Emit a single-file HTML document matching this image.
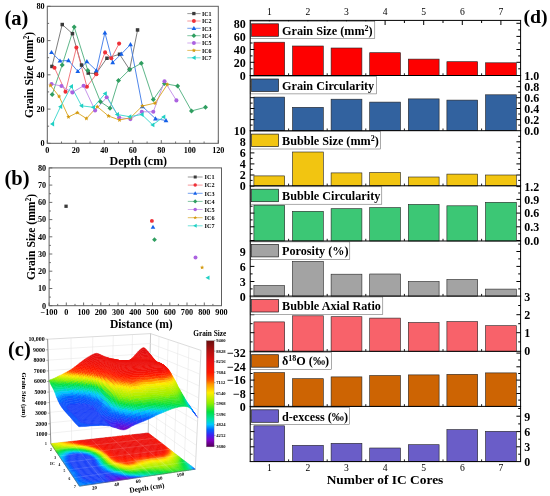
<!DOCTYPE html>
<html><head><meta charset="utf-8"><title>Figure</title>
<style>html,body{margin:0;padding:0;background:#fff}svg{display:block}text{font-family:"Liberation Serif",serif;fill:#000}</style>
</head><body>
<svg width="550" height="496" viewBox="0 0 550 496">
<rect width="550" height="496" fill="#fff"/>
<g id="pa"><rect x="47.3" y="6.3" width="171.0" height="137.0" fill="#fff" stroke="#5e5e5e" stroke-width="1"/>
<path d="M47.3 143.3v-3.2M61.5 143.3v-1.8M75.8 143.3v-3.2M90.0 143.3v-1.8M104.3 143.3v-3.2M118.5 143.3v-1.8M132.8 143.3v-3.2M147.1 143.3v-1.8M161.3 143.3v-3.2M175.6 143.3v-1.8M189.8 143.3v-3.2M204.1 143.3v-1.8M218.3 143.3v-3.2M47.3 143.3h3.2M47.3 126.2h1.8M47.3 109.1h3.2M47.3 91.9h1.8M47.3 74.8h3.2M47.3 57.7h1.8M47.3 40.6h3.2M47.3 23.4h1.8M47.3 6.3h3.2" stroke="#5e5e5e" stroke-width="0.9"/>
<text x="47.3" y="152.7" font-size="8.2" font-weight="bold" text-anchor="middle">0</text>
<text x="75.8" y="152.7" font-size="8.2" font-weight="bold" text-anchor="middle">20</text>
<text x="104.3" y="152.7" font-size="8.2" font-weight="bold" text-anchor="middle">40</text>
<text x="132.8" y="152.7" font-size="8.2" font-weight="bold" text-anchor="middle">60</text>
<text x="161.3" y="152.7" font-size="8.2" font-weight="bold" text-anchor="middle">80</text>
<text x="189.8" y="152.7" font-size="8.2" font-weight="bold" text-anchor="middle">100</text>
<text x="218.3" y="152.7" font-size="8.2" font-weight="bold" text-anchor="middle">120</text>
<text x="44.6" y="146.1" font-size="8.2" font-weight="bold" text-anchor="end">0</text>
<text x="44.6" y="111.9" font-size="8.2" font-weight="bold" text-anchor="end">20</text>
<text x="44.6" y="77.6" font-size="8.2" font-weight="bold" text-anchor="end">40</text>
<text x="44.6" y="43.4" font-size="8.2" font-weight="bold" text-anchor="end">60</text>
<text x="44.6" y="9.1" font-size="8.2" font-weight="bold" text-anchor="end">80</text>
<text x="138.3" y="165.2" font-size="12" font-weight="bold" text-anchor="middle">Depth (cm)</text>
<text transform="translate(33,75) rotate(-90)" font-size="11.6" font-weight="bold" text-anchor="middle">Grain Size (mm<tspan dy="-4" font-size="7.5">2</tspan><tspan dy="4">)</tspan></text>
<text x="4.5" y="25" font-size="20.5" font-weight="bold">(a)</text>
<polyline points="52,66.4 62.2,24.5 72.4,33.6 81.5,65.1 88.2,73.1 96.0,73.6 106.9,58.2 119.5,54.2 129.6,69.6 137.6,30" fill="none" stroke="#6e6e6e" stroke-width="0.9"/>
<polyline points="54.5,67.8 65.5,91.8 76.4,47.6 86.9,86.7 96.4,74.2 105.1,52.4 111.3,58.2 119.1,43.6" fill="none" stroke="#f06a70" stroke-width="0.9"/>
<polyline points="51.5,52.4 60,60.9 68.5,60.5 77.8,71.3 86.9,61.5 96.4,70.5 104.9,32.7 112.7,62.4 121.3,54 130.5,44.5 142.4,106.4 155.5,118.7 166,120.5" fill="none" stroke="#3b78e8" stroke-width="0.9"/>
<polyline points="52.2,94.5 62.2,64.9 74.2,26.9 87.8,70.4 100.5,101.8 110,108.2 118.5,80.5 129.6,69.6 141.3,63.3 153.3,99.6 164.5,83.6 177.6,86 191.5,110.9 205.5,107.3" fill="none" stroke="#4cae7c" stroke-width="0.9"/>
<polyline points="51.5,84 61.5,86 72.4,92.4 83.6,85.8 95.1,110.5 106.7,97.3 119.1,117.6 130.4,119.1 141.8,111.8 153.3,111.8 164.5,81.3 176.4,100.4" fill="none" stroke="#c08ae8" stroke-width="0.9"/>
<polyline points="50.5,85.5 59.1,96.4 68.5,116.9 77.3,112.7 86.4,118.5 97.3,106.7 108.5,116 119.5,120 130.4,117.8 142.4,106 155.1,103.1 167.3,84.5" fill="none" stroke="#d9a520" stroke-width="0.9"/>
<polyline points="52.4,124 60.5,106.7 71.3,86.4 81.5,105.8 93.3,107.3 105.1,93.6 117.3,114.5 129.6,116.7 141.8,114.5 152.7,124.9 163.6,116.9" fill="none" stroke="#35d6cc" stroke-width="0.9"/>
<rect x="50.2" y="64.7" width="3.5" height="3.5" fill="#3a3a3a"/>
<rect x="60.5" y="22.8" width="3.5" height="3.5" fill="#3a3a3a"/>
<rect x="70.7" y="31.9" width="3.5" height="3.5" fill="#3a3a3a"/>
<rect x="79.8" y="63.3" width="3.5" height="3.5" fill="#3a3a3a"/>
<rect x="86.5" y="71.3" width="3.5" height="3.5" fill="#3a3a3a"/>
<rect x="94.2" y="71.8" width="3.5" height="3.5" fill="#3a3a3a"/>
<rect x="105.2" y="56.5" width="3.5" height="3.5" fill="#3a3a3a"/>
<rect x="117.8" y="52.5" width="3.5" height="3.5" fill="#3a3a3a"/>
<rect x="127.8" y="67.8" width="3.5" height="3.5" fill="#3a3a3a"/>
<rect x="135.8" y="28.2" width="3.5" height="3.5" fill="#3a3a3a"/>
<circle cx="54.5" cy="67.8" r="2.05" fill="#ef3038"/>
<circle cx="65.5" cy="91.8" r="2.05" fill="#ef3038"/>
<circle cx="76.4" cy="47.6" r="2.05" fill="#ef3038"/>
<circle cx="86.9" cy="86.7" r="2.05" fill="#ef3038"/>
<circle cx="96.4" cy="74.2" r="2.05" fill="#ef3038"/>
<circle cx="105.1" cy="52.4" r="2.05" fill="#ef3038"/>
<circle cx="111.3" cy="58.2" r="2.05" fill="#ef3038"/>
<circle cx="119.1" cy="43.6" r="2.05" fill="#ef3038"/>
<path d="M51.5 50.0L53.9 54.1L49.1 54.1Z" fill="#1560e8"/>
<path d="M60.0 58.5L62.4 62.6L57.6 62.6Z" fill="#1560e8"/>
<path d="M68.5 58.1L70.9 62.2L66.1 62.2Z" fill="#1560e8"/>
<path d="M77.8 68.9L80.2 73.0L75.4 73.0Z" fill="#1560e8"/>
<path d="M86.9 59.1L89.3 63.2L84.5 63.2Z" fill="#1560e8"/>
<path d="M96.4 68.1L98.8 72.2L94.0 72.2Z" fill="#1560e8"/>
<path d="M104.9 30.3L107.3 34.5L102.5 34.5Z" fill="#1560e8"/>
<path d="M112.7 60.0L115.1 64.2L110.3 64.2Z" fill="#1560e8"/>
<path d="M121.3 51.6L123.7 55.8L118.9 55.8Z" fill="#1560e8"/>
<path d="M130.5 42.1L132.9 46.2L128.1 46.2Z" fill="#1560e8"/>
<path d="M142.4 104.0L144.8 108.2L140.0 108.2Z" fill="#1560e8"/>
<path d="M155.5 116.3L157.9 120.5L153.1 120.5Z" fill="#1560e8"/>
<path d="M166.0 118.1L168.4 122.2L163.6 122.2Z" fill="#1560e8"/>
<path d="M52.2 92.0L54.7 94.5L52.2 97.0L49.7 94.5Z" fill="#2f9e60"/>
<path d="M62.2 62.4L64.7 64.9L62.2 67.4L59.7 64.9Z" fill="#2f9e60"/>
<path d="M74.2 24.4L76.7 26.9L74.2 29.4L71.7 26.9Z" fill="#2f9e60"/>
<path d="M87.8 67.9L90.3 70.4L87.8 72.9L85.3 70.4Z" fill="#2f9e60"/>
<path d="M100.5 99.3L103.0 101.8L100.5 104.3L98.0 101.8Z" fill="#2f9e60"/>
<path d="M110.0 105.7L112.5 108.2L110.0 110.7L107.5 108.2Z" fill="#2f9e60"/>
<path d="M118.5 78.0L121.0 80.5L118.5 83.0L116.0 80.5Z" fill="#2f9e60"/>
<path d="M129.6 67.1L132.1 69.6L129.6 72.1L127.1 69.6Z" fill="#2f9e60"/>
<path d="M141.3 60.8L143.8 63.3L141.3 65.8L138.8 63.3Z" fill="#2f9e60"/>
<path d="M153.3 97.1L155.8 99.6L153.3 102.1L150.8 99.6Z" fill="#2f9e60"/>
<path d="M164.5 81.1L167.0 83.6L164.5 86.1L162.0 83.6Z" fill="#2f9e60"/>
<path d="M177.6 83.5L180.1 86.0L177.6 88.5L175.1 86.0Z" fill="#2f9e60"/>
<path d="M191.5 108.4L194.0 110.9L191.5 113.4L189.0 110.9Z" fill="#2f9e60"/>
<path d="M205.5 104.8L208.0 107.3L205.5 109.8L203.0 107.3Z" fill="#2f9e60"/>
<circle cx="51.5" cy="84.0" r="2.05" fill="#ab62e0"/>
<circle cx="61.5" cy="86.0" r="2.05" fill="#ab62e0"/>
<circle cx="72.4" cy="92.4" r="2.05" fill="#ab62e0"/>
<circle cx="83.6" cy="85.8" r="2.05" fill="#ab62e0"/>
<circle cx="95.1" cy="110.5" r="2.05" fill="#ab62e0"/>
<circle cx="106.7" cy="97.3" r="2.05" fill="#ab62e0"/>
<circle cx="119.1" cy="117.6" r="2.05" fill="#ab62e0"/>
<circle cx="130.4" cy="119.1" r="2.05" fill="#ab62e0"/>
<circle cx="141.8" cy="111.8" r="2.05" fill="#ab62e0"/>
<circle cx="153.3" cy="111.8" r="2.05" fill="#ab62e0"/>
<circle cx="164.5" cy="81.3" r="2.05" fill="#ab62e0"/>
<circle cx="176.4" cy="100.4" r="2.05" fill="#ab62e0"/>
<path d="M50.5 83.2L51.1 84.6L52.7 84.8L51.5 85.8L51.9 87.4L50.5 86.6L49.1 87.4L49.5 85.8L48.3 84.8L49.9 84.6Z" fill="#d49a10"/>
<path d="M59.1 94.1L59.7 95.5L61.3 95.7L60.1 96.7L60.5 98.3L59.1 97.5L57.7 98.3L58.1 96.7L56.9 95.7L58.5 95.5Z" fill="#d49a10"/>
<path d="M68.5 114.6L69.1 116.0L70.7 116.2L69.5 117.2L69.9 118.8L68.5 118.0L67.1 118.8L67.5 117.2L66.3 116.2L67.9 116.0Z" fill="#d49a10"/>
<path d="M77.3 110.4L77.9 111.8L79.5 112.0L78.3 113.0L78.7 114.6L77.3 113.8L75.9 114.6L76.3 113.0L75.1 112.0L76.7 111.8Z" fill="#d49a10"/>
<path d="M86.4 116.2L87.0 117.6L88.6 117.8L87.4 118.8L87.8 120.4L86.4 119.6L85.0 120.4L85.4 118.8L84.2 117.8L85.8 117.6Z" fill="#d49a10"/>
<path d="M97.3 104.4L97.9 105.8L99.5 106.0L98.3 107.0L98.7 108.6L97.3 107.8L95.9 108.6L96.3 107.0L95.1 106.0L96.7 105.8Z" fill="#d49a10"/>
<path d="M108.5 113.7L109.1 115.1L110.7 115.3L109.5 116.3L109.9 117.9L108.5 117.1L107.1 117.9L107.5 116.3L106.3 115.3L107.9 115.1Z" fill="#d49a10"/>
<path d="M119.5 117.7L120.1 119.1L121.7 119.3L120.5 120.3L120.9 121.9L119.5 121.1L118.1 121.9L118.5 120.3L117.3 119.3L118.9 119.1Z" fill="#d49a10"/>
<path d="M130.4 115.5L131.0 116.9L132.6 117.1L131.4 118.1L131.8 119.7L130.4 118.9L129.0 119.7L129.4 118.1L128.2 117.1L129.8 116.9Z" fill="#d49a10"/>
<path d="M142.4 103.7L143.0 105.1L144.6 105.3L143.4 106.3L143.8 107.9L142.4 107.1L141.0 107.9L141.4 106.3L140.2 105.3L141.8 105.1Z" fill="#d49a10"/>
<path d="M155.1 100.8L155.7 102.2L157.3 102.4L156.1 103.4L156.5 105.0L155.1 104.2L153.7 105.0L154.1 103.4L152.9 102.4L154.5 102.2Z" fill="#d49a10"/>
<path d="M167.3 82.2L167.9 83.6L169.5 83.8L168.3 84.8L168.7 86.4L167.3 85.6L165.9 86.4L166.3 84.8L165.1 83.8L166.7 83.6Z" fill="#d49a10"/>
<path d="M50.0 124.0L54.1 121.6L54.1 126.4Z" fill="#1fd0c4"/>
<path d="M58.1 106.7L62.2 104.3L62.2 109.1Z" fill="#1fd0c4"/>
<path d="M68.9 86.4L73.0 84.0L73.0 88.8Z" fill="#1fd0c4"/>
<path d="M79.1 105.8L83.2 103.4L83.2 108.2Z" fill="#1fd0c4"/>
<path d="M90.9 107.3L95.0 104.9L95.0 109.7Z" fill="#1fd0c4"/>
<path d="M102.7 93.6L106.8 91.2L106.8 96.0Z" fill="#1fd0c4"/>
<path d="M114.9 114.5L119.0 112.1L119.0 116.9Z" fill="#1fd0c4"/>
<path d="M127.2 116.7L131.3 114.3L131.3 119.1Z" fill="#1fd0c4"/>
<path d="M139.4 114.5L143.6 112.1L143.6 116.9Z" fill="#1fd0c4"/>
<path d="M150.3 124.9L154.4 122.5L154.4 127.3Z" fill="#1fd0c4"/>
<path d="M161.2 116.9L165.3 114.5L165.3 119.3Z" fill="#1fd0c4"/>
<path d="M187.3 13.6H200.6" stroke="#6e6e6e" stroke-width="0.7"/>
<rect x="192.2" y="11.9" width="3.3" height="3.3" fill="#3a3a3a"/>
<text x="201.9" y="15.8" font-size="6" font-weight="bold">IC1</text>
<path d="M187.3 21.0H200.6" stroke="#f06a70" stroke-width="0.7"/>
<circle cx="193.9" cy="21.0" r="1.95" fill="#ef3038"/>
<text x="201.9" y="23.2" font-size="6" font-weight="bold">IC2</text>
<path d="M187.3 28.3H200.6" stroke="#3b78e8" stroke-width="0.7"/>
<path d="M193.9 26.1L196.2 30.0L191.6 30.0Z" fill="#1560e8"/>
<text x="201.9" y="30.5" font-size="6" font-weight="bold">IC3</text>
<path d="M187.3 35.7H200.6" stroke="#4cae7c" stroke-width="0.7"/>
<path d="M193.9 33.3L196.3 35.7L193.9 38.1L191.5 35.7Z" fill="#2f9e60"/>
<text x="201.9" y="37.9" font-size="6" font-weight="bold">IC4</text>
<path d="M187.3 43.0H200.6" stroke="#c08ae8" stroke-width="0.7"/>
<circle cx="193.9" cy="43.0" r="1.95" fill="#ab62e0"/>
<text x="201.9" y="45.2" font-size="6" font-weight="bold">IC5</text>
<path d="M187.3 50.4H200.6" stroke="#d9a520" stroke-width="0.7"/>
<path d="M193.9 48.2L194.5 49.6L196.0 49.7L194.9 50.7L195.2 52.2L193.9 51.4L192.6 52.2L192.9 50.7L191.8 49.7L193.3 49.6Z" fill="#d49a10"/>
<text x="201.9" y="52.6" font-size="6" font-weight="bold">IC6</text>
<path d="M187.3 57.8H200.6" stroke="#35d6cc" stroke-width="0.7"/>
<path d="M191.6 57.8L195.6 55.5L195.6 60.0Z" fill="#1fd0c4"/>
<text x="201.9" y="60.0" font-size="6" font-weight="bold">IC7</text></g>
<g id="pb"><rect x="49.1" y="167.9" width="172.4" height="137.8" fill="#fff" stroke="#5e5e5e" stroke-width="1"/>
<path d="M49.1 305.7v-3.2M57.7 305.7v-1.8M66.3 305.7v-3.2M75.0 305.7v-1.8M83.6 305.7v-3.2M92.2 305.7v-1.8M100.8 305.7v-3.2M109.4 305.7v-1.8M118.1 305.7v-3.2M126.7 305.7v-1.8M135.3 305.7v-3.2M143.9 305.7v-1.8M152.5 305.7v-3.2M161.2 305.7v-1.8M169.8 305.7v-3.2M178.4 305.7v-1.8M187.0 305.7v-3.2M195.6 305.7v-1.8M204.3 305.7v-3.2M212.9 305.7v-1.8M221.5 305.7v-3.2M49.1 305.7h3.2M49.1 297.1h1.8M49.1 288.5h3.2M49.1 279.9h1.8M49.1 271.2h3.2M49.1 262.6h1.8M49.1 254.0h3.2M49.1 245.4h1.8M49.1 236.8h3.2M49.1 228.2h1.8M49.1 219.6h3.2M49.1 211.0h1.8M49.1 202.4h3.2M49.1 193.7h1.8M49.1 185.1h3.2M49.1 176.5h1.8M49.1 167.9h3.2" stroke="#5e5e5e" stroke-width="0.9"/>
<text x="49.1" y="315.3" font-size="8.2" font-weight="bold" text-anchor="middle">−100</text>
<text x="66.3" y="315.3" font-size="8.2" font-weight="bold" text-anchor="middle">0</text>
<text x="83.6" y="315.3" font-size="8.2" font-weight="bold" text-anchor="middle">100</text>
<text x="100.8" y="315.3" font-size="8.2" font-weight="bold" text-anchor="middle">200</text>
<text x="118.1" y="315.3" font-size="8.2" font-weight="bold" text-anchor="middle">300</text>
<text x="135.3" y="315.3" font-size="8.2" font-weight="bold" text-anchor="middle">400</text>
<text x="152.5" y="315.3" font-size="8.2" font-weight="bold" text-anchor="middle">500</text>
<text x="169.8" y="315.3" font-size="8.2" font-weight="bold" text-anchor="middle">600</text>
<text x="187.0" y="315.3" font-size="8.2" font-weight="bold" text-anchor="middle">700</text>
<text x="204.3" y="315.3" font-size="8.2" font-weight="bold" text-anchor="middle">800</text>
<text x="221.5" y="315.3" font-size="8.2" font-weight="bold" text-anchor="middle">900</text>
<text x="46.2" y="308.5" font-size="8.2" font-weight="bold" text-anchor="end">0</text>
<text x="46.2" y="291.3" font-size="8.2" font-weight="bold" text-anchor="end">10</text>
<text x="46.2" y="274.1" font-size="8.2" font-weight="bold" text-anchor="end">20</text>
<text x="46.2" y="256.8" font-size="8.2" font-weight="bold" text-anchor="end">30</text>
<text x="46.2" y="239.6" font-size="8.2" font-weight="bold" text-anchor="end">40</text>
<text x="46.2" y="222.4" font-size="8.2" font-weight="bold" text-anchor="end">50</text>
<text x="46.2" y="205.2" font-size="8.2" font-weight="bold" text-anchor="end">60</text>
<text x="46.2" y="187.9" font-size="8.2" font-weight="bold" text-anchor="end">70</text>
<text x="46.2" y="170.7" font-size="8.2" font-weight="bold" text-anchor="end">80</text>
<text x="141.3" y="327.9" font-size="11.6" font-weight="bold" text-anchor="middle">Distance (m)</text>
<text transform="translate(34.5,237) rotate(-90)" font-size="11.6" font-weight="bold" text-anchor="middle">Grain Size (mm<tspan dy="-4" font-size="7.5">2</tspan><tspan dy="4">)</tspan></text>
<text x="4.5" y="184.5" font-size="20.5" font-weight="bold">(b)</text>
<rect x="64.4" y="204.6" width="3.3" height="3.3" fill="#3a3a3a"/>
<circle cx="151.9" cy="220.9" r="1.95" fill="#ef3038"/>
<path d="M153.0 224.7L155.3 228.7L150.7 228.7Z" fill="#1560e8"/>
<path d="M154.5 237.3L156.9 239.7L154.5 242.1L152.1 239.7Z" fill="#2f9e60"/>
<circle cx="195.5" cy="257.5" r="1.95" fill="#ab62e0"/>
<path d="M202.1 265.3L202.7 266.7L204.2 266.8L203.1 267.8L203.4 269.3L202.1 268.5L200.8 269.3L201.1 267.8L200.0 266.8L201.5 266.7Z" fill="#d49a10"/>
<path d="M205.5 277.8L209.5 275.5L209.5 280.1Z" fill="#1fd0c4"/>
<path d="M187.8 177.0H202.6" stroke="#6e6e6e" stroke-width="0.7"/>
<rect x="193.7" y="175.5" width="3.0" height="3.0" fill="#3a3a3a"/>
<text x="204.6" y="179.3" font-size="6.2" font-weight="bold">IC1</text>
<path d="M187.8 185.1H202.6" stroke="#f06a70" stroke-width="0.7"/>
<circle cx="195.2" cy="185.1" r="1.74" fill="#ef3038"/>
<text x="204.6" y="187.4" font-size="6.2" font-weight="bold">IC2</text>
<path d="M187.8 193.3H202.6" stroke="#3b78e8" stroke-width="0.7"/>
<path d="M195.2 191.2L197.2 194.7L193.2 194.7Z" fill="#1560e8"/>
<text x="204.6" y="195.6" font-size="6.2" font-weight="bold">IC3</text>
<path d="M187.8 201.4H202.6" stroke="#4cae7c" stroke-width="0.7"/>
<path d="M195.2 199.3L197.3 201.4L195.2 203.5L193.1 201.4Z" fill="#2f9e60"/>
<text x="204.6" y="203.7" font-size="6.2" font-weight="bold">IC4</text>
<path d="M187.8 209.5H202.6" stroke="#c08ae8" stroke-width="0.7"/>
<circle cx="195.2" cy="209.5" r="1.74" fill="#ab62e0"/>
<text x="204.6" y="211.8" font-size="6.2" font-weight="bold">IC5</text>
<path d="M187.8 217.7H202.6" stroke="#d9a520" stroke-width="0.7"/>
<path d="M195.2 215.7L195.7 216.9L197.1 217.0L196.1 217.9L196.3 219.2L195.2 218.6L194.1 219.2L194.3 217.9L193.3 217.0L194.7 216.9Z" fill="#d49a10"/>
<text x="204.6" y="220.0" font-size="6.2" font-weight="bold">IC6</text>
<path d="M187.8 225.8H202.6" stroke="#35d6cc" stroke-width="0.7"/>
<path d="M193.2 225.8L196.7 223.8L196.7 227.8Z" fill="#1fd0c4"/>
<text x="204.6" y="228.1" font-size="6.2" font-weight="bold">IC7</text></g>
<g id="pc"><style>.k0{fill:#eb110e;stroke:#eb110e}.k1{fill:#e81010;stroke:#e81010}.k2{fill:#e21010;stroke:#e21010}.k3{fill:#ee120c;stroke:#ee120c}.k4{fill:#f1130a;stroke:#f1130a}.k5{fill:#f41408;stroke:#f41408}.k6{fill:#f61506;stroke:#f61506}.k7{fill:#f91604;stroke:#f91604}.k8{fill:#fc1702;stroke:#fc1702}.k9{fill:#ff1800;stroke:#ff1800}.k10{fill:#ff2c00;stroke:#ff2c00}.k11{fill:#ff3600;stroke:#ff3600}.k12{fill:#ff4000;stroke:#ff4000}.k13{fill:#ff5900;stroke:#ff5900}.k14{fill:#ff8600;stroke:#ff8600}.k15{fill:#ff9b00;stroke:#ff9b00}.k16{fill:#ffb600;stroke:#ffb600}.k17{fill:#ffd000;stroke:#ffd000}.k18{fill:#ffde00;stroke:#ffde00}.k19{fill:#ffeb00;stroke:#ffeb00}.k20{fill:#f4ee00;stroke:#f4ee00}.k21{fill:#e6ee00;stroke:#e6ee00}.k22{fill:#d8ee00;stroke:#d8ee00}.k23{fill:#caee00;stroke:#caee00}.k24{fill:#ff2200;stroke:#ff2200}.k25{fill:#ffa800;stroke:#ffa800}.k26{fill:#bcee00;stroke:#bcee00}.k27{fill:#ff7000;stroke:#ff7000}.k28{fill:#ffc300;stroke:#ffc300}.k29{fill:#ff4a00;stroke:#ff4a00}.k30{fill:#afee00;stroke:#afee00}.k31{fill:#a1ee00;stroke:#a1ee00}.k32{fill:#93ee00;stroke:#93ee00}.k33{fill:#7eec08;stroke:#7eec08}.k34{fill:#67ea12;stroke:#67ea12}.k35{fill:#51e81c;stroke:#51e81c}.k36{fill:#3be626;stroke:#3be626}.k37{fill:#24e430;stroke:#24e430}.k38{fill:#0ee13a;stroke:#0ee13a}.k39{fill:#00e047;stroke:#00e047}.k40{fill:#00e05a;stroke:#00e05a}.k41{fill:#00e06d;stroke:#00e06d}.k42{fill:#00e07f;stroke:#00e07f}.k43{fill:#00e092;stroke:#00e092}.k44{fill:#00e0a4;stroke:#00e0a4}.k45{fill:#00dbb9;stroke:#00dbb9}.k46{fill:#00d5cf;stroke:#00d5cf}.k47{fill:#00cfe5;stroke:#00cfe5}.k48{fill:#00c9fb;stroke:#00c9fb}.k49{fill:#00b3ff;stroke:#00b3ff}.k50{fill:#0099ff;stroke:#0099ff}.k51{fill:#007fff;stroke:#007fff}.k52{fill:#0065ff;stroke:#0065ff}.k53{fill:#0d53fc;stroke:#0d53fc}.k54{fill:#1d43f8;stroke:#1d43f8}.k55{fill:#2d33f4;stroke:#2d33f4}.k56{fill:#3d23f1;stroke:#3d23f1}.k57{fill:#4d1ae6;stroke:#4d1ae6}.k58{fill:#5d12da;stroke:#5d12da}.k59{fill:#6d0ace;stroke:#6d0ace}</style>
<path d="M50.8 443.7L148.2 433.0L150.6 333.6L47.6 339.2Z M148.2 433.0L195.3 469.2L201.0 350.4L150.6 333.6Z" fill="#fff" stroke="#b8b8b8" stroke-width="0.5"/>
<path d="M50.5 433.2L148.4 423.1L195.9 457.3M50.2 422.8L148.7 413.1L196.4 445.4M49.8 412.3L148.9 403.2L197.0 433.6M49.5 401.9L149.2 393.2L197.6 421.7M49.2 391.4L149.4 383.3L198.2 409.8M48.9 381.0L149.6 373.4L198.7 397.9M48.6 370.6L149.9 363.4L199.3 386.0M48.2 360.1L150.1 353.5L199.9 374.2M47.9 349.6L150.4 343.5L200.4 362.3M71.6 441.4L71.0 337.9M91.6 439.2L92.8 336.7M111.1 437.1L113.3 335.6M129.9 435.0L132.5 334.6M156.2 439.2L159.0 336.4M164.9 445.8L168.2 339.5M174.2 453.0L178.1 342.8M184.3 460.8L189.0 346.4" fill="none" stroke="#e2e2e2" stroke-width="0.5"/>
<g stroke-width="0.45" stroke-linejoin="round">
<path class="k0" d="M146.8 433.2L148.2 433L149.1 433.7L147.7 433.8Z"/>
<path class="k1" d="M145.4 433.3L146.8 433.2L147.7 433.8L146.3 434Z"/>
<path class="k2" d="M135.4 434.4L136.9 434.2L138.3 434.1L139.7 433.9L141.1 433.8L142.6 433.6L144 433.5L145.4 433.3L146.3 434L144.8 434.1L143.4 434.3L142 434.5L140.6 434.6L139.1 434.8L137.7 434.9L136.3 435.1Z"/>
<path class="k1" d="M134 434.6L135.4 434.4L136.3 435.1L134.8 435.3Z"/>
<path class="k0" d="M132.5 434.7L134 434.6L134.8 435.3L133.4 435.4Z"/>
<path class="k3" d="M129.6 435L131.1 434.9L132.5 434.7L133.4 435.4L131.9 435.6L130.5 435.7Z"/>
<path class="k4" d="M128.2 435.2L129.6 435L130.5 435.7L129 435.9Z"/>
<path class="k5" d="M126.7 435.4L128.2 435.2L129 435.9L127.6 436.1Z"/>
<path class="k6" d="M125.3 435.5L126.7 435.4L127.6 436.1L126.1 436.2Z"/>
<path class="k7" d="M122.4 435.8L123.8 435.7L125.3 435.5L126.1 436.2L124.6 436.4L123.2 436.5Z"/>
<path class="k6" d="M119.4 436.2L120.9 436L122.4 435.8L123.2 436.5L121.7 436.7L120.2 436.9Z"/>
<path class="k5" d="M117.9 436.3L119.4 436.2L120.2 436.9L118.7 437Z"/>
<path class="k4" d="M112 437L113.5 436.8L115 436.7L116.5 436.5L117.9 436.3L118.7 437L117.2 437.2L115.7 437.4L114.3 437.5L112.8 437.7Z"/>
<path class="k3" d="M106 437.6L107.5 437.5L109 437.3L110.5 437.1L112 437L112.8 437.7L111.3 437.9L109.7 438L108.2 438.2L106.7 438.4Z"/>
<path class="k0" d="M101.5 438.1L103 438L104.5 437.8L106 437.6L106.7 438.4L105.2 438.5L103.7 438.7L102.2 438.9Z"/>
<path class="k1" d="M98.4 438.5L99.9 438.3L101.5 438.1L102.2 438.9L100.6 439L99.1 439.2Z"/>
<path class="k2" d="M90.7 439.3L92.3 439.1L93.8 439L95.3 438.8L96.9 438.6L98.4 438.5L99.1 439.2L97.6 439.4L96 439.5L94.5 439.7L93 439.9L91.4 440.1Z"/>
<path class="k1" d="M87.6 439.7L89.2 439.5L90.7 439.3L91.4 440.1L89.8 440.2L88.3 440.4Z"/>
<path class="k0" d="M84.5 440L86.1 439.8L87.6 439.7L88.3 440.4L86.7 440.6L85.2 440.7Z"/>
<path class="k3" d="M82.9 440.2L84.5 440L85.2 440.7L83.6 440.9Z"/>
<path class="k4" d="M79.8 440.5L81.4 440.3L82.9 440.2L83.6 440.9L82 441.1L80.4 441.3Z"/>
<path class="k5" d="M78.2 440.7L79.8 440.5L80.4 441.3L78.9 441.4Z"/>
<path class="k7" d="M76.6 440.9L78.2 440.7L78.9 441.4L77.3 441.6Z"/>
<path class="k8" d="M75.1 441L76.6 440.9L77.3 441.6L75.7 441.8Z"/>
<path class="k9" d="M73.5 441.2L75.1 441L75.7 441.8L74.1 442Z"/>
<path class="k10" d="M71.9 441.4L73.5 441.2L74.1 442L72.5 442.1Z"/>
<path class="k11" d="M70.3 441.6L71.9 441.4L72.5 442.1L70.9 442.3Z"/>
<path class="k12" d="M68.7 441.7L70.3 441.6L70.9 442.3L69.3 442.5Z"/>
<path class="k13" d="M67.1 441.9L68.7 441.7L69.3 442.5L67.7 442.7Z"/>
<path class="k14" d="M65.5 442.1L67.1 441.9L67.7 442.7L66.1 442.9Z"/>
<path class="k15" d="M63.9 442.3L65.5 442.1L66.1 442.9L64.4 443Z"/>
<path class="k16" d="M62.2 442.4L63.9 442.3L64.4 443L62.8 443.2Z"/>
<path class="k17" d="M60.6 442.6L62.2 442.4L62.8 443.2L61.2 443.4Z"/>
<path class="k18" d="M59 442.8L60.6 442.6L61.2 443.4L59.6 443.6Z"/>
<path class="k19" d="M57.4 443L59 442.8L59.6 443.6L57.9 443.8Z"/>
<path class="k20" d="M54.1 443.3L55.7 443.2L57.4 443L57.9 443.8L56.3 443.9L54.6 444.1Z"/>
<path class="k21" d="M52.4 443.5L54.1 443.3L54.6 444.1L53 444.3Z"/>
<path class="k22" d="M50.8 443.7L52.4 443.5L53 444.3L51.3 444.5Z"/>
<path class="k0" d="M147.7 433.8L149.1 433.7L150 434.4L148.6 434.5Z"/>
<path class="k1" d="M144.8 434.1L146.3 434L147.7 433.8L148.6 434.5L147.1 434.7L145.7 434.8Z"/>
<path class="k2" d="M136.3 435.1L137.7 434.9L139.1 434.8L140.6 434.6L142 434.5L143.4 434.3L144.8 434.1L145.7 434.8L144.3 435L142.9 435.2L141.4 435.3L140 435.5L138.6 435.6L137.1 435.8Z"/>
<path class="k1" d="M134.8 435.3L136.3 435.1L137.1 435.8L135.7 436Z"/>
<path class="k0" d="M133.4 435.4L134.8 435.3L135.7 436L134.2 436.1Z"/>
<path class="k3" d="M130.5 435.7L131.9 435.6L133.4 435.4L134.2 436.1L132.8 436.3L131.3 436.4Z"/>
<path class="k4" d="M127.6 436.1L129 435.9L130.5 435.7L131.3 436.4L129.8 436.6L128.4 436.8Z"/>
<path class="k5" d="M126.1 436.2L127.6 436.1L128.4 436.8L126.9 436.9Z"/>
<path class="k6" d="M121.7 436.7L123.2 436.5L124.6 436.4L126.1 436.2L126.9 436.9L125.4 437.1L124 437.3L122.5 437.4Z"/>
<path class="k5" d="M118.7 437L120.2 436.9L121.7 436.7L122.5 437.4L121 437.6L119.5 437.8Z"/>
<path class="k4" d="M112.8 437.7L114.3 437.5L115.7 437.4L117.2 437.2L118.7 437L119.5 437.8L118 437.9L116.5 438.1L115 438.3L113.5 438.4Z"/>
<path class="k3" d="M106.7 438.4L108.2 438.2L109.7 438L111.3 437.9L112.8 437.7L113.5 438.4L112 438.6L110.5 438.8L109 438.9L107.5 439.1Z"/>
<path class="k0" d="M100.6 439L102.2 438.9L103.7 438.7L105.2 438.5L106.7 438.4L107.5 439.1L106 439.3L104.4 439.4L102.9 439.6L101.4 439.8Z"/>
<path class="k1" d="M89.8 440.2L91.4 440.1L93 439.9L94.5 439.7L96 439.5L97.6 439.4L99.1 439.2L100.6 439L101.4 439.8L99.8 439.9L98.3 440.1L96.7 440.3L95.2 440.5L93.6 440.6L92.1 440.8L90.5 441Z"/>
<path class="k0" d="M86.7 440.6L88.3 440.4L89.8 440.2L90.5 441L89 441.1L87.4 441.3Z"/>
<path class="k3" d="M83.6 440.9L85.2 440.7L86.7 440.6L87.4 441.3L85.8 441.5L84.3 441.7Z"/>
<path class="k4" d="M82 441.1L83.6 440.9L84.3 441.7L82.7 441.8Z"/>
<path class="k5" d="M80.4 441.3L82 441.1L82.7 441.8L81.1 442Z"/>
<path class="k6" d="M78.9 441.4L80.4 441.3L81.1 442L79.5 442.2Z"/>
<path class="k8" d="M77.3 441.6L78.9 441.4L79.5 442.2L77.9 442.4Z"/>
<path class="k9" d="M75.7 441.8L77.3 441.6L77.9 442.4L76.3 442.6Z"/>
<path class="k10" d="M74.1 442L75.7 441.8L76.3 442.6L74.7 442.7Z"/>
<path class="k11" d="M72.5 442.1L74.1 442L74.7 442.7L73.1 442.9Z"/>
<path class="k12" d="M70.9 442.3L72.5 442.1L73.1 442.9L71.5 443.1Z"/>
<path class="k13" d="M69.3 442.5L70.9 442.3L71.5 443.1L69.9 443.3Z"/>
<path class="k14" d="M67.7 442.7L69.3 442.5L69.9 443.3L68.3 443.4Z"/>
<path class="k15" d="M66.1 442.9L67.7 442.7L68.3 443.4L66.6 443.6Z"/>
<path class="k16" d="M64.4 443L66.1 442.9L66.6 443.6L65 443.8Z"/>
<path class="k17" d="M62.8 443.2L64.4 443L65 443.8L63.4 444Z"/>
<path class="k18" d="M61.2 443.4L62.8 443.2L63.4 444L61.8 444.2Z"/>
<path class="k19" d="M59.6 443.6L61.2 443.4L61.8 444.2L60.1 444.4Z"/>
<path class="k20" d="M57.9 443.8L59.6 443.6L60.1 444.4L58.5 444.5Z"/>
<path class="k21" d="M54.6 444.1L56.3 443.9L57.9 443.8L58.5 444.5L56.8 444.7L55.2 444.9Z"/>
<path class="k22" d="M53 444.3L54.6 444.1L55.2 444.9L53.5 445.1Z"/>
<path class="k23" d="M51.3 444.5L53 444.3L53.5 445.1L51.9 445.3Z"/>
<path class="k3" d="M148.6 434.5L150 434.4L150.9 435.1L149.5 435.2Z"/>
<path class="k0" d="M147.1 434.7L148.6 434.5L149.5 435.2L148 435.4Z"/>
<path class="k1" d="M144.3 435L145.7 434.8L147.1 434.7L148 435.4L146.6 435.5L145.2 435.7Z"/>
<path class="k2" d="M138.6 435.6L140 435.5L141.4 435.3L142.9 435.2L144.3 435L145.2 435.7L143.7 435.9L142.3 436L140.9 436.2L139.4 436.3Z"/>
<path class="k1" d="M135.7 436L137.1 435.8L138.6 435.6L139.4 436.3L138 436.5L136.5 436.7Z"/>
<path class="k0" d="M132.8 436.3L134.2 436.1L135.7 436L136.5 436.7L135.1 436.8L133.6 437Z"/>
<path class="k3" d="M131.3 436.4L132.8 436.3L133.6 437L132.1 437.2Z"/>
<path class="k4" d="M125.4 437.1L126.9 436.9L128.4 436.8L129.8 436.6L131.3 436.4L132.1 437.2L130.7 437.3L129.2 437.5L127.7 437.6L126.2 437.8Z"/>
<path class="k5" d="M122.5 437.4L124 437.3L125.4 437.1L126.2 437.8L124.8 438L123.3 438.1Z"/>
<path class="k4" d="M113.5 438.4L115 438.3L116.5 438.1L118 437.9L119.5 437.8L121 437.6L122.5 437.4L123.3 438.1L121.8 438.3L120.3 438.5L118.8 438.6L117.3 438.8L115.8 439L114.3 439.1Z"/>
<path class="k3" d="M106 439.3L107.5 439.1L109 438.9L110.5 438.8L112 438.6L113.5 438.4L114.3 439.1L112.8 439.3L111.3 439.5L109.7 439.7L108.2 439.8L106.7 440Z"/>
<path class="k0" d="M99.8 439.9L101.4 439.8L102.9 439.6L104.4 439.4L106 439.3L106.7 440L105.2 440.2L103.6 440.3L102.1 440.5L100.6 440.7Z"/>
<path class="k1" d="M93.6 440.6L95.2 440.5L96.7 440.3L98.3 440.1L99.8 439.9L100.6 440.7L99 440.9L97.5 441L95.9 441.2L94.3 441.4Z"/>
<path class="k0" d="M89 441.1L90.5 441L92.1 440.8L93.6 440.6L94.3 441.4L92.8 441.6L91.2 441.7L89.6 441.9Z"/>
<path class="k3" d="M85.8 441.5L87.4 441.3L89 441.1L89.6 441.9L88.1 442.1L86.5 442.3Z"/>
<path class="k4" d="M84.3 441.7L85.8 441.5L86.5 442.3L84.9 442.4Z"/>
<path class="k5" d="M82.7 441.8L84.3 441.7L84.9 442.4L83.3 442.6Z"/>
<path class="k6" d="M81.1 442L82.7 441.8L83.3 442.6L81.7 442.8Z"/>
<path class="k8" d="M79.5 442.2L81.1 442L81.7 442.8L80.1 443Z"/>
<path class="k9" d="M77.9 442.4L79.5 442.2L80.1 443L78.5 443.1Z"/>
<path class="k24" d="M76.3 442.6L77.9 442.4L78.5 443.1L76.9 443.3Z"/>
<path class="k11" d="M74.7 442.7L76.3 442.6L76.9 443.3L75.3 443.5Z"/>
<path class="k12" d="M73.1 442.9L74.7 442.7L75.3 443.5L73.7 443.7Z"/>
<path class="k13" d="M71.5 443.1L73.1 442.9L73.7 443.7L72.1 443.9Z"/>
<path class="k14" d="M69.9 443.3L71.5 443.1L72.1 443.9L70.5 444Z"/>
<path class="k25" d="M68.3 443.4L69.9 443.3L70.5 444L68.9 444.2Z"/>
<path class="k16" d="M66.6 443.6L68.3 443.4L68.9 444.2L67.2 444.4Z"/>
<path class="k17" d="M65 443.8L66.6 443.6L67.2 444.4L65.6 444.6Z"/>
<path class="k18" d="M63.4 444L65 443.8L65.6 444.6L64 444.8Z"/>
<path class="k19" d="M61.8 444.2L63.4 444L64 444.8L62.3 445Z"/>
<path class="k20" d="M60.1 444.4L61.8 444.2L62.3 445L60.7 445.1Z"/>
<path class="k21" d="M56.8 444.7L58.5 444.5L60.1 444.4L60.7 445.1L59 445.3L57.4 445.5Z"/>
<path class="k22" d="M55.2 444.9L56.8 444.7L57.4 445.5L55.7 445.7Z"/>
<path class="k23" d="M53.5 445.1L55.2 444.9L55.7 445.7L54.1 445.9Z"/>
<path class="k26" d="M51.9 445.3L53.5 445.1L54.1 445.9L52.4 446.1Z"/>
<path class="k3" d="M148 435.4L149.5 435.2L150.9 435.1L151.8 435.7L150.4 435.9L148.9 436.1Z"/>
<path class="k0" d="M146.6 435.5L148 435.4L148.9 436.1L147.5 436.2Z"/>
<path class="k1" d="M138 436.5L139.4 436.3L140.9 436.2L142.3 436L143.7 435.9L145.2 435.7L146.6 435.5L147.5 436.2L146.1 436.4L144.6 436.6L143.2 436.7L141.7 436.9L140.3 437L138.8 437.2Z"/>
<path class="k0" d="M133.6 437L135.1 436.8L136.5 436.7L138 436.5L138.8 437.2L137.4 437.4L135.9 437.5L134.4 437.7Z"/>
<path class="k3" d="M130.7 437.3L132.1 437.2L133.6 437L134.4 437.7L133 437.9L131.5 438Z"/>
<path class="k4" d="M115.8 439L117.3 438.8L118.8 438.6L120.3 438.5L121.8 438.3L123.3 438.1L124.8 438L126.2 437.8L127.7 437.6L129.2 437.5L130.7 437.3L131.5 438L130 438.2L128.5 438.4L127.1 438.5L125.6 438.7L124.1 438.9L122.6 439L121.1 439.2L119.6 439.4L118.1 439.5L116.6 439.7Z"/>
<path class="k3" d="M106.7 440L108.2 439.8L109.7 439.7L111.3 439.5L112.8 439.3L114.3 439.1L115.8 439L116.6 439.7L115.1 439.9L113.6 440.1L112 440.2L110.5 440.4L109 440.6L107.4 440.7Z"/>
<path class="k0" d="M91.2 441.7L92.8 441.6L94.3 441.4L95.9 441.2L97.5 441L99 440.9L100.6 440.7L102.1 440.5L103.6 440.3L105.2 440.2L106.7 440L107.4 440.7L105.9 440.9L104.4 441.1L102.8 441.3L101.3 441.4L99.7 441.6L98.2 441.8L96.6 442L95.1 442.1L93.5 442.3L91.9 442.5Z"/>
<path class="k3" d="M88.1 442.1L89.6 441.9L91.2 441.7L91.9 442.5L90.3 442.7L88.8 442.8Z"/>
<path class="k4" d="M86.5 442.3L88.1 442.1L88.8 442.8L87.2 443Z"/>
<path class="k5" d="M84.9 442.4L86.5 442.3L87.2 443L85.6 443.2Z"/>
<path class="k6" d="M83.3 442.6L84.9 442.4L85.6 443.2L84 443.4Z"/>
<path class="k8" d="M81.7 442.8L83.3 442.6L84 443.4L82.4 443.6Z"/>
<path class="k9" d="M80.1 443L81.7 442.8L82.4 443.6L80.8 443.7Z"/>
<path class="k24" d="M78.5 443.1L80.1 443L80.8 443.7L79.2 443.9Z"/>
<path class="k11" d="M76.9 443.3L78.5 443.1L79.2 443.9L77.6 444.1Z"/>
<path class="k12" d="M75.3 443.5L76.9 443.3L77.6 444.1L76 444.3Z"/>
<path class="k27" d="M73.7 443.7L75.3 443.5L76 444.3L74.4 444.5Z"/>
<path class="k15" d="M72.1 443.9L73.7 443.7L74.4 444.5L72.7 444.6Z"/>
<path class="k16" d="M70.5 444L72.1 443.9L72.7 444.6L71.1 444.8Z"/>
<path class="k28" d="M68.9 444.2L70.5 444L71.1 444.8L69.5 445Z"/>
<path class="k17" d="M67.2 444.4L68.9 444.2L69.5 445L67.8 445.2Z"/>
<path class="k18" d="M65.6 444.6L67.2 444.4L67.8 445.2L66.2 445.4Z"/>
<path class="k19" d="M64 444.8L65.6 444.6L66.2 445.4L64.6 445.6Z"/>
<path class="k20" d="M62.3 445L64 444.8L64.6 445.6L62.9 445.8Z"/>
<path class="k21" d="M60.7 445.1L62.3 445L62.9 445.8L61.3 445.9Z"/>
<path class="k22" d="M57.4 445.5L59 445.3L60.7 445.1L61.3 445.9L59.6 446.1L58 446.3Z"/>
<path class="k23" d="M55.7 445.7L57.4 445.5L58 446.3L56.3 446.5Z"/>
<path class="k26" d="M52.4 446.1L54.1 445.9L55.7 445.7L56.3 446.5L54.6 446.7L52.9 446.9Z"/>
<path class="k4" d="M150.4 435.9L151.8 435.7L152.7 436.5L151.3 436.6Z"/>
<path class="k3" d="M148.9 436.1L150.4 435.9L151.3 436.6L149.8 436.8Z"/>
<path class="k0" d="M144.6 436.6L146.1 436.4L147.5 436.2L148.9 436.1L149.8 436.8L148.4 436.9L146.9 437.1L145.5 437.3Z"/>
<path class="k1" d="M140.3 437L141.7 436.9L143.2 436.7L144.6 436.6L145.5 437.3L144.1 437.4L142.6 437.6L141.2 437.8Z"/>
<path class="k0" d="M134.4 437.7L135.9 437.5L137.4 437.4L138.8 437.2L140.3 437L141.2 437.8L139.7 437.9L138.2 438.1L136.8 438.3L135.3 438.4Z"/>
<path class="k3" d="M128.5 438.4L130 438.2L131.5 438L133 437.9L134.4 437.7L135.3 438.4L133.8 438.6L132.3 438.8L130.9 438.9L129.4 439.1Z"/>
<path class="k4" d="M119.6 439.4L121.1 439.2L122.6 439L124.1 438.9L125.6 438.7L127.1 438.5L128.5 438.4L129.4 439.1L127.9 439.3L126.4 439.4L124.9 439.6L123.4 439.8L121.9 439.9L120.4 440.1Z"/>
<path class="k3" d="M107.4 440.7L109 440.6L110.5 440.4L112 440.2L113.6 440.1L115.1 439.9L116.6 439.7L118.1 439.5L119.6 439.4L120.4 440.1L118.9 440.3L117.4 440.5L115.9 440.6L114.3 440.8L112.8 441L111.3 441.1L109.7 441.3L108.2 441.5Z"/>
<path class="k0" d="M95.1 442.1L96.6 442L98.2 441.8L99.7 441.6L101.3 441.4L102.8 441.3L104.4 441.1L105.9 440.9L107.4 440.7L108.2 441.5L106.7 441.7L105.1 441.8L103.6 442L102 442.2L100.5 442.4L98.9 442.5L97.3 442.7L95.8 442.9Z"/>
<path class="k3" d="M90.3 442.7L91.9 442.5L93.5 442.3L95.1 442.1L95.8 442.9L94.2 443.1L92.6 443.3L91 443.4Z"/>
<path class="k4" d="M88.8 442.8L90.3 442.7L91 443.4L89.4 443.6Z"/>
<path class="k5" d="M87.2 443L88.8 442.8L89.4 443.6L87.9 443.8Z"/>
<path class="k6" d="M85.6 443.2L87.2 443L87.9 443.8L86.3 444Z"/>
<path class="k8" d="M84 443.4L85.6 443.2L86.3 444L84.7 444.2Z"/>
<path class="k9" d="M82.4 443.6L84 443.4L84.7 444.2L83.1 444.3Z"/>
<path class="k10" d="M80.8 443.7L82.4 443.6L83.1 444.3L81.5 444.5Z"/>
<path class="k11" d="M79.2 443.9L80.8 443.7L81.5 444.5L79.8 444.7Z"/>
<path class="k29" d="M77.6 444.1L79.2 443.9L79.8 444.7L78.2 444.9Z"/>
<path class="k14" d="M76 444.3L77.6 444.1L78.2 444.9L76.6 445.1Z"/>
<path class="k25" d="M74.4 444.5L76 444.3L76.6 445.1L75 445.3Z"/>
<path class="k28" d="M72.7 444.6L74.4 444.5L75 445.3L73.4 445.4Z"/>
<path class="k17" d="M71.1 444.8L72.7 444.6L73.4 445.4L71.7 445.6Z"/>
<path class="k18" d="M69.5 445L71.1 444.8L71.7 445.6L70.1 445.8Z"/>
<path class="k19" d="M67.8 445.2L69.5 445L70.1 445.8L68.5 446Z"/>
<path class="k20" d="M66.2 445.4L67.8 445.2L68.5 446L66.8 446.2Z"/>
<path class="k21" d="M62.9 445.8L64.6 445.6L66.2 445.4L66.8 446.2L65.2 446.4L63.5 446.6Z"/>
<path class="k22" d="M61.3 445.9L62.9 445.8L63.5 446.6L61.8 446.7Z"/>
<path class="k23" d="M58 446.3L59.6 446.1L61.3 445.9L61.8 446.7L60.2 446.9L58.5 447.1Z"/>
<path class="k26" d="M56.3 446.5L58 446.3L58.5 447.1L56.8 447.3Z"/>
<path class="k30" d="M52.9 446.9L54.6 446.7L56.3 446.5L56.8 447.3L55.2 447.5L53.5 447.7Z"/>
<path class="k4" d="M151.3 436.6L152.7 436.5L153.6 437.2L152.2 437.3Z"/>
<path class="k3" d="M146.9 437.1L148.4 436.9L149.8 436.8L151.3 436.6L152.2 437.3L150.7 437.5L149.3 437.7L147.9 437.8Z"/>
<path class="k0" d="M135.3 438.4L136.8 438.3L138.2 438.1L139.7 437.9L141.2 437.8L142.6 437.6L144.1 437.4L145.5 437.3L146.9 437.1L147.9 437.8L146.4 438L144.9 438.1L143.5 438.3L142 438.5L140.6 438.6L139.1 438.8L137.6 439L136.2 439.1Z"/>
<path class="k3" d="M108.2 441.5L109.7 441.3L111.3 441.1L112.8 441L114.3 440.8L115.9 440.6L117.4 440.5L118.9 440.3L120.4 440.1L121.9 439.9L123.4 439.8L124.9 439.6L126.4 439.4L127.9 439.3L129.4 439.1L130.9 438.9L132.3 438.8L133.8 438.6L135.3 438.4L136.2 439.1L134.7 439.3L133.2 439.5L131.7 439.7L130.2 439.8L128.7 440L127.2 440.2L125.7 440.3L124.2 440.5L122.7 440.7L121.2 440.9L119.7 441L118.2 441.2L116.6 441.4L115.1 441.5L113.6 441.7L112.1 441.9L110.5 442.1L109 442.2Z"/>
<path class="k0" d="M100.5 442.4L102 442.2L103.6 442L105.1 441.8L106.7 441.7L108.2 441.5L109 442.2L107.4 442.4L105.9 442.6L104.3 442.8L102.8 443L101.2 443.1Z"/>
<path class="k3" d="M94.2 443.1L95.8 442.9L97.3 442.7L98.9 442.5L100.5 442.4L101.2 443.1L99.6 443.3L98.1 443.5L96.5 443.7L94.9 443.8Z"/>
<path class="k4" d="M91 443.4L92.6 443.3L94.2 443.1L94.9 443.8L93.3 444L91.7 444.2Z"/>
<path class="k5" d="M89.4 443.6L91 443.4L91.7 444.2L90.1 444.4Z"/>
<path class="k6" d="M87.9 443.8L89.4 443.6L90.1 444.4L88.5 444.6Z"/>
<path class="k8" d="M86.3 444L87.9 443.8L88.5 444.6L86.9 444.8Z"/>
<path class="k9" d="M84.7 444.2L86.3 444L86.9 444.8L85.3 444.9Z"/>
<path class="k10" d="M83.1 444.3L84.7 444.2L85.3 444.9L83.7 445.1Z"/>
<path class="k12" d="M81.5 444.5L83.1 444.3L83.7 445.1L82.1 445.3Z"/>
<path class="k13" d="M79.8 444.7L81.5 444.5L82.1 445.3L80.5 445.5Z"/>
<path class="k15" d="M78.2 444.9L79.8 444.7L80.5 445.5L78.9 445.7Z"/>
<path class="k16" d="M76.6 445.1L78.2 444.9L78.9 445.7L77.3 445.9Z"/>
<path class="k17" d="M75 445.3L76.6 445.1L77.3 445.9L75.6 446Z"/>
<path class="k18" d="M73.4 445.4L75 445.3L75.6 446L74 446.2Z"/>
<path class="k19" d="M71.7 445.6L73.4 445.4L74 446.2L72.4 446.4Z"/>
<path class="k20" d="M70.1 445.8L71.7 445.6L72.4 446.4L70.7 446.6Z"/>
<path class="k21" d="M68.5 446L70.1 445.8L70.7 446.6L69.1 446.8Z"/>
<path class="k22" d="M66.8 446.2L68.5 446L69.1 446.8L67.4 447Z"/>
<path class="k23" d="M63.5 446.6L65.2 446.4L66.8 446.2L67.4 447L65.8 447.2L64.1 447.4Z"/>
<path class="k26" d="M60.2 446.9L61.8 446.7L63.5 446.6L64.1 447.4L62.4 447.5L60.8 447.7Z"/>
<path class="k30" d="M56.8 447.3L58.5 447.1L60.2 446.9L60.8 447.7L59.1 447.9L57.4 448.1Z"/>
<path class="k31" d="M53.5 447.7L55.2 447.5L56.8 447.3L57.4 448.1L55.7 448.3L54 448.5Z"/>
<path class="k4" d="M150.7 437.5L152.2 437.3L153.6 437.2L154.5 437.9L153.1 438L151.7 438.2Z"/>
<path class="k3" d="M146.4 438L147.9 437.8L149.3 437.7L150.7 437.5L151.7 438.2L150.2 438.4L148.8 438.5L147.3 438.7Z"/>
<path class="k0" d="M137.6 439L139.1 438.8L140.6 438.6L142 438.5L143.5 438.3L144.9 438.1L146.4 438L147.3 438.7L145.8 438.9L144.4 439L142.9 439.2L141.5 439.4L140 439.5L138.5 439.7Z"/>
<path class="k3" d="M96.5 443.7L98.1 443.5L99.6 443.3L101.2 443.1L102.8 443L104.3 442.8L105.9 442.6L107.4 442.4L109 442.2L110.5 442.1L112.1 441.9L113.6 441.7L115.1 441.5L116.6 441.4L118.2 441.2L119.7 441L121.2 440.9L122.7 440.7L124.2 440.5L125.7 440.3L127.2 440.2L128.7 440L130.2 439.8L131.7 439.7L133.2 439.5L134.7 439.3L136.2 439.1L137.6 439L138.5 439.7L137 439.9L135.5 440L134.1 440.2L132.6 440.4L131.1 440.6L129.6 440.7L128.1 440.9L126.6 441.1L125.1 441.3L123.5 441.4L122 441.6L120.5 441.8L119 441.9L117.4 442.1L115.9 442.3L114.4 442.5L112.8 442.7L111.3 442.8L109.7 443L108.2 443.2L106.6 443.4L105.1 443.5L103.5 443.7L101.9 443.9L100.4 444.1L98.8 444.3L97.2 444.4Z"/>
<path class="k4" d="M93.3 444L94.9 443.8L96.5 443.7L97.2 444.4L95.6 444.6L94 444.8Z"/>
<path class="k5" d="M91.7 444.2L93.3 444L94 444.8L92.4 445Z"/>
<path class="k6" d="M90.1 444.4L91.7 444.2L92.4 445L90.8 445.2Z"/>
<path class="k8" d="M88.5 444.6L90.1 444.4L90.8 445.2L89.2 445.4Z"/>
<path class="k24" d="M86.9 444.8L88.5 444.6L89.2 445.4L87.6 445.5Z"/>
<path class="k10" d="M85.3 444.9L86.9 444.8L87.6 445.5L86 445.7Z"/>
<path class="k12" d="M83.7 445.1L85.3 444.9L86 445.7L84.4 445.9Z"/>
<path class="k27" d="M82.1 445.3L83.7 445.1L84.4 445.9L82.8 446.1Z"/>
<path class="k25" d="M80.5 445.5L82.1 445.3L82.8 446.1L81.2 446.3Z"/>
<path class="k17" d="M78.9 445.7L80.5 445.5L81.2 446.3L79.5 446.5Z"/>
<path class="k18" d="M77.3 445.9L78.9 445.7L79.5 446.5L77.9 446.7Z"/>
<path class="k19" d="M75.6 446L77.3 445.9L77.9 446.7L76.3 446.8Z"/>
<path class="k21" d="M74 446.2L75.6 446L76.3 446.8L74.6 447Z"/>
<path class="k22" d="M72.4 446.4L74 446.2L74.6 447L73 447.2Z"/>
<path class="k23" d="M69.1 446.8L70.7 446.6L72.4 446.4L73 447.2L71.3 447.4L69.7 447.6Z"/>
<path class="k26" d="M67.4 447L69.1 446.8L69.7 447.6L68 447.8Z"/>
<path class="k30" d="M65.8 447.2L67.4 447L68 447.8L66.4 448Z"/>
<path class="k31" d="M60.8 447.7L62.4 447.5L64.1 447.4L65.8 447.2L66.4 448L64.7 448.2L63 448.4L61.3 448.6Z"/>
<path class="k32" d="M54 448.5L55.7 448.3L57.4 448.1L59.1 447.9L60.8 447.7L61.3 448.6L59.7 448.7L58 448.9L56.3 449.1L54.6 449.3Z"/>
<path class="k5" d="M153.1 438L154.5 437.9L155.5 438.6L154 438.8Z"/>
<path class="k4" d="M150.2 438.4L151.7 438.2L153.1 438L154 438.8L152.6 438.9L151.1 439.1Z"/>
<path class="k3" d="M111.3 442.8L112.8 442.7L114.4 442.5L115.9 442.3L117.4 442.1L119 441.9L120.5 441.8L122 441.6L123.5 441.4L125.1 441.3L126.6 441.1L128.1 440.9L129.6 440.7L131.1 440.6L132.6 440.4L134.1 440.2L135.5 440L137 439.9L138.5 439.7L140 439.5L141.5 439.4L142.9 439.2L144.4 439L145.8 438.9L147.3 438.7L148.8 438.5L150.2 438.4L151.1 439.1L149.7 439.3L148.2 439.4L146.8 439.6L145.3 439.8L143.8 439.9L142.3 440.1L140.9 440.3L139.4 440.4L137.9 440.6L136.4 440.8L134.9 441L133.4 441.1L131.9 441.3L130.4 441.5L128.9 441.7L127.4 441.8L125.9 442L124.4 442.2L122.8 442.4L121.3 442.5L119.8 442.7L118.3 442.9L116.7 443.1L115.2 443.2L113.6 443.4L112.1 443.6Z"/>
<path class="k0" d="M109.7 443L111.3 442.8L112.1 443.6L110.5 443.8Z"/>
<path class="k3" d="M98.8 444.3L100.4 444.1L101.9 443.9L103.5 443.7L105.1 443.5L106.6 443.4L108.2 443.2L109.7 443L110.5 443.8L109 444L107.4 444.1L105.8 444.3L104.3 444.5L102.7 444.7L101.1 444.9L99.5 445Z"/>
<path class="k4" d="M95.6 444.6L97.2 444.4L98.8 444.3L99.5 445L97.9 445.2L96.3 445.4Z"/>
<path class="k5" d="M94 444.8L95.6 444.6L96.3 445.4L94.8 445.6Z"/>
<path class="k7" d="M92.4 445L94 444.8L94.8 445.6L93.2 445.8Z"/>
<path class="k8" d="M90.8 445.2L92.4 445L93.2 445.8L91.5 446Z"/>
<path class="k24" d="M89.2 445.4L90.8 445.2L91.5 446L89.9 446.2Z"/>
<path class="k11" d="M87.6 445.5L89.2 445.4L89.9 446.2L88.3 446.3Z"/>
<path class="k29" d="M86 445.7L87.6 445.5L88.3 446.3L86.7 446.5Z"/>
<path class="k15" d="M84.4 445.9L86 445.7L86.7 446.5L85.1 446.7Z"/>
<path class="k28" d="M82.8 446.1L84.4 445.9L85.1 446.7L83.5 446.9Z"/>
<path class="k18" d="M81.2 446.3L82.8 446.1L83.5 446.9L81.8 447.1Z"/>
<path class="k19" d="M79.5 446.5L81.2 446.3L81.8 447.1L80.2 447.3Z"/>
<path class="k21" d="M77.9 446.7L79.5 446.5L80.2 447.3L78.6 447.5Z"/>
<path class="k22" d="M76.3 446.8L77.9 446.7L78.6 447.5L76.9 447.7Z"/>
<path class="k23" d="M74.6 447L76.3 446.8L76.9 447.7L75.3 447.8Z"/>
<path class="k26" d="M73 447.2L74.6 447L75.3 447.8L73.6 448Z"/>
<path class="k30" d="M71.3 447.4L73 447.2L73.6 448L72 448.2Z"/>
<path class="k31" d="M69.7 447.6L71.3 447.4L72 448.2L70.3 448.4Z"/>
<path class="k32" d="M68 447.8L69.7 447.6L70.3 448.4L68.6 448.6Z"/>
<path class="k33" d="M64.7 448.2L66.4 448L68 447.8L68.6 448.6L67 448.8L65.3 449Z"/>
<path class="k34" d="M59.7 448.7L61.3 448.6L63 448.4L64.7 448.2L65.3 449L63.6 449.2L61.9 449.4L60.3 449.6Z"/>
<path class="k33" d="M54.6 449.3L56.3 449.1L58 448.9L59.7 448.7L60.3 449.6L58.6 449.8L56.9 450L55.2 450.2Z"/>
<path class="k5" d="M154 438.8L155.5 438.6L156.4 439.3L155 439.5Z"/>
<path class="k4" d="M149.7 439.3L151.1 439.1L152.6 438.9L154 438.8L155 439.5L153.5 439.7L152.1 439.8L150.6 440Z"/>
<path class="k3" d="M118.3 442.9L119.8 442.7L121.3 442.5L122.8 442.4L124.4 442.2L125.9 442L127.4 441.8L128.9 441.7L130.4 441.5L131.9 441.3L133.4 441.1L134.9 441L136.4 440.8L137.9 440.6L139.4 440.4L140.9 440.3L142.3 440.1L143.8 439.9L145.3 439.8L146.8 439.6L148.2 439.4L149.7 439.3L150.6 440L149.1 440.2L147.7 440.3L146.2 440.5L144.7 440.7L143.2 440.8L141.8 441L140.3 441.2L138.8 441.4L137.3 441.5L135.8 441.7L134.3 441.9L132.8 442.1L131.3 442.2L129.8 442.4L128.2 442.6L126.7 442.8L125.2 442.9L123.7 443.1L122.1 443.3L120.6 443.5L119.1 443.7Z"/>
<path class="k0" d="M110.5 443.8L112.1 443.6L113.6 443.4L115.2 443.2L116.7 443.1L118.3 442.9L119.1 443.7L117.5 443.8L116 444L114.4 444.2L112.9 444.4L111.3 444.6Z"/>
<path class="k3" d="M101.1 444.9L102.7 444.7L104.3 444.5L105.8 444.3L107.4 444.1L109 444L110.5 443.8L111.3 444.6L109.7 444.7L108.2 444.9L106.6 445.1L105 445.3L103.4 445.5L101.9 445.7Z"/>
<path class="k4" d="M97.9 445.2L99.5 445L101.1 444.9L101.9 445.7L100.3 445.8L98.7 446Z"/>
<path class="k5" d="M96.3 445.4L97.9 445.2L98.7 446L97.1 446.2Z"/>
<path class="k7" d="M94.8 445.6L96.3 445.4L97.1 446.2L95.5 446.4Z"/>
<path class="k8" d="M93.2 445.8L94.8 445.6L95.5 446.4L93.9 446.6Z"/>
<path class="k24" d="M91.5 446L93.2 445.8L93.9 446.6L92.3 446.8Z"/>
<path class="k11" d="M89.9 446.2L91.5 446L92.3 446.8L90.6 447Z"/>
<path class="k13" d="M88.3 446.3L89.9 446.2L90.6 447L89 447.1Z"/>
<path class="k15" d="M86.7 446.5L88.3 446.3L89 447.1L87.4 447.3Z"/>
<path class="k17" d="M85.1 446.7L86.7 446.5L87.4 447.3L85.8 447.5Z"/>
<path class="k19" d="M83.5 446.9L85.1 446.7L85.8 447.5L84.1 447.7Z"/>
<path class="k20" d="M81.8 447.1L83.5 446.9L84.1 447.7L82.5 447.9Z"/>
<path class="k22" d="M80.2 447.3L81.8 447.1L82.5 447.9L80.9 448.1Z"/>
<path class="k23" d="M78.6 447.5L80.2 447.3L80.9 448.1L79.2 448.3Z"/>
<path class="k30" d="M76.9 447.7L78.6 447.5L79.2 448.3L77.6 448.5Z"/>
<path class="k31" d="M75.3 447.8L76.9 447.7L77.6 448.5L75.9 448.7Z"/>
<path class="k33" d="M73.6 448L75.3 447.8L75.9 448.7L74.3 448.9Z"/>
<path class="k34" d="M72 448.2L73.6 448L74.3 448.9L72.6 449Z"/>
<path class="k35" d="M68.6 448.6L70.3 448.4L72 448.2L72.6 449L70.9 449.2L69.3 449.4Z"/>
<path class="k36" d="M60.3 449.6L61.9 449.4L63.6 449.2L65.3 449L67 448.8L68.6 448.6L69.3 449.4L67.6 449.6L65.9 449.8L64.2 450L62.5 450.2L60.8 450.4Z"/>
<path class="k35" d="M56.9 450L58.6 449.8L60.3 449.6L60.8 450.4L59.1 450.6L57.4 450.8Z"/>
<path class="k34" d="M55.2 450.2L56.9 450L57.4 450.8L55.7 451Z"/>
<path class="k6" d="M155 439.5L156.4 439.3L157.4 440L155.9 440.2Z"/>
<path class="k4" d="M150.6 440L152.1 439.8L153.5 439.7L155 439.5L155.9 440.2L154.5 440.4L153 440.6L151.5 440.7Z"/>
<path class="k3" d="M125.2 442.9L126.7 442.8L128.2 442.6L129.8 442.4L131.3 442.2L132.8 442.1L134.3 441.9L135.8 441.7L137.3 441.5L138.8 441.4L140.3 441.2L141.8 441L143.2 440.8L144.7 440.7L146.2 440.5L147.7 440.3L149.1 440.2L150.6 440L151.5 440.7L150.1 440.9L148.6 441.1L147.1 441.2L145.6 441.4L144.1 441.6L142.7 441.8L141.2 441.9L139.7 442.1L138.2 442.3L136.7 442.5L135.2 442.6L133.7 442.8L132.1 443L130.6 443.2L129.1 443.4L127.6 443.5L126 443.7Z"/>
<path class="k0" d="M111.3 444.6L112.9 444.4L114.4 444.2L116 444L117.5 443.8L119.1 443.7L120.6 443.5L122.1 443.3L123.7 443.1L125.2 442.9L126 443.7L124.5 443.9L123 444.1L121.4 444.2L119.9 444.4L118.3 444.6L116.8 444.8L115.2 445L113.7 445.2L112.1 445.3Z"/>
<path class="k3" d="M103.4 445.5L105 445.3L106.6 445.1L108.2 444.9L109.7 444.7L111.3 444.6L112.1 445.3L110.5 445.5L109 445.7L107.4 445.9L105.8 446.1L104.2 446.3Z"/>
<path class="k4" d="M100.3 445.8L101.9 445.7L103.4 445.5L104.2 446.3L102.6 446.4L101 446.6Z"/>
<path class="k5" d="M98.7 446L100.3 445.8L101 446.6L99.4 446.8Z"/>
<path class="k6" d="M97.1 446.2L98.7 446L99.4 446.8L97.8 447Z"/>
<path class="k8" d="M95.5 446.4L97.1 446.2L97.8 447L96.2 447.2Z"/>
<path class="k24" d="M93.9 446.6L95.5 446.4L96.2 447.2L94.6 447.4Z"/>
<path class="k11" d="M92.3 446.8L93.9 446.6L94.6 447.4L93 447.6Z"/>
<path class="k13" d="M90.6 447L92.3 446.8L93 447.6L91.4 447.8Z"/>
<path class="k25" d="M89 447.1L90.6 447L91.4 447.8L89.7 447.9Z"/>
<path class="k17" d="M87.4 447.3L89 447.1L89.7 447.9L88.1 448.1Z"/>
<path class="k19" d="M85.8 447.5L87.4 447.3L88.1 448.1L86.5 448.3Z"/>
<path class="k21" d="M84.1 447.7L85.8 447.5L86.5 448.3L84.8 448.5Z"/>
<path class="k23" d="M82.5 447.9L84.1 447.7L84.8 448.5L83.2 448.7Z"/>
<path class="k30" d="M80.9 448.1L82.5 447.9L83.2 448.7L81.5 448.9Z"/>
<path class="k32" d="M79.2 448.3L80.9 448.1L81.5 448.9L79.9 449.1Z"/>
<path class="k33" d="M77.6 448.5L79.2 448.3L79.9 449.1L78.2 449.3Z"/>
<path class="k35" d="M75.9 448.7L77.6 448.5L78.2 449.3L76.6 449.5Z"/>
<path class="k36" d="M74.3 448.9L75.9 448.7L76.6 449.5L74.9 449.7Z"/>
<path class="k37" d="M72.6 449L74.3 448.9L74.9 449.7L73.2 449.9Z"/>
<path class="k38" d="M70.9 449.2L72.6 449L73.2 449.9L71.6 450.1Z"/>
<path class="k39" d="M62.5 450.2L64.2 450L65.9 449.8L67.6 449.6L69.3 449.4L70.9 449.2L71.6 450.1L69.9 450.3L68.2 450.5L66.5 450.7L64.8 450.9L63.1 451.1Z"/>
<path class="k38" d="M60.8 450.4L62.5 450.2L63.1 451.1L61.4 451.3Z"/>
<path class="k37" d="M59.1 450.6L60.8 450.4L61.4 451.3L59.7 451.5Z"/>
<path class="k36" d="M55.7 451L57.4 450.8L59.1 450.6L59.7 451.5L58 451.7L56.3 451.9Z"/>
<path class="k6" d="M155.9 440.2L157.4 440L158.3 440.8L156.9 441Z"/>
<path class="k5" d="M154.5 440.4L155.9 440.2L156.9 441L155.4 441.1Z"/>
<path class="k4" d="M151.5 440.7L153 440.6L154.5 440.4L155.4 441.1L153.9 441.3L152.5 441.5Z"/>
<path class="k3" d="M139.7 442.1L141.2 441.9L142.7 441.8L144.1 441.6L145.6 441.4L147.1 441.2L148.6 441.1L150.1 440.9L151.5 440.7L152.5 441.5L151 441.6L149.5 441.8L148 442L146.6 442.2L145.1 442.3L143.6 442.5L142.1 442.7L140.6 442.9Z"/>
<path class="k0" d="M112.1 445.3L113.7 445.2L115.2 445L116.8 444.8L118.3 444.6L119.9 444.4L121.4 444.2L123 444.1L124.5 443.9L126 443.7L127.6 443.5L129.1 443.4L130.6 443.2L132.1 443L133.7 442.8L135.2 442.6L136.7 442.5L138.2 442.3L139.7 442.1L140.6 442.9L139.1 443L137.6 443.2L136 443.4L134.5 443.6L133 443.8L131.5 443.9L130 444.1L128.4 444.3L126.9 444.5L125.4 444.7L123.8 444.8L122.3 445L120.7 445.2L119.2 445.4L117.6 445.6L116 445.8L114.5 445.9L112.9 446.1Z"/>
<path class="k3" d="M105.8 446.1L107.4 445.9L109 445.7L110.5 445.5L112.1 445.3L112.9 446.1L111.3 446.3L109.7 446.5L108.2 446.7L106.6 446.9Z"/>
<path class="k4" d="M101 446.6L102.6 446.4L104.2 446.3L105.8 446.1L106.6 446.9L105 447.1L103.4 447.2L101.8 447.4Z"/>
<path class="k6" d="M99.4 446.8L101 446.6L101.8 447.4L100.2 447.6Z"/>
<path class="k7" d="M97.8 447L99.4 446.8L100.2 447.6L98.6 447.8Z"/>
<path class="k9" d="M96.2 447.2L97.8 447L98.6 447.8L96.9 448Z"/>
<path class="k11" d="M94.6 447.4L96.2 447.2L96.9 448L95.3 448.2Z"/>
<path class="k13" d="M93 447.6L94.6 447.4L95.3 448.2L93.7 448.4Z"/>
<path class="k25" d="M91.4 447.8L93 447.6L93.7 448.4L92.1 448.6Z"/>
<path class="k17" d="M89.7 447.9L91.4 447.8L92.1 448.6L90.4 448.8Z"/>
<path class="k20" d="M88.1 448.1L89.7 447.9L90.4 448.8L88.8 449Z"/>
<path class="k22" d="M86.5 448.3L88.1 448.1L88.8 449L87.2 449.2Z"/>
<path class="k26" d="M84.8 448.5L86.5 448.3L87.2 449.2L85.5 449.3Z"/>
<path class="k31" d="M83.2 448.7L84.8 448.5L85.5 449.3L83.9 449.5Z"/>
<path class="k33" d="M81.5 448.9L83.2 448.7L83.9 449.5L82.2 449.7Z"/>
<path class="k35" d="M79.9 449.1L81.5 448.9L82.2 449.7L80.6 449.9Z"/>
<path class="k37" d="M78.2 449.3L79.9 449.1L80.6 449.9L78.9 450.1Z"/>
<path class="k38" d="M76.6 449.5L78.2 449.3L78.9 450.1L77.2 450.3Z"/>
<path class="k40" d="M74.9 449.7L76.6 449.5L77.2 450.3L75.6 450.5Z"/>
<path class="k41" d="M73.2 449.9L74.9 449.7L75.6 450.5L73.9 450.7Z"/>
<path class="k42" d="M63.1 451.1L64.8 450.9L66.5 450.7L68.2 450.5L69.9 450.3L71.6 450.1L73.2 449.9L73.9 450.7L72.2 450.9L70.5 451.1L68.8 451.3L67.1 451.5L65.4 451.7L63.7 451.9Z"/>
<path class="k41" d="M61.4 451.3L63.1 451.1L63.7 451.9L62 452.1Z"/>
<path class="k40" d="M59.7 451.5L61.4 451.3L62 452.1L60.3 452.3Z"/>
<path class="k38" d="M58 451.7L59.7 451.5L60.3 452.3L58.6 452.5Z"/>
<path class="k37" d="M56.3 451.9L58 451.7L58.6 452.5L56.9 452.7Z"/>
<path class="k6" d="M156.9 441L158.3 440.8L159.3 441.5L157.8 441.7Z"/>
<path class="k5" d="M155.4 441.1L156.9 441L157.8 441.7L156.4 441.9Z"/>
<path class="k4" d="M152.5 441.5L153.9 441.3L155.4 441.1L156.4 441.9L154.9 442.1L153.4 442.2Z"/>
<path class="k3" d="M143.6 442.5L145.1 442.3L146.6 442.2L148 442L149.5 441.8L151 441.6L152.5 441.5L153.4 442.2L151.9 442.4L150.5 442.6L149 442.8L147.5 442.9L146 443.1L144.5 443.3Z"/>
<path class="k0" d="M112.9 446.1L114.5 445.9L116 445.8L117.6 445.6L119.2 445.4L120.7 445.2L122.3 445L123.8 444.8L125.4 444.7L126.9 444.5L128.4 444.3L130 444.1L131.5 443.9L133 443.8L134.5 443.6L136 443.4L137.6 443.2L139.1 443L140.6 442.9L142.1 442.7L143.6 442.5L144.5 443.3L143 443.5L141.5 443.6L140 443.8L138.5 444L136.9 444.2L135.4 444.4L133.9 444.5L132.4 444.7L130.8 444.9L129.3 445.1L127.8 445.3L126.2 445.4L124.7 445.6L123.1 445.8L121.5 446L120 446.2L118.4 446.4L116.9 446.6L115.3 446.7L113.7 446.9Z"/>
<path class="k3" d="M106.6 446.9L108.2 446.7L109.7 446.5L111.3 446.3L112.9 446.1L113.7 446.9L112.1 447.1L110.5 447.3L108.9 447.5L107.3 447.7Z"/>
<path class="k4" d="M103.4 447.2L105 447.1L106.6 446.9L107.3 447.7L105.7 447.9L104.1 448.1Z"/>
<path class="k5" d="M101.8 447.4L103.4 447.2L104.1 448.1L102.5 448.2Z"/>
<path class="k7" d="M100.2 447.6L101.8 447.4L102.5 448.2L100.9 448.4Z"/>
<path class="k9" d="M98.6 447.8L100.2 447.6L100.9 448.4L99.3 448.6Z"/>
<path class="k10" d="M96.9 448L98.6 447.8L99.3 448.6L97.7 448.8Z"/>
<path class="k12" d="M95.3 448.2L96.9 448L97.7 448.8L96.1 449Z"/>
<path class="k15" d="M93.7 448.4L95.3 448.2L96.1 449L94.4 449.2Z"/>
<path class="k17" d="M92.1 448.6L93.7 448.4L94.4 449.2L92.8 449.4Z"/>
<path class="k20" d="M90.4 448.8L92.1 448.6L92.8 449.4L91.2 449.6Z"/>
<path class="k22" d="M88.8 449L90.4 448.8L91.2 449.6L89.5 449.8Z"/>
<path class="k26" d="M87.2 449.2L88.8 449L89.5 449.8L87.9 450Z"/>
<path class="k32" d="M85.5 449.3L87.2 449.2L87.9 450L86.2 450.2Z"/>
<path class="k35" d="M83.9 449.5L85.5 449.3L86.2 450.2L84.6 450.4Z"/>
<path class="k37" d="M82.2 449.7L83.9 449.5L84.6 450.4L82.9 450.6Z"/>
<path class="k39" d="M80.6 449.9L82.2 449.7L82.9 450.6L81.2 450.8Z"/>
<path class="k40" d="M78.9 450.1L80.6 449.9L81.2 450.8L79.6 451Z"/>
<path class="k42" d="M77.2 450.3L78.9 450.1L79.6 451L77.9 451.2Z"/>
<path class="k43" d="M75.6 450.5L77.2 450.3L77.9 451.2L76.2 451.4Z"/>
<path class="k44" d="M73.9 450.7L75.6 450.5L76.2 451.4L74.5 451.6Z"/>
<path class="k45" d="M70.5 451.1L72.2 450.9L73.9 450.7L74.5 451.6L72.9 451.8L71.2 452Z"/>
<path class="k46" d="M68.8 451.3L70.5 451.1L71.2 452L69.5 452.2Z"/>
<path class="k45" d="M65.4 451.7L67.1 451.5L68.8 451.3L69.5 452.2L67.8 452.4L66.1 452.6Z"/>
<path class="k44" d="M63.7 451.9L65.4 451.7L66.1 452.6L64.4 452.8Z"/>
<path class="k43" d="M62 452.1L63.7 451.9L64.4 452.8L62.6 453Z"/>
<path class="k42" d="M60.3 452.3L62 452.1L62.6 453L60.9 453.2Z"/>
<path class="k41" d="M58.6 452.5L60.3 452.3L60.9 453.2L59.2 453.4Z"/>
<path class="k39" d="M56.9 452.7L58.6 452.5L59.2 453.4L57.5 453.6Z"/>
<path class="k6" d="M157.8 441.7L159.3 441.5L160.3 442.3L158.8 442.5Z"/>
<path class="k4" d="M153.4 442.2L154.9 442.1L156.4 441.9L157.8 441.7L158.8 442.5L157.3 442.6L155.9 442.8L154.4 443Z"/>
<path class="k3" d="M146 443.1L147.5 442.9L149 442.8L150.5 442.6L151.9 442.4L153.4 442.2L154.4 443L152.9 443.2L151.4 443.3L149.9 443.5L148.4 443.7L146.9 443.9Z"/>
<path class="k0" d="M113.7 446.9L115.3 446.7L116.9 446.6L118.4 446.4L120 446.2L121.5 446L123.1 445.8L124.7 445.6L126.2 445.4L127.8 445.3L129.3 445.1L130.8 444.9L132.4 444.7L133.9 444.5L135.4 444.4L136.9 444.2L138.5 444L140 443.8L141.5 443.6L143 443.5L144.5 443.3L146 443.1L146.9 443.9L145.4 444L143.9 444.2L142.4 444.4L140.9 444.6L139.4 444.8L137.8 445L136.3 445.1L134.8 445.3L133.2 445.5L131.7 445.7L130.2 445.9L128.6 446L127.1 446.2L125.5 446.4L124 446.6L122.4 446.8L120.8 447L119.3 447.2L117.7 447.4L116.1 447.5L114.5 447.7Z"/>
<path class="k3" d="M107.3 447.7L108.9 447.5L110.5 447.3L112.1 447.1L113.7 446.9L114.5 447.7L112.9 447.9L111.3 448.1L109.7 448.3L108.1 448.5Z"/>
<path class="k4" d="M105.7 447.9L107.3 447.7L108.1 448.5L106.5 448.7Z"/>
<path class="k5" d="M104.1 448.1L105.7 447.9L106.5 448.7L104.9 448.9Z"/>
<path class="k6" d="M102.5 448.2L104.1 448.1L104.9 448.9L103.3 449.1Z"/>
<path class="k8" d="M100.9 448.4L102.5 448.2L103.3 449.1L101.7 449.3Z"/>
<path class="k24" d="M99.3 448.6L100.9 448.4L101.7 449.3L100.1 449.4Z"/>
<path class="k11" d="M97.7 448.8L99.3 448.6L100.1 449.4L98.4 449.6Z"/>
<path class="k27" d="M96.1 449L97.7 448.8L98.4 449.6L96.8 449.8Z"/>
<path class="k28" d="M94.4 449.2L96.1 449L96.8 449.8L95.2 450Z"/>
<path class="k19" d="M92.8 449.4L94.4 449.2L95.2 450L93.5 450.2Z"/>
<path class="k22" d="M91.2 449.6L92.8 449.4L93.5 450.2L91.9 450.4Z"/>
<path class="k26" d="M89.5 449.8L91.2 449.6L91.9 450.4L90.2 450.6Z"/>
<path class="k33" d="M87.9 450L89.5 449.8L90.2 450.6L88.6 450.8Z"/>
<path class="k35" d="M86.2 450.2L87.9 450L88.6 450.8L86.9 451Z"/>
<path class="k38" d="M84.6 450.4L86.2 450.2L86.9 451L85.3 451.2Z"/>
<path class="k40" d="M82.9 450.6L84.6 450.4L85.3 451.2L83.6 451.4Z"/>
<path class="k42" d="M81.2 450.8L82.9 450.6L83.6 451.4L81.9 451.6Z"/>
<path class="k44" d="M79.6 451L81.2 450.8L81.9 451.6L80.3 451.8Z"/>
<path class="k45" d="M77.9 451.2L79.6 451L80.3 451.8L78.6 452Z"/>
<path class="k46" d="M76.2 451.4L77.9 451.2L78.6 452L76.9 452.2Z"/>
<path class="k47" d="M74.5 451.6L76.2 451.4L76.9 452.2L75.2 452.4Z"/>
<path class="k48" d="M67.8 452.4L69.5 452.2L71.2 452L72.9 451.8L74.5 451.6L75.2 452.4L73.5 452.6L71.8 452.8L70.1 453L68.4 453.2Z"/>
<path class="k47" d="M64.4 452.8L66.1 452.6L67.8 452.4L68.4 453.2L66.7 453.4L65 453.6Z"/>
<path class="k45" d="M62.6 453L64.4 452.8L65 453.6L63.3 453.8Z"/>
<path class="k44" d="M60.9 453.2L62.6 453L63.3 453.8L61.5 454Z"/>
<path class="k43" d="M59.2 453.4L60.9 453.2L61.5 454L59.8 454.2Z"/>
<path class="k41" d="M57.5 453.6L59.2 453.4L59.8 454.2L58.1 454.4Z"/>
<path class="k5" d="M158.8 442.5L160.3 442.3L161.3 443L159.8 443.2Z"/>
<path class="k4" d="M155.9 442.8L157.3 442.6L158.8 442.5L159.8 443.2L158.3 443.4L156.8 443.6Z"/>
<path class="k3" d="M148.4 443.7L149.9 443.5L151.4 443.3L152.9 443.2L154.4 443L155.9 442.8L156.8 443.6L155.3 443.7L153.8 443.9L152.4 444.1L150.9 444.3L149.4 444.5Z"/>
<path class="k0" d="M114.5 447.7L116.1 447.5L117.7 447.4L119.3 447.2L120.8 447L122.4 446.8L124 446.6L125.5 446.4L127.1 446.2L128.6 446L130.2 445.9L131.7 445.7L133.2 445.5L134.8 445.3L136.3 445.1L137.8 445L139.4 444.8L140.9 444.6L142.4 444.4L143.9 444.2L145.4 444L146.9 443.9L148.4 443.7L149.4 444.5L147.9 444.6L146.3 444.8L144.8 445L143.3 445.2L141.8 445.4L140.3 445.6L138.7 445.7L137.2 445.9L135.7 446.1L134.1 446.3L132.6 446.5L131 446.7L129.5 446.8L127.9 447L126.4 447.2L124.8 447.4L123.2 447.6L121.7 447.8L120.1 448L118.5 448.2L116.9 448.3L115.3 448.5Z"/>
<path class="k3" d="M109.7 448.3L111.3 448.1L112.9 447.9L114.5 447.7L115.3 448.5L113.7 448.7L112.1 448.9L110.5 449.1Z"/>
<path class="k4" d="M106.5 448.7L108.1 448.5L109.7 448.3L110.5 449.1L108.9 449.3L107.3 449.5Z"/>
<path class="k5" d="M104.9 448.9L106.5 448.7L107.3 449.5L105.7 449.7Z"/>
<path class="k7" d="M103.3 449.1L104.9 448.9L105.7 449.7L104.1 449.9Z"/>
<path class="k9" d="M101.7 449.3L103.3 449.1L104.1 449.9L102.5 450.1Z"/>
<path class="k10" d="M100.1 449.4L101.7 449.3L102.5 450.1L100.8 450.3Z"/>
<path class="k29" d="M98.4 449.6L100.1 449.4L100.8 450.3L99.2 450.5Z"/>
<path class="k25" d="M96.8 449.8L98.4 449.6L99.2 450.5L97.6 450.7Z"/>
<path class="k18" d="M95.2 450L96.8 449.8L97.6 450.7L95.9 450.9Z"/>
<path class="k21" d="M93.5 450.2L95.2 450L95.9 450.9L94.3 451.1Z"/>
<path class="k26" d="M91.9 450.4L93.5 450.2L94.3 451.1L92.6 451.3Z"/>
<path class="k32" d="M90.2 450.6L91.9 450.4L92.6 451.3L91 451.5Z"/>
<path class="k36" d="M88.6 450.8L90.2 450.6L91 451.5L89.3 451.7Z"/>
<path class="k38" d="M86.9 451L88.6 450.8L89.3 451.7L87.6 451.9Z"/>
<path class="k41" d="M85.3 451.2L86.9 451L87.6 451.9L86 452.1Z"/>
<path class="k43" d="M83.6 451.4L85.3 451.2L86 452.1L84.3 452.3Z"/>
<path class="k45" d="M81.9 451.6L83.6 451.4L84.3 452.3L82.6 452.5Z"/>
<path class="k47" d="M80.3 451.8L81.9 451.6L82.6 452.5L80.9 452.7Z"/>
<path class="k48" d="M78.6 452L80.3 451.8L80.9 452.7L79.3 452.9Z"/>
<path class="k49" d="M76.9 452.2L78.6 452L79.3 452.9L77.6 453.1Z"/>
<path class="k50" d="M73.5 452.6L75.2 452.4L76.9 452.2L77.6 453.1L75.9 453.3L74.2 453.5Z"/>
<path class="k51" d="M71.8 452.8L73.5 452.6L74.2 453.5L72.5 453.7Z"/>
<path class="k50" d="M68.4 453.2L70.1 453L71.8 452.8L72.5 453.7L70.8 453.9L69 454.1Z"/>
<path class="k49" d="M65 453.6L66.7 453.4L68.4 453.2L69 454.1L67.3 454.3L65.6 454.5Z"/>
<path class="k47" d="M63.3 453.8L65 453.6L65.6 454.5L63.9 454.7Z"/>
<path class="k46" d="M61.5 454L63.3 453.8L63.9 454.7L62.1 454.9Z"/>
<path class="k45" d="M59.8 454.2L61.5 454L62.1 454.9L60.4 455.1Z"/>
<path class="k43" d="M58.1 454.4L59.8 454.2L60.4 455.1L58.7 455.3Z"/>
<path class="k5" d="M159.8 443.2L161.3 443L162.3 443.8L160.8 444Z"/>
<path class="k4" d="M156.8 443.6L158.3 443.4L159.8 443.2L160.8 444L159.3 444.2L157.8 444.3Z"/>
<path class="k3" d="M149.4 444.5L150.9 444.3L152.4 444.1L153.8 443.9L155.3 443.7L156.8 443.6L157.8 444.3L156.3 444.5L154.8 444.7L153.3 444.9L151.8 445.1L150.3 445.2Z"/>
<path class="k0" d="M115.3 448.5L116.9 448.3L118.5 448.2L120.1 448L121.7 447.8L123.2 447.6L124.8 447.4L126.4 447.2L127.9 447L129.5 446.8L131 446.7L132.6 446.5L134.1 446.3L135.7 446.1L137.2 445.9L138.7 445.7L140.3 445.6L141.8 445.4L143.3 445.2L144.8 445L146.3 444.8L147.9 444.6L149.4 444.5L150.3 445.2L148.8 445.4L147.3 445.6L145.8 445.8L144.2 446L142.7 446.2L141.2 446.3L139.7 446.5L138.1 446.7L136.6 446.9L135 447.1L133.5 447.3L131.9 447.5L130.4 447.6L128.8 447.8L127.2 448L125.7 448.2L124.1 448.4L122.5 448.6L120.9 448.8L119.3 449L117.8 449.2L116.2 449.4Z"/>
<path class="k3" d="M110.5 449.1L112.1 448.9L113.7 448.7L115.3 448.5L116.2 449.4L114.6 449.5L113 449.7L111.3 449.9Z"/>
<path class="k4" d="M107.3 449.5L108.9 449.3L110.5 449.1L111.3 449.9L109.7 450.1L108.1 450.3Z"/>
<path class="k6" d="M105.7 449.7L107.3 449.5L108.1 450.3L106.5 450.5Z"/>
<path class="k7" d="M104.1 449.9L105.7 449.7L106.5 450.5L104.9 450.7Z"/>
<path class="k24" d="M102.5 450.1L104.1 449.9L104.9 450.7L103.2 450.9Z"/>
<path class="k11" d="M100.8 450.3L102.5 450.1L103.2 450.9L101.6 451.1Z"/>
<path class="k27" d="M99.2 450.5L100.8 450.3L101.6 451.1L100 451.3Z"/>
<path class="k28" d="M97.6 450.7L99.2 450.5L100 451.3L98.3 451.5Z"/>
<path class="k20" d="M95.9 450.9L97.6 450.7L98.3 451.5L96.7 451.7Z"/>
<path class="k23" d="M94.3 451.1L95.9 450.9L96.7 451.7L95 451.9Z"/>
<path class="k31" d="M92.6 451.3L94.3 451.1L95 451.9L93.4 452.1Z"/>
<path class="k35" d="M91 451.5L92.6 451.3L93.4 452.1L91.7 452.3Z"/>
<path class="k38" d="M89.3 451.7L91 451.5L91.7 452.3L90 452.5Z"/>
<path class="k41" d="M87.6 451.9L89.3 451.7L90 452.5L88.4 452.7Z"/>
<path class="k44" d="M86 452.1L87.6 451.9L88.4 452.7L86.7 452.9Z"/>
<path class="k46" d="M84.3 452.3L86 452.1L86.7 452.9L85 453.1Z"/>
<path class="k48" d="M82.6 452.5L84.3 452.3L85 453.1L83.3 453.3Z"/>
<path class="k50" d="M80.9 452.7L82.6 452.5L83.3 453.3L81.6 453.5Z"/>
<path class="k51" d="M79.3 452.9L80.9 452.7L81.6 453.5L79.9 453.7Z"/>
<path class="k52" d="M74.2 453.5L75.9 453.3L77.6 453.1L79.3 452.9L79.9 453.7L78.2 453.9L76.5 454.1L74.8 454.3Z"/>
<path class="k53" d="M72.5 453.7L74.2 453.5L74.8 454.3L73.1 454.5Z"/>
<path class="k52" d="M69 454.1L70.8 453.9L72.5 453.7L73.1 454.5L71.4 454.8L69.7 455Z"/>
<path class="k51" d="M67.3 454.3L69 454.1L69.7 455L68 455.2Z"/>
<path class="k50" d="M65.6 454.5L67.3 454.3L68 455.2L66.2 455.4Z"/>
<path class="k49" d="M63.9 454.7L65.6 454.5L66.2 455.4L64.5 455.6Z"/>
<path class="k48" d="M62.1 454.9L63.9 454.7L64.5 455.6L62.7 455.8Z"/>
<path class="k46" d="M60.4 455.1L62.1 454.9L62.7 455.8L61 456Z"/>
<path class="k45" d="M58.7 455.3L60.4 455.1L61 456L59.3 456.2Z"/>
<path class="k5" d="M160.8 444L162.3 443.8L163.3 444.6L161.8 444.7Z"/>
<path class="k4" d="M157.8 444.3L159.3 444.2L160.8 444L161.8 444.7L160.3 444.9L158.8 445.1Z"/>
<path class="k3" d="M151.8 445.1L153.3 444.9L154.8 444.7L156.3 444.5L157.8 444.3L158.8 445.1L157.3 445.3L155.8 445.5L154.3 445.7L152.8 445.8Z"/>
<path class="k0" d="M117.8 449.2L119.3 449L120.9 448.8L122.5 448.6L124.1 448.4L125.7 448.2L127.2 448L128.8 447.8L130.4 447.6L131.9 447.5L133.5 447.3L135 447.1L136.6 446.9L138.1 446.7L139.7 446.5L141.2 446.3L142.7 446.2L144.2 446L145.8 445.8L147.3 445.6L148.8 445.4L150.3 445.2L151.8 445.1L152.8 445.8L151.3 446L149.8 446.2L148.2 446.4L146.7 446.6L145.2 446.8L143.7 446.9L142.1 447.1L140.6 447.3L139 447.5L137.5 447.7L135.9 447.9L134.4 448.1L132.8 448.3L131.3 448.5L129.7 448.6L128.1 448.8L126.5 449L125 449.2L123.4 449.4L121.8 449.6L120.2 449.8L118.6 450Z"/>
<path class="k3" d="M111.3 449.9L113 449.7L114.6 449.5L116.2 449.4L117.8 449.2L118.6 450L117 450.2L115.4 450.4L113.8 450.6L112.2 450.8Z"/>
<path class="k4" d="M108.1 450.3L109.7 450.1L111.3 449.9L112.2 450.8L110.5 451L108.9 451.2Z"/>
<path class="k6" d="M106.5 450.5L108.1 450.3L108.9 451.2L107.3 451.4Z"/>
<path class="k8" d="M104.9 450.7L106.5 450.5L107.3 451.4L105.7 451.6Z"/>
<path class="k24" d="M103.2 450.9L104.9 450.7L105.7 451.6L104 451.8Z"/>
<path class="k12" d="M101.6 451.1L103.2 450.9L104 451.8L102.4 452Z"/>
<path class="k15" d="M100 451.3L101.6 451.1L102.4 452L100.7 452.2Z"/>
<path class="k18" d="M98.3 451.5L100 451.3L100.7 452.2L99.1 452.4Z"/>
<path class="k21" d="M96.7 451.7L98.3 451.5L99.1 452.4L97.4 452.6Z"/>
<path class="k30" d="M95 451.9L96.7 451.7L97.4 452.6L95.8 452.8Z"/>
<path class="k34" d="M93.4 452.1L95 451.9L95.8 452.8L94.1 453Z"/>
<path class="k37" d="M91.7 452.3L93.4 452.1L94.1 453L92.4 453.2Z"/>
<path class="k41" d="M90 452.5L91.7 452.3L92.4 453.2L90.8 453.4Z"/>
<path class="k44" d="M88.4 452.7L90 452.5L90.8 453.4L89.1 453.6Z"/>
<path class="k47" d="M86.7 452.9L88.4 452.7L89.1 453.6L87.4 453.8Z"/>
<path class="k49" d="M85 453.1L86.7 452.9L87.4 453.8L85.7 454Z"/>
<path class="k50" d="M83.3 453.3L85 453.1L85.7 454L84 454.2Z"/>
<path class="k52" d="M81.6 453.5L83.3 453.3L84 454.2L82.3 454.4Z"/>
<path class="k53" d="M78.2 453.9L79.9 453.7L81.6 453.5L82.3 454.4L80.6 454.6L78.9 454.8Z"/>
<path class="k54" d="M71.4 454.8L73.1 454.5L74.8 454.3L76.5 454.1L78.2 453.9L78.9 454.8L77.2 455L75.5 455.2L73.8 455.4L72.1 455.6Z"/>
<path class="k53" d="M68 455.2L69.7 455L71.4 454.8L72.1 455.6L70.3 455.8L68.6 456.1Z"/>
<path class="k52" d="M66.2 455.4L68 455.2L68.6 456.1L66.9 456.3Z"/>
<path class="k50" d="M64.5 455.6L66.2 455.4L66.9 456.3L65.1 456.5Z"/>
<path class="k49" d="M62.7 455.8L64.5 455.6L65.1 456.5L63.4 456.7Z"/>
<path class="k48" d="M61 456L62.7 455.8L63.4 456.7L61.6 456.9Z"/>
<path class="k46" d="M59.3 456.2L61 456L61.6 456.9L59.9 457.1Z"/>
<path class="k6" d="M161.8 444.7L163.3 444.6L164.3 445.3L162.8 445.5Z"/>
<path class="k4" d="M158.8 445.1L160.3 444.9L161.8 444.7L162.8 445.5L161.3 445.7L159.8 445.9Z"/>
<path class="k3" d="M152.8 445.8L154.3 445.7L155.8 445.5L157.3 445.3L158.8 445.1L159.8 445.9L158.3 446.1L156.8 446.3L155.3 446.4L153.8 446.6Z"/>
<path class="k0" d="M120.2 449.8L121.8 449.6L123.4 449.4L125 449.2L126.5 449L128.1 448.8L129.7 448.6L131.3 448.5L132.8 448.3L134.4 448.1L135.9 447.9L137.5 447.7L139 447.5L140.6 447.3L142.1 447.1L143.7 446.9L145.2 446.8L146.7 446.6L148.2 446.4L149.8 446.2L151.3 446L152.8 445.8L153.8 446.6L152.2 446.8L150.7 447L149.2 447.2L147.7 447.4L146.1 447.6L144.6 447.7L143.1 447.9L141.5 448.1L140 448.3L138.4 448.5L136.8 448.7L135.3 448.9L133.7 449.1L132.2 449.3L130.6 449.5L129 449.7L127.4 449.8L125.8 450L124.2 450.2L122.6 450.4L121 450.6Z"/>
<path class="k3" d="M112.2 450.8L113.8 450.6L115.4 450.4L117 450.2L118.6 450L120.2 449.8L121 450.6L119.4 450.8L117.8 451L116.2 451.2L114.6 451.4L113 451.6Z"/>
<path class="k4" d="M110.5 451L112.2 450.8L113 451.6L111.4 451.8Z"/>
<path class="k5" d="M108.9 451.2L110.5 451L111.4 451.8L109.7 452Z"/>
<path class="k6" d="M107.3 451.4L108.9 451.2L109.7 452L108.1 452.2Z"/>
<path class="k8" d="M105.7 451.6L107.3 451.4L108.1 452.2L106.5 452.4Z"/>
<path class="k10" d="M104 451.8L105.7 451.6L106.5 452.4L104.8 452.6Z"/>
<path class="k29" d="M102.4 452L104 451.8L104.8 452.6L103.2 452.8Z"/>
<path class="k16" d="M100.7 452.2L102.4 452L103.2 452.8L101.5 453Z"/>
<path class="k19" d="M99.1 452.4L100.7 452.2L101.5 453L99.9 453.2Z"/>
<path class="k22" d="M97.4 452.6L99.1 452.4L99.9 453.2L98.2 453.4Z"/>
<path class="k31" d="M95.8 452.8L97.4 452.6L98.2 453.4L96.5 453.6Z"/>
<path class="k36" d="M94.1 453L95.8 452.8L96.5 453.6L94.9 453.8Z"/>
<path class="k39" d="M92.4 453.2L94.1 453L94.9 453.8L93.2 454Z"/>
<path class="k43" d="M90.8 453.4L92.4 453.2L93.2 454L91.5 454.2Z"/>
<path class="k46" d="M89.1 453.6L90.8 453.4L91.5 454.2L89.8 454.4Z"/>
<path class="k49" d="M87.4 453.8L89.1 453.6L89.8 454.4L88.1 454.6Z"/>
<path class="k51" d="M85.7 454L87.4 453.8L88.1 454.6L86.4 454.8Z"/>
<path class="k52" d="M84 454.2L85.7 454L86.4 454.8L84.7 455.1Z"/>
<path class="k53" d="M82.3 454.4L84 454.2L84.7 455.1L83 455.3Z"/>
<path class="k54" d="M68.6 456.1L70.3 455.8L72.1 455.6L73.8 455.4L75.5 455.2L77.2 455L78.9 454.8L80.6 454.6L82.3 454.4L83 455.3L81.3 455.5L79.6 455.7L77.9 455.9L76.2 456.1L74.5 456.3L72.7 456.5L71 456.7L69.2 456.9Z"/>
<path class="k53" d="M66.9 456.3L68.6 456.1L69.2 456.9L67.5 457.2Z"/>
<path class="k52" d="M65.1 456.5L66.9 456.3L67.5 457.2L65.8 457.4Z"/>
<path class="k50" d="M63.4 456.7L65.1 456.5L65.8 457.4L64 457.6Z"/>
<path class="k49" d="M61.6 456.9L63.4 456.7L64 457.6L62.2 457.8Z"/>
<path class="k47" d="M59.9 457.1L61.6 456.9L62.2 457.8L60.5 458Z"/>
<path class="k7" d="M162.8 445.5L164.3 445.3L165.3 446.1L163.8 446.3Z"/>
<path class="k5" d="M161.3 445.7L162.8 445.5L163.8 446.3L162.3 446.5Z"/>
<path class="k4" d="M158.3 446.1L159.8 445.9L161.3 445.7L162.3 446.5L160.8 446.7L159.3 446.9Z"/>
<path class="k3" d="M152.2 446.8L153.8 446.6L155.3 446.4L156.8 446.3L158.3 446.1L159.3 446.9L157.8 447.1L156.3 447.2L154.7 447.4L153.2 447.6Z"/>
<path class="k0" d="M136.8 448.7L138.4 448.5L140 448.3L141.5 448.1L143.1 447.9L144.6 447.7L146.1 447.6L147.7 447.4L149.2 447.2L150.7 447L152.2 446.8L153.2 447.6L151.7 447.8L150.2 448L148.6 448.2L147.1 448.4L145.5 448.6L144 448.7L142.4 448.9L140.9 449.1L139.3 449.3L137.8 449.5Z"/>
<path class="k3" d="M129 449.7L130.6 449.5L132.2 449.3L133.7 449.1L135.3 448.9L136.8 448.7L137.8 449.5L136.2 449.7L134.6 449.9L133.1 450.1L131.5 450.3L129.9 450.5Z"/>
<path class="k0" d="M125.8 450L127.4 449.8L129 449.7L129.9 450.5L128.3 450.7L126.7 450.9Z"/>
<path class="k3" d="M114.6 451.4L116.2 451.2L117.8 451L119.4 450.8L121 450.6L122.6 450.4L124.2 450.2L125.8 450L126.7 450.9L125.1 451.1L123.5 451.3L121.9 451.5L120.3 451.7L118.7 451.9L117.1 452.1L115.4 452.3Z"/>
<path class="k4" d="M111.4 451.8L113 451.6L114.6 451.4L115.4 452.3L113.8 452.5L112.2 452.7Z"/>
<path class="k5" d="M109.7 452L111.4 451.8L112.2 452.7L110.5 452.9Z"/>
<path class="k7" d="M108.1 452.2L109.7 452L110.5 452.9L108.9 453.1Z"/>
<path class="k9" d="M106.5 452.4L108.1 452.2L108.9 453.1L107.3 453.3Z"/>
<path class="k10" d="M104.8 452.6L106.5 452.4L107.3 453.3L105.6 453.5Z"/>
<path class="k13" d="M103.2 452.8L104.8 452.6L105.6 453.5L104 453.7Z"/>
<path class="k28" d="M101.5 453L103.2 452.8L104 453.7L102.3 453.9Z"/>
<path class="k20" d="M99.9 453.2L101.5 453L102.3 453.9L100.6 454.1Z"/>
<path class="k23" d="M98.2 453.4L99.9 453.2L100.6 454.1L99 454.3Z"/>
<path class="k33" d="M96.5 453.6L98.2 453.4L99 454.3L97.3 454.5Z"/>
<path class="k37" d="M94.9 453.8L96.5 453.6L97.3 454.5L95.6 454.7Z"/>
<path class="k41" d="M93.2 454L94.9 453.8L95.6 454.7L93.9 454.9Z"/>
<path class="k45" d="M91.5 454.2L93.2 454L93.9 454.9L92.3 455.1Z"/>
<path class="k48" d="M89.8 454.4L91.5 454.2L92.3 455.1L90.6 455.3Z"/>
<path class="k50" d="M88.1 454.6L89.8 454.4L90.6 455.3L88.9 455.5Z"/>
<path class="k52" d="M86.4 454.8L88.1 454.6L88.9 455.5L87.2 455.7Z"/>
<path class="k53" d="M84.7 455.1L86.4 454.8L87.2 455.7L85.5 455.9Z"/>
<path class="k54" d="M69.2 456.9L71 456.7L72.7 456.5L74.5 456.3L76.2 456.1L77.9 455.9L79.6 455.7L81.3 455.5L83 455.3L84.7 455.1L85.5 455.9L83.8 456.1L82 456.4L80.3 456.6L78.6 456.8L76.9 457L75.1 457.2L73.4 457.4L71.7 457.6L69.9 457.9Z"/>
<path class="k53" d="M67.5 457.2L69.2 456.9L69.9 457.9L68.2 458.1Z"/>
<path class="k52" d="M65.8 457.4L67.5 457.2L68.2 458.1L66.4 458.3Z"/>
<path class="k51" d="M64 457.6L65.8 457.4L66.4 458.3L64.6 458.5Z"/>
<path class="k50" d="M62.2 457.8L64 457.6L64.6 458.5L62.9 458.7Z"/>
<path class="k48" d="M60.5 458L62.2 457.8L62.9 458.7L61.1 458.9Z"/>
<path class="k8" d="M163.8 446.3L165.3 446.1L166.3 446.9L164.8 447.1Z"/>
<path class="k6" d="M162.3 446.5L163.8 446.3L164.8 447.1L163.3 447.3Z"/>
<path class="k4" d="M159.3 446.9L160.8 446.7L162.3 446.5L163.3 447.3L161.8 447.5L160.3 447.7Z"/>
<path class="k3" d="M153.2 447.6L154.7 447.4L156.3 447.2L157.8 447.1L159.3 446.9L160.3 447.7L158.8 447.9L157.3 448L155.7 448.2L154.2 448.4Z"/>
<path class="k0" d="M140.9 449.1L142.4 448.9L144 448.7L145.5 448.6L147.1 448.4L148.6 448.2L150.2 448L151.7 447.8L153.2 447.6L154.2 448.4L152.7 448.6L151.1 448.8L149.6 449L148 449.2L146.5 449.4L144.9 449.6L143.4 449.8L141.8 449.9Z"/>
<path class="k3" d="M115.4 452.3L117.1 452.1L118.7 451.9L120.3 451.7L121.9 451.5L123.5 451.3L125.1 451.1L126.7 450.9L128.3 450.7L129.9 450.5L131.5 450.3L133.1 450.1L134.6 449.9L136.2 449.7L137.8 449.5L139.3 449.3L140.9 449.1L141.8 449.9L140.3 450.1L138.7 450.3L137.1 450.5L135.5 450.7L134 450.9L132.4 451.1L130.8 451.3L129.2 451.5L127.6 451.7L126 451.9L124.4 452.1L122.8 452.3L121.2 452.5L119.5 452.7L117.9 452.9L116.3 453.1Z"/>
<path class="k4" d="M112.2 452.7L113.8 452.5L115.4 452.3L116.3 453.1L114.7 453.3L113 453.5Z"/>
<path class="k5" d="M110.5 452.9L112.2 452.7L113 453.5L111.4 453.7Z"/>
<path class="k7" d="M108.9 453.1L110.5 452.9L111.4 453.7L109.7 453.9Z"/>
<path class="k9" d="M107.3 453.3L108.9 453.1L109.7 453.9L108.1 454.1Z"/>
<path class="k11" d="M105.6 453.5L107.3 453.3L108.1 454.1L106.4 454.3Z"/>
<path class="k27" d="M104 453.7L105.6 453.5L106.4 454.3L104.8 454.5Z"/>
<path class="k17" d="M102.3 453.9L104 453.7L104.8 454.5L103.1 454.7Z"/>
<path class="k21" d="M100.6 454.1L102.3 453.9L103.1 454.7L101.4 454.9Z"/>
<path class="k30" d="M99 454.3L100.6 454.1L101.4 454.9L99.8 455.2Z"/>
<path class="k34" d="M97.3 454.5L99 454.3L99.8 455.2L98.1 455.4Z"/>
<path class="k38" d="M95.6 454.7L97.3 454.5L98.1 455.4L96.4 455.6Z"/>
<path class="k43" d="M93.9 454.9L95.6 454.7L96.4 455.6L94.7 455.8Z"/>
<path class="k46" d="M92.3 455.1L93.9 454.9L94.7 455.8L93 456Z"/>
<path class="k49" d="M90.6 455.3L92.3 455.1L93 456L91.3 456.2Z"/>
<path class="k52" d="M88.9 455.5L90.6 455.3L91.3 456.2L89.6 456.4Z"/>
<path class="k53" d="M87.2 455.7L88.9 455.5L89.6 456.4L87.9 456.6Z"/>
<path class="k54" d="M68.2 458.1L69.9 457.9L71.7 457.6L73.4 457.4L75.1 457.2L76.9 457L78.6 456.8L80.3 456.6L82 456.4L83.8 456.1L85.5 455.9L87.2 455.7L87.9 456.6L86.2 456.8L84.5 457L82.8 457.3L81 457.5L79.3 457.7L77.6 457.9L75.8 458.1L74.1 458.3L72.3 458.5L70.6 458.8L68.8 459Z"/>
<path class="k53" d="M66.4 458.3L68.2 458.1L68.8 459L67 459.2Z"/>
<path class="k52" d="M64.6 458.5L66.4 458.3L67 459.2L65.3 459.4Z"/>
<path class="k50" d="M62.9 458.7L64.6 458.5L65.3 459.4L63.5 459.6Z"/>
<path class="k49" d="M61.1 458.9L62.9 458.7L63.5 459.6L61.7 459.9Z"/>
<path class="k9" d="M164.8 447.1L166.3 446.9L167.3 447.7L165.8 447.9Z"/>
<path class="k7" d="M163.3 447.3L164.8 447.1L165.8 447.9L164.3 448.1Z"/>
<path class="k5" d="M161.8 447.5L163.3 447.3L164.3 448.1L162.8 448.3Z"/>
<path class="k4" d="M158.8 447.9L160.3 447.7L161.8 447.5L162.8 448.3L161.3 448.5L159.8 448.7Z"/>
<path class="k3" d="M151.1 448.8L152.7 448.6L154.2 448.4L155.7 448.2L157.3 448L158.8 447.9L159.8 448.7L158.3 448.8L156.7 449L155.2 449.2L153.7 449.4L152.1 449.6Z"/>
<path class="k0" d="M144.9 449.6L146.5 449.4L148 449.2L149.6 449L151.1 448.8L152.1 449.6L150.6 449.8L149 450L147.5 450.2L145.9 450.4Z"/>
<path class="k3" d="M117.9 452.9L119.5 452.7L121.2 452.5L122.8 452.3L124.4 452.1L126 451.9L127.6 451.7L129.2 451.5L130.8 451.3L132.4 451.1L134 450.9L135.5 450.7L137.1 450.5L138.7 450.3L140.3 450.1L141.8 449.9L143.4 449.8L144.9 449.6L145.9 450.4L144.3 450.6L142.8 450.8L141.2 451L139.6 451.2L138.1 451.4L136.5 451.6L134.9 451.8L133.3 452L131.7 452.2L130.1 452.4L128.5 452.6L126.9 452.8L125.3 453L123.7 453.2L122 453.4L120.4 453.6L118.8 453.8Z"/>
<path class="k4" d="M113 453.5L114.7 453.3L116.3 453.1L117.9 452.9L118.8 453.8L117.1 454L115.5 454.2L113.9 454.4Z"/>
<path class="k6" d="M111.4 453.7L113 453.5L113.9 454.4L112.2 454.6Z"/>
<path class="k8" d="M109.7 453.9L111.4 453.7L112.2 454.6L110.6 454.8Z"/>
<path class="k24" d="M108.1 454.1L109.7 453.9L110.6 454.8L108.9 455Z"/>
<path class="k11" d="M106.4 454.3L108.1 454.1L108.9 455L107.2 455.2Z"/>
<path class="k14" d="M104.8 454.5L106.4 454.3L107.2 455.2L105.6 455.4Z"/>
<path class="k18" d="M103.1 454.7L104.8 454.5L105.6 455.4L103.9 455.6Z"/>
<path class="k21" d="M101.4 454.9L103.1 454.7L103.9 455.6L102.2 455.8Z"/>
<path class="k31" d="M99.8 455.2L101.4 454.9L102.2 455.8L100.5 456Z"/>
<path class="k35" d="M98.1 455.4L99.8 455.2L100.5 456L98.9 456.2Z"/>
<path class="k40" d="M96.4 455.6L98.1 455.4L98.9 456.2L97.2 456.5Z"/>
<path class="k44" d="M94.7 455.8L96.4 455.6L97.2 456.5L95.5 456.7Z"/>
<path class="k47" d="M93 456L94.7 455.8L95.5 456.7L93.8 456.9Z"/>
<path class="k50" d="M91.3 456.2L93 456L93.8 456.9L92.1 457.1Z"/>
<path class="k53" d="M89.6 456.4L91.3 456.2L92.1 457.1L90.4 457.3Z"/>
<path class="k54" d="M68.8 459L70.6 458.8L72.3 458.5L74.1 458.3L75.8 458.1L77.6 457.9L79.3 457.7L81 457.5L82.8 457.3L84.5 457L86.2 456.8L87.9 456.6L89.6 456.4L90.4 457.3L88.6 457.5L86.9 457.7L85.2 457.9L83.5 458.2L81.7 458.4L80 458.6L78.3 458.8L76.5 459L74.8 459.2L73 459.5L71.2 459.7L69.5 459.9Z"/>
<path class="k53" d="M67 459.2L68.8 459L69.5 459.9L67.7 460.1Z"/>
<path class="k52" d="M65.3 459.4L67 459.2L67.7 460.1L65.9 460.3Z"/>
<path class="k51" d="M63.5 459.6L65.3 459.4L65.9 460.3L64.1 460.6Z"/>
<path class="k49" d="M61.7 459.9L63.5 459.6L64.1 460.6L62.3 460.8Z"/>
<path class="k10" d="M165.8 447.9L167.3 447.7L168.4 448.5L166.9 448.7Z"/>
<path class="k8" d="M164.3 448.1L165.8 447.9L166.9 448.7L165.4 448.9Z"/>
<path class="k6" d="M162.8 448.3L164.3 448.1L165.4 448.9L163.9 449.1Z"/>
<path class="k4" d="M159.8 448.7L161.3 448.5L162.8 448.3L163.9 449.1L162.3 449.3L160.8 449.5Z"/>
<path class="k3" d="M120.4 453.6L122 453.4L123.7 453.2L125.3 453L126.9 452.8L128.5 452.6L130.1 452.4L131.7 452.2L133.3 452L134.9 451.8L136.5 451.6L138.1 451.4L139.6 451.2L141.2 451L142.8 450.8L144.3 450.6L145.9 450.4L147.5 450.2L149 450L150.6 449.8L152.1 449.6L153.7 449.4L155.2 449.2L156.7 449L158.3 448.8L159.8 448.7L160.8 449.5L159.3 449.7L157.7 449.9L156.2 450L154.7 450.2L153.1 450.4L151.6 450.6L150 450.8L148.4 451L146.9 451.2L145.3 451.4L143.7 451.6L142.2 451.8L140.6 452L139 452.2L137.4 452.4L135.8 452.6L134.2 452.8L132.6 453L131 453.2L129.4 453.4L127.8 453.6L126.2 453.8L124.5 454L122.9 454.2L121.3 454.4Z"/>
<path class="k4" d="M115.5 454.2L117.1 454L118.8 453.8L120.4 453.6L121.3 454.4L119.6 454.6L118 454.8L116.4 455Z"/>
<path class="k5" d="M113.9 454.4L115.5 454.2L116.4 455L114.7 455.2Z"/>
<path class="k6" d="M112.2 454.6L113.9 454.4L114.7 455.2L113 455.5Z"/>
<path class="k8" d="M110.6 454.8L112.2 454.6L113 455.5L111.4 455.7Z"/>
<path class="k24" d="M108.9 455L110.6 454.8L111.4 455.7L109.7 455.9Z"/>
<path class="k12" d="M107.2 455.2L108.9 455L109.7 455.9L108.1 456.1Z"/>
<path class="k15" d="M105.6 455.4L107.2 455.2L108.1 456.1L106.4 456.3Z"/>
<path class="k18" d="M103.9 455.6L105.6 455.4L106.4 456.3L104.7 456.5Z"/>
<path class="k22" d="M102.2 455.8L103.9 455.6L104.7 456.5L103 456.7Z"/>
<path class="k31" d="M100.5 456L102.2 455.8L103 456.7L101.3 456.9Z"/>
<path class="k36" d="M98.9 456.2L100.5 456L101.3 456.9L99.6 457.1Z"/>
<path class="k41" d="M97.2 456.5L98.9 456.2L99.6 457.1L97.9 457.3Z"/>
<path class="k45" d="M95.5 456.7L97.2 456.5L97.9 457.3L96.2 457.6Z"/>
<path class="k48" d="M93.8 456.9L95.5 456.7L96.2 457.6L94.5 457.8Z"/>
<path class="k51" d="M92.1 457.1L93.8 456.9L94.5 457.8L92.8 458Z"/>
<path class="k53" d="M90.4 457.3L92.1 457.1L92.8 458L91.1 458.2Z"/>
<path class="k54" d="M67.7 460.1L69.5 459.9L71.2 459.7L73 459.5L74.8 459.2L76.5 459L78.3 458.8L80 458.6L81.7 458.4L83.5 458.2L85.2 457.9L86.9 457.7L88.6 457.5L90.4 457.3L91.1 458.2L89.4 458.4L87.7 458.6L85.9 458.9L84.2 459.1L82.5 459.3L80.7 459.5L79 459.7L77.2 459.9L75.4 460.2L73.7 460.4L71.9 460.6L70.1 460.8L68.3 461.1Z"/>
<path class="k53" d="M65.9 460.3L67.7 460.1L68.3 461.1L66.6 461.3Z"/>
<path class="k51" d="M64.1 460.6L65.9 460.3L66.6 461.3L64.8 461.5Z"/>
<path class="k50" d="M62.3 460.8L64.1 460.6L64.8 461.5L63 461.7Z"/>
<path class="k12" d="M166.9 448.7L168.4 448.5L169.4 449.3L167.9 449.5Z"/>
<path class="k24" d="M165.4 448.9L166.9 448.7L167.9 449.5L166.4 449.7Z"/>
<path class="k7" d="M163.9 449.1L165.4 448.9L166.4 449.7L164.9 449.9Z"/>
<path class="k5" d="M162.3 449.3L163.9 449.1L164.9 449.9L163.4 450.1Z"/>
<path class="k4" d="M159.3 449.7L160.8 449.5L162.3 449.3L163.4 450.1L161.8 450.3L160.3 450.5Z"/>
<path class="k3" d="M124.5 454L126.2 453.8L127.8 453.6L129.4 453.4L131 453.2L132.6 453L134.2 452.8L135.8 452.6L137.4 452.4L139 452.2L140.6 452L142.2 451.8L143.7 451.6L145.3 451.4L146.9 451.2L148.4 451L150 450.8L151.6 450.6L153.1 450.4L154.7 450.2L156.2 450L157.7 449.9L159.3 449.7L160.3 450.5L158.8 450.7L157.2 450.9L155.7 451.1L154.1 451.3L152.6 451.5L151 451.7L149.4 451.9L147.9 452.1L146.3 452.3L144.7 452.5L143.1 452.7L141.5 452.9L139.9 453.1L138.4 453.3L136.8 453.5L135.1 453.7L133.5 453.9L131.9 454.1L130.3 454.3L128.7 454.5L127.1 454.7L125.4 454.9Z"/>
<path class="k4" d="M116.4 455L118 454.8L119.6 454.6L121.3 454.4L122.9 454.2L124.5 454L125.4 454.9L123.8 455.1L122.2 455.3L120.5 455.5L118.9 455.7L117.2 455.9Z"/>
<path class="k5" d="M114.7 455.2L116.4 455L117.2 455.9L115.6 456.1Z"/>
<path class="k6" d="M113 455.5L114.7 455.2L115.6 456.1L113.9 456.3Z"/>
<path class="k8" d="M111.4 455.7L113 455.5L113.9 456.3L112.2 456.5Z"/>
<path class="k24" d="M109.7 455.9L111.4 455.7L112.2 456.5L110.6 456.8Z"/>
<path class="k12" d="M108.1 456.1L109.7 455.9L110.6 456.8L108.9 457Z"/>
<path class="k15" d="M106.4 456.3L108.1 456.1L108.9 457L107.2 457.2Z"/>
<path class="k18" d="M104.7 456.5L106.4 456.3L107.2 457.2L105.5 457.4Z"/>
<path class="k22" d="M103 456.7L104.7 456.5L105.5 457.4L103.8 457.6Z"/>
<path class="k32" d="M101.3 456.9L103 456.7L103.8 457.6L102.1 457.8Z"/>
<path class="k37" d="M99.6 457.1L101.3 456.9L102.1 457.8L100.4 458Z"/>
<path class="k41" d="M97.9 457.3L99.6 457.1L100.4 458L98.7 458.3Z"/>
<path class="k46" d="M96.2 457.6L97.9 457.3L98.7 458.3L97 458.5Z"/>
<path class="k49" d="M94.5 457.8L96.2 457.6L97 458.5L95.3 458.7Z"/>
<path class="k52" d="M92.8 458L94.5 457.8L95.3 458.7L93.6 458.9Z"/>
<path class="k54" d="M68.3 461.1L70.1 460.8L71.9 460.6L73.7 460.4L75.4 460.2L77.2 459.9L79 459.7L80.7 459.5L82.5 459.3L84.2 459.1L85.9 458.9L87.7 458.6L89.4 458.4L91.1 458.2L92.8 458L93.6 458.9L91.9 459.1L90.1 459.3L88.4 459.6L86.7 459.8L84.9 460L83.2 460.2L81.4 460.4L79.7 460.7L77.9 460.9L76.1 461.1L74.4 461.3L72.6 461.6L70.8 461.8L69 462Z"/>
<path class="k53" d="M66.6 461.3L68.3 461.1L69 462L67.2 462.2Z"/>
<path class="k52" d="M64.8 461.5L66.6 461.3L67.2 462.2L65.4 462.5Z"/>
<path class="k50" d="M63 461.7L64.8 461.5L65.4 462.5L63.6 462.7Z"/>
<path class="k13" d="M167.9 449.5L169.4 449.3L170.5 450.2L169 450.3Z"/>
<path class="k11" d="M166.4 449.7L167.9 449.5L169 450.3L167.5 450.5Z"/>
<path class="k9" d="M164.9 449.9L166.4 449.7L167.5 450.5L165.9 450.7Z"/>
<path class="k7" d="M163.4 450.1L164.9 449.9L165.9 450.7L164.4 450.9Z"/>
<path class="k5" d="M161.8 450.3L163.4 450.1L164.4 450.9L162.9 451.1Z"/>
<path class="k4" d="M158.8 450.7L160.3 450.5L161.8 450.3L162.9 451.1L161.3 451.3L159.8 451.5Z"/>
<path class="k3" d="M141.5 452.9L143.1 452.7L144.7 452.5L146.3 452.3L147.9 452.1L149.4 451.9L151 451.7L152.6 451.5L154.1 451.3L155.7 451.1L157.2 450.9L158.8 450.7L159.8 451.5L158.2 451.7L156.7 451.9L155.1 452.1L153.6 452.3L152 452.5L150.4 452.7L148.8 452.9L147.3 453.1L145.7 453.3L144.1 453.5L142.5 453.7Z"/>
<path class="k4" d="M118.9 455.7L120.5 455.5L122.2 455.3L123.8 455.1L125.4 454.9L127.1 454.7L128.7 454.5L130.3 454.3L131.9 454.1L133.5 453.9L135.1 453.7L136.8 453.5L138.4 453.3L139.9 453.1L141.5 452.9L142.5 453.7L140.9 453.9L139.3 454.1L137.7 454.3L136.1 454.5L134.5 454.7L132.9 454.9L131.2 455.1L129.6 455.3L128 455.6L126.3 455.8L124.7 456L123.1 456.2L121.4 456.4L119.7 456.6Z"/>
<path class="k5" d="M117.2 455.9L118.9 455.7L119.7 456.6L118.1 456.8Z"/>
<path class="k6" d="M115.6 456.1L117.2 455.9L118.1 456.8L116.4 457Z"/>
<path class="k7" d="M113.9 456.3L115.6 456.1L116.4 457L114.8 457.2Z"/>
<path class="k8" d="M112.2 456.5L113.9 456.3L114.8 457.2L113.1 457.4Z"/>
<path class="k24" d="M110.6 456.8L112.2 456.5L113.1 457.4L111.4 457.7Z"/>
<path class="k12" d="M108.9 457L110.6 456.8L111.4 457.7L109.7 457.9Z"/>
<path class="k15" d="M107.2 457.2L108.9 457L109.7 457.9L108 458.1Z"/>
<path class="k18" d="M105.5 457.4L107.2 457.2L108 458.1L106.3 458.3Z"/>
<path class="k22" d="M103.8 457.6L105.5 457.4L106.3 458.3L104.6 458.5Z"/>
<path class="k32" d="M102.1 457.8L103.8 457.6L104.6 458.5L102.9 458.7Z"/>
<path class="k37" d="M100.4 458L102.1 457.8L102.9 458.7L101.2 458.9Z"/>
<path class="k42" d="M98.7 458.3L100.4 458L101.2 458.9L99.5 459.2Z"/>
<path class="k46" d="M97 458.5L98.7 458.3L99.5 459.2L97.8 459.4Z"/>
<path class="k49" d="M95.3 458.7L97 458.5L97.8 459.4L96.1 459.6Z"/>
<path class="k52" d="M93.6 458.9L95.3 458.7L96.1 459.6L94.4 459.8Z"/>
<path class="k54" d="M69 462L70.8 461.8L72.6 461.6L74.4 461.3L76.1 461.1L77.9 460.9L79.7 460.7L81.4 460.4L83.2 460.2L84.9 460L86.7 459.8L88.4 459.6L90.1 459.3L91.9 459.1L93.6 458.9L94.4 459.8L92.6 460L90.9 460.3L89.2 460.5L87.4 460.7L85.7 460.9L83.9 461.1L82.1 461.4L80.4 461.6L78.6 461.8L76.8 462L75.1 462.3L73.3 462.5L71.5 462.7L69.7 463Z"/>
<path class="k53" d="M67.2 462.2L69 462L69.7 463L67.9 463.2Z"/>
<path class="k52" d="M65.4 462.5L67.2 462.2L67.9 463.2L66.1 463.4Z"/>
<path class="k51" d="M63.6 462.7L65.4 462.5L66.1 463.4L64.3 463.6Z"/>
<path class="k15" d="M169 450.3L170.5 450.2L171.6 451L170.1 451.2Z"/>
<path class="k29" d="M167.5 450.5L169 450.3L170.1 451.2L168.5 451.4Z"/>
<path class="k10" d="M165.9 450.7L167.5 450.5L168.5 451.4L167 451.6Z"/>
<path class="k8" d="M164.4 450.9L165.9 450.7L167 451.6L165.5 451.8Z"/>
<path class="k6" d="M162.9 451.1L164.4 450.9L165.5 451.8L163.9 452Z"/>
<path class="k5" d="M161.3 451.3L162.9 451.1L163.9 452L162.4 452.2Z"/>
<path class="k4" d="M123.1 456.2L124.7 456L126.3 455.8L128 455.6L129.6 455.3L131.2 455.1L132.9 454.9L134.5 454.7L136.1 454.5L137.7 454.3L139.3 454.1L140.9 453.9L142.5 453.7L144.1 453.5L145.7 453.3L147.3 453.1L148.8 452.9L150.4 452.7L152 452.5L153.6 452.3L155.1 452.1L156.7 451.9L158.2 451.7L159.8 451.5L161.3 451.3L162.4 452.2L160.8 452.4L159.3 452.6L157.7 452.8L156.1 453L154.6 453.2L153 453.4L151.4 453.6L149.8 453.8L148.3 454L146.7 454.2L145.1 454.4L143.5 454.6L141.9 454.8L140.3 455L138.7 455.2L137 455.4L135.4 455.6L133.8 455.8L132.2 456L130.5 456.2L128.9 456.4L127.2 456.6L125.6 456.9L123.9 457.1Z"/>
<path class="k5" d="M119.7 456.6L121.4 456.4L123.1 456.2L123.9 457.1L122.3 457.3L120.6 457.5Z"/>
<path class="k6" d="M118.1 456.8L119.7 456.6L120.6 457.5L119 457.7Z"/>
<path class="k7" d="M116.4 457L118.1 456.8L119 457.7L117.3 457.9Z"/>
<path class="k8" d="M114.8 457.2L116.4 457L117.3 457.9L115.6 458.1Z"/>
<path class="k9" d="M113.1 457.4L114.8 457.2L115.6 458.1L113.9 458.3Z"/>
<path class="k10" d="M111.4 457.7L113.1 457.4L113.9 458.3L112.3 458.6Z"/>
<path class="k12" d="M109.7 457.9L111.4 457.7L112.3 458.6L110.6 458.8Z"/>
<path class="k25" d="M108 458.1L109.7 457.9L110.6 458.8L108.9 459Z"/>
<path class="k19" d="M106.3 458.3L108 458.1L108.9 459L107.2 459.2Z"/>
<path class="k23" d="M104.6 458.5L106.3 458.3L107.2 459.2L105.5 459.4Z"/>
<path class="k33" d="M102.9 458.7L104.6 458.5L105.5 459.4L103.8 459.6Z"/>
<path class="k37" d="M101.2 458.9L102.9 458.7L103.8 459.6L102 459.9Z"/>
<path class="k42" d="M99.5 459.2L101.2 458.9L102 459.9L100.3 460.1Z"/>
<path class="k46" d="M97.8 459.4L99.5 459.2L100.3 460.1L98.6 460.3Z"/>
<path class="k49" d="M96.1 459.6L97.8 459.4L98.6 460.3L96.9 460.5Z"/>
<path class="k52" d="M94.4 459.8L96.1 459.6L96.9 460.5L95.1 460.7Z"/>
<path class="k54" d="M69.7 463L71.5 462.7L73.3 462.5L75.1 462.3L76.8 462L78.6 461.8L80.4 461.6L82.1 461.4L83.9 461.1L85.7 460.9L87.4 460.7L89.2 460.5L90.9 460.3L92.6 460L94.4 459.8L95.1 460.7L93.4 461L91.7 461.2L89.9 461.4L88.2 461.6L86.4 461.9L84.6 462.1L82.9 462.3L81.1 462.5L79.3 462.8L77.5 463L75.8 463.2L74 463.5L72.2 463.7L70.4 463.9Z"/>
<path class="k53" d="M67.9 463.2L69.7 463L70.4 463.9L68.6 464.1Z"/>
<path class="k52" d="M66.1 463.4L67.9 463.2L68.6 464.1L66.7 464.4Z"/>
<path class="k51" d="M64.3 463.6L66.1 463.4L66.7 464.4L64.9 464.6Z"/>
<path class="k16" d="M170.1 451.2L171.6 451L172.7 451.8L171.1 452Z"/>
<path class="k27" d="M168.5 451.4L170.1 451.2L171.1 452L169.6 452.2Z"/>
<path class="k12" d="M167 451.6L168.5 451.4L169.6 452.2L168.1 452.4Z"/>
<path class="k10" d="M165.5 451.8L167 451.6L168.1 452.4L166.5 452.6Z"/>
<path class="k8" d="M163.9 452L165.5 451.8L166.5 452.6L165 452.8Z"/>
<path class="k7" d="M162.4 452.2L163.9 452L165 452.8L163.4 453Z"/>
<path class="k5" d="M159.3 452.6L160.8 452.4L162.4 452.2L163.4 453L161.9 453.2L160.3 453.4Z"/>
<path class="k4" d="M146.7 454.2L148.3 454L149.8 453.8L151.4 453.6L153 453.4L154.6 453.2L156.1 453L157.7 452.8L159.3 452.6L160.3 453.4L158.7 453.6L157.2 453.8L155.6 454L154 454.2L152.4 454.4L150.8 454.6L149.3 454.8L147.7 455Z"/>
<path class="k5" d="M125.6 456.9L127.2 456.6L128.9 456.4L130.5 456.2L132.2 456L133.8 455.8L135.4 455.6L137 455.4L138.7 455.2L140.3 455L141.9 454.8L143.5 454.6L145.1 454.4L146.7 454.2L147.7 455L146.1 455.2L144.5 455.4L142.8 455.6L141.2 455.9L139.6 456.1L138 456.3L136.4 456.5L134.7 456.7L133.1 456.9L131.5 457.1L129.8 457.3L128.2 457.5L126.5 457.7Z"/>
<path class="k6" d="M120.6 457.5L122.3 457.3L123.9 457.1L125.6 456.9L126.5 457.7L124.9 458L123.2 458.2L121.5 458.4Z"/>
<path class="k7" d="M119 457.7L120.6 457.5L121.5 458.4L119.9 458.6Z"/>
<path class="k8" d="M117.3 457.9L119 457.7L119.9 458.6L118.2 458.8Z"/>
<path class="k9" d="M115.6 458.1L117.3 457.9L118.2 458.8L116.5 459Z"/>
<path class="k24" d="M113.9 458.3L115.6 458.1L116.5 459L114.8 459.3Z"/>
<path class="k11" d="M112.3 458.6L113.9 458.3L114.8 459.3L113.1 459.5Z"/>
<path class="k29" d="M110.6 458.8L112.3 458.6L113.1 459.5L111.4 459.7Z"/>
<path class="k16" d="M108.9 459L110.6 458.8L111.4 459.7L109.7 459.9Z"/>
<path class="k19" d="M107.2 459.2L108.9 459L109.7 459.9L108 460.1Z"/>
<path class="k23" d="M105.5 459.4L107.2 459.2L108 460.1L106.3 460.3Z"/>
<path class="k33" d="M103.8 459.6L105.5 459.4L106.3 460.3L104.6 460.6Z"/>
<path class="k37" d="M102 459.9L103.8 459.6L104.6 460.6L102.9 460.8Z"/>
<path class="k42" d="M100.3 460.1L102 459.9L102.9 460.8L101.1 461Z"/>
<path class="k46" d="M98.6 460.3L100.3 460.1L101.1 461L99.4 461.2Z"/>
<path class="k49" d="M96.9 460.5L98.6 460.3L99.4 461.2L97.7 461.5Z"/>
<path class="k52" d="M95.1 460.7L96.9 460.5L97.7 461.5L95.9 461.7Z"/>
<path class="k54" d="M70.4 463.9L72.2 463.7L74 463.5L75.8 463.2L77.5 463L79.3 462.8L81.1 462.5L82.9 462.3L84.6 462.1L86.4 461.9L88.2 461.6L89.9 461.4L91.7 461.2L93.4 461L95.1 460.7L95.9 461.7L94.2 461.9L92.4 462.1L90.7 462.4L88.9 462.6L87.2 462.8L85.4 463L83.6 463.3L81.8 463.5L80.1 463.7L78.3 464L76.5 464.2L74.7 464.4L72.9 464.7L71 464.9Z"/>
<path class="k53" d="M68.6 464.1L70.4 463.9L71 464.9L69.2 465.1Z"/>
<path class="k52" d="M66.7 464.4L68.6 464.1L69.2 465.1L67.4 465.4Z"/>
<path class="k51" d="M64.9 464.6L66.7 464.4L67.4 465.4L65.6 465.6Z"/>
<path class="k18" d="M171.1 452L172.7 451.8L173.8 452.7L172.2 452.8Z"/>
<path class="k25" d="M169.6 452.2L171.1 452L172.2 452.8L170.7 453Z"/>
<path class="k27" d="M168.1 452.4L169.6 452.2L170.7 453L169.1 453.2Z"/>
<path class="k12" d="M166.5 452.6L168.1 452.4L169.1 453.2L167.6 453.5Z"/>
<path class="k10" d="M165 452.8L166.5 452.6L167.6 453.5L166 453.7Z"/>
<path class="k9" d="M163.4 453L165 452.8L166 453.7L164.5 453.9Z"/>
<path class="k8" d="M161.9 453.2L163.4 453L164.5 453.9L162.9 454.1Z"/>
<path class="k7" d="M160.3 453.4L161.9 453.2L162.9 454.1L161.4 454.3Z"/>
<path class="k6" d="M147.7 455L149.3 454.8L150.8 454.6L152.4 454.4L154 454.2L155.6 454L157.2 453.8L158.7 453.6L160.3 453.4L161.4 454.3L159.8 454.5L158.2 454.7L156.6 454.9L155 455.1L153.5 455.3L151.9 455.5L150.3 455.7L148.7 455.9Z"/>
<path class="k7" d="M136.4 456.5L138 456.3L139.6 456.1L141.2 455.9L142.8 455.6L144.5 455.4L146.1 455.2L147.7 455L148.7 455.9L147.1 456.1L145.4 456.3L143.8 456.5L142.2 456.7L140.6 456.9L139 457.2L137.3 457.4Z"/>
<path class="k6" d="M128.2 457.5L129.8 457.3L131.5 457.1L133.1 456.9L134.7 456.7L136.4 456.5L137.3 457.4L135.7 457.6L134 457.8L132.4 458L130.8 458.2L129.1 458.4Z"/>
<path class="k7" d="M123.2 458.2L124.9 458L126.5 457.7L128.2 457.5L129.1 458.4L127.4 458.7L125.8 458.9L124.1 459.1Z"/>
<path class="k8" d="M119.9 458.6L121.5 458.4L123.2 458.2L124.1 459.1L122.4 459.3L120.7 459.5Z"/>
<path class="k9" d="M118.2 458.8L119.9 458.6L120.7 459.5L119.1 459.7Z"/>
<path class="k24" d="M116.5 459L118.2 458.8L119.1 459.7L117.4 460Z"/>
<path class="k10" d="M114.8 459.3L116.5 459L117.4 460L115.7 460.2Z"/>
<path class="k11" d="M113.1 459.5L114.8 459.3L115.7 460.2L114 460.4Z"/>
<path class="k27" d="M111.4 459.7L113.1 459.5L114 460.4L112.3 460.6Z"/>
<path class="k28" d="M109.7 459.9L111.4 459.7L112.3 460.6L110.6 460.8Z"/>
<path class="k19" d="M108 460.1L109.7 459.9L110.6 460.8L108.9 461.1Z"/>
<path class="k23" d="M106.3 460.3L108 460.1L108.9 461.1L107.1 461.3Z"/>
<path class="k33" d="M104.6 460.6L106.3 460.3L107.1 461.3L105.4 461.5Z"/>
<path class="k37" d="M102.9 460.8L104.6 460.6L105.4 461.5L103.7 461.7Z"/>
<path class="k42" d="M101.1 461L102.9 460.8L103.7 461.7L102 462Z"/>
<path class="k45" d="M99.4 461.2L101.1 461L102 462L100.2 462.2Z"/>
<path class="k49" d="M97.7 461.5L99.4 461.2L100.2 462.2L98.5 462.4Z"/>
<path class="k51" d="M95.9 461.7L97.7 461.5L98.5 462.4L96.7 462.6Z"/>
<path class="k53" d="M94.2 461.9L95.9 461.7L96.7 462.6L95 462.9Z"/>
<path class="k54" d="M71 464.9L72.9 464.7L74.7 464.4L76.5 464.2L78.3 464L80.1 463.7L81.8 463.5L83.6 463.3L85.4 463L87.2 462.8L88.9 462.6L90.7 462.4L92.4 462.1L94.2 461.9L95 462.9L93.2 463.1L91.5 463.3L89.7 463.5L87.9 463.8L86.1 464L84.4 464.2L82.6 464.5L80.8 464.7L79 464.9L77.2 465.2L75.4 465.4L73.6 465.6L71.7 465.9Z"/>
<path class="k53" d="M69.2 465.1L71 464.9L71.7 465.9L69.9 466.1Z"/>
<path class="k52" d="M67.4 465.4L69.2 465.1L69.9 466.1L68.1 466.3Z"/>
<path class="k51" d="M65.6 465.6L67.4 465.4L68.1 466.3L66.2 466.6Z"/>
<path class="k20" d="M172.2 452.8L173.8 452.7L174.9 453.5L173.3 453.7Z"/>
<path class="k17" d="M170.7 453L172.2 452.8L173.3 453.7L171.8 453.9Z"/>
<path class="k25" d="M169.1 453.2L170.7 453L171.8 453.9L170.2 454.1Z"/>
<path class="k27" d="M167.6 453.5L169.1 453.2L170.2 454.1L168.7 454.3Z"/>
<path class="k29" d="M166 453.7L167.6 453.5L168.7 454.3L167.1 454.5Z"/>
<path class="k11" d="M164.5 453.9L166 453.7L167.1 454.5L165.6 454.7Z"/>
<path class="k10" d="M162.9 454.1L164.5 453.9L165.6 454.7L164 454.9Z"/>
<path class="k24" d="M161.4 454.3L162.9 454.1L164 454.9L162.4 455.1Z"/>
<path class="k9" d="M158.2 454.7L159.8 454.5L161.4 454.3L162.4 455.1L160.8 455.3L159.3 455.5Z"/>
<path class="k8" d="M151.9 455.5L153.5 455.3L155 455.1L156.6 454.9L158.2 454.7L159.3 455.5L157.7 455.7L156.1 455.9L154.5 456.2L152.9 456.4Z"/>
<path class="k9" d="M134 457.8L135.7 457.6L137.3 457.4L139 457.2L140.6 456.9L142.2 456.7L143.8 456.5L145.4 456.3L147.1 456.1L148.7 455.9L150.3 455.7L151.9 455.5L152.9 456.4L151.3 456.6L149.7 456.8L148.1 457L146.4 457.2L144.8 457.4L143.2 457.6L141.6 457.8L139.9 458.1L138.3 458.3L136.7 458.5L135 458.7Z"/>
<path class="k8" d="M124.1 459.1L125.8 458.9L127.4 458.7L129.1 458.4L130.8 458.2L132.4 458L134 457.8L135 458.7L133.4 458.9L131.7 459.1L130 459.3L128.4 459.6L126.7 459.8L125 460Z"/>
<path class="k9" d="M120.7 459.5L122.4 459.3L124.1 459.1L125 460L123.3 460.2L121.7 460.4Z"/>
<path class="k24" d="M117.4 460L119.1 459.7L120.7 459.5L121.7 460.4L120 460.7L118.3 460.9Z"/>
<path class="k10" d="M115.7 460.2L117.4 460L118.3 460.9L116.6 461.1Z"/>
<path class="k12" d="M114 460.4L115.7 460.2L116.6 461.1L114.9 461.3Z"/>
<path class="k14" d="M112.3 460.6L114 460.4L114.9 461.3L113.2 461.5Z"/>
<path class="k17" d="M110.6 460.8L112.3 460.6L113.2 461.5L111.4 461.8Z"/>
<path class="k20" d="M108.9 461.1L110.6 460.8L111.4 461.8L109.7 462Z"/>
<path class="k23" d="M107.1 461.3L108.9 461.1L109.7 462L108 462.2Z"/>
<path class="k33" d="M105.4 461.5L107.1 461.3L108 462.2L106.3 462.4Z"/>
<path class="k37" d="M103.7 461.7L105.4 461.5L106.3 462.4L104.5 462.7Z"/>
<path class="k41" d="M102 462L103.7 461.7L104.5 462.7L102.8 462.9Z"/>
<path class="k45" d="M100.2 462.2L102 462L102.8 462.9L101 463.1Z"/>
<path class="k48" d="M98.5 462.4L100.2 462.2L101 463.1L99.3 463.4Z"/>
<path class="k51" d="M96.7 462.6L98.5 462.4L99.3 463.4L97.5 463.6Z"/>
<path class="k53" d="M95 462.9L96.7 462.6L97.5 463.6L95.8 463.8Z"/>
<path class="k54" d="M71.7 465.9L73.6 465.6L75.4 465.4L77.2 465.2L79 464.9L80.8 464.7L82.6 464.5L84.4 464.2L86.1 464L87.9 463.8L89.7 463.5L91.5 463.3L93.2 463.1L95 462.9L95.8 463.8L94 464L92.2 464.3L90.5 464.5L88.7 464.7L86.9 465L85.1 465.2L83.3 465.4L81.5 465.7L79.7 465.9L77.9 466.1L76.1 466.4L74.3 466.6L72.4 466.9Z"/>
<path class="k53" d="M69.9 466.1L71.7 465.9L72.4 466.9L70.6 467.1Z"/>
<path class="k52" d="M68.1 466.3L69.9 466.1L70.6 467.1L68.8 467.3Z"/>
<path class="k51" d="M66.2 466.6L68.1 466.3L68.8 467.3L66.9 467.6Z"/>
<path class="k22" d="M173.3 453.7L174.9 453.5L176 454.4L174.4 454.6Z"/>
<path class="k20" d="M171.8 453.9L173.3 453.7L174.4 454.6L172.9 454.8Z"/>
<path class="k18" d="M170.2 454.1L171.8 453.9L172.9 454.8L171.3 455Z"/>
<path class="k16" d="M168.7 454.3L170.2 454.1L171.3 455L169.8 455.2Z"/>
<path class="k14" d="M167.1 454.5L168.7 454.3L169.8 455.2L168.2 455.4Z"/>
<path class="k13" d="M165.6 454.7L167.1 454.5L168.2 455.4L166.6 455.6Z"/>
<path class="k12" d="M164 454.9L165.6 454.7L166.6 455.6L165.1 455.8Z"/>
<path class="k11" d="M160.8 455.3L162.4 455.1L164 454.9L165.1 455.8L163.5 456L161.9 456.2Z"/>
<path class="k10" d="M149.7 456.8L151.3 456.6L152.9 456.4L154.5 456.2L156.1 455.9L157.7 455.7L159.3 455.5L160.8 455.3L161.9 456.2L160.3 456.4L158.7 456.6L157.1 456.8L155.5 457L153.9 457.3L152.3 457.5L150.7 457.7Z"/>
<path class="k11" d="M139.9 458.1L141.6 457.8L143.2 457.6L144.8 457.4L146.4 457.2L148.1 457L149.7 456.8L150.7 457.7L149.1 457.9L147.5 458.1L145.8 458.3L144.2 458.5L142.6 458.7L140.9 459Z"/>
<path class="k10" d="M133.4 458.9L135 458.7L136.7 458.5L138.3 458.3L139.9 458.1L140.9 459L139.3 459.2L137.6 459.4L136 459.6L134.3 459.8Z"/>
<path class="k24" d="M128.4 459.6L130 459.3L131.7 459.1L133.4 458.9L134.3 459.8L132.6 460L131 460.3L129.3 460.5Z"/>
<path class="k9" d="M125 460L126.7 459.8L128.4 459.6L129.3 460.5L127.6 460.7L125.9 460.9Z"/>
<path class="k24" d="M121.7 460.4L123.3 460.2L125 460L125.9 460.9L124.3 461.1L122.6 461.4Z"/>
<path class="k10" d="M118.3 460.9L120 460.7L121.7 460.4L122.6 461.4L120.9 461.6L119.2 461.8Z"/>
<path class="k11" d="M116.6 461.1L118.3 460.9L119.2 461.8L117.5 462Z"/>
<path class="k29" d="M114.9 461.3L116.6 461.1L117.5 462L115.7 462.3Z"/>
<path class="k15" d="M113.2 461.5L114.9 461.3L115.7 462.3L114 462.5Z"/>
<path class="k17" d="M111.4 461.8L113.2 461.5L114 462.5L112.3 462.7Z"/>
<path class="k20" d="M109.7 462L111.4 461.8L112.3 462.7L110.6 462.9Z"/>
<path class="k26" d="M108 462.2L109.7 462L110.6 462.9L108.8 463.2Z"/>
<path class="k33" d="M106.3 462.4L108 462.2L108.8 463.2L107.1 463.4Z"/>
<path class="k37" d="M104.5 462.7L106.3 462.4L107.1 463.4L105.4 463.6Z"/>
<path class="k41" d="M102.8 462.9L104.5 462.7L105.4 463.6L103.6 463.9Z"/>
<path class="k45" d="M101 463.1L102.8 462.9L103.6 463.9L101.9 464.1Z"/>
<path class="k48" d="M99.3 463.4L101 463.1L101.9 464.1L100.1 464.3Z"/>
<path class="k51" d="M97.5 463.6L99.3 463.4L100.1 464.3L98.4 464.5Z"/>
<path class="k53" d="M95.8 463.8L97.5 463.6L98.4 464.5L96.6 464.8Z"/>
<path class="k54" d="M72.4 466.9L74.3 466.6L76.1 466.4L77.9 466.1L79.7 465.9L81.5 465.7L83.3 465.4L85.1 465.2L86.9 465L88.7 464.7L90.5 464.5L92.2 464.3L94 464L95.8 463.8L96.6 464.8L94.8 465L93 465.2L91.3 465.5L89.5 465.7L87.7 465.9L85.9 466.2L84.1 466.4L82.3 466.7L80.5 466.9L78.6 467.1L76.8 467.4L75 467.6L73.1 467.9Z"/>
<path class="k53" d="M70.6 467.1L72.4 466.9L73.1 467.9L71.3 468.1Z"/>
<path class="k52" d="M68.8 467.3L70.6 467.1L71.3 468.1L69.5 468.3Z"/>
<path class="k51" d="M66.9 467.6L68.8 467.3L69.5 468.3L67.6 468.6Z"/>
<path class="k26" d="M174.4 454.6L176 454.4L177.1 455.2L175.6 455.4Z"/>
<path class="k22" d="M172.9 454.8L174.4 454.6L175.6 455.4L174 455.6Z"/>
<path class="k20" d="M171.3 455L172.9 454.8L174 455.6L172.4 455.8Z"/>
<path class="k18" d="M169.8 455.2L171.3 455L172.4 455.8L170.9 456Z"/>
<path class="k16" d="M168.2 455.4L169.8 455.2L170.9 456L169.3 456.3Z"/>
<path class="k15" d="M166.6 455.6L168.2 455.4L169.3 456.3L167.7 456.5Z"/>
<path class="k14" d="M165.1 455.8L166.6 455.6L167.7 456.5L166.1 456.7Z"/>
<path class="k13" d="M163.5 456L165.1 455.8L166.1 456.7L164.6 456.9Z"/>
<path class="k29" d="M137.6 459.4L139.3 459.2L140.9 459L142.6 458.7L144.2 458.5L145.8 458.3L147.5 458.1L149.1 457.9L150.7 457.7L152.3 457.5L153.9 457.3L155.5 457L157.1 456.8L158.7 456.6L160.3 456.4L161.9 456.2L163.5 456L164.6 456.9L163 457.1L161.4 457.3L159.8 457.5L158.2 457.7L156.6 457.9L155 458.1L153.3 458.4L151.7 458.6L150.1 458.8L148.5 459L146.8 459.2L145.2 459.4L143.6 459.7L141.9 459.9L140.3 460.1L138.6 460.3Z"/>
<path class="k12" d="M134.3 459.8L136 459.6L137.6 459.4L138.6 460.3L136.9 460.5L135.3 460.7Z"/>
<path class="k11" d="M131 460.3L132.6 460L134.3 459.8L135.3 460.7L133.6 461L131.9 461.2Z"/>
<path class="k10" d="M129.3 460.5L131 460.3L131.9 461.2L130.3 461.4Z"/>
<path class="k24" d="M124.3 461.1L125.9 460.9L127.6 460.7L129.3 460.5L130.3 461.4L128.6 461.6L126.9 461.9L125.2 462.1Z"/>
<path class="k10" d="M122.6 461.4L124.3 461.1L125.2 462.1L123.5 462.3Z"/>
<path class="k11" d="M120.9 461.6L122.6 461.4L123.5 462.3L121.8 462.5Z"/>
<path class="k12" d="M119.2 461.8L120.9 461.6L121.8 462.5L120.1 462.8Z"/>
<path class="k29" d="M117.5 462L119.2 461.8L120.1 462.8L118.4 463Z"/>
<path class="k14" d="M115.7 462.3L117.5 462L118.4 463L116.6 463.2Z"/>
<path class="k28" d="M114 462.5L115.7 462.3L116.6 463.2L114.9 463.4Z"/>
<path class="k19" d="M112.3 462.7L114 462.5L114.9 463.4L113.2 463.7Z"/>
<path class="k22" d="M110.6 462.9L112.3 462.7L113.2 463.7L111.5 463.9Z"/>
<path class="k30" d="M108.8 463.2L110.6 462.9L111.5 463.9L109.7 464.1Z"/>
<path class="k34" d="M107.1 463.4L108.8 463.2L109.7 464.1L108 464.4Z"/>
<path class="k38" d="M105.4 463.6L107.1 463.4L108 464.4L106.2 464.6Z"/>
<path class="k41" d="M103.6 463.9L105.4 463.6L106.2 464.6L104.5 464.8Z"/>
<path class="k45" d="M101.9 464.1L103.6 463.9L104.5 464.8L102.7 465.1Z"/>
<path class="k48" d="M100.1 464.3L101.9 464.1L102.7 465.1L100.9 465.3Z"/>
<path class="k50" d="M98.4 464.5L100.1 464.3L100.9 465.3L99.2 465.5Z"/>
<path class="k52" d="M96.6 464.8L98.4 464.5L99.2 465.5L97.4 465.8Z"/>
<path class="k54" d="M73.1 467.9L75 467.6L76.8 467.4L78.6 467.1L80.5 466.9L82.3 466.7L84.1 466.4L85.9 466.2L87.7 465.9L89.5 465.7L91.3 465.5L93 465.2L94.8 465L96.6 464.8L97.4 465.8L95.6 466L93.8 466.2L92 466.5L90.3 466.7L88.5 466.9L86.6 467.2L84.8 467.4L83 467.7L81.2 467.9L79.4 468.1L77.5 468.4L75.7 468.6L73.9 468.9Z"/>
<path class="k53" d="M71.3 468.1L73.1 467.9L73.9 468.9L72 469.1Z"/>
<path class="k52" d="M69.5 468.3L71.3 468.1L72 469.1L70.2 469.4Z"/>
<path class="k51" d="M67.6 468.6L69.5 468.3L70.2 469.4L68.3 469.6Z"/>
<path class="k30" d="M175.6 455.4L177.1 455.2L178.2 456.1L176.7 456.3Z"/>
<path class="k23" d="M174 455.6L175.6 455.4L176.7 456.3L175.1 456.5Z"/>
<path class="k22" d="M172.4 455.8L174 455.6L175.1 456.5L173.6 456.7Z"/>
<path class="k20" d="M170.9 456L172.4 455.8L173.6 456.7L172 456.9Z"/>
<path class="k19" d="M169.3 456.3L170.9 456L172 456.9L170.4 457.1Z"/>
<path class="k17" d="M167.7 456.5L169.3 456.3L170.4 457.1L168.8 457.3Z"/>
<path class="k16" d="M166.1 456.7L167.7 456.5L168.8 457.3L167.2 457.6Z"/>
<path class="k25" d="M164.6 456.9L166.1 456.7L167.2 457.6L165.6 457.8Z"/>
<path class="k15" d="M163 457.1L164.6 456.9L165.6 457.8L164.1 458Z"/>
<path class="k14" d="M151.7 458.6L153.3 458.4L155 458.1L156.6 457.9L158.2 457.7L159.8 457.5L161.4 457.3L163 457.1L164.1 458L162.5 458.2L160.8 458.4L159.2 458.6L157.6 458.8L156 459L154.4 459.3L152.8 459.5Z"/>
<path class="k15" d="M145.2 459.4L146.8 459.2L148.5 459L150.1 458.8L151.7 458.6L152.8 459.5L151.1 459.7L149.5 459.9L147.9 460.1L146.2 460.4Z"/>
<path class="k14" d="M140.3 460.1L141.9 459.9L143.6 459.7L145.2 459.4L146.2 460.4L144.6 460.6L142.9 460.8L141.3 461Z"/>
<path class="k27" d="M136.9 460.5L138.6 460.3L140.3 460.1L141.3 461L139.6 461.2L137.9 461.5Z"/>
<path class="k13" d="M135.3 460.7L136.9 460.5L137.9 461.5L136.3 461.7Z"/>
<path class="k29" d="M133.6 461L135.3 460.7L136.3 461.7L134.6 461.9Z"/>
<path class="k12" d="M131.9 461.2L133.6 461L134.6 461.9L132.9 462.1Z"/>
<path class="k11" d="M128.6 461.6L130.3 461.4L131.9 461.2L132.9 462.1L131.2 462.4L129.5 462.6Z"/>
<path class="k10" d="M126.9 461.9L128.6 461.6L129.5 462.6L127.8 462.8Z"/>
<path class="k11" d="M123.5 462.3L125.2 462.1L126.9 461.9L127.8 462.8L126.1 463L124.4 463.3Z"/>
<path class="k12" d="M121.8 462.5L123.5 462.3L124.4 463.3L122.7 463.5Z"/>
<path class="k13" d="M120.1 462.8L121.8 462.5L122.7 463.5L121 463.7Z"/>
<path class="k14" d="M118.4 463L120.1 462.8L121 463.7L119.3 463.9Z"/>
<path class="k16" d="M116.6 463.2L118.4 463L119.3 463.9L117.5 464.2Z"/>
<path class="k18" d="M114.9 463.4L116.6 463.2L117.5 464.2L115.8 464.4Z"/>
<path class="k20" d="M113.2 463.7L114.9 463.4L115.8 464.4L114.1 464.6Z"/>
<path class="k23" d="M111.5 463.9L113.2 463.7L114.1 464.6L112.3 464.9Z"/>
<path class="k31" d="M109.7 464.1L111.5 463.9L112.3 464.9L110.6 465.1Z"/>
<path class="k35" d="M108 464.4L109.7 464.1L110.6 465.1L108.8 465.3Z"/>
<path class="k39" d="M106.2 464.6L108 464.4L108.8 465.3L107.1 465.6Z"/>
<path class="k42" d="M104.5 464.8L106.2 464.6L107.1 465.6L105.3 465.8Z"/>
<path class="k45" d="M102.7 465.1L104.5 464.8L105.3 465.8L103.6 466Z"/>
<path class="k48" d="M100.9 465.3L102.7 465.1L103.6 466L101.8 466.3Z"/>
<path class="k50" d="M99.2 465.5L100.9 465.3L101.8 466.3L100 466.5Z"/>
<path class="k52" d="M97.4 465.8L99.2 465.5L100 466.5L98.2 466.7Z"/>
<path class="k54" d="M73.9 468.9L75.7 468.6L77.5 468.4L79.4 468.1L81.2 467.9L83 467.7L84.8 467.4L86.6 467.2L88.5 466.9L90.3 466.7L92 466.5L93.8 466.2L95.6 466L97.4 465.8L98.2 466.7L96.4 467L94.6 467.2L92.8 467.5L91 467.7L89.2 467.9L87.4 468.2L85.6 468.4L83.8 468.7L81.9 468.9L80.1 469.1L78.3 469.4L76.4 469.6L74.6 469.9Z"/>
<path class="k53" d="M72 469.1L73.9 468.9L74.6 469.9L72.7 470.1Z"/>
<path class="k52" d="M70.2 469.4L72 469.1L72.7 470.1L70.9 470.4Z"/>
<path class="k51" d="M68.3 469.6L70.2 469.4L70.9 470.4L69 470.6Z"/>
<path class="k32" d="M176.7 456.3L178.2 456.1L179.4 457L177.8 457.2Z"/>
<path class="k30" d="M175.1 456.5L176.7 456.3L177.8 457.2L176.3 457.4Z"/>
<path class="k23" d="M173.6 456.7L175.1 456.5L176.3 457.4L174.7 457.6Z"/>
<path class="k22" d="M172 456.9L173.6 456.7L174.7 457.6L173.1 457.8Z"/>
<path class="k21" d="M170.4 457.1L172 456.9L173.1 457.8L171.5 458Z"/>
<path class="k20" d="M168.8 457.3L170.4 457.1L171.5 458L169.9 458.2Z"/>
<path class="k19" d="M167.2 457.6L168.8 457.3L169.9 458.2L168.3 458.5Z"/>
<path class="k17" d="M165.6 457.8L167.2 457.6L168.3 458.5L166.7 458.7Z"/>
<path class="k28" d="M162.5 458.2L164.1 458L165.6 457.8L166.7 458.7L165.1 458.9L163.5 459.1Z"/>
<path class="k16" d="M152.8 459.5L154.4 459.3L156 459L157.6 458.8L159.2 458.6L160.8 458.4L162.5 458.2L163.5 459.1L161.9 459.3L160.3 459.5L158.7 459.7L157.1 460L155.4 460.2L153.8 460.4Z"/>
<path class="k28" d="M146.2 460.4L147.9 460.1L149.5 459.9L151.1 459.7L152.8 459.5L153.8 460.4L152.2 460.6L150.5 460.8L148.9 461.1L147.2 461.3Z"/>
<path class="k16" d="M141.3 461L142.9 460.8L144.6 460.6L146.2 460.4L147.2 461.3L145.6 461.5L143.9 461.7L142.3 461.9Z"/>
<path class="k25" d="M139.6 461.2L141.3 461L142.3 461.9L140.6 462.2Z"/>
<path class="k15" d="M137.9 461.5L139.6 461.2L140.6 462.2L138.9 462.4Z"/>
<path class="k14" d="M136.3 461.7L137.9 461.5L138.9 462.4L137.2 462.6Z"/>
<path class="k27" d="M134.6 461.9L136.3 461.7L137.2 462.6L135.6 462.8Z"/>
<path class="k13" d="M132.9 462.1L134.6 461.9L135.6 462.8L133.9 463.1Z"/>
<path class="k29" d="M131.2 462.4L132.9 462.1L133.9 463.1L132.2 463.3Z"/>
<path class="k12" d="M126.1 463L127.8 462.8L129.5 462.6L131.2 462.4L132.2 463.3L130.5 463.5L128.8 463.8L127.1 464Z"/>
<path class="k29" d="M124.4 463.3L126.1 463L127.1 464L125.4 464.2Z"/>
<path class="k13" d="M122.7 463.5L124.4 463.3L125.4 464.2L123.6 464.4Z"/>
<path class="k15" d="M121 463.7L122.7 463.5L123.6 464.4L121.9 464.7Z"/>
<path class="k28" d="M119.3 463.9L121 463.7L121.9 464.7L120.2 464.9Z"/>
<path class="k18" d="M117.5 464.2L119.3 463.9L120.2 464.9L118.5 465.1Z"/>
<path class="k20" d="M115.8 464.4L117.5 464.2L118.5 465.1L116.7 465.4Z"/>
<path class="k22" d="M114.1 464.6L115.8 464.4L116.7 465.4L115 465.6Z"/>
<path class="k30" d="M112.3 464.9L114.1 464.6L115 465.6L113.2 465.8Z"/>
<path class="k33" d="M110.6 465.1L112.3 464.9L113.2 465.8L111.5 466.1Z"/>
<path class="k36" d="M108.8 465.3L110.6 465.1L111.5 466.1L109.7 466.3Z"/>
<path class="k40" d="M107.1 465.6L108.8 465.3L109.7 466.3L107.9 466.5Z"/>
<path class="k43" d="M105.3 465.8L107.1 465.6L107.9 466.5L106.2 466.8Z"/>
<path class="k46" d="M103.6 466L105.3 465.8L106.2 466.8L104.4 467Z"/>
<path class="k49" d="M101.8 466.3L103.6 466L104.4 467L102.6 467.3Z"/>
<path class="k51" d="M100 466.5L101.8 466.3L102.6 467.3L100.8 467.5Z"/>
<path class="k52" d="M98.2 466.7L100 466.5L100.8 467.5L99.1 467.7Z"/>
<path class="k54" d="M76.4 469.6L78.3 469.4L80.1 469.1L81.9 468.9L83.8 468.7L85.6 468.4L87.4 468.2L89.2 467.9L91 467.7L92.8 467.5L94.6 467.2L96.4 467L98.2 466.7L99.1 467.7L97.3 468L95.5 468.2L93.7 468.5L91.8 468.7L90 468.9L88.2 469.2L86.4 469.4L84.5 469.7L82.7 469.9L80.9 470.2L79 470.4L77.2 470.7Z"/>
<path class="k53" d="M72.7 470.1L74.6 469.9L76.4 469.6L77.2 470.7L75.3 470.9L73.4 471.2Z"/>
<path class="k52" d="M70.9 470.4L72.7 470.1L73.4 471.2L71.6 471.4Z"/>
<path class="k51" d="M69 470.6L70.9 470.4L71.6 471.4L69.7 471.7Z"/>
<path class="k34" d="M177.8 457.2L179.4 457L180.5 457.9L179 458.1Z"/>
<path class="k32" d="M176.3 457.4L177.8 457.2L179 458.1L177.4 458.3Z"/>
<path class="k30" d="M174.7 457.6L176.3 457.4L177.4 458.3L175.8 458.5Z"/>
<path class="k26" d="M173.1 457.8L174.7 457.6L175.8 458.5L174.2 458.7Z"/>
<path class="k22" d="M171.5 458L173.1 457.8L174.2 458.7L172.6 458.9Z"/>
<path class="k21" d="M168.3 458.5L169.9 458.2L171.5 458L172.6 458.9L171.1 459.1L169.5 459.4Z"/>
<path class="k20" d="M166.7 458.7L168.3 458.5L169.5 459.4L167.9 459.6Z"/>
<path class="k19" d="M163.5 459.1L165.1 458.9L166.7 458.7L167.9 459.6L166.2 459.8L164.6 460Z"/>
<path class="k18" d="M153.8 460.4L155.4 460.2L157.1 460L158.7 459.7L160.3 459.5L161.9 459.3L163.5 459.1L164.6 460L163 460.2L161.4 460.4L159.8 460.7L158.1 460.9L156.5 461.1L154.9 461.3Z"/>
<path class="k19" d="M147.2 461.3L148.9 461.1L150.5 460.8L152.2 460.6L153.8 460.4L154.9 461.3L153.2 461.5L151.6 461.8L149.9 462L148.3 462.2Z"/>
<path class="k18" d="M143.9 461.7L145.6 461.5L147.2 461.3L148.3 462.2L146.6 462.4L144.9 462.7Z"/>
<path class="k17" d="M140.6 462.2L142.3 461.9L143.9 461.7L144.9 462.7L143.3 462.9L141.6 463.1Z"/>
<path class="k28" d="M138.9 462.4L140.6 462.2L141.6 463.1L139.9 463.3Z"/>
<path class="k16" d="M137.2 462.6L138.9 462.4L139.9 463.3L138.2 463.6Z"/>
<path class="k25" d="M135.6 462.8L137.2 462.6L138.2 463.6L136.5 463.8Z"/>
<path class="k15" d="M133.9 463.1L135.6 462.8L136.5 463.8L134.8 464Z"/>
<path class="k27" d="M132.2 463.3L133.9 463.1L134.8 464L133.1 464.3Z"/>
<path class="k13" d="M127.1 464L128.8 463.8L130.5 463.5L132.2 463.3L133.1 464.3L131.4 464.5L129.7 464.7L128 464.9Z"/>
<path class="k27" d="M125.4 464.2L127.1 464L128 464.9L126.3 465.2Z"/>
<path class="k15" d="M123.6 464.4L125.4 464.2L126.3 465.2L124.6 465.4Z"/>
<path class="k28" d="M121.9 464.7L123.6 464.4L124.6 465.4L122.8 465.6Z"/>
<path class="k18" d="M120.2 464.9L121.9 464.7L122.8 465.6L121.1 465.9Z"/>
<path class="k20" d="M118.5 465.1L120.2 464.9L121.1 465.9L119.4 466.1Z"/>
<path class="k22" d="M116.7 465.4L118.5 465.1L119.4 466.1L117.6 466.3Z"/>
<path class="k26" d="M115 465.6L116.7 465.4L117.6 466.3L115.9 466.6Z"/>
<path class="k32" d="M113.2 465.8L115 465.6L115.9 466.6L114.1 466.8Z"/>
<path class="k35" d="M111.5 466.1L113.2 465.8L114.1 466.8L112.4 467.1Z"/>
<path class="k38" d="M109.7 466.3L111.5 466.1L112.4 467.1L110.6 467.3Z"/>
<path class="k41" d="M107.9 466.5L109.7 466.3L110.6 467.3L108.8 467.5Z"/>
<path class="k44" d="M106.2 466.8L107.9 466.5L108.8 467.5L107 467.8Z"/>
<path class="k47" d="M104.4 467L106.2 466.8L107 467.8L105.3 468Z"/>
<path class="k49" d="M102.6 467.3L104.4 467L105.3 468L103.5 468.3Z"/>
<path class="k51" d="M100.8 467.5L102.6 467.3L103.5 468.3L101.7 468.5Z"/>
<path class="k53" d="M99.1 467.7L100.8 467.5L101.7 468.5L99.9 468.7Z"/>
<path class="k54" d="M77.2 470.7L79 470.4L80.9 470.2L82.7 469.9L84.5 469.7L86.4 469.4L88.2 469.2L90 468.9L91.8 468.7L93.7 468.5L95.5 468.2L97.3 468L99.1 467.7L99.9 468.7L98.1 469L96.3 469.2L94.5 469.5L92.6 469.7L90.8 470L89 470.2L87.2 470.5L85.3 470.7L83.5 471L81.6 471.2L79.8 471.5L77.9 471.7Z"/>
<path class="k53" d="M75.3 470.9L77.2 470.7L77.9 471.7L76 472Z"/>
<path class="k52" d="M71.6 471.4L73.4 471.2L75.3 470.9L76 472L74.2 472.2L72.3 472.5Z"/>
<path class="k51" d="M69.7 471.7L71.6 471.4L72.3 472.5L70.4 472.7Z"/>
<path class="k35" d="M179 458.1L180.5 457.9L181.7 458.8L180.1 459Z"/>
<path class="k33" d="M177.4 458.3L179 458.1L180.1 459L178.6 459.2Z"/>
<path class="k32" d="M175.8 458.5L177.4 458.3L178.6 459.2L177 459.4Z"/>
<path class="k30" d="M174.2 458.7L175.8 458.5L177 459.4L175.4 459.6Z"/>
<path class="k26" d="M172.6 458.9L174.2 458.7L175.4 459.6L173.8 459.8Z"/>
<path class="k23" d="M171.1 459.1L172.6 458.9L173.8 459.8L172.2 460Z"/>
<path class="k22" d="M169.5 459.4L171.1 459.1L172.2 460L170.6 460.3Z"/>
<path class="k21" d="M166.2 459.8L167.9 459.6L169.5 459.4L170.6 460.3L169 460.5L167.4 460.7Z"/>
<path class="k20" d="M143.3 462.9L144.9 462.7L146.6 462.4L148.3 462.2L149.9 462L151.6 461.8L153.2 461.5L154.9 461.3L156.5 461.1L158.1 460.9L159.8 460.7L161.4 460.4L163 460.2L164.6 460L166.2 459.8L167.4 460.7L165.7 460.9L164.1 461.1L162.5 461.4L160.9 461.6L159.2 461.8L157.6 462L155.9 462.3L154.3 462.5L152.6 462.7L151 462.9L149.3 463.2L147.7 463.4L146 463.6L144.3 463.8Z"/>
<path class="k19" d="M139.9 463.3L141.6 463.1L143.3 462.9L144.3 463.8L142.6 464.1L140.9 464.3Z"/>
<path class="k18" d="M138.2 463.6L139.9 463.3L140.9 464.3L139.2 464.5Z"/>
<path class="k17" d="M136.5 463.8L138.2 463.6L139.2 464.5L137.5 464.8Z"/>
<path class="k28" d="M134.8 464L136.5 463.8L137.5 464.8L135.8 465Z"/>
<path class="k16" d="M133.1 464.3L134.8 464L135.8 465L134.1 465.2Z"/>
<path class="k25" d="M128 464.9L129.7 464.7L131.4 464.5L133.1 464.3L134.1 465.2L132.4 465.5L130.7 465.7L129 465.9Z"/>
<path class="k16" d="M126.3 465.2L128 464.9L129 465.9L127.3 466.2Z"/>
<path class="k17" d="M124.6 465.4L126.3 465.2L127.3 466.2L125.5 466.4Z"/>
<path class="k18" d="M122.8 465.6L124.6 465.4L125.5 466.4L123.8 466.6Z"/>
<path class="k20" d="M121.1 465.9L122.8 465.6L123.8 466.6L122 466.9Z"/>
<path class="k21" d="M119.4 466.1L121.1 465.9L122 466.9L120.3 467.1Z"/>
<path class="k23" d="M117.6 466.3L119.4 466.1L120.3 467.1L118.5 467.3Z"/>
<path class="k31" d="M115.9 466.6L117.6 466.3L118.5 467.3L116.8 467.6Z"/>
<path class="k33" d="M114.1 466.8L115.9 466.6L116.8 467.6L115 467.8Z"/>
<path class="k36" d="M112.4 467.1L114.1 466.8L115 467.8L113.3 468.1Z"/>
<path class="k39" d="M110.6 467.3L112.4 467.1L113.3 468.1L111.5 468.3Z"/>
<path class="k42" d="M108.8 467.5L110.6 467.3L111.5 468.3L109.7 468.5Z"/>
<path class="k45" d="M107 467.8L108.8 467.5L109.7 468.5L107.9 468.8Z"/>
<path class="k47" d="M105.3 468L107 467.8L107.9 468.8L106.1 469Z"/>
<path class="k50" d="M103.5 468.3L105.3 468L106.1 469L104.3 469.3Z"/>
<path class="k51" d="M101.7 468.5L103.5 468.3L104.3 469.3L102.5 469.5Z"/>
<path class="k53" d="M99.9 468.7L101.7 468.5L102.5 469.5L100.7 469.8Z"/>
<path class="k54" d="M77.9 471.7L79.8 471.5L81.6 471.2L83.5 471L85.3 470.7L87.2 470.5L89 470.2L90.8 470L92.6 469.7L94.5 469.5L96.3 469.2L98.1 469L99.9 468.7L100.7 469.8L98.9 470L97.1 470.2L95.3 470.5L93.5 470.7L91.6 471L89.8 471.2L88 471.5L86.1 471.7L84.2 472L82.4 472.2L80.5 472.5L78.7 472.8Z"/>
<path class="k53" d="M76 472L77.9 471.7L78.7 472.8L76.8 473Z"/>
<path class="k52" d="M74.2 472.2L76 472L76.8 473L74.9 473.3Z"/>
<path class="k51" d="M70.4 472.7L72.3 472.5L74.2 472.2L74.9 473.3L73 473.5L71.1 473.8Z"/>
<path class="k37" d="M180.1 459L181.7 458.8L182.9 459.7L181.3 459.9Z"/>
<path class="k35" d="M178.6 459.2L180.1 459L181.3 459.9L179.7 460.1Z"/>
<path class="k33" d="M177 459.4L178.6 459.2L179.7 460.1L178.1 460.3Z"/>
<path class="k32" d="M175.4 459.6L177 459.4L178.1 460.3L176.5 460.5Z"/>
<path class="k30" d="M173.8 459.8L175.4 459.6L176.5 460.5L174.9 460.7Z"/>
<path class="k26" d="M170.6 460.3L172.2 460L173.8 459.8L174.9 460.7L173.3 461L171.7 461.2Z"/>
<path class="k23" d="M169 460.5L170.6 460.3L171.7 461.2L170.1 461.4Z"/>
<path class="k22" d="M164.1 461.1L165.7 460.9L167.4 460.7L169 460.5L170.1 461.4L168.5 461.6L166.9 461.9L165.2 462.1Z"/>
<path class="k21" d="M155.9 462.3L157.6 462L159.2 461.8L160.9 461.6L162.5 461.4L164.1 461.1L165.2 462.1L163.6 462.3L162 462.5L160.3 462.7L158.7 463L157 463.2Z"/>
<path class="k22" d="M147.7 463.4L149.3 463.2L151 462.9L152.6 462.7L154.3 462.5L155.9 462.3L157 463.2L155.4 463.4L153.7 463.7L152 463.9L150.4 464.1L148.7 464.3Z"/>
<path class="k21" d="M140.9 464.3L142.6 464.1L144.3 463.8L146 463.6L147.7 463.4L148.7 464.3L147 464.6L145.3 464.8L143.6 465L142 465.3Z"/>
<path class="k20" d="M135.8 465L137.5 464.8L139.2 464.5L140.9 464.3L142 465.3L140.3 465.5L138.6 465.7L136.8 466Z"/>
<path class="k19" d="M132.4 465.5L134.1 465.2L135.8 465L136.8 466L135.1 466.2L133.4 466.4Z"/>
<path class="k18" d="M129 465.9L130.7 465.7L132.4 465.5L133.4 466.4L131.7 466.7L130 466.9Z"/>
<path class="k19" d="M125.5 466.4L127.3 466.2L129 465.9L130 466.9L128.2 467.1L126.5 467.4Z"/>
<path class="k20" d="M123.8 466.6L125.5 466.4L126.5 467.4L124.7 467.6Z"/>
<path class="k22" d="M122 466.9L123.8 466.6L124.7 467.6L123 467.9Z"/>
<path class="k23" d="M120.3 467.1L122 466.9L123 467.9L121.2 468.1Z"/>
<path class="k30" d="M118.5 467.3L120.3 467.1L121.2 468.1L119.5 468.3Z"/>
<path class="k33" d="M116.8 467.6L118.5 467.3L119.5 468.3L117.7 468.6Z"/>
<path class="k35" d="M115 467.8L116.8 467.6L117.7 468.6L115.9 468.8Z"/>
<path class="k38" d="M113.3 468.1L115 467.8L115.9 468.8L114.2 469.1Z"/>
<path class="k41" d="M111.5 468.3L113.3 468.1L114.2 469.1L112.4 469.3Z"/>
<path class="k43" d="M109.7 468.5L111.5 468.3L112.4 469.3L110.6 469.5Z"/>
<path class="k46" d="M107.9 468.8L109.7 468.5L110.6 469.5L108.8 469.8Z"/>
<path class="k48" d="M106.1 469L107.9 468.8L108.8 469.8L107 470Z"/>
<path class="k50" d="M104.3 469.3L106.1 469L107 470L105.2 470.3Z"/>
<path class="k52" d="M102.5 469.5L104.3 469.3L105.2 470.3L103.4 470.5Z"/>
<path class="k53" d="M100.7 469.8L102.5 469.5L103.4 470.5L101.6 470.8Z"/>
<path class="k54" d="M78.7 472.8L80.5 472.5L82.4 472.2L84.2 472L86.1 471.7L88 471.5L89.8 471.2L91.6 471L93.5 470.7L95.3 470.5L97.1 470.2L98.9 470L100.7 469.8L101.6 470.8L99.8 471L98 471.3L96.1 471.5L94.3 471.8L92.4 472L90.6 472.3L88.8 472.5L86.9 472.8L85 473L83.2 473.3L81.3 473.6L79.4 473.8Z"/>
<path class="k53" d="M76.8 473L78.7 472.8L79.4 473.8L77.5 474.1Z"/>
<path class="k52" d="M74.9 473.3L76.8 473L77.5 474.1L75.6 474.3Z"/>
<path class="k51" d="M71.1 473.8L73 473.5L74.9 473.3L75.6 474.3L73.7 474.6L71.8 474.8Z"/>
<path class="k39" d="M181.3 459.9L182.9 459.7L184.1 460.6L182.5 460.8Z"/>
<path class="k37" d="M179.7 460.1L181.3 459.9L182.5 460.8L180.9 461Z"/>
<path class="k35" d="M178.1 460.3L179.7 460.1L180.9 461L179.3 461.2Z"/>
<path class="k33" d="M176.5 460.5L178.1 460.3L179.3 461.2L177.7 461.5Z"/>
<path class="k32" d="M174.9 460.7L176.5 460.5L177.7 461.5L176.1 461.7Z"/>
<path class="k31" d="M173.3 461L174.9 460.7L176.1 461.7L174.5 461.9Z"/>
<path class="k30" d="M171.7 461.2L173.3 461L174.5 461.9L172.9 462.1Z"/>
<path class="k26" d="M168.5 461.6L170.1 461.4L171.7 461.2L172.9 462.1L171.2 462.3L169.6 462.6Z"/>
<path class="k23" d="M143.6 465L145.3 464.8L147 464.6L148.7 464.3L150.4 464.1L152 463.9L153.7 463.7L155.4 463.4L157 463.2L158.7 463L160.3 462.7L162 462.5L163.6 462.3L165.2 462.1L166.9 461.9L168.5 461.6L169.6 462.6L168 462.8L166.4 463L164.7 463.2L163.1 463.5L161.4 463.7L159.8 463.9L158.1 464.1L156.5 464.4L154.8 464.6L153.1 464.8L151.4 465.1L149.8 465.3L148.1 465.5L146.4 465.8L144.7 466Z"/>
<path class="k22" d="M135.1 466.2L136.8 466L138.6 465.7L140.3 465.5L142 465.3L143.6 465L144.7 466L143 466.2L141.3 466.5L139.6 466.7L137.9 466.9L136.1 467.2Z"/>
<path class="k21" d="M128.2 467.1L130 466.9L131.7 466.7L133.4 466.4L135.1 466.2L136.1 467.2L134.4 467.4L132.7 467.7L130.9 467.9L129.2 468.1Z"/>
<path class="k22" d="M126.5 467.4L128.2 467.1L129.2 468.1L127.5 468.4Z"/>
<path class="k23" d="M124.7 467.6L126.5 467.4L127.5 468.4L125.7 468.6Z"/>
<path class="k26" d="M123 467.9L124.7 467.6L125.7 468.6L123.9 468.9Z"/>
<path class="k30" d="M121.2 468.1L123 467.9L123.9 468.9L122.2 469.1Z"/>
<path class="k33" d="M119.5 468.3L121.2 468.1L122.2 469.1L120.4 469.3Z"/>
<path class="k35" d="M117.7 468.6L119.5 468.3L120.4 469.3L118.6 469.6Z"/>
<path class="k37" d="M115.9 468.8L117.7 468.6L118.6 469.6L116.9 469.8Z"/>
<path class="k40" d="M114.2 469.1L115.9 468.8L116.9 469.8L115.1 470.1Z"/>
<path class="k42" d="M112.4 469.3L114.2 469.1L115.1 470.1L113.3 470.3Z"/>
<path class="k45" d="M110.6 469.5L112.4 469.3L113.3 470.3L111.5 470.6Z"/>
<path class="k47" d="M108.8 469.8L110.6 469.5L111.5 470.6L109.7 470.8Z"/>
<path class="k49" d="M107 470L108.8 469.8L109.7 470.8L107.9 471.1Z"/>
<path class="k51" d="M105.2 470.3L107 470L107.9 471.1L106.1 471.3Z"/>
<path class="k52" d="M103.4 470.5L105.2 470.3L106.1 471.3L104.3 471.6Z"/>
<path class="k53" d="M101.6 470.8L103.4 470.5L104.3 471.6L102.5 471.8Z"/>
<path class="k54" d="M79.4 473.8L81.3 473.6L83.2 473.3L85 473L86.9 472.8L88.8 472.5L90.6 472.3L92.4 472L94.3 471.8L96.1 471.5L98 471.3L99.8 471L101.6 470.8L102.5 471.8L100.6 472.1L98.8 472.3L97 472.6L95.1 472.8L93.3 473.1L91.4 473.3L89.6 473.6L87.7 473.8L85.8 474.1L83.9 474.4L82.1 474.6L80.2 474.9Z"/>
<path class="k53" d="M77.5 474.1L79.4 473.8L80.2 474.9L78.3 475.1Z"/>
<path class="k52" d="M73.7 474.6L75.6 474.3L77.5 474.1L78.3 475.1L76.4 475.4L74.5 475.7Z"/>
<path class="k51" d="M71.8 474.8L73.7 474.6L74.5 475.7L72.6 475.9Z"/>
<path class="k40" d="M182.5 460.8L184.1 460.6L185.3 461.5L183.7 461.7Z"/>
<path class="k38" d="M180.9 461L182.5 460.8L183.7 461.7L182.1 461.9Z"/>
<path class="k37" d="M179.3 461.2L180.9 461L182.1 461.9L180.5 462.2Z"/>
<path class="k35" d="M177.7 461.5L179.3 461.2L180.5 462.2L178.9 462.4Z"/>
<path class="k33" d="M176.1 461.7L177.7 461.5L178.9 462.4L177.3 462.6Z"/>
<path class="k32" d="M174.5 461.9L176.1 461.7L177.3 462.6L175.6 462.8Z"/>
<path class="k31" d="M172.9 462.1L174.5 461.9L175.6 462.8L174 463.1Z"/>
<path class="k30" d="M169.6 462.6L171.2 462.3L172.9 462.1L174 463.1L172.4 463.3L170.8 463.5Z"/>
<path class="k26" d="M134.4 467.4L136.1 467.2L137.9 466.9L139.6 466.7L141.3 466.5L143 466.2L144.7 466L146.4 465.8L148.1 465.5L149.8 465.3L151.4 465.1L153.1 464.8L154.8 464.6L156.5 464.4L158.1 464.1L159.8 463.9L161.4 463.7L163.1 463.5L164.7 463.2L166.4 463L168 462.8L169.6 462.6L170.8 463.5L169.1 463.7L167.5 464L165.8 464.2L164.2 464.4L162.5 464.6L160.9 464.9L159.2 465.1L157.6 465.3L155.9 465.6L154.2 465.8L152.5 466L150.8 466.3L149.1 466.5L147.4 466.7L145.7 467L144 467.2L142.3 467.5L140.6 467.7L138.9 467.9L137.1 468.2L135.4 468.4Z"/>
<path class="k23" d="M129.2 468.1L130.9 467.9L132.7 467.7L134.4 467.4L135.4 468.4L133.7 468.7L131.9 468.9L130.2 469.1Z"/>
<path class="k26" d="M127.5 468.4L129.2 468.1L130.2 469.1L128.4 469.4Z"/>
<path class="k30" d="M125.7 468.6L127.5 468.4L128.4 469.4L126.7 469.6Z"/>
<path class="k31" d="M123.9 468.9L125.7 468.6L126.7 469.6L124.9 469.9Z"/>
<path class="k33" d="M122.2 469.1L123.9 468.9L124.9 469.9L123.1 470.1Z"/>
<path class="k35" d="M120.4 469.3L122.2 469.1L123.1 470.1L121.4 470.4Z"/>
<path class="k37" d="M118.6 469.6L120.4 469.3L121.4 470.4L119.6 470.6Z"/>
<path class="k40" d="M116.9 469.8L118.6 469.6L119.6 470.6L117.8 470.9Z"/>
<path class="k42" d="M115.1 470.1L116.9 469.8L117.8 470.9L116 471.1Z"/>
<path class="k44" d="M113.3 470.3L115.1 470.1L116 471.1L114.2 471.4Z"/>
<path class="k47" d="M111.5 470.6L113.3 470.3L114.2 471.4L112.4 471.6Z"/>
<path class="k49" d="M109.7 470.8L111.5 470.6L112.4 471.6L110.6 471.9Z"/>
<path class="k50" d="M107.9 471.1L109.7 470.8L110.6 471.9L108.8 472.1Z"/>
<path class="k52" d="M106.1 471.3L107.9 471.1L108.8 472.1L107 472.4Z"/>
<path class="k53" d="M104.3 471.6L106.1 471.3L107 472.4L105.2 472.6Z"/>
<path class="k54" d="M80.2 474.9L82.1 474.6L83.9 474.4L85.8 474.1L87.7 473.8L89.6 473.6L91.4 473.3L93.3 473.1L95.1 472.8L97 472.6L98.8 472.3L100.6 472.1L102.5 471.8L104.3 471.6L105.2 472.6L103.3 472.9L101.5 473.1L99.7 473.4L97.8 473.6L96 473.9L94.1 474.1L92.2 474.4L90.4 474.7L88.5 474.9L86.6 475.2L84.7 475.4L82.8 475.7L80.9 476Z"/>
<path class="k53" d="M76.4 475.4L78.3 475.1L80.2 474.9L80.9 476L79 476.2L77.1 476.5Z"/>
<path class="k52" d="M74.5 475.7L76.4 475.4L77.1 476.5L75.2 476.8Z"/>
<path class="k51" d="M72.6 475.9L74.5 475.7L75.2 476.8L73.3 477Z"/>
<path class="k41" d="M183.7 461.7L185.3 461.5L186.5 462.4L184.9 462.7Z"/>
<path class="k40" d="M182.1 461.9L183.7 461.7L184.9 462.7L183.3 462.9Z"/>
<path class="k38" d="M180.5 462.2L182.1 461.9L183.3 462.9L181.7 463.1Z"/>
<path class="k36" d="M178.9 462.4L180.5 462.2L181.7 463.1L180.1 463.3Z"/>
<path class="k35" d="M177.3 462.6L178.9 462.4L180.1 463.3L178.4 463.6Z"/>
<path class="k33" d="M175.6 462.8L177.3 462.6L178.4 463.6L176.8 463.8Z"/>
<path class="k32" d="M174 463.1L175.6 462.8L176.8 463.8L175.2 464Z"/>
<path class="k31" d="M170.8 463.5L172.4 463.3L174 463.1L175.2 464L173.6 464.2L171.9 464.5Z"/>
<path class="k30" d="M140.6 467.7L142.3 467.5L144 467.2L145.7 467L147.4 466.7L149.1 466.5L150.8 466.3L152.5 466L154.2 465.8L155.9 465.6L157.6 465.3L159.2 465.1L160.9 464.9L162.5 464.6L164.2 464.4L165.8 464.2L167.5 464L169.1 463.7L170.8 463.5L171.9 464.5L170.3 464.7L168.6 464.9L167 465.2L165.3 465.4L163.7 465.6L162 465.8L160.3 466.1L158.7 466.3L157 466.5L155.3 466.8L153.6 467L151.9 467.3L150.2 467.5L148.5 467.7L146.8 468L145.1 468.2L143.4 468.5L141.6 468.7Z"/>
<path class="k31" d="M135.4 468.4L137.1 468.2L138.9 467.9L140.6 467.7L141.6 468.7L139.9 468.9L138.2 469.2L136.4 469.4Z"/>
<path class="k30" d="M131.9 468.9L133.7 468.7L135.4 468.4L136.4 469.4L134.7 469.7L132.9 469.9Z"/>
<path class="k31" d="M130.2 469.1L131.9 468.9L132.9 469.9L131.2 470.2Z"/>
<path class="k32" d="M128.4 469.4L130.2 469.1L131.2 470.2L129.4 470.4Z"/>
<path class="k33" d="M126.7 469.6L128.4 469.4L129.4 470.4L127.7 470.6Z"/>
<path class="k34" d="M124.9 469.9L126.7 469.6L127.7 470.6L125.9 470.9Z"/>
<path class="k36" d="M123.1 470.1L124.9 469.9L125.9 470.9L124.1 471.1Z"/>
<path class="k38" d="M121.4 470.4L123.1 470.1L124.1 471.1L122.3 471.4Z"/>
<path class="k40" d="M119.6 470.6L121.4 470.4L122.3 471.4L120.5 471.6Z"/>
<path class="k42" d="M117.8 470.9L119.6 470.6L120.5 471.6L118.7 471.9Z"/>
<path class="k45" d="M116 471.1L117.8 470.9L118.7 471.9L116.9 472.1Z"/>
<path class="k47" d="M114.2 471.4L116 471.1L116.9 472.1L115.1 472.4Z"/>
<path class="k48" d="M112.4 471.6L114.2 471.4L115.1 472.4L113.3 472.6Z"/>
<path class="k50" d="M110.6 471.9L112.4 471.6L113.3 472.6L111.5 472.9Z"/>
<path class="k52" d="M108.8 472.1L110.6 471.9L111.5 472.9L109.7 473.2Z"/>
<path class="k53" d="M107 472.4L108.8 472.1L109.7 473.2L107.9 473.4Z"/>
<path class="k54" d="M80.9 476L82.8 475.7L84.7 475.4L86.6 475.2L88.5 474.9L90.4 474.7L92.2 474.4L94.1 474.1L96 473.9L97.8 473.6L99.7 473.4L101.5 473.1L103.3 472.9L105.2 472.6L107 472.4L107.9 473.4L106 473.7L104.2 473.9L102.4 474.2L100.5 474.4L98.7 474.7L96.8 475L94.9 475.2L93.1 475.5L91.2 475.7L89.3 476L87.4 476.3L85.5 476.5L83.6 476.8L81.7 477.1Z"/>
<path class="k53" d="M77.1 476.5L79 476.2L80.9 476L81.7 477.1L79.8 477.3L77.9 477.6Z"/>
<path class="k52" d="M75.2 476.8L77.1 476.5L77.9 477.6L76 477.9Z"/>
<path class="k51" d="M73.3 477L75.2 476.8L76 477.9L74.1 478.1Z"/>
<path class="k43" d="M184.9 462.7L186.5 462.4L187.7 463.4L186.1 463.6Z"/>
<path class="k41" d="M183.3 462.9L184.9 462.7L186.1 463.6L184.5 463.8Z"/>
<path class="k39" d="M181.7 463.1L183.3 462.9L184.5 463.8L182.9 464Z"/>
<path class="k37" d="M180.1 463.3L181.7 463.1L182.9 464L181.3 464.3Z"/>
<path class="k36" d="M178.4 463.6L180.1 463.3L181.3 464.3L179.6 464.5Z"/>
<path class="k34" d="M176.8 463.8L178.4 463.6L179.6 464.5L178 464.7Z"/>
<path class="k33" d="M175.2 464L176.8 463.8L178 464.7L176.4 465Z"/>
<path class="k32" d="M171.9 464.5L173.6 464.2L175.2 464L176.4 465L174.7 465.2L173.1 465.4Z"/>
<path class="k31" d="M153.6 467L155.3 466.8L157 466.5L158.7 466.3L160.3 466.1L162 465.8L163.7 465.6L165.3 465.4L167 465.2L168.6 464.9L170.3 464.7L171.9 464.5L173.1 465.4L171.4 465.7L169.8 465.9L168.1 466.1L166.5 466.4L164.8 466.6L163.1 466.8L161.5 467.1L159.8 467.3L158.1 467.5L156.4 467.8L154.7 468Z"/>
<path class="k32" d="M141.6 468.7L143.4 468.5L145.1 468.2L146.8 468L148.5 467.7L150.2 467.5L151.9 467.3L153.6 467L154.7 468L153 468.2L151.3 468.5L149.6 468.7L147.9 469L146.1 469.2L144.4 469.5L142.7 469.7Z"/>
<path class="k33" d="M131.2 470.2L132.9 469.9L134.7 469.7L136.4 469.4L138.2 469.2L139.9 468.9L141.6 468.7L142.7 469.7L140.9 469.9L139.2 470.2L137.5 470.4L135.7 470.7L133.9 470.9L132.2 471.2Z"/>
<path class="k34" d="M129.4 470.4L131.2 470.2L132.2 471.2L130.4 471.4Z"/>
<path class="k35" d="M127.7 470.6L129.4 470.4L130.4 471.4L128.6 471.7Z"/>
<path class="k36" d="M125.9 470.9L127.7 470.6L128.6 471.7L126.9 471.9Z"/>
<path class="k38" d="M124.1 471.1L125.9 470.9L126.9 471.9L125.1 472.2Z"/>
<path class="k40" d="M122.3 471.4L124.1 471.1L125.1 472.2L123.3 472.4Z"/>
<path class="k43" d="M120.5 471.6L122.3 471.4L123.3 472.4L121.5 472.7Z"/>
<path class="k45" d="M118.7 471.9L120.5 471.6L121.5 472.7L119.7 472.9Z"/>
<path class="k47" d="M116.9 472.1L118.7 471.9L119.7 472.9L117.9 473.2Z"/>
<path class="k49" d="M115.1 472.4L116.9 472.1L117.9 473.2L116.1 473.4Z"/>
<path class="k50" d="M113.3 472.6L115.1 472.4L116.1 473.4L114.3 473.7Z"/>
<path class="k52" d="M111.5 472.9L113.3 472.6L114.3 473.7L112.4 474Z"/>
<path class="k53" d="M109.7 473.2L111.5 472.9L112.4 474L110.6 474.2Z"/>
<path class="k54" d="M81.7 477.1L83.6 476.8L85.5 476.5L87.4 476.3L89.3 476L91.2 475.7L93.1 475.5L94.9 475.2L96.8 475L98.7 474.7L100.5 474.4L102.4 474.2L104.2 473.9L106 473.7L107.9 473.4L109.7 473.2L110.6 474.2L108.8 474.5L106.9 474.7L105.1 475L103.2 475.2L101.4 475.5L99.5 475.8L97.7 476L95.8 476.3L93.9 476.6L92 476.8L90.1 477.1L88.2 477.4L86.3 477.6L84.4 477.9L82.5 478.2Z"/>
<path class="k53" d="M77.9 477.6L79.8 477.3L81.7 477.1L82.5 478.2L80.6 478.4L78.7 478.7Z"/>
<path class="k52" d="M76 477.9L77.9 477.6L78.7 478.7L76.7 479Z"/>
<path class="k51" d="M74.1 478.1L76 477.9L76.7 479L74.8 479.2Z"/>
<path class="k44" d="M186.1 463.6L187.7 463.4L188.9 464.3L187.3 464.5Z"/>
<path class="k42" d="M184.5 463.8L186.1 463.6L187.3 464.5L185.7 464.8Z"/>
<path class="k40" d="M182.9 464L184.5 463.8L185.7 464.8L184.1 465Z"/>
<path class="k38" d="M181.3 464.3L182.9 464L184.1 465L182.5 465.2Z"/>
<path class="k37" d="M179.6 464.5L181.3 464.3L182.5 465.2L180.8 465.5Z"/>
<path class="k35" d="M178 464.7L179.6 464.5L180.8 465.5L179.2 465.7Z"/>
<path class="k34" d="M176.4 465L178 464.7L179.2 465.7L177.6 465.9Z"/>
<path class="k33" d="M173.1 465.4L174.7 465.2L176.4 465L177.6 465.9L175.9 466.2L174.3 466.4Z"/>
<path class="k32" d="M158.1 467.5L159.8 467.3L161.5 467.1L163.1 466.8L164.8 466.6L166.5 466.4L168.1 466.1L169.8 465.9L171.4 465.7L173.1 465.4L174.3 466.4L172.6 466.6L171 466.9L169.3 467.1L167.6 467.3L166 467.6L164.3 467.8L162.6 468L160.9 468.3L159.2 468.5Z"/>
<path class="k33" d="M151.3 468.5L153 468.2L154.7 468L156.4 467.8L158.1 467.5L159.2 468.5L157.5 468.8L155.8 469L154.1 469.3L152.4 469.5Z"/>
<path class="k34" d="M142.7 469.7L144.4 469.5L146.1 469.2L147.9 469L149.6 468.7L151.3 468.5L152.4 469.5L150.7 469.7L148.9 470L147.2 470.2L145.5 470.5L143.7 470.7Z"/>
<path class="k35" d="M133.9 470.9L135.7 470.7L137.5 470.4L139.2 470.2L140.9 469.9L142.7 469.7L143.7 470.7L142 471L140.3 471.2L138.5 471.5L136.7 471.7L135 472Z"/>
<path class="k36" d="M130.4 471.4L132.2 471.2L133.9 470.9L135 472L133.2 472.2L131.4 472.5Z"/>
<path class="k37" d="M128.6 471.7L130.4 471.4L131.4 472.5L129.6 472.7Z"/>
<path class="k39" d="M126.9 471.9L128.6 471.7L129.6 472.7L127.9 473Z"/>
<path class="k40" d="M125.1 472.2L126.9 471.9L127.9 473L126.1 473.2Z"/>
<path class="k42" d="M123.3 472.4L125.1 472.2L126.1 473.2L124.3 473.5Z"/>
<path class="k45" d="M121.5 472.7L123.3 472.4L124.3 473.5L122.5 473.7Z"/>
<path class="k47" d="M119.7 472.9L121.5 472.7L122.5 473.7L120.7 474Z"/>
<path class="k49" d="M117.9 473.2L119.7 472.9L120.7 474L118.8 474.2Z"/>
<path class="k51" d="M116.1 473.4L117.9 473.2L118.8 474.2L117 474.5Z"/>
<path class="k52" d="M114.3 473.7L116.1 473.4L117 474.5L115.2 474.8Z"/>
<path class="k53" d="M112.4 474L114.3 473.7L115.2 474.8L113.4 475Z"/>
<path class="k54" d="M108.8 474.5L110.6 474.2L112.4 474L113.4 475L111.5 475.3L109.7 475.5Z"/>
<path class="k55" d="M105.1 475L106.9 474.7L108.8 474.5L109.7 475.5L107.9 475.8L106 476.1Z"/>
<path class="k54" d="M82.5 478.2L84.4 477.9L86.3 477.6L88.2 477.4L90.1 477.1L92 476.8L93.9 476.6L95.8 476.3L97.7 476L99.5 475.8L101.4 475.5L103.2 475.2L105.1 475L106 476.1L104.1 476.3L102.3 476.6L100.4 476.9L98.5 477.1L96.7 477.4L94.8 477.7L92.9 477.9L91 478.2L89.1 478.5L87.2 478.7L85.2 479L83.3 479.3Z"/>
<path class="k53" d="M78.7 478.7L80.6 478.4L82.5 478.2L83.3 479.3L81.4 479.6L79.5 479.8Z"/>
<path class="k52" d="M76.7 479L78.7 478.7L79.5 479.8L77.5 480.1Z"/>
<path class="k51" d="M74.8 479.2L76.7 479L77.5 480.1L75.6 480.4Z"/>
<path class="k45" d="M187.3 464.5L188.9 464.3L190.2 465.3L188.6 465.5Z"/>
<path class="k43" d="M185.7 464.8L187.3 464.5L188.6 465.5L187 465.7Z"/>
<path class="k41" d="M184.1 465L185.7 464.8L187 465.7L185.3 466Z"/>
<path class="k39" d="M182.5 465.2L184.1 465L185.3 466L183.7 466.2Z"/>
<path class="k38" d="M180.8 465.5L182.5 465.2L183.7 466.2L182.1 466.4Z"/>
<path class="k36" d="M179.2 465.7L180.8 465.5L182.1 466.4L180.4 466.7Z"/>
<path class="k35" d="M177.6 465.9L179.2 465.7L180.4 466.7L178.8 466.9Z"/>
<path class="k34" d="M174.3 466.4L175.9 466.2L177.6 465.9L178.8 466.9L177.1 467.1L175.5 467.4Z"/>
<path class="k33" d="M160.9 468.3L162.6 468L164.3 467.8L166 467.6L167.6 467.3L169.3 467.1L171 466.9L172.6 466.6L174.3 466.4L175.5 467.4L173.8 467.6L172.1 467.8L170.5 468.1L168.8 468.3L167.1 468.6L165.4 468.8L163.7 469L162 469.3Z"/>
<path class="k34" d="M155.8 469L157.5 468.8L159.2 468.5L160.9 468.3L162 469.3L160.3 469.5L158.6 469.8L156.9 470Z"/>
<path class="k35" d="M150.7 469.7L152.4 469.5L154.1 469.3L155.8 469L156.9 470L155.2 470.3L153.5 470.5L151.8 470.8Z"/>
<path class="k36" d="M143.7 470.7L145.5 470.5L147.2 470.2L148.9 470L150.7 469.7L151.8 470.8L150 471L148.3 471.2L146.6 471.5L144.8 471.7Z"/>
<path class="k37" d="M138.5 471.5L140.3 471.2L142 471L143.7 470.7L144.8 471.7L143.1 472L141.3 472.2L139.5 472.5Z"/>
<path class="k38" d="M133.2 472.2L135 472L136.7 471.7L138.5 471.5L139.5 472.5L137.8 472.8L136 473L134.2 473.3Z"/>
<path class="k39" d="M131.4 472.5L133.2 472.2L134.2 473.3L132.4 473.5Z"/>
<path class="k40" d="M129.6 472.7L131.4 472.5L132.4 473.5L130.7 473.8Z"/>
<path class="k41" d="M127.9 473L129.6 472.7L130.7 473.8L128.9 474Z"/>
<path class="k43" d="M126.1 473.2L127.9 473L128.9 474L127.1 474.3Z"/>
<path class="k45" d="M124.3 473.5L126.1 473.2L127.1 474.3L125.3 474.5Z"/>
<path class="k47" d="M122.5 473.7L124.3 473.5L125.3 474.5L123.4 474.8Z"/>
<path class="k49" d="M120.7 474L122.5 473.7L123.4 474.8L121.6 475.1Z"/>
<path class="k51" d="M118.8 474.2L120.7 474L121.6 475.1L119.8 475.3Z"/>
<path class="k52" d="M117 474.5L118.8 474.2L119.8 475.3L118 475.6Z"/>
<path class="k54" d="M113.4 475L115.2 474.8L117 474.5L118 475.6L116.2 475.8L114.3 476.1Z"/>
<path class="k55" d="M104.1 476.3L106 476.1L107.9 475.8L109.7 475.5L111.5 475.3L113.4 475L114.3 476.1L112.5 476.4L110.6 476.6L108.8 476.9L106.9 477.2L105 477.4Z"/>
<path class="k54" d="M85.2 479L87.2 478.7L89.1 478.5L91 478.2L92.9 477.9L94.8 477.7L96.7 477.4L98.5 477.1L100.4 476.9L102.3 476.6L104.1 476.3L105 477.4L103.2 477.7L101.3 478L99.4 478.2L97.5 478.5L95.6 478.8L93.7 479L91.8 479.3L89.9 479.6L88 479.9L86.1 480.1Z"/>
<path class="k53" d="M81.4 479.6L83.3 479.3L85.2 479L86.1 480.1L84.1 480.4L82.2 480.7Z"/>
<path class="k52" d="M77.5 480.1L79.5 479.8L81.4 479.6L82.2 480.7L80.2 481L78.3 481.2Z"/>
<path class="k51" d="M75.6 480.4L77.5 480.1L78.3 481.2L76.3 481.5Z"/>
<path class="k47" d="M188.6 465.5L190.2 465.3L191.5 466.2L189.8 466.5Z"/>
<path class="k44" d="M187 465.7L188.6 465.5L189.8 466.5L188.2 466.7Z"/>
<path class="k42" d="M185.3 466L187 465.7L188.2 466.7L186.6 466.9Z"/>
<path class="k40" d="M183.7 466.2L185.3 466L186.6 466.9L184.9 467.2Z"/>
<path class="k39" d="M182.1 466.4L183.7 466.2L184.9 467.2L183.3 467.4Z"/>
<path class="k37" d="M180.4 466.7L182.1 466.4L183.3 467.4L181.6 467.7Z"/>
<path class="k36" d="M178.8 466.9L180.4 466.7L181.6 467.7L180 467.9Z"/>
<path class="k35" d="M175.5 467.4L177.1 467.1L178.8 466.9L180 467.9L178.3 468.1L176.7 468.4Z"/>
<path class="k34" d="M163.7 469L165.4 468.8L167.1 468.6L168.8 468.3L170.5 468.1L172.1 467.8L173.8 467.6L175.5 467.4L176.7 468.4L175 468.6L173.3 468.8L171.6 469.1L170 469.3L168.3 469.6L166.6 469.8L164.9 470.1Z"/>
<path class="k35" d="M158.6 469.8L160.3 469.5L162 469.3L163.7 469L164.9 470.1L163.2 470.3L161.5 470.5L159.8 470.8Z"/>
<path class="k36" d="M153.5 470.5L155.2 470.3L156.9 470L158.6 469.8L159.8 470.8L158.1 471L156.3 471.3L154.6 471.5Z"/>
<path class="k37" d="M150 471L151.8 470.8L153.5 470.5L154.6 471.5L152.9 471.8L151.1 472Z"/>
<path class="k38" d="M144.8 471.7L146.6 471.5L148.3 471.2L150 471L151.1 472L149.4 472.3L147.6 472.5L145.9 472.8Z"/>
<path class="k39" d="M141.3 472.2L143.1 472L144.8 471.7L145.9 472.8L144.1 473L142.4 473.3Z"/>
<path class="k40" d="M137.8 472.8L139.5 472.5L141.3 472.2L142.4 473.3L140.6 473.5L138.8 473.8Z"/>
<path class="k41" d="M134.2 473.3L136 473L137.8 472.8L138.8 473.8L137.1 474.1L135.3 474.3Z"/>
<path class="k42" d="M132.4 473.5L134.2 473.3L135.3 474.3L133.5 474.6Z"/>
<path class="k43" d="M130.7 473.8L132.4 473.5L133.5 474.6L131.7 474.8Z"/>
<path class="k44" d="M128.9 474L130.7 473.8L131.7 474.8L129.9 475.1Z"/>
<path class="k45" d="M127.1 474.3L128.9 474L129.9 475.1L128.1 475.3Z"/>
<path class="k47" d="M125.3 474.5L127.1 474.3L128.1 475.3L126.3 475.6Z"/>
<path class="k49" d="M123.4 474.8L125.3 474.5L126.3 475.6L124.4 475.9Z"/>
<path class="k51" d="M121.6 475.1L123.4 474.8L124.4 475.9L122.6 476.1Z"/>
<path class="k53" d="M119.8 475.3L121.6 475.1L122.6 476.1L120.8 476.4Z"/>
<path class="k54" d="M118 475.6L119.8 475.3L120.8 476.4L119 476.7Z"/>
<path class="k55" d="M114.3 476.1L116.2 475.8L118 475.6L119 476.7L117.1 476.9L115.3 477.2Z"/>
<path class="k56" d="M108.8 476.9L110.6 476.6L112.5 476.4L114.3 476.1L115.3 477.2L113.4 477.5L111.6 477.7L109.7 478Z"/>
<path class="k55" d="M105 477.4L106.9 477.2L108.8 476.9L109.7 478L107.8 478.3L106 478.5Z"/>
<path class="k54" d="M88 479.9L89.9 479.6L91.8 479.3L93.7 479L95.6 478.8L97.5 478.5L99.4 478.2L101.3 478L103.2 477.7L105 477.4L106 478.5L104.1 478.8L102.2 479.1L100.3 479.3L98.4 479.6L96.5 479.9L94.6 480.2L92.7 480.4L90.7 480.7L88.8 481Z"/>
<path class="k53" d="M82.2 480.7L84.1 480.4L86.1 480.1L88 479.9L88.8 481L86.9 481.3L84.9 481.5L83 481.8Z"/>
<path class="k52" d="M78.3 481.2L80.2 481L82.2 480.7L83 481.8L81 482.1L79.1 482.4Z"/>
<path class="k51" d="M76.3 481.5L78.3 481.2L79.1 482.4L77.1 482.7Z"/>
<path class="k49" d="M189.8 466.5L191.5 466.2L192.7 467.2L191.1 467.5Z"/>
<path class="k46" d="M188.2 466.7L189.8 466.5L191.1 467.5L189.5 467.7Z"/>
<path class="k43" d="M186.6 466.9L188.2 466.7L189.5 467.7L187.8 467.9Z"/>
<path class="k41" d="M184.9 467.2L186.6 466.9L187.8 467.9L186.2 468.2Z"/>
<path class="k39" d="M183.3 467.4L184.9 467.2L186.2 468.2L184.5 468.4Z"/>
<path class="k38" d="M181.6 467.7L183.3 467.4L184.5 468.4L182.9 468.6Z"/>
<path class="k37" d="M180 467.9L181.6 467.7L182.9 468.6L181.2 468.9Z"/>
<path class="k36" d="M178.3 468.1L180 467.9L181.2 468.9L179.5 469.1Z"/>
<path class="k35" d="M164.9 470.1L166.6 469.8L168.3 469.6L170 469.3L171.6 469.1L173.3 468.8L175 468.6L176.7 468.4L178.3 468.1L179.5 469.1L177.9 469.4L176.2 469.6L174.5 469.9L172.8 470.1L171.2 470.3L169.5 470.6L167.8 470.8L166.1 471.1Z"/>
<path class="k36" d="M161.5 470.5L163.2 470.3L164.9 470.1L166.1 471.1L164.4 471.3L162.6 471.6Z"/>
<path class="k37" d="M158.1 471L159.8 470.8L161.5 470.5L162.6 471.6L160.9 471.8L159.2 472.1Z"/>
<path class="k38" d="M152.9 471.8L154.6 471.5L156.3 471.3L158.1 471L159.2 472.1L157.5 472.3L155.7 472.6L154 472.8Z"/>
<path class="k39" d="M149.4 472.3L151.1 472L152.9 471.8L154 472.8L152.3 473.1L150.5 473.3Z"/>
<path class="k40" d="M145.9 472.8L147.6 472.5L149.4 472.3L150.5 473.3L148.7 473.6L147 473.8Z"/>
<path class="k41" d="M142.4 473.3L144.1 473L145.9 472.8L147 473.8L145.2 474.1L143.4 474.3Z"/>
<path class="k42" d="M140.6 473.5L142.4 473.3L143.4 474.3L141.7 474.6Z"/>
<path class="k43" d="M137.1 474.1L138.8 473.8L140.6 473.5L141.7 474.6L139.9 474.9L138.1 475.1Z"/>
<path class="k44" d="M135.3 474.3L137.1 474.1L138.1 475.1L136.3 475.4Z"/>
<path class="k45" d="M133.5 474.6L135.3 474.3L136.3 475.4L134.5 475.6Z"/>
<path class="k46" d="M131.7 474.8L133.5 474.6L134.5 475.6L132.7 475.9Z"/>
<path class="k47" d="M129.9 475.1L131.7 474.8L132.7 475.9L130.9 476.2Z"/>
<path class="k49" d="M128.1 475.3L129.9 475.1L130.9 476.2L129.1 476.4Z"/>
<path class="k51" d="M126.3 475.6L128.1 475.3L129.1 476.4L127.3 476.7Z"/>
<path class="k52" d="M124.4 475.9L126.3 475.6L127.3 476.7L125.4 477Z"/>
<path class="k54" d="M122.6 476.1L124.4 475.9L125.4 477L123.6 477.2Z"/>
<path class="k55" d="M120.8 476.4L122.6 476.1L123.6 477.2L121.8 477.5Z"/>
<path class="k56" d="M117.1 476.9L119 476.7L120.8 476.4L121.8 477.5L119.9 477.8L118.1 478Z"/>
<path class="k57" d="M115.3 477.2L117.1 476.9L118.1 478L116.2 478.3Z"/>
<path class="k56" d="M109.7 478L111.6 477.7L113.4 477.5L115.3 477.2L116.2 478.3L114.4 478.6L112.5 478.8L110.6 479.1Z"/>
<path class="k55" d="M106 478.5L107.8 478.3L109.7 478L110.6 479.1L108.8 479.4L106.9 479.6Z"/>
<path class="k54" d="M92.7 480.4L94.6 480.2L96.5 479.9L98.4 479.6L100.3 479.3L102.2 479.1L104.1 478.8L106 478.5L106.9 479.6L105 479.9L103.1 480.2L101.2 480.5L99.3 480.7L97.4 481L95.4 481.3L93.5 481.6Z"/>
<path class="k53" d="M84.9 481.5L86.9 481.3L88.8 481L90.7 480.7L92.7 480.4L93.5 481.6L91.6 481.9L89.7 482.1L87.7 482.4L85.8 482.7Z"/>
<path class="k52" d="M81 482.1L83 481.8L84.9 481.5L85.8 482.7L83.8 483L81.8 483.3Z"/>
<path class="k51" d="M77.1 482.7L79.1 482.4L81 482.1L81.8 483.3L79.9 483.5L77.9 483.8Z"/>
<path class="k50" d="M191.1 467.5L192.7 467.2L194 468.2L192.4 468.4Z"/>
<path class="k47" d="M189.5 467.7L191.1 467.5L192.4 468.4L190.7 468.7Z"/>
<path class="k44" d="M187.8 467.9L189.5 467.7L190.7 468.7L189.1 468.9Z"/>
<path class="k42" d="M186.2 468.2L187.8 467.9L189.1 468.9L187.4 469.2Z"/>
<path class="k40" d="M184.5 468.4L186.2 468.2L187.4 469.2L185.8 469.4Z"/>
<path class="k39" d="M182.9 468.6L184.5 468.4L185.8 469.4L184.1 469.6Z"/>
<path class="k37" d="M181.2 468.9L182.9 468.6L184.1 469.6L182.5 469.9Z"/>
<path class="k36" d="M167.8 470.8L169.5 470.6L171.2 470.3L172.8 470.1L174.5 469.9L176.2 469.6L177.9 469.4L179.5 469.1L181.2 468.9L182.5 469.9L180.8 470.1L179.1 470.4L177.4 470.6L175.7 470.9L174.1 471.1L172.4 471.4L170.7 471.6L169 471.9Z"/>
<path class="k37" d="M164.4 471.3L166.1 471.1L167.8 470.8L169 471.9L167.2 472.1L165.5 472.4Z"/>
<path class="k38" d="M160.9 471.8L162.6 471.6L164.4 471.3L165.5 472.4L163.8 472.6L162.1 472.9Z"/>
<path class="k39" d="M155.7 472.6L157.5 472.3L159.2 472.1L160.9 471.8L162.1 472.9L160.4 473.1L158.6 473.4L156.9 473.6Z"/>
<path class="k40" d="M154 472.8L155.7 472.6L156.9 473.6L155.1 473.9Z"/>
<path class="k41" d="M150.5 473.3L152.3 473.1L154 472.8L155.1 473.9L153.4 474.1L151.6 474.4Z"/>
<path class="k42" d="M147 473.8L148.7 473.6L150.5 473.3L151.6 474.4L149.9 474.6L148.1 474.9Z"/>
<path class="k43" d="M143.4 474.3L145.2 474.1L147 473.8L148.1 474.9L146.3 475.2L144.5 475.4Z"/>
<path class="k44" d="M141.7 474.6L143.4 474.3L144.5 475.4L142.8 475.7Z"/>
<path class="k45" d="M139.9 474.9L141.7 474.6L142.8 475.7L141 475.9Z"/>
<path class="k46" d="M138.1 475.1L139.9 474.9L141 475.9L139.2 476.2Z"/>
<path class="k47" d="M136.3 475.4L138.1 475.1L139.2 476.2L137.4 476.5Z"/>
<path class="k48" d="M134.5 475.6L136.3 475.4L137.4 476.5L135.6 476.7Z"/>
<path class="k50" d="M132.7 475.9L134.5 475.6L135.6 476.7L133.8 477Z"/>
<path class="k51" d="M130.9 476.2L132.7 475.9L133.8 477L131.9 477.3Z"/>
<path class="k52" d="M129.1 476.4L130.9 476.2L131.9 477.3L130.1 477.5Z"/>
<path class="k54" d="M127.3 476.7L129.1 476.4L130.1 477.5L128.3 477.8Z"/>
<path class="k55" d="M125.4 477L127.3 476.7L128.3 477.8L126.5 478Z"/>
<path class="k56" d="M123.6 477.2L125.4 477L126.5 478L124.6 478.3Z"/>
<path class="k57" d="M119.9 477.8L121.8 477.5L123.6 477.2L124.6 478.3L122.8 478.6L120.9 478.9Z"/>
<path class="k58" d="M116.2 478.3L118.1 478L119.9 477.8L120.9 478.9L119.1 479.1L117.2 479.4Z"/>
<path class="k57" d="M112.5 478.8L114.4 478.6L116.2 478.3L117.2 479.4L115.3 479.7L113.5 479.9Z"/>
<path class="k56" d="M108.8 479.4L110.6 479.1L112.5 478.8L113.5 479.9L111.6 480.2L109.7 480.5Z"/>
<path class="k55" d="M106.9 479.6L108.8 479.4L109.7 480.5L107.8 480.8Z"/>
<path class="k54" d="M101.2 480.5L103.1 480.2L105 479.9L106.9 479.6L107.8 480.8L105.9 481L104 481.3L102.1 481.6Z"/>
<path class="k53" d="M91.6 481.9L93.5 481.6L95.4 481.3L97.4 481L99.3 480.7L101.2 480.5L102.1 481.6L100.2 481.9L98.3 482.2L96.3 482.4L94.4 482.7L92.5 483Z"/>
<path class="k52" d="M83.8 483L85.8 482.7L87.7 482.4L89.7 482.1L91.6 481.9L92.5 483L90.5 483.3L88.6 483.6L86.6 483.9L84.6 484.1Z"/>
<path class="k51" d="M77.9 483.8L79.9 483.5L81.8 483.3L83.8 483L84.6 484.1L82.7 484.4L80.7 484.7L78.7 485Z"/>
<path class="k52" d="M192.4 468.4L194 468.2L195.3 469.2L193.7 469.4Z"/>
<path class="k49" d="M190.7 468.7L192.4 468.4L193.7 469.4L192 469.7Z"/>
<path class="k45" d="M189.1 468.9L190.7 468.7L192 469.7L190.4 469.9Z"/>
<path class="k43" d="M187.4 469.2L189.1 468.9L190.4 469.9L188.7 470.2Z"/>
<path class="k41" d="M185.8 469.4L187.4 469.2L188.7 470.2L187 470.4Z"/>
<path class="k39" d="M184.1 469.6L185.8 469.4L187 470.4L185.4 470.7Z"/>
<path class="k38" d="M182.5 469.9L184.1 469.6L185.4 470.7L183.7 470.9Z"/>
<path class="k37" d="M170.7 471.6L172.4 471.4L174.1 471.1L175.7 470.9L177.4 470.6L179.1 470.4L180.8 470.1L182.5 469.9L183.7 470.9L182 471.1L180.3 471.4L178.7 471.6L177 471.9L175.3 472.1L173.6 472.4L171.9 472.6Z"/>
<path class="k38" d="M165.5 472.4L167.2 472.1L169 471.9L170.7 471.6L171.9 472.6L170.2 472.9L168.4 473.1L166.7 473.4Z"/>
<path class="k39" d="M162.1 472.9L163.8 472.6L165.5 472.4L166.7 473.4L165 473.7L163.3 473.9Z"/>
<path class="k40" d="M158.6 473.4L160.4 473.1L162.1 472.9L163.3 473.9L161.5 474.2L159.8 474.4Z"/>
<path class="k41" d="M156.9 473.6L158.6 473.4L159.8 474.4L158 474.7Z"/>
<path class="k42" d="M153.4 474.1L155.1 473.9L156.9 473.6L158 474.7L156.3 474.9L154.5 475.2Z"/>
<path class="k43" d="M149.9 474.6L151.6 474.4L153.4 474.1L154.5 475.2L152.7 475.4L151 475.7Z"/>
<path class="k44" d="M148.1 474.9L149.9 474.6L151 475.7L149.2 476Z"/>
<path class="k45" d="M146.3 475.2L148.1 474.9L149.2 476L147.4 476.2Z"/>
<path class="k46" d="M144.5 475.4L146.3 475.2L147.4 476.2L145.6 476.5Z"/>
<path class="k47" d="M142.8 475.7L144.5 475.4L145.6 476.5L143.8 476.8Z"/>
<path class="k48" d="M141 475.9L142.8 475.7L143.8 476.8L142 477Z"/>
<path class="k49" d="M139.2 476.2L141 475.9L142 477L140.2 477.3Z"/>
<path class="k51" d="M137.4 476.5L139.2 476.2L140.2 477.3L138.4 477.5Z"/>
<path class="k52" d="M135.6 476.7L137.4 476.5L138.4 477.5L136.6 477.8Z"/>
<path class="k53" d="M133.8 477L135.6 476.7L136.6 477.8L134.8 478.1Z"/>
<path class="k54" d="M131.9 477.3L133.8 477L134.8 478.1L133 478.3Z"/>
<path class="k55" d="M130.1 477.5L131.9 477.3L133 478.3L131.2 478.6Z"/>
<path class="k56" d="M128.3 477.8L130.1 477.5L131.2 478.6L129.3 478.9Z"/>
<path class="k57" d="M126.5 478L128.3 477.8L129.3 478.9L127.5 479.2Z"/>
<path class="k58" d="M122.8 478.6L124.6 478.3L126.5 478L127.5 479.2L125.6 479.4L123.8 479.7Z"/>
<path class="k59" d="M117.2 479.4L119.1 479.1L120.9 478.9L122.8 478.6L123.8 479.7L121.9 480L120.1 480.2L118.2 480.5Z"/>
<path class="k58" d="M115.3 479.7L117.2 479.4L118.2 480.5L116.3 480.8Z"/>
<path class="k57" d="M113.5 479.9L115.3 479.7L116.3 480.8L114.4 481.1Z"/>
<path class="k56" d="M109.7 480.5L111.6 480.2L113.5 479.9L114.4 481.1L112.5 481.4L110.6 481.6Z"/>
<path class="k55" d="M107.8 480.8L109.7 480.5L110.6 481.6L108.7 481.9Z"/>
<path class="k54" d="M104 481.3L105.9 481L107.8 480.8L108.7 481.9L106.8 482.2L104.9 482.5Z"/>
<path class="k53" d="M100.2 481.9L102.1 481.6L104 481.3L104.9 482.5L103 482.7L101.1 483Z"/>
<path class="k52" d="M90.5 483.3L92.5 483L94.4 482.7L96.3 482.4L98.3 482.2L100.2 481.9L101.1 483L99.1 483.3L97.2 483.6L95.3 483.9L93.3 484.2L91.4 484.5Z"/>
<path class="k51" d="M80.7 484.7L82.7 484.4L84.6 484.1L86.6 483.9L88.6 483.6L90.5 483.3L91.4 484.5L89.4 484.7L87.4 485L85.5 485.3L83.5 485.6L81.5 485.9Z"/>
<path class="k50" d="M78.7 485L80.7 484.7L81.5 485.9L79.5 486.2Z"/>
</g>
<path d="M71.6 441.4L104.5 482.5M91.6 439.2L128.6 479.0M111.1 437.1L151.7 475.6M129.9 435.0L173.9 472.3M54.8 449.6L154.9 438.1M59.1 455.9L161.9 443.5M63.6 462.7L169.4 449.3M68.5 469.9L177.5 455.5M73.8 477.8L186.1 462.1" fill="none" stroke="#fff" stroke-opacity="0.35" stroke-width="0.4"/>
<g stroke-width="0.45" stroke-linejoin="round">
<path class="k0" d="M148.8 352.8L150.1 354.5L151 355.5L149.7 353.9Z"/>
<path class="k1" d="M147.4 351L148.8 352.8L149.7 353.9L148.3 352.2Z"/>
<path class="k2" d="M137.5 352.2L139 350.6L140.5 349.2L141.9 348.2L143.3 347.6L144.7 348L146.1 349.3L147.4 351L148.3 352.2L147 350.7L145.6 349.5L144.2 349.1L142.8 349.4L141.3 350.2L139.9 351.4L138.4 352.8Z"/>
<path class="k1" d="M136.1 353.8L137.5 352.2L138.4 352.8L136.9 354.3Z"/>
<path class="k0" d="M134.6 355.4L136.1 353.8L136.9 354.3L135.5 355.8Z"/>
<path class="k3" d="M131.6 358.5L133.1 357L134.6 355.4L135.5 355.8L134 357.2L132.5 358.6Z"/>
<path class="k4" d="M130.1 359.9L131.6 358.5L132.5 358.6L131 359.8Z"/>
<path class="k5" d="M128.6 361.1L130.1 359.9L131 359.8L129.5 360.8Z"/>
<path class="k7" d="M122.7 361.4L124.2 361.7L125.7 361.8L127.2 361.7L128.6 361.1L129.5 360.8L128 361.5L126.5 361.8L125 361.7L123.6 361.5Z"/>
<path class="k6" d="M121.2 361L122.7 361.4L123.6 361.5L122.1 361.2Z"/>
<path class="k5" d="M119.7 360.6L121.2 361L122.1 361.2L120.6 360.8Z"/>
<path class="k4" d="M113.7 359L115.2 359.4L116.7 359.7L118.3 360.1L119.7 360.6L120.6 360.8L119.1 360.4L117.6 360.1L116 359.8L114.5 359.5Z"/>
<path class="k3" d="M107.6 357.6L109.1 358L110.7 358.4L112.2 358.7L113.7 359L114.5 359.5L113 359.2L111.4 358.9L109.9 358.6L108.3 358.2Z"/>
<path class="k0" d="M102.9 355.8L104.5 356.4L106 357L107.6 357.6L108.3 358.2L106.8 357.8L105.2 357.3L103.6 356.7Z"/>
<path class="k1" d="M99.7 354.3L101.3 355L102.9 355.8L103.6 356.7L102.1 356.1L100.5 355.6Z"/>
<path class="k2" d="M91.6 355L93.3 354.2L94.9 353.6L96.5 353.3L98.1 353.6L99.7 354.3L100.5 355.6L98.9 355.1L97.3 354.8L95.6 355L94 355.5L92.4 356.2Z"/>
<path class="k1" d="M88.3 356.9L90 355.9L91.6 355L92.4 356.2L90.7 357.1L89 358Z"/>
<path class="k0" d="M85 359.1L86.7 357.9L88.3 356.9L89 358L87.4 359.1L85.7 360.3Z"/>
<path class="k3" d="M83.3 360.3L85 359.1L85.7 360.3L84 361.5Z"/>
<path class="k4" d="M80 362.8L81.7 361.5L83.3 360.3L84 361.5L82.3 362.8L80.6 364.1Z"/>
<path class="k5" d="M78.3 364.1L80 362.8L80.6 364.1L79 365.5Z"/>
<path class="k7" d="M76.6 365.5L78.3 364.1L79 365.5L77.3 366.8Z"/>
<path class="k8" d="M74.9 366.8L76.6 365.5L77.3 366.8L75.6 368.1Z"/>
<path class="k24" d="M73.2 368L74.9 366.8L75.6 368.1L73.8 369.4Z"/>
<path class="k10" d="M71.5 369.2L73.2 368L73.8 369.4L72.1 370.5Z"/>
<path class="k12" d="M69.8 370.3L71.5 369.2L72.1 370.5L70.4 371.6Z"/>
<path class="k29" d="M68.1 371.3L69.8 370.3L70.4 371.6L68.7 372.6Z"/>
<path class="k27" d="M66.4 372.2L68.1 371.3L68.7 372.6L67 373.5Z"/>
<path class="k25" d="M64.6 373.1L66.4 372.2L67 373.5L65.2 374.3Z"/>
<path class="k28" d="M62.9 374L64.6 373.1L65.2 374.3L63.5 375.2Z"/>
<path class="k18" d="M61.2 374.9L62.9 374L63.5 375.2L61.8 376.1Z"/>
<path class="k20" d="M59.4 375.7L61.2 374.9L61.8 376.1L60 377Z"/>
<path class="k22" d="M57.7 376.6L59.4 375.7L60 377L58.3 377.9Z"/>
<path class="k26" d="M55.9 377.5L57.7 376.6L58.3 377.9L56.5 378.7Z"/>
<path class="k30" d="M54.2 378.3L55.9 377.5L56.5 378.7L54.7 379.5Z"/>
<path class="k32" d="M52.4 379L54.2 378.3L54.7 379.5L53 380.3Z"/>
<path class="k33" d="M50.6 379.7L52.4 379L53 380.3L51.2 381Z"/>
<path class="k34" d="M48.9 380.3L50.6 379.7L51.2 381L49.4 381.5Z"/>
<path class="k0" d="M149.7 353.9L151 355.5L151.9 356.5L150.6 355.1Z"/>
<path class="k1" d="M147 350.7L148.3 352.2L149.7 353.9L150.6 355.1L149.2 353.8L147.8 352.5Z"/>
<path class="k2" d="M138.4 352.8L139.9 351.4L141.3 350.2L142.8 349.4L144.2 349.1L145.6 349.5L147 350.7L147.8 352.5L146.5 351.5L145.1 351L143.6 351.1L142.2 351.7L140.8 352.5L139.3 353.7Z"/>
<path class="k1" d="M136.9 354.3L138.4 352.8L139.3 353.7L137.8 354.9Z"/>
<path class="k0" d="M135.5 355.8L136.9 354.3L137.8 354.9L136.3 356.2Z"/>
<path class="k3" d="M132.5 358.6L134 357.2L135.5 355.8L136.3 356.2L134.9 357.4L133.4 358.6Z"/>
<path class="k4" d="M129.5 360.8L131 359.8L132.5 358.6L133.4 358.6L131.9 359.6L130.4 360.4Z"/>
<path class="k5" d="M128 361.5L129.5 360.8L130.4 360.4L128.9 361Z"/>
<path class="k6" d="M123.6 361.5L125 361.7L126.5 361.8L128 361.5L128.9 361L127.4 361.3L125.9 361.4L124.4 361.4Z"/>
<path class="k5" d="M120.6 360.8L122.1 361.2L123.6 361.5L124.4 361.4L122.9 361.2L121.4 360.9Z"/>
<path class="k4" d="M114.5 359.5L116 359.8L117.6 360.1L119.1 360.4L120.6 360.8L121.4 360.9L119.9 360.6L118.4 360.3L116.9 360.1L115.3 359.8Z"/>
<path class="k3" d="M108.3 358.2L109.9 358.6L111.4 358.9L113 359.2L114.5 359.5L115.3 359.8L113.8 359.6L112.2 359.3L110.7 359.1L109.1 358.7Z"/>
<path class="k0" d="M102.1 356.1L103.6 356.7L105.2 357.3L106.8 357.8L108.3 358.2L109.1 358.7L107.6 358.4L106 358L104.4 357.7L102.8 357.3Z"/>
<path class="k1" d="M90.7 357.1L92.4 356.2L94 355.5L95.6 355L97.3 354.8L98.9 355.1L100.5 355.6L102.1 356.1L102.8 357.3L101.2 357L99.6 356.7L98 356.5L96.4 356.6L94.7 357L93.1 357.6L91.4 358.4Z"/>
<path class="k0" d="M87.4 359.1L89 358L90.7 357.1L91.4 358.4L89.7 359.4L88.1 360.4Z"/>
<path class="k3" d="M84 361.5L85.7 360.3L87.4 359.1L88.1 360.4L86.4 361.6L84.7 362.9Z"/>
<path class="k4" d="M82.3 362.8L84 361.5L84.7 362.9L83 364.2Z"/>
<path class="k5" d="M80.6 364.1L82.3 362.8L83 364.2L81.3 365.6Z"/>
<path class="k7" d="M79 365.5L80.6 364.1L81.3 365.6L79.6 366.9Z"/>
<path class="k8" d="M77.3 366.8L79 365.5L79.6 366.9L77.9 368.3Z"/>
<path class="k24" d="M75.6 368.1L77.3 366.8L77.9 368.3L76.2 369.6Z"/>
<path class="k10" d="M73.8 369.4L75.6 368.1L76.2 369.6L74.5 370.8Z"/>
<path class="k11" d="M72.1 370.5L73.8 369.4L74.5 370.8L72.8 371.9Z"/>
<path class="k29" d="M70.4 371.6L72.1 370.5L72.8 371.9L71.1 373Z"/>
<path class="k27" d="M68.7 372.6L70.4 371.6L71.1 373L69.3 373.9Z"/>
<path class="k25" d="M67 373.5L68.7 372.6L69.3 373.9L67.6 374.8Z"/>
<path class="k28" d="M65.2 374.3L67 373.5L67.6 374.8L65.9 375.6Z"/>
<path class="k18" d="M63.5 375.2L65.2 374.3L65.9 375.6L64.1 376.5Z"/>
<path class="k20" d="M61.8 376.1L63.5 375.2L64.1 376.5L62.4 377.4Z"/>
<path class="k22" d="M60 377L61.8 376.1L62.4 377.4L60.6 378.3Z"/>
<path class="k26" d="M58.3 377.9L60 377L60.6 378.3L58.9 379.1Z"/>
<path class="k31" d="M56.5 378.7L58.3 377.9L58.9 379.1L57.1 380Z"/>
<path class="k32" d="M54.7 379.5L56.5 378.7L57.1 380L55.3 380.8Z"/>
<path class="k34" d="M53 380.3L54.7 379.5L55.3 380.8L53.6 381.5Z"/>
<path class="k35" d="M51.2 381L53 380.3L53.6 381.5L51.8 382.1Z"/>
<path class="k36" d="M49.4 381.5L51.2 381L51.8 382.1L50 382.7Z"/>
<path class="k3" d="M150.6 355.1L151.9 356.5L152.8 357.5L151.5 356.3Z"/>
<path class="k0" d="M149.2 353.8L150.6 355.1L151.5 356.3L150.1 355.2Z"/>
<path class="k1" d="M146.5 351.5L147.8 352.5L149.2 353.8L150.1 355.2L148.7 354.2L147.3 353.4Z"/>
<path class="k2" d="M140.8 352.5L142.2 351.7L143.6 351.1L145.1 351L146.5 351.5L147.3 353.4L145.9 352.9L144.5 352.9L143.1 353.2L141.6 353.8Z"/>
<path class="k1" d="M137.8 354.9L139.3 353.7L140.8 352.5L141.6 353.8L140.2 354.6L138.7 355.6Z"/>
<path class="k0" d="M134.9 357.4L136.3 356.2L137.8 354.9L138.7 355.6L137.2 356.6L135.7 357.6Z"/>
<path class="k3" d="M133.4 358.6L134.9 357.4L135.7 357.6L134.2 358.5Z"/>
<path class="k4" d="M127.4 361.3L128.9 361L130.4 360.4L131.9 359.6L133.4 358.6L134.2 358.5L132.8 359.3L131.3 360L129.8 360.5L128.3 360.8Z"/>
<path class="k5" d="M124.4 361.4L125.9 361.4L127.4 361.3L128.3 360.8L126.8 361L125.3 361.1Z"/>
<path class="k4" d="M115.3 359.8L116.9 360.1L118.4 360.3L119.9 360.6L121.4 360.9L122.9 361.2L124.4 361.4L125.3 361.1L123.8 361L122.2 360.9L120.7 360.7L119.2 360.5L117.7 360.3L116.1 360.1Z"/>
<path class="k3" d="M107.6 358.4L109.1 358.7L110.7 359.1L112.2 359.3L113.8 359.6L115.3 359.8L116.1 360.1L114.6 359.9L113 359.7L111.5 359.4L109.9 359.2L108.3 359Z"/>
<path class="k0" d="M101.2 357L102.8 357.3L104.4 357.7L106 358L107.6 358.4L108.3 359L106.8 358.7L105.2 358.5L103.6 358.3L102 358.1Z"/>
<path class="k1" d="M94.7 357L96.4 356.6L98 356.5L99.6 356.7L101.2 357L102 358.1L100.3 358L98.7 358L97.1 358.2L95.4 358.5Z"/>
<path class="k0" d="M89.7 359.4L91.4 358.4L93.1 357.6L94.7 357L95.4 358.5L93.8 359.1L92.1 359.9L90.5 360.8Z"/>
<path class="k3" d="M86.4 361.6L88.1 360.4L89.7 359.4L90.5 360.8L88.8 361.9L87.1 363.1Z"/>
<path class="k4" d="M84.7 362.9L86.4 361.6L87.1 363.1L85.4 364.4Z"/>
<path class="k5" d="M83 364.2L84.7 362.9L85.4 364.4L83.7 365.8Z"/>
<path class="k6" d="M81.3 365.6L83 364.2L83.7 365.8L82 367.2Z"/>
<path class="k8" d="M79.6 366.9L81.3 365.6L82 367.2L80.3 368.6Z"/>
<path class="k9" d="M77.9 368.3L79.6 366.9L80.3 368.6L78.6 369.9Z"/>
<path class="k10" d="M76.2 369.6L77.9 368.3L78.6 369.9L76.9 371.2Z"/>
<path class="k11" d="M74.5 370.8L76.2 369.6L76.9 371.2L75.2 372.4Z"/>
<path class="k29" d="M72.8 371.9L74.5 370.8L75.2 372.4L73.4 373.5Z"/>
<path class="k27" d="M71.1 373L72.8 371.9L73.4 373.5L71.7 374.5Z"/>
<path class="k25" d="M69.3 373.9L71.1 373L71.7 374.5L70 375.4Z"/>
<path class="k28" d="M67.6 374.8L69.3 373.9L70 375.4L68.2 376.3Z"/>
<path class="k19" d="M65.9 375.6L67.6 374.8L68.2 376.3L66.5 377.1Z"/>
<path class="k21" d="M64.1 376.5L65.9 375.6L66.5 377.1L64.7 377.9Z"/>
<path class="k22" d="M62.4 377.4L64.1 376.5L64.7 377.9L63 378.8Z"/>
<path class="k26" d="M60.6 378.3L62.4 377.4L63 378.8L61.2 379.7Z"/>
<path class="k31" d="M58.9 379.1L60.6 378.3L61.2 379.7L59.5 380.5Z"/>
<path class="k32" d="M57.1 380L58.9 379.1L59.5 380.5L57.7 381.3Z"/>
<path class="k34" d="M55.3 380.8L57.1 380L57.7 381.3L55.9 382Z"/>
<path class="k35" d="M53.6 381.5L55.3 380.8L55.9 382L54.1 382.7Z"/>
<path class="k36" d="M51.8 382.1L53.6 381.5L54.1 382.7L52.3 383.3Z"/>
<path class="k37" d="M50 382.7L51.8 382.1L52.3 383.3L50.5 383.8Z"/>
<path class="k3" d="M150.1 355.2L151.5 356.3L152.8 357.5L153.7 358.5L152.4 357.5L151 356.6Z"/>
<path class="k0" d="M148.7 354.2L150.1 355.2L151 356.6L149.6 355.7Z"/>
<path class="k1" d="M140.2 354.6L141.6 353.8L143.1 353.2L144.5 352.9L145.9 352.9L147.3 353.4L148.7 354.2L149.6 355.7L148.2 355L146.8 354.6L145.4 354.5L144 354.7L142.5 355.1L141.1 355.6Z"/>
<path class="k0" d="M135.7 357.6L137.2 356.6L138.7 355.6L140.2 354.6L141.1 355.6L139.6 356.3L138.1 357.1L136.6 357.8Z"/>
<path class="k3" d="M132.8 359.3L134.2 358.5L135.7 357.6L136.6 357.8L135.1 358.5L133.6 359.2Z"/>
<path class="k4" d="M117.7 360.3L119.2 360.5L120.7 360.7L122.2 360.9L123.8 361L125.3 361.1L126.8 361L128.3 360.8L129.8 360.5L131.3 360L132.8 359.3L133.6 359.2L132.2 359.7L130.7 360.1L129.1 360.5L127.6 360.7L126.1 360.8L124.6 360.9L123.1 360.8L121.6 360.7L120 360.6L118.5 360.4Z"/>
<path class="k3" d="M108.3 359L109.9 359.2L111.5 359.4L113 359.7L114.6 359.9L116.1 360.1L117.7 360.3L118.5 360.4L117 360.2L115.4 360.1L113.9 359.9L112.3 359.8L110.7 359.6L109.1 359.5Z"/>
<path class="k0" d="M92.1 359.9L93.8 359.1L95.4 358.5L97.1 358.2L98.7 358L100.3 358L102 358.1L103.6 358.3L105.2 358.5L106.8 358.7L108.3 359L109.1 359.5L107.5 359.4L105.9 359.3L104.3 359.2L102.7 359.2L101.1 359.2L99.5 359.3L97.8 359.6L96.2 360L94.5 360.6L92.8 361.4Z"/>
<path class="k3" d="M88.8 361.9L90.5 360.8L92.1 359.9L92.8 361.4L91.2 362.3L89.5 363.4Z"/>
<path class="k4" d="M87.1 363.1L88.8 361.9L89.5 363.4L87.8 364.7Z"/>
<path class="k5" d="M85.4 364.4L87.1 363.1L87.8 364.7L86.1 366.1Z"/>
<path class="k6" d="M83.7 365.8L85.4 364.4L86.1 366.1L84.4 367.6Z"/>
<path class="k8" d="M82 367.2L83.7 365.8L84.4 367.6L82.7 369Z"/>
<path class="k9" d="M80.3 368.6L82 367.2L82.7 369L81 370.4Z"/>
<path class="k10" d="M78.6 369.9L80.3 368.6L81 370.4L79.3 371.8Z"/>
<path class="k11" d="M76.9 371.2L78.6 369.9L79.3 371.8L77.5 373Z"/>
<path class="k29" d="M75.2 372.4L76.9 371.2L77.5 373L75.8 374.2Z"/>
<path class="k14" d="M73.4 373.5L75.2 372.4L75.8 374.2L74.1 375.3Z"/>
<path class="k16" d="M71.7 374.5L73.4 373.5L74.1 375.3L72.4 376.3Z"/>
<path class="k18" d="M70 375.4L71.7 374.5L72.4 376.3L70.6 377.2Z"/>
<path class="k20" d="M68.2 376.3L70 375.4L70.6 377.2L68.9 378.1Z"/>
<path class="k22" d="M66.5 377.1L68.2 376.3L68.9 378.1L67.1 378.9Z"/>
<path class="k23" d="M64.7 377.9L66.5 377.1L67.1 378.9L65.4 379.7Z"/>
<path class="k30" d="M63 378.8L64.7 377.9L65.4 379.7L63.6 380.4Z"/>
<path class="k31" d="M61.2 379.7L63 378.8L63.6 380.4L61.8 381.2Z"/>
<path class="k33" d="M59.5 380.5L61.2 379.7L61.8 381.2L60.1 381.9Z"/>
<path class="k34" d="M57.7 381.3L59.5 380.5L60.1 381.9L58.3 382.6Z"/>
<path class="k35" d="M55.9 382L57.7 381.3L58.3 382.6L56.5 383.3Z"/>
<path class="k37" d="M54.1 382.7L55.9 382L56.5 383.3L54.7 383.9Z"/>
<path class="k38" d="M52.3 383.3L54.1 382.7L54.7 383.9L52.9 384.5Z"/>
<path class="k39" d="M50.5 383.8L52.3 383.3L52.9 384.5L51.1 384.9Z"/>
<path class="k4" d="M152.4 357.5L153.7 358.5L154.7 359.6L153.3 358.7Z"/>
<path class="k3" d="M151 356.6L152.4 357.5L153.3 358.7L151.9 357.8Z"/>
<path class="k0" d="M146.8 354.6L148.2 355L149.6 355.7L151 356.6L151.9 357.8L150.5 357.1L149.1 356.5L147.7 356.1Z"/>
<path class="k1" d="M142.5 355.1L144 354.7L145.4 354.5L146.8 354.6L147.7 356.1L146.3 356L144.9 356L143.4 356.2Z"/>
<path class="k0" d="M136.6 357.8L138.1 357.1L139.6 356.3L141.1 355.6L142.5 355.1L143.4 356.2L141.9 356.6L140.5 357.1L139 357.6L137.5 358.2Z"/>
<path class="k3" d="M130.7 360.1L132.2 359.7L133.6 359.2L135.1 358.5L136.6 357.8L137.5 358.2L136 358.7L134.5 359.2L133 359.6L131.5 360Z"/>
<path class="k4" d="M121.6 360.7L123.1 360.8L124.6 360.9L126.1 360.8L127.6 360.7L129.1 360.5L130.7 360.1L131.5 360L130 360.3L128.5 360.5L127 360.6L125.5 360.7L124 360.7L122.4 360.7Z"/>
<path class="k3" d="M109.1 359.5L110.7 359.6L112.3 359.8L113.9 359.9L115.4 360.1L117 360.2L118.5 360.4L120 360.6L121.6 360.7L122.4 360.7L120.9 360.6L119.3 360.5L117.8 360.4L116.2 360.3L114.7 360.2L113.1 360.1L111.5 360L109.9 360Z"/>
<path class="k0" d="M96.2 360L97.8 359.6L99.5 359.3L101.1 359.2L102.7 359.2L104.3 359.2L105.9 359.3L107.5 359.4L109.1 359.5L109.9 360L108.3 360L106.7 359.9L105.1 360L103.5 360.1L101.9 360.2L100.2 360.5L98.6 360.9L96.9 361.4Z"/>
<path class="k3" d="M91.2 362.3L92.8 361.4L94.5 360.6L96.2 360L96.9 361.4L95.2 362.1L93.6 362.9L91.9 363.9Z"/>
<path class="k4" d="M89.5 363.4L91.2 362.3L91.9 363.9L90.2 365.1Z"/>
<path class="k5" d="M87.8 364.7L89.5 363.4L90.2 365.1L88.5 366.5Z"/>
<path class="k6" d="M86.1 366.1L87.8 364.7L88.5 366.5L86.8 368Z"/>
<path class="k8" d="M84.4 367.6L86.1 366.1L86.8 368L85.1 369.5Z"/>
<path class="k24" d="M82.7 369L84.4 367.6L85.1 369.5L83.4 371.1Z"/>
<path class="k10" d="M81 370.4L82.7 369L83.4 371.1L81.7 372.5Z"/>
<path class="k12" d="M79.3 371.8L81 370.4L81.7 372.5L79.9 373.9Z"/>
<path class="k13" d="M77.5 373L79.3 371.8L79.9 373.9L78.2 375.1Z"/>
<path class="k25" d="M75.8 374.2L77.5 373L78.2 375.1L76.5 376.3Z"/>
<path class="k17" d="M74.1 375.3L75.8 374.2L76.5 376.3L74.8 377.4Z"/>
<path class="k19" d="M72.4 376.3L74.1 375.3L74.8 377.4L73 378.4Z"/>
<path class="k21" d="M70.6 377.2L72.4 376.3L73 378.4L71.3 379.3Z"/>
<path class="k23" d="M68.9 378.1L70.6 377.2L71.3 379.3L69.5 380.1Z"/>
<path class="k30" d="M67.1 378.9L68.9 378.1L69.5 380.1L67.8 380.9Z"/>
<path class="k31" d="M65.4 379.7L67.1 378.9L67.8 380.9L66 381.6Z"/>
<path class="k32" d="M63.6 380.4L65.4 379.7L66 381.6L64.2 382.3Z"/>
<path class="k34" d="M61.8 381.2L63.6 380.4L64.2 382.3L62.5 382.9Z"/>
<path class="k35" d="M60.1 381.9L61.8 381.2L62.5 382.9L60.7 383.5Z"/>
<path class="k36" d="M58.3 382.6L60.1 381.9L60.7 383.5L58.9 384.1Z"/>
<path class="k37" d="M56.5 383.3L58.3 382.6L58.9 384.1L57.1 384.6Z"/>
<path class="k38" d="M54.7 383.9L56.5 383.3L57.1 384.6L55.3 385.1Z"/>
<path class="k39" d="M51.1 384.9L52.9 384.5L54.7 383.9L55.3 385.1L53.5 385.6L51.7 386Z"/>
<path class="k4" d="M153.3 358.7L154.7 359.6L155.6 360.6L154.2 359.7Z"/>
<path class="k3" d="M149.1 356.5L150.5 357.1L151.9 357.8L153.3 358.7L154.2 359.7L152.8 359L151.4 358.3L150 357.8Z"/>
<path class="k0" d="M137.5 358.2L139 357.6L140.5 357.1L141.9 356.6L143.4 356.2L144.9 356L146.3 356L147.7 356.1L149.1 356.5L150 357.8L148.6 357.5L147.2 357.3L145.8 357.2L144.3 357.3L142.9 357.5L141.4 357.9L139.9 358.2L138.4 358.6Z"/>
<path class="k3" d="M109.9 360L111.5 360L113.1 360.1L114.7 360.2L116.2 360.3L117.8 360.4L119.3 360.5L120.9 360.6L122.4 360.7L124 360.7L125.5 360.7L127 360.6L128.5 360.5L130 360.3L131.5 360L133 359.6L134.5 359.2L136 358.7L137.5 358.2L138.4 358.6L136.9 359L135.4 359.4L133.9 359.7L132.4 360L130.9 360.2L129.4 360.4L127.9 360.5L126.4 360.6L124.8 360.7L123.3 360.7L121.7 360.6L120.2 360.6L118.6 360.5L117.1 360.5L115.5 360.4L113.9 360.4L112.3 360.4L110.7 360.4Z"/>
<path class="k0" d="M101.9 360.2L103.5 360.1L105.1 360L106.7 359.9L108.3 360L109.9 360L110.7 360.4L109.1 360.5L107.5 360.6L105.9 360.7L104.3 361L102.6 361.3Z"/>
<path class="k3" d="M95.2 362.1L96.9 361.4L98.6 360.9L100.2 360.5L101.9 360.2L102.6 361.3L101 361.6L99.3 362.1L97.7 362.8L96 363.6Z"/>
<path class="k4" d="M91.9 363.9L93.6 362.9L95.2 362.1L96 363.6L94.3 364.5L92.6 365.6Z"/>
<path class="k5" d="M90.2 365.1L91.9 363.9L92.6 365.6L90.9 366.9Z"/>
<path class="k6" d="M88.5 366.5L90.2 365.1L90.9 366.9L89.2 368.4Z"/>
<path class="k8" d="M86.8 368L88.5 366.5L89.2 368.4L87.5 370.1Z"/>
<path class="k24" d="M85.1 369.5L86.8 368L87.5 370.1L85.8 371.7Z"/>
<path class="k11" d="M83.4 371.1L85.1 369.5L85.8 371.7L84.1 373.3Z"/>
<path class="k12" d="M81.7 372.5L83.4 371.1L84.1 373.3L82.3 374.8Z"/>
<path class="k14" d="M79.9 373.9L81.7 372.5L82.3 374.8L80.6 376.2Z"/>
<path class="k16" d="M78.2 375.1L79.9 373.9L80.6 376.2L78.9 377.4Z"/>
<path class="k19" d="M76.5 376.3L78.2 375.1L78.9 377.4L77.2 378.6Z"/>
<path class="k21" d="M74.8 377.4L76.5 376.3L77.2 378.6L75.4 379.7Z"/>
<path class="k23" d="M73 378.4L74.8 377.4L75.4 379.7L73.7 380.6Z"/>
<path class="k30" d="M71.3 379.3L73 378.4L73.7 380.6L71.9 381.5Z"/>
<path class="k32" d="M69.5 380.1L71.3 379.3L71.9 381.5L70.2 382.3Z"/>
<path class="k33" d="M67.8 380.9L69.5 380.1L70.2 382.3L68.4 383.1Z"/>
<path class="k34" d="M66 381.6L67.8 380.9L68.4 383.1L66.7 383.7Z"/>
<path class="k36" d="M64.2 382.3L66 381.6L66.7 383.7L64.9 384.3Z"/>
<path class="k37" d="M62.5 382.9L64.2 382.3L64.9 384.3L63.1 384.8Z"/>
<path class="k38" d="M58.9 384.1L60.7 383.5L62.5 382.9L63.1 384.8L61.3 385.3L59.5 385.7Z"/>
<path class="k39" d="M57.1 384.6L58.9 384.1L59.5 385.7L57.7 386.1Z"/>
<path class="k40" d="M51.7 386L53.5 385.6L55.3 385.1L57.1 384.6L57.7 386.1L55.9 386.4L54.1 386.7L52.3 387Z"/>
<path class="k4" d="M152.8 359L154.2 359.7L155.6 360.6L156.6 361.5L155.2 360.7L153.8 360Z"/>
<path class="k3" d="M148.6 357.5L150 357.8L151.4 358.3L152.8 359L153.8 360L152.4 359.4L151 358.9L149.5 358.6Z"/>
<path class="k0" d="M139.9 358.2L141.4 357.9L142.9 357.5L144.3 357.3L145.8 357.2L147.2 357.3L148.6 357.5L149.5 358.6L148.1 358.4L146.7 358.3L145.2 358.3L143.8 358.4L142.3 358.6L140.8 358.8Z"/>
<path class="k3" d="M97.7 362.8L99.3 362.1L101 361.6L102.6 361.3L104.3 361L105.9 360.7L107.5 360.6L109.1 360.5L110.7 360.4L112.3 360.4L113.9 360.4L115.5 360.4L117.1 360.5L118.6 360.5L120.2 360.6L121.7 360.6L123.3 360.7L124.8 360.7L126.4 360.6L127.9 360.5L129.4 360.4L130.9 360.2L132.4 360L133.9 359.7L135.4 359.4L136.9 359L138.4 358.6L139.9 358.2L140.8 358.8L139.3 359L137.8 359.3L136.4 359.6L134.8 359.8L133.3 360.1L131.8 360.2L130.3 360.4L128.8 360.5L127.2 360.6L125.7 360.7L124.2 360.7L122.6 360.7L121.1 360.7L119.5 360.7L117.9 360.7L116.3 360.7L114.8 360.7L113.2 360.8L111.6 360.8L109.9 361L108.3 361.2L106.7 361.4L105.1 361.8L103.4 362.2L101.7 362.7L100.1 363.4L98.4 364.2Z"/>
<path class="k4" d="M94.3 364.5L96 363.6L97.7 362.8L98.4 364.2L96.7 365.2L95 366.3Z"/>
<path class="k5" d="M92.6 365.6L94.3 364.5L95 366.3L93.3 367.6Z"/>
<path class="k7" d="M90.9 366.9L92.6 365.6L93.3 367.6L91.6 369.1Z"/>
<path class="k8" d="M89.2 368.4L90.9 366.9L91.6 369.1L89.9 370.7Z"/>
<path class="k24" d="M87.5 370.1L89.2 368.4L89.9 370.7L88.2 372.4Z"/>
<path class="k11" d="M85.8 371.7L87.5 370.1L88.2 372.4L86.5 374.1Z"/>
<path class="k29" d="M84.1 373.3L85.8 371.7L86.5 374.1L84.8 375.7Z"/>
<path class="k15" d="M82.3 374.8L84.1 373.3L84.8 375.7L83 377.2Z"/>
<path class="k17" d="M80.6 376.2L82.3 374.8L83 377.2L81.3 378.6Z"/>
<path class="k21" d="M78.9 377.4L80.6 376.2L81.3 378.6L79.6 379.9Z"/>
<path class="k23" d="M77.2 378.6L78.9 377.4L79.6 379.9L77.8 381Z"/>
<path class="k30" d="M75.4 379.7L77.2 378.6L77.8 381L76.1 382.1Z"/>
<path class="k32" d="M73.7 380.6L75.4 379.7L76.1 382.1L74.4 383.1Z"/>
<path class="k34" d="M71.9 381.5L73.7 380.6L74.4 383.1L72.6 383.9Z"/>
<path class="k36" d="M70.2 382.3L71.9 381.5L72.6 383.9L70.8 384.7Z"/>
<path class="k37" d="M68.4 383.1L70.2 382.3L70.8 384.7L69.1 385.4Z"/>
<path class="k38" d="M66.7 383.7L68.4 383.1L69.1 385.4L67.3 386Z"/>
<path class="k39" d="M64.9 384.3L66.7 383.7L67.3 386L65.5 386.5Z"/>
<path class="k40" d="M61.3 385.3L63.1 384.8L64.9 384.3L65.5 386.5L63.7 386.9L62 387.2Z"/>
<path class="k41" d="M52.3 387L54.1 386.7L55.9 386.4L57.7 386.1L59.5 385.7L61.3 385.3L62 387.2L60.1 387.5L58.3 387.7L56.5 387.8L54.7 388L52.8 388Z"/>
<path class="k5" d="M155.2 360.7L156.6 361.5L157.5 362.4L156.1 361.6Z"/>
<path class="k4" d="M152.4 359.4L153.8 360L155.2 360.7L156.1 361.6L154.7 360.9L153.3 360.4Z"/>
<path class="k3" d="M113.2 360.8L114.8 360.7L116.3 360.7L117.9 360.7L119.5 360.7L121.1 360.7L122.6 360.7L124.2 360.7L125.7 360.7L127.2 360.6L128.8 360.5L130.3 360.4L131.8 360.2L133.3 360.1L134.8 359.8L136.4 359.6L137.8 359.3L139.3 359L140.8 358.8L142.3 358.6L143.8 358.4L145.2 358.3L146.7 358.3L148.1 358.4L149.5 358.6L151 358.9L152.4 359.4L153.3 360.4L151.9 359.9L150.5 359.5L149 359.3L147.6 359.1L146.2 359.1L144.7 359.1L143.2 359.2L141.7 359.3L140.3 359.5L138.8 359.7L137.3 359.8L135.8 360L134.2 360.2L132.7 360.4L131.2 360.5L129.7 360.6L128.1 360.7L126.6 360.7L125 360.8L123.5 360.8L121.9 360.8L120.4 360.8L118.8 360.9L117.2 360.9L115.6 361L114 361.1Z"/>
<path class="k0" d="M111.6 360.8L113.2 360.8L114 361.1L112.4 361.3Z"/>
<path class="k3" d="M100.1 363.4L101.7 362.7L103.4 362.2L105.1 361.8L106.7 361.4L108.3 361.2L109.9 361L111.6 360.8L112.4 361.3L110.8 361.5L109.1 361.7L107.5 362.1L105.8 362.5L104.2 363.1L102.5 363.8L100.9 364.6Z"/>
<path class="k4" d="M96.7 365.2L98.4 364.2L100.1 363.4L100.9 364.6L99.2 365.6L97.5 366.8Z"/>
<path class="k5" d="M95 366.3L96.7 365.2L97.5 366.8L95.8 368.2Z"/>
<path class="k7" d="M93.3 367.6L95 366.3L95.8 368.2L94.1 369.8Z"/>
<path class="k9" d="M91.6 369.1L93.3 367.6L94.1 369.8L92.4 371.4Z"/>
<path class="k24" d="M89.9 370.7L91.6 369.1L92.4 371.4L90.6 373.1Z"/>
<path class="k11" d="M88.2 372.4L89.9 370.7L90.6 373.1L88.9 374.8Z"/>
<path class="k13" d="M86.5 374.1L88.2 372.4L88.9 374.8L87.2 376.6Z"/>
<path class="k16" d="M84.8 375.7L86.5 374.1L87.2 376.6L85.5 378.2Z"/>
<path class="k19" d="M83 377.2L84.8 375.7L85.5 378.2L83.7 379.7Z"/>
<path class="k22" d="M81.3 378.6L83 377.2L83.7 379.7L82 381.1Z"/>
<path class="k30" d="M79.6 379.9L81.3 378.6L82 381.1L80.3 382.4Z"/>
<path class="k32" d="M77.8 381L79.6 379.9L80.3 382.4L78.5 383.6Z"/>
<path class="k35" d="M76.1 382.1L77.8 381L78.5 383.6L76.8 384.6Z"/>
<path class="k37" d="M74.4 383.1L76.1 382.1L76.8 384.6L75 385.6Z"/>
<path class="k38" d="M72.6 383.9L74.4 383.1L75 385.6L73.3 386.5Z"/>
<path class="k40" d="M70.8 384.7L72.6 383.9L73.3 386.5L71.5 387.2Z"/>
<path class="k41" d="M67.3 386L69.1 385.4L70.8 384.7L71.5 387.2L69.7 387.9L68 388.4Z"/>
<path class="k42" d="M65.5 386.5L67.3 386L68 388.4L66.2 388.8Z"/>
<path class="k43" d="M54.7 388L56.5 387.8L58.3 387.7L60.1 387.5L62 387.2L63.7 386.9L65.5 386.5L66.2 388.8L64.4 389.1L62.6 389.3L60.8 389.4L59 389.4L57.1 389.3L55.3 389.3Z"/>
<path class="k42" d="M52.8 388L54.7 388L55.3 389.3L53.4 389.2Z"/>
<path class="k5" d="M156.1 361.6L157.5 362.4L158.5 363.1L157.1 362.4Z"/>
<path class="k4" d="M151.9 359.9L153.3 360.4L154.7 360.9L156.1 361.6L157.1 362.4L155.7 361.7L154.3 361.1L152.9 360.7Z"/>
<path class="k3" d="M120.4 360.8L121.9 360.8L123.5 360.8L125 360.8L126.6 360.7L128.1 360.7L129.7 360.6L131.2 360.5L132.7 360.4L134.2 360.2L135.8 360L137.3 359.8L138.8 359.7L140.3 359.5L141.7 359.3L143.2 359.2L144.7 359.1L146.2 359.1L147.6 359.1L149 359.3L150.5 359.5L151.9 359.9L152.9 360.7L151.4 360.3L150 360L148.5 359.8L147.1 359.8L145.6 359.7L144.2 359.7L142.7 359.8L141.2 359.9L139.7 360L138.2 360.1L136.7 360.3L135.2 360.4L133.6 360.5L132.1 360.6L130.6 360.7L129 360.8L127.5 360.9L125.9 360.9L124.4 361L122.8 361L121.2 361Z"/>
<path class="k0" d="M112.4 361.3L114 361.1L115.6 361L117.2 360.9L118.8 360.9L120.4 360.8L121.2 361L119.6 361.1L118 361.2L116.4 361.3L114.8 361.5L113.2 361.7Z"/>
<path class="k3" d="M102.5 363.8L104.2 363.1L105.8 362.5L107.5 362.1L109.1 361.7L110.8 361.5L112.4 361.3L113.2 361.7L111.6 362L109.9 362.3L108.3 362.7L106.6 363.3L105 363.9L103.3 364.8Z"/>
<path class="k4" d="M99.2 365.6L100.9 364.6L102.5 363.8L103.3 364.8L101.6 365.7L99.9 367Z"/>
<path class="k5" d="M97.5 366.8L99.2 365.6L99.9 367L98.2 368.4Z"/>
<path class="k7" d="M95.8 368.2L97.5 366.8L98.2 368.4L96.5 370.1Z"/>
<path class="k9" d="M94.1 369.8L95.8 368.2L96.5 370.1L94.8 371.9Z"/>
<path class="k10" d="M92.4 371.4L94.1 369.8L94.8 371.9L93.1 373.7Z"/>
<path class="k12" d="M90.6 373.1L92.4 371.4L93.1 373.7L91.4 375.5Z"/>
<path class="k27" d="M88.9 374.8L90.6 373.1L91.4 375.5L89.6 377.3Z"/>
<path class="k28" d="M87.2 376.6L88.9 374.8L89.6 377.3L87.9 379.1Z"/>
<path class="k21" d="M85.5 378.2L87.2 376.6L87.9 379.1L86.2 380.7Z"/>
<path class="k26" d="M83.7 379.7L85.5 378.2L86.2 380.7L84.4 382.3Z"/>
<path class="k32" d="M82 381.1L83.7 379.7L84.4 382.3L82.7 383.7Z"/>
<path class="k35" d="M80.3 382.4L82 381.1L82.7 383.7L81 385Z"/>
<path class="k37" d="M78.5 383.6L80.3 382.4L81 385L79.2 386.2Z"/>
<path class="k39" d="M76.8 384.6L78.5 383.6L79.2 386.2L77.5 387.3Z"/>
<path class="k41" d="M75 385.6L76.8 384.6L77.5 387.3L75.7 388.2Z"/>
<path class="k42" d="M73.3 386.5L75 385.6L75.7 388.2L74 389.1Z"/>
<path class="k43" d="M71.5 387.2L73.3 386.5L74 389.1L72.2 389.8Z"/>
<path class="k44" d="M69.7 387.9L71.5 387.2L72.2 389.8L70.4 390.4Z"/>
<path class="k45" d="M66.2 388.8L68 388.4L69.7 387.9L70.4 390.4L68.6 390.9L66.8 391.2Z"/>
<path class="k46" d="M60.8 389.4L62.6 389.3L64.4 389.1L66.2 388.8L66.8 391.2L65 391.4L63.2 391.5L61.4 391.4Z"/>
<path class="k45" d="M57.1 389.3L59 389.4L60.8 389.4L61.4 391.4L59.6 391.2L57.7 391Z"/>
<path class="k44" d="M53.4 389.2L55.3 389.3L57.1 389.3L57.7 391L55.9 390.7L54 390.4Z"/>
<path class="k6" d="M157.1 362.4L158.5 363.1L159.5 363.8L158.1 363.1Z"/>
<path class="k4" d="M152.9 360.7L154.3 361.1L155.7 361.7L157.1 362.4L158.1 363.1L156.7 362.4L155.3 361.8L153.8 361.3Z"/>
<path class="k3" d="M127.5 360.9L129 360.8L130.6 360.7L132.1 360.6L133.6 360.5L135.2 360.4L136.7 360.3L138.2 360.1L139.7 360L141.2 359.9L142.7 359.8L144.2 359.7L145.6 359.7L147.1 359.8L148.5 359.8L150 360L151.4 360.3L152.9 360.7L153.8 361.3L152.4 360.8L151 360.6L149.5 360.4L148 360.2L146.6 360.2L145.1 360.2L143.6 360.2L142.1 360.2L140.6 360.3L139.1 360.4L137.6 360.5L136.1 360.6L134.6 360.7L133 360.8L131.5 360.9L129.9 361L128.4 361Z"/>
<path class="k0" d="M113.2 361.7L114.8 361.5L116.4 361.3L118 361.2L119.6 361.1L121.2 361L122.8 361L124.4 361L125.9 360.9L127.5 360.9L128.4 361L126.8 361.1L125.3 361.2L123.7 361.2L122.1 361.3L120.5 361.4L118.9 361.5L117.3 361.6L115.7 361.9L114.1 362.1Z"/>
<path class="k3" d="M105 363.9L106.6 363.3L108.3 362.7L109.9 362.3L111.6 362L113.2 361.7L114.1 362.1L112.4 362.5L110.8 362.9L109.1 363.4L107.5 364L105.8 364.8Z"/>
<path class="k4" d="M101.6 365.7L103.3 364.8L105 363.9L105.8 364.8L104.1 365.8L102.4 366.9Z"/>
<path class="k5" d="M99.9 367L101.6 365.7L102.4 366.9L100.7 368.2Z"/>
<path class="k6" d="M98.2 368.4L99.9 367L100.7 368.2L99 369.9Z"/>
<path class="k8" d="M96.5 370.1L98.2 368.4L99 369.9L97.3 371.9Z"/>
<path class="k10" d="M94.8 371.9L96.5 370.1L97.3 371.9L95.6 373.9Z"/>
<path class="k12" d="M93.1 373.7L94.8 371.9L95.6 373.9L93.8 376Z"/>
<path class="k14" d="M91.4 375.5L93.1 373.7L93.8 376L92.1 377.9Z"/>
<path class="k17" d="M89.6 377.3L91.4 375.5L92.1 377.9L90.4 379.8Z"/>
<path class="k21" d="M87.9 379.1L89.6 377.3L90.4 379.8L88.6 381.6Z"/>
<path class="k30" d="M86.2 380.7L87.9 379.1L88.6 381.6L86.9 383.3Z"/>
<path class="k33" d="M84.4 382.3L86.2 380.7L86.9 383.3L85.2 384.9Z"/>
<path class="k36" d="M82.7 383.7L84.4 382.3L85.2 384.9L83.4 386.3Z"/>
<path class="k39" d="M81 385L82.7 383.7L83.4 386.3L81.7 387.7Z"/>
<path class="k41" d="M79.2 386.2L81 385L81.7 387.7L79.9 388.9Z"/>
<path class="k43" d="M77.5 387.3L79.2 386.2L79.9 388.9L78.2 389.9Z"/>
<path class="k44" d="M75.7 388.2L77.5 387.3L78.2 389.9L76.4 390.9Z"/>
<path class="k46" d="M74 389.1L75.7 388.2L76.4 390.9L74.6 391.7Z"/>
<path class="k47" d="M72.2 389.8L74 389.1L74.6 391.7L72.9 392.4Z"/>
<path class="k48" d="M59.6 391.2L61.4 391.4L63.2 391.5L65 391.4L66.8 391.2L68.6 390.9L70.4 390.4L72.2 389.8L72.9 392.4L71.1 393L69.3 393.4L67.5 393.7L65.7 393.8L63.9 393.8L62.1 393.5L60.2 393.2Z"/>
<path class="k47" d="M57.7 391L59.6 391.2L60.2 393.2L58.4 392.7Z"/>
<path class="k46" d="M55.9 390.7L57.7 391L58.4 392.7L56.5 392.3Z"/>
<path class="k45" d="M54 390.4L55.9 390.7L56.5 392.3L54.6 391.9Z"/>
<path class="k6" d="M158.1 363.1L159.5 363.8L160.5 364.4L159.1 363.6Z"/>
<path class="k5" d="M156.7 362.4L158.1 363.1L159.1 363.6L157.7 362.9Z"/>
<path class="k4" d="M153.8 361.3L155.3 361.8L156.7 362.4L157.7 362.9L156.2 362.2L154.8 361.7Z"/>
<path class="k3" d="M142.1 360.2L143.6 360.2L145.1 360.2L146.6 360.2L148 360.2L149.5 360.4L151 360.6L152.4 360.8L153.8 361.3L154.8 361.7L153.4 361.3L151.9 361L150.5 360.7L149 360.6L147.5 360.5L146.1 360.5L144.6 360.5L143.1 360.5Z"/>
<path class="k0" d="M114.1 362.1L115.7 361.9L117.3 361.6L118.9 361.5L120.5 361.4L122.1 361.3L123.7 361.2L125.3 361.2L126.8 361.1L128.4 361L129.9 361L131.5 360.9L133 360.8L134.6 360.7L136.1 360.6L137.6 360.5L139.1 360.4L140.6 360.3L142.1 360.2L143.1 360.5L141.6 360.6L140.1 360.7L138.5 360.8L137 360.9L135.5 361L133.9 361.1L132.4 361.2L130.8 361.2L129.3 361.3L127.7 361.4L126.1 361.4L124.6 361.5L123 361.6L121.4 361.7L119.8 361.8L118.2 362L116.5 362.3L114.9 362.6Z"/>
<path class="k3" d="M107.5 364L109.1 363.4L110.8 362.9L112.4 362.5L114.1 362.1L114.9 362.6L113.3 363L111.6 363.5L109.9 364.1L108.3 364.9Z"/>
<path class="k4" d="M102.4 366.9L104.1 365.8L105.8 364.8L107.5 364L108.3 364.9L106.6 365.8L104.9 366.8L103.2 368.1Z"/>
<path class="k6" d="M100.7 368.2L102.4 366.9L103.2 368.1L101.5 369.7Z"/>
<path class="k8" d="M99 369.9L100.7 368.2L101.5 369.7L99.8 371.5Z"/>
<path class="k24" d="M97.3 371.9L99 369.9L99.8 371.5L98 373.6Z"/>
<path class="k11" d="M95.6 373.9L97.3 371.9L98 373.6L96.3 375.8Z"/>
<path class="k27" d="M93.8 376L95.6 373.9L96.3 375.8L94.6 378Z"/>
<path class="k17" d="M92.1 377.9L93.8 376L94.6 378L92.8 380.1Z"/>
<path class="k22" d="M90.4 379.8L92.1 377.9L92.8 380.1L91.1 382.1Z"/>
<path class="k31" d="M88.6 381.6L90.4 379.8L91.1 382.1L89.4 384Z"/>
<path class="k34" d="M86.9 383.3L88.6 381.6L89.4 384L87.6 385.8Z"/>
<path class="k38" d="M85.2 384.9L86.9 383.3L87.6 385.8L85.9 387.5Z"/>
<path class="k40" d="M83.4 386.3L85.2 384.9L85.9 387.5L84.1 389Z"/>
<path class="k43" d="M81.7 387.7L83.4 386.3L84.1 389L82.4 390.3Z"/>
<path class="k45" d="M79.9 388.9L81.7 387.7L82.4 390.3L80.6 391.5Z"/>
<path class="k46" d="M78.2 389.9L79.9 388.9L80.6 391.5L78.9 392.6Z"/>
<path class="k48" d="M74.6 391.7L76.4 390.9L78.2 389.9L78.9 392.6L77.1 393.5L75.3 394.3Z"/>
<path class="k49" d="M72.9 392.4L74.6 391.7L75.3 394.3L73.5 395Z"/>
<path class="k50" d="M62.1 393.5L63.9 393.8L65.7 393.8L67.5 393.7L69.3 393.4L71.1 393L72.9 392.4L73.5 395L71.8 395.5L70 395.9L68.2 396.1L66.4 396.2L64.6 396L62.7 395.7Z"/>
<path class="k49" d="M60.2 393.2L62.1 393.5L62.7 395.7L60.9 395.2Z"/>
<path class="k48" d="M56.5 392.3L58.4 392.7L60.2 393.2L60.9 395.2L59 394.7L57.1 394.1Z"/>
<path class="k47" d="M54.6 391.9L56.5 392.3L57.1 394.1L55.3 393.6Z"/>
<path class="k6" d="M159.1 363.6L160.5 364.4L161.5 364.8L160.1 363.9Z"/>
<path class="k5" d="M157.7 362.9L159.1 363.6L160.1 363.9L158.7 363.2Z"/>
<path class="k4" d="M154.8 361.7L156.2 362.2L157.7 362.9L158.7 363.2L157.2 362.5L155.8 362Z"/>
<path class="k3" d="M146.1 360.5L147.5 360.5L149 360.6L150.5 360.7L151.9 361L153.4 361.3L154.8 361.7L155.8 362L154.4 361.6L152.9 361.2L151.5 361L150 360.9L148.5 360.8L147 360.8Z"/>
<path class="k0" d="M114.9 362.6L116.5 362.3L118.2 362L119.8 361.8L121.4 361.7L123 361.6L124.6 361.5L126.1 361.4L127.7 361.4L129.3 361.3L130.8 361.2L132.4 361.2L133.9 361.1L135.5 361L137 360.9L138.5 360.8L140.1 360.7L141.6 360.6L143.1 360.5L144.6 360.5L146.1 360.5L147 360.8L145.5 360.8L144 360.8L142.5 360.9L141 361L139.5 361.1L138 361.2L136.4 361.3L134.9 361.4L133.3 361.5L131.8 361.6L130.2 361.6L128.6 361.7L127 361.8L125.5 361.9L123.9 362L122.3 362.1L120.6 362.2L119 362.5L117.4 362.7L115.8 363.1Z"/>
<path class="k3" d="M108.3 364.9L109.9 364.1L111.6 363.5L113.3 363L114.9 362.6L115.8 363.1L114.1 363.6L112.4 364.1L110.8 364.8L109.1 365.7Z"/>
<path class="k4" d="M104.9 366.8L106.6 365.8L108.3 364.9L109.1 365.7L107.4 366.7L105.7 368Z"/>
<path class="k5" d="M103.2 368.1L104.9 366.8L105.7 368L104 369.5Z"/>
<path class="k7" d="M101.5 369.7L103.2 368.1L104 369.5L102.3 371.2Z"/>
<path class="k9" d="M99.8 371.5L101.5 369.7L102.3 371.2L100.5 373.2Z"/>
<path class="k10" d="M98 373.6L99.8 371.5L100.5 373.2L98.8 375.4Z"/>
<path class="k29" d="M96.3 375.8L98 373.6L98.8 375.4L97.1 377.7Z"/>
<path class="k16" d="M94.6 378L96.3 375.8L97.1 377.7L95.3 380Z"/>
<path class="k21" d="M92.8 380.1L94.6 378L95.3 380L93.6 382.3Z"/>
<path class="k31" d="M91.1 382.1L92.8 380.1L93.6 382.3L91.8 384.4Z"/>
<path class="k35" d="M89.4 384L91.1 382.1L91.8 384.4L90.1 386.5Z"/>
<path class="k39" d="M87.6 385.8L89.4 384L90.1 386.5L88.3 388.3Z"/>
<path class="k41" d="M85.9 387.5L87.6 385.8L88.3 388.3L86.6 390.1Z"/>
<path class="k44" d="M84.1 389L85.9 387.5L86.6 390.1L84.8 391.6Z"/>
<path class="k46" d="M82.4 390.3L84.1 389L84.8 391.6L83.1 393Z"/>
<path class="k48" d="M80.6 391.5L82.4 390.3L83.1 393L81.3 394.2Z"/>
<path class="k49" d="M78.9 392.6L80.6 391.5L81.3 394.2L79.6 395.2Z"/>
<path class="k50" d="M77.1 393.5L78.9 392.6L79.6 395.2L77.8 396.1Z"/>
<path class="k51" d="M73.5 395L75.3 394.3L77.1 393.5L77.8 396.1L76 396.9L74.2 397.5Z"/>
<path class="k52" d="M64.6 396L66.4 396.2L68.2 396.1L70 395.9L71.8 395.5L73.5 395L74.2 397.5L72.5 397.9L70.7 398.2L68.9 398.3L67 398.3L65.2 398.1Z"/>
<path class="k51" d="M60.9 395.2L62.7 395.7L64.6 396L65.2 398.1L63.4 397.7L61.5 397.2Z"/>
<path class="k50" d="M59 394.7L60.9 395.2L61.5 397.2L59.7 396.6Z"/>
<path class="k49" d="M57.1 394.1L59 394.7L59.7 396.6L57.8 396Z"/>
<path class="k48" d="M55.3 393.6L57.1 394.1L57.8 396L55.9 395.4Z"/>
<path class="k6" d="M160.1 363.9L161.5 364.8L162.5 365.1L161.1 364.2Z"/>
<path class="k4" d="M155.8 362L157.2 362.5L158.7 363.2L160.1 363.9L161.1 364.2L159.7 363.4L158.3 362.7L156.8 362.2Z"/>
<path class="k3" d="M148.5 360.8L150 360.9L151.5 361L152.9 361.2L154.4 361.6L155.8 362L156.8 362.2L155.4 361.8L153.9 361.5L152.5 361.3L151 361.2L149.5 361.1Z"/>
<path class="k0" d="M115.8 363.1L117.4 362.7L119 362.5L120.6 362.2L122.3 362.1L123.9 362L125.5 361.9L127 361.8L128.6 361.7L130.2 361.6L131.8 361.6L133.3 361.5L134.9 361.4L136.4 361.3L138 361.2L139.5 361.1L141 361L142.5 360.9L144 360.8L145.5 360.8L147 360.8L148.5 360.8L149.5 361.1L148 361.1L146.5 361.1L145 361.2L143.5 361.3L142 361.3L140.4 361.4L138.9 361.6L137.4 361.7L135.8 361.8L134.3 361.9L132.7 361.9L131.1 362L129.5 362.1L128 362.2L126.4 362.3L124.8 362.4L123.1 362.5L121.5 362.7L119.9 362.9L118.3 363.2L116.6 363.6Z"/>
<path class="k3" d="M109.1 365.7L110.8 364.8L112.4 364.1L114.1 363.6L115.8 363.1L116.6 363.6L115 364.1L113.3 364.8L111.6 365.6L109.9 366.5Z"/>
<path class="k4" d="M107.4 366.7L109.1 365.7L109.9 366.5L108.2 367.7Z"/>
<path class="k5" d="M105.7 368L107.4 366.7L108.2 367.7L106.5 369.1Z"/>
<path class="k6" d="M104 369.5L105.7 368L106.5 369.1L104.8 370.8Z"/>
<path class="k8" d="M102.3 371.2L104 369.5L104.8 370.8L103.1 372.7Z"/>
<path class="k24" d="M100.5 373.2L102.3 371.2L103.1 372.7L101.3 374.9Z"/>
<path class="k12" d="M98.8 375.4L100.5 373.2L101.3 374.9L99.6 377.2Z"/>
<path class="k15" d="M97.1 377.7L98.8 375.4L99.6 377.2L97.8 379.6Z"/>
<path class="k20" d="M95.3 380L97.1 377.7L97.8 379.6L96.1 382.1Z"/>
<path class="k30" d="M93.6 382.3L95.3 380L96.1 382.1L94.3 384.4Z"/>
<path class="k34" d="M91.8 384.4L93.6 382.3L94.3 384.4L92.6 386.7Z"/>
<path class="k39" d="M90.1 386.5L91.8 384.4L92.6 386.7L90.8 388.8Z"/>
<path class="k42" d="M88.3 388.3L90.1 386.5L90.8 388.8L89.1 390.8Z"/>
<path class="k45" d="M86.6 390.1L88.3 388.3L89.1 390.8L87.3 392.5Z"/>
<path class="k47" d="M84.8 391.6L86.6 390.1L87.3 392.5L85.6 394.1Z"/>
<path class="k49" d="M83.1 393L84.8 391.6L85.6 394.1L83.8 395.5Z"/>
<path class="k50" d="M81.3 394.2L83.1 393L83.8 395.5L82 396.7Z"/>
<path class="k51" d="M79.6 395.2L81.3 394.2L82 396.7L80.3 397.7Z"/>
<path class="k52" d="M72.5 397.9L74.2 397.5L76 396.9L77.8 396.1L79.6 395.2L80.3 397.7L78.5 398.5L76.7 399.2L74.9 399.7L73.1 400.1Z"/>
<path class="k53" d="M67 398.3L68.9 398.3L70.7 398.2L72.5 397.9L73.1 400.1L71.3 400.3L69.5 400.4L67.7 400.3Z"/>
<path class="k52" d="M61.5 397.2L63.4 397.7L65.2 398.1L67 398.3L67.7 400.3L65.9 400L64 399.6L62.2 399.1Z"/>
<path class="k51" d="M59.7 396.6L61.5 397.2L62.2 399.1L60.3 398.5Z"/>
<path class="k50" d="M57.8 396L59.7 396.6L60.3 398.5L58.4 397.8Z"/>
<path class="k49" d="M55.9 395.4L57.8 396L58.4 397.8L56.5 397.1Z"/>
<path class="k6" d="M161.1 364.2L162.5 365.1L163.5 365.4L162.1 364.4Z"/>
<path class="k4" d="M158.3 362.7L159.7 363.4L161.1 364.2L162.1 364.4L160.7 363.6L159.3 362.9Z"/>
<path class="k3" d="M151 361.2L152.5 361.3L153.9 361.5L155.4 361.8L156.8 362.2L158.3 362.7L159.3 362.9L157.8 362.4L156.4 362L154.9 361.8L153.5 361.6L152 361.5Z"/>
<path class="k0" d="M116.6 363.6L118.3 363.2L119.9 362.9L121.5 362.7L123.1 362.5L124.8 362.4L126.4 362.3L128 362.2L129.5 362.1L131.1 362L132.7 361.9L134.3 361.9L135.8 361.8L137.4 361.7L138.9 361.6L140.4 361.4L142 361.3L143.5 361.3L145 361.2L146.5 361.1L148 361.1L149.5 361.1L151 361.2L152 361.5L150.5 361.4L149 361.4L147.5 361.5L146 361.5L144.5 361.6L142.9 361.7L141.4 361.9L139.9 362L138.3 362.1L136.8 362.2L135.2 362.3L133.6 362.4L132 362.5L130.5 362.6L128.9 362.7L127.3 362.8L125.7 362.9L124 363L122.4 363.2L120.8 363.5L119.1 363.8L117.5 364.2Z"/>
<path class="k3" d="M111.6 365.6L113.3 364.8L115 364.1L116.6 363.6L117.5 364.2L115.8 364.7L114.1 365.4L112.5 366.2Z"/>
<path class="k4" d="M108.2 367.7L109.9 366.5L111.6 365.6L112.5 366.2L110.8 367.3L109.1 368.6Z"/>
<path class="k5" d="M106.5 369.1L108.2 367.7L109.1 368.6L107.3 370.1Z"/>
<path class="k7" d="M104.8 370.8L106.5 369.1L107.3 370.1L105.6 372Z"/>
<path class="k9" d="M103.1 372.7L104.8 370.8L105.6 372L103.9 374.1Z"/>
<path class="k11" d="M101.3 374.9L103.1 372.7L103.9 374.1L102.1 376.4Z"/>
<path class="k13" d="M99.6 377.2L101.3 374.9L102.1 376.4L100.4 378.9Z"/>
<path class="k17" d="M97.8 379.6L99.6 377.2L100.4 378.9L98.6 381.5Z"/>
<path class="k23" d="M96.1 382.1L97.8 379.6L98.6 381.5L96.8 384Z"/>
<path class="k33" d="M94.3 384.4L96.1 382.1L96.8 384L95.1 386.5Z"/>
<path class="k38" d="M92.6 386.7L94.3 384.4L95.1 386.5L93.3 388.9Z"/>
<path class="k42" d="M90.8 388.8L92.6 386.7L93.3 388.9L91.6 391.1Z"/>
<path class="k45" d="M89.1 390.8L90.8 388.8L91.6 391.1L89.8 393.2Z"/>
<path class="k48" d="M87.3 392.5L89.1 390.8L89.8 393.2L88 394.9Z"/>
<path class="k49" d="M85.6 394.1L87.3 392.5L88 394.9L86.3 396.5Z"/>
<path class="k51" d="M83.8 395.5L85.6 394.1L86.3 396.5L84.5 397.8Z"/>
<path class="k52" d="M80.3 397.7L82 396.7L83.8 395.5L84.5 397.8L82.7 399L81 399.9Z"/>
<path class="k53" d="M64 399.6L65.9 400L67.7 400.3L69.5 400.4L71.3 400.3L73.1 400.1L74.9 399.7L76.7 399.2L78.5 398.5L80.3 397.7L81 399.9L79.2 400.7L77.4 401.4L75.6 401.8L73.8 402.1L72 402.3L70.2 402.2L68.4 402.1L66.5 401.8L64.7 401.3Z"/>
<path class="k52" d="M60.3 398.5L62.2 399.1L64 399.6L64.7 401.3L62.8 400.8L61 400.1Z"/>
<path class="k51" d="M56.5 397.1L58.4 397.8L60.3 398.5L61 400.1L59.1 399.4L57.2 398.6Z"/>
<path class="k5" d="M162.1 364.4L163.5 365.4L164.6 365.9L163.2 364.9Z"/>
<path class="k4" d="M159.3 362.9L160.7 363.6L162.1 364.4L163.2 364.9L161.7 364L160.3 363.3Z"/>
<path class="k3" d="M152 361.5L153.5 361.6L154.9 361.8L156.4 362L157.8 362.4L159.3 362.9L160.3 363.3L158.9 362.8L157.4 362.4L155.9 362.1L154.5 361.9L153 361.8Z"/>
<path class="k0" d="M117.5 364.2L119.1 363.8L120.8 363.5L122.4 363.2L124 363L125.7 362.9L127.3 362.8L128.9 362.7L130.5 362.6L132 362.5L133.6 362.4L135.2 362.3L136.8 362.2L138.3 362.1L139.9 362L141.4 361.9L142.9 361.7L144.5 361.6L146 361.5L147.5 361.5L149 361.4L150.5 361.4L152 361.5L153 361.8L151.5 361.8L150 361.8L148.5 361.9L147 362L145.4 362.1L143.9 362.2L142.4 362.3L140.8 362.5L139.3 362.6L137.7 362.7L136.1 362.9L134.6 363L133 363.1L131.4 363.1L129.8 363.2L128.2 363.3L126.6 363.4L125 363.6L123.3 363.8L121.7 364L120 364.3L118.4 364.8Z"/>
<path class="k3" d="M112.5 366.2L114.1 365.4L115.8 364.7L117.5 364.2L118.4 364.8L116.7 365.3L115 366L113.3 366.9Z"/>
<path class="k4" d="M109.1 368.6L110.8 367.3L112.5 366.2L113.3 366.9L111.6 368L109.9 369.3Z"/>
<path class="k6" d="M107.3 370.1L109.1 368.6L109.9 369.3L108.2 371Z"/>
<path class="k8" d="M105.6 372L107.3 370.1L108.2 371L106.4 373Z"/>
<path class="k24" d="M103.9 374.1L105.6 372L106.4 373L104.7 375.3Z"/>
<path class="k12" d="M102.1 376.4L103.9 374.1L104.7 375.3L102.9 377.9Z"/>
<path class="k15" d="M100.4 378.9L102.1 376.4L102.9 377.9L101.2 380.5Z"/>
<path class="k20" d="M98.6 381.5L100.4 378.9L101.2 380.5L99.4 383.3Z"/>
<path class="k31" d="M96.8 384L98.6 381.5L99.4 383.3L97.6 385.9Z"/>
<path class="k36" d="M95.1 386.5L96.8 384L97.6 385.9L95.9 388.6Z"/>
<path class="k41" d="M93.3 388.9L95.1 386.5L95.9 388.6L94.1 391Z"/>
<path class="k44" d="M91.6 391.1L93.3 388.9L94.1 391L92.3 393.3Z"/>
<path class="k48" d="M89.8 393.2L91.6 391.1L92.3 393.3L90.5 395.4Z"/>
<path class="k50" d="M88 394.9L89.8 393.2L90.5 395.4L88.8 397.2Z"/>
<path class="k51" d="M86.3 396.5L88 394.9L88.8 397.2L87 398.7Z"/>
<path class="k52" d="M84.5 397.8L86.3 396.5L87 398.7L85.2 400Z"/>
<path class="k53" d="M62.8 400.8L64.7 401.3L66.5 401.8L68.4 402.1L70.2 402.2L72 402.3L73.8 402.1L75.6 401.8L77.4 401.4L79.2 400.7L81 399.9L82.7 399L84.5 397.8L85.2 400L83.5 401.1L81.7 402L79.9 402.7L78.1 403.3L76.3 403.7L74.5 403.9L72.7 404L70.9 403.9L69.1 403.7L67.2 403.4L65.4 402.9L63.5 402.3Z"/>
<path class="k52" d="M59.1 399.4L61 400.1L62.8 400.8L63.5 402.3L61.6 401.6L59.7 400.8Z"/>
<path class="k51" d="M57.2 398.6L59.1 399.4L59.7 400.8L57.8 400.1Z"/>
<path class="k6" d="M163.2 364.9L164.6 365.9L165.6 366.6L164.2 365.5Z"/>
<path class="k4" d="M160.3 363.3L161.7 364L163.2 364.9L164.2 365.5L162.8 364.6L161.3 363.8Z"/>
<path class="k3" d="M154.5 361.9L155.9 362.1L157.4 362.4L158.9 362.8L160.3 363.3L161.3 363.8L159.9 363.2L158.4 362.8L157 362.5L155.5 362.3Z"/>
<path class="k0" d="M120 364.3L121.7 364L123.3 363.8L125 363.6L126.6 363.4L128.2 363.3L129.8 363.2L131.4 363.1L133 363.1L134.6 363L136.1 362.9L137.7 362.7L139.3 362.6L140.8 362.5L142.4 362.3L143.9 362.2L145.4 362.1L147 362L148.5 361.9L150 361.8L151.5 361.8L153 361.8L154.5 361.9L155.5 362.3L154 362.3L152.5 362.2L151 362.3L149.5 362.3L148 362.4L146.4 362.5L144.9 362.7L143.3 362.8L141.8 363L140.2 363.2L138.7 363.3L137.1 363.5L135.5 363.6L133.9 363.7L132.3 363.8L130.7 363.9L129.1 364L127.5 364.1L125.9 364.2L124.2 364.4L122.6 364.7L120.9 365Z"/>
<path class="k3" d="M113.3 366.9L115 366L116.7 365.3L118.4 364.8L120 364.3L120.9 365L119.3 365.4L117.6 366L115.9 366.7L114.2 367.6Z"/>
<path class="k4" d="M109.9 369.3L111.6 368L113.3 366.9L114.2 367.6L112.5 368.7L110.8 370.1Z"/>
<path class="k6" d="M108.2 371L109.9 369.3L110.8 370.1L109 371.8Z"/>
<path class="k9" d="M106.4 373L108.2 371L109 371.8L107.3 373.9Z"/>
<path class="k10" d="M104.7 375.3L106.4 373L107.3 373.9L105.5 376.4Z"/>
<path class="k29" d="M102.9 377.9L104.7 375.3L105.5 376.4L103.7 379.2Z"/>
<path class="k28" d="M101.2 380.5L102.9 377.9L103.7 379.2L102 382Z"/>
<path class="k22" d="M99.4 383.3L101.2 380.5L102 382L100.2 384.9Z"/>
<path class="k33" d="M97.6 385.9L99.4 383.3L100.2 384.9L98.4 387.7Z"/>
<path class="k39" d="M95.9 388.6L97.6 385.9L98.4 387.7L96.6 390.4Z"/>
<path class="k43" d="M94.1 391L95.9 388.6L96.6 390.4L94.8 393Z"/>
<path class="k47" d="M92.3 393.3L94.1 391L94.8 393L93.1 395.3Z"/>
<path class="k49" d="M90.5 395.4L92.3 393.3L93.1 395.3L91.3 397.4Z"/>
<path class="k51" d="M88.8 397.2L90.5 395.4L91.3 397.4L89.5 399.2Z"/>
<path class="k52" d="M87 398.7L88.8 397.2L89.5 399.2L87.8 400.7Z"/>
<path class="k53" d="M79.9 402.7L81.7 402L83.5 401.1L85.2 400L87 398.7L87.8 400.7L86 401.9L84.2 403L82.4 403.8L80.6 404.5Z"/>
<path class="k54" d="M69.1 403.7L70.9 403.9L72.7 404L74.5 403.9L76.3 403.7L78.1 403.3L79.9 402.7L80.6 404.5L78.8 404.8L77 404.9L75.2 405.1L73.4 405.3L71.6 405.5L69.7 405.3Z"/>
<path class="k53" d="M61.6 401.6L63.5 402.3L65.4 402.9L67.2 403.4L69.1 403.7L69.7 405.3L67.9 404.9L66 404.3L64.2 403.7L62.3 403Z"/>
<path class="k52" d="M57.8 400.1L59.7 400.8L61.6 401.6L62.3 403L60.4 402.2L58.4 401.5Z"/>
<path class="k6" d="M164.2 365.5L165.6 366.6L166.7 367.6L165.2 366.4Z"/>
<path class="k4" d="M161.3 363.8L162.8 364.6L164.2 365.5L165.2 366.4L163.8 365.3L162.4 364.5Z"/>
<path class="k3" d="M155.5 362.3L157 362.5L158.4 362.8L159.9 363.2L161.3 363.8L162.4 364.5L160.9 363.8L159.5 363.4L158 363L156.5 362.8Z"/>
<path class="k0" d="M122.6 364.7L124.2 364.4L125.9 364.2L127.5 364.1L129.1 364L130.7 363.9L132.3 363.8L133.9 363.7L135.5 363.6L137.1 363.5L138.7 363.3L140.2 363.2L141.8 363L143.3 362.8L144.9 362.7L146.4 362.5L148 362.4L149.5 362.3L151 362.3L152.5 362.2L154 362.3L155.5 362.3L156.5 362.8L155 362.8L153.5 362.8L152 362.8L150.5 362.9L149 363L147.4 363.1L145.9 363.2L144.3 363.4L142.8 363.6L141.2 363.8L139.6 364L138 364.1L136.5 364.3L134.9 364.4L133.3 364.5L131.7 364.6L130 364.7L128.4 364.8L126.8 364.9L125.1 365.1L123.5 365.4Z"/>
<path class="k3" d="M114.2 367.6L115.9 366.7L117.6 366L119.3 365.4L120.9 365L122.6 364.7L123.5 365.4L121.8 365.7L120.2 366.1L118.5 366.7L116.8 367.4L115.1 368.3Z"/>
<path class="k4" d="M112.5 368.7L114.2 367.6L115.1 368.3L113.3 369.5Z"/>
<path class="k5" d="M110.8 370.1L112.5 368.7L113.3 369.5L111.6 370.9Z"/>
<path class="k7" d="M109 371.8L110.8 370.1L111.6 370.9L109.9 372.7Z"/>
<path class="k9" d="M107.3 373.9L109 371.8L109.9 372.7L108.1 374.9Z"/>
<path class="k11" d="M105.5 376.4L107.3 373.9L108.1 374.9L106.3 377.5Z"/>
<path class="k27" d="M103.7 379.2L105.5 376.4L106.3 377.5L104.5 380.4Z"/>
<path class="k18" d="M102 382L103.7 379.2L104.5 380.4L102.8 383.3Z"/>
<path class="k26" d="M100.2 384.9L102 382L102.8 383.3L101 386.3Z"/>
<path class="k35" d="M98.4 387.7L100.2 384.9L101 386.3L99.2 389.2Z"/>
<path class="k41" d="M96.6 390.4L98.4 387.7L99.2 389.2L97.4 392Z"/>
<path class="k45" d="M94.8 393L96.6 390.4L97.4 392L95.6 394.6Z"/>
<path class="k48" d="M93.1 395.3L94.8 393L95.6 394.6L93.8 397Z"/>
<path class="k50" d="M91.3 397.4L93.1 395.3L93.8 397L92.1 399.1Z"/>
<path class="k52" d="M89.5 399.2L91.3 397.4L92.1 399.1L90.3 400.9Z"/>
<path class="k53" d="M84.2 403L86 401.9L87.8 400.7L89.5 399.2L90.3 400.9L88.5 402.4L86.7 403.6L84.9 404.6Z"/>
<path class="k54" d="M67.9 404.9L69.7 405.3L71.6 405.5L73.4 405.3L75.2 405.1L77 404.9L78.8 404.8L80.6 404.5L82.4 403.8L84.2 403L84.9 404.6L83.1 405.1L81.4 405.3L79.6 405.5L77.7 405.6L75.9 405.8L74.1 406L72.3 406.1L70.4 406.3L68.6 406.2Z"/>
<path class="k53" d="M60.4 402.2L62.3 403L64.2 403.7L66 404.3L67.9 404.9L68.6 406.2L66.7 405.7L64.8 405L62.9 404.3L61 403.6Z"/>
<path class="k52" d="M58.4 401.5L60.4 402.2L61 403.6L59.1 402.8Z"/>
<path class="k7" d="M165.2 366.4L166.7 367.6L167.7 368.6L166.3 367.3Z"/>
<path class="k5" d="M163.8 365.3L165.2 366.4L166.3 367.3L164.9 366.2Z"/>
<path class="k4" d="M160.9 363.8L162.4 364.5L163.8 365.3L164.9 366.2L163.4 365.3L162 364.5Z"/>
<path class="k3" d="M155 362.8L156.5 362.8L158 363L159.5 363.4L160.9 363.8L162 364.5L160.5 364L159 363.6L157.5 363.4L156 363.3Z"/>
<path class="k0" d="M139.6 364L141.2 363.8L142.8 363.6L144.3 363.4L145.9 363.2L147.4 363.1L149 363L150.5 362.9L152 362.8L153.5 362.8L155 362.8L156 363.3L154.5 363.3L153 363.4L151.5 363.4L150 363.5L148.4 363.6L146.9 363.8L145.3 364L143.8 364.2L142.2 364.4L140.6 364.6Z"/>
<path class="k3" d="M131.7 364.6L133.3 364.5L134.9 364.4L136.5 364.3L138 364.1L139.6 364L140.6 364.6L139 364.8L137.4 365L135.8 365.1L134.2 365.2L132.6 365.3Z"/>
<path class="k0" d="M128.4 364.8L130 364.7L131.7 364.6L132.6 365.3L131 365.4L129.3 365.6Z"/>
<path class="k3" d="M116.8 367.4L118.5 366.7L120.2 366.1L121.8 365.7L123.5 365.4L125.1 365.1L126.8 364.9L128.4 364.8L129.3 365.6L127.7 365.7L126.1 365.9L124.4 366.2L122.7 366.5L121.1 366.9L119.4 367.4L117.7 368.2Z"/>
<path class="k4" d="M113.3 369.5L115.1 368.3L116.8 367.4L117.7 368.2L115.9 369.1L114.2 370.4Z"/>
<path class="k5" d="M111.6 370.9L113.3 369.5L114.2 370.4L112.5 371.9Z"/>
<path class="k7" d="M109.9 372.7L111.6 370.9L112.5 371.9L110.7 373.8Z"/>
<path class="k24" d="M108.1 374.9L109.9 372.7L110.7 373.8L108.9 376.1Z"/>
<path class="k12" d="M106.3 377.5L108.1 374.9L108.9 376.1L107.2 378.7Z"/>
<path class="k15" d="M104.5 380.4L106.3 377.5L107.2 378.7L105.4 381.6Z"/>
<path class="k20" d="M102.8 383.3L104.5 380.4L105.4 381.6L103.6 384.6Z"/>
<path class="k31" d="M101 386.3L102.8 383.3L103.6 384.6L101.8 387.7Z"/>
<path class="k37" d="M99.2 389.2L101 386.3L101.8 387.7L100 390.7Z"/>
<path class="k42" d="M97.4 392L99.2 389.2L100 390.7L98.2 393.5Z"/>
<path class="k47" d="M95.6 394.6L97.4 392L98.2 393.5L96.4 396.1Z"/>
<path class="k49" d="M93.8 397L95.6 394.6L96.4 396.1L94.6 398.5Z"/>
<path class="k51" d="M92.1 399.1L93.8 397L94.6 398.5L92.8 400.6Z"/>
<path class="k52" d="M90.3 400.9L92.1 399.1L92.8 400.6L91 402.4Z"/>
<path class="k53" d="M86.7 403.6L88.5 402.4L90.3 400.9L91 402.4L89.3 403.9L87.5 405.1Z"/>
<path class="k54" d="M66.7 405.7L68.6 406.2L70.4 406.3L72.3 406.1L74.1 406L75.9 405.8L77.7 405.6L79.6 405.5L81.4 405.3L83.1 405.1L84.9 404.6L86.7 403.6L87.5 405.1L85.7 405.6L83.9 405.8L82.1 406L80.3 406.1L78.5 406.3L76.6 406.5L74.8 406.7L73 406.8L71.1 407L69.2 407.2L67.4 406.9Z"/>
<path class="k53" d="M59.1 402.8L61 403.6L62.9 404.3L64.8 405L66.7 405.7L67.4 406.9L65.5 406.2L63.6 405.5L61.7 404.7L59.7 404Z"/>
<path class="k8" d="M166.3 367.3L167.7 368.6L168.8 369.7L167.3 368.4Z"/>
<path class="k6" d="M164.9 366.2L166.3 367.3L167.3 368.4L165.9 367.2Z"/>
<path class="k4" d="M162 364.5L163.4 365.3L164.9 366.2L165.9 367.2L164.5 366.2L163 365.3Z"/>
<path class="k3" d="M156 363.3L157.5 363.4L159 363.6L160.5 364L162 364.5L163 365.3L161.6 364.7L160.1 364.3L158.6 364L157.1 363.9Z"/>
<path class="k0" d="M143.8 364.2L145.3 364L146.9 363.8L148.4 363.6L150 363.5L151.5 363.4L153 363.4L154.5 363.3L156 363.3L157.1 363.9L155.6 363.9L154.1 363.9L152.5 364L151 364.1L149.4 364.2L147.9 364.4L146.3 364.6L144.7 364.9Z"/>
<path class="k3" d="M117.7 368.2L119.4 367.4L121.1 366.9L122.7 366.5L124.4 366.2L126.1 365.9L127.7 365.7L129.3 365.6L131 365.4L132.6 365.3L134.2 365.2L135.8 365.1L137.4 365L139 364.8L140.6 364.6L142.2 364.4L143.8 364.2L144.7 364.9L143.2 365.1L141.6 365.3L140 365.5L138.4 365.7L136.8 365.8L135.2 365.9L133.6 366.1L131.9 366.2L130.3 366.4L128.6 366.5L127 366.8L125.3 367L123.6 367.3L122 367.7L120.3 368.3L118.6 369Z"/>
<path class="k4" d="M114.2 370.4L115.9 369.1L117.7 368.2L118.6 369L116.8 370L115.1 371.2Z"/>
<path class="k6" d="M112.5 371.9L114.2 370.4L115.1 371.2L113.3 372.8Z"/>
<path class="k8" d="M110.7 373.8L112.5 371.9L113.3 372.8L111.6 374.8Z"/>
<path class="k10" d="M108.9 376.1L110.7 373.8L111.6 374.8L109.8 377.1Z"/>
<path class="k29" d="M107.2 378.7L108.9 376.1L109.8 377.1L108 379.7Z"/>
<path class="k16" d="M105.4 381.6L107.2 378.7L108 379.7L106.2 382.7Z"/>
<path class="k21" d="M103.6 384.6L105.4 381.6L106.2 382.7L104.4 385.8Z"/>
<path class="k32" d="M101.8 387.7L103.6 384.6L104.4 385.8L102.6 388.9Z"/>
<path class="k39" d="M100 390.7L101.8 387.7L102.6 388.9L100.8 392Z"/>
<path class="k44" d="M98.2 393.5L100 390.7L100.8 392L99 394.9Z"/>
<path class="k48" d="M96.4 396.1L98.2 393.5L99 394.9L97.2 397.6Z"/>
<path class="k50" d="M94.6 398.5L96.4 396.1L97.2 397.6L95.4 399.9Z"/>
<path class="k52" d="M92.8 400.6L94.6 398.5L95.4 399.9L93.6 402Z"/>
<path class="k53" d="M89.3 403.9L91 402.4L92.8 400.6L93.6 402L91.8 403.8L90 405.2Z"/>
<path class="k54" d="M65.5 406.2L67.4 406.9L69.2 407.2L71.1 407L73 406.8L74.8 406.7L76.6 406.5L78.5 406.3L80.3 406.1L82.1 406L83.9 405.8L85.7 405.6L87.5 405.1L89.3 403.9L90 405.2L88.2 406.1L86.4 406.3L84.6 406.5L82.8 406.7L81 406.8L79.2 407L77.3 407.2L75.5 407.4L73.7 407.5L71.8 407.7L69.9 407.9L68.1 407.9L66.2 407.3Z"/>
<path class="k53" d="M59.7 404L61.7 404.7L63.6 405.5L65.5 406.2L66.2 407.3L64.2 406.6L62.3 405.8L60.4 405.1Z"/>
<path class="k24" d="M167.3 368.4L168.8 369.7L169.8 371.5L168.4 370Z"/>
<path class="k7" d="M165.9 367.2L167.3 368.4L168.4 370L167 368.6Z"/>
<path class="k5" d="M164.5 366.2L165.9 367.2L167 368.6L165.5 367.3Z"/>
<path class="k4" d="M161.6 364.7L163 365.3L164.5 366.2L165.5 367.3L164.1 366.3L162.6 365.6Z"/>
<path class="k3" d="M154.1 363.9L155.6 363.9L157.1 363.9L158.6 364L160.1 364.3L161.6 364.7L162.6 365.6L161.1 365.1L159.6 364.7L158.1 364.6L156.6 364.5L155.1 364.5Z"/>
<path class="k0" d="M147.9 364.4L149.4 364.2L151 364.1L152.5 364L154.1 363.9L155.1 364.5L153.6 364.6L152 364.8L150.5 364.9L148.9 365.1Z"/>
<path class="k3" d="M120.3 368.3L122 367.7L123.6 367.3L125.3 367L127 366.8L128.6 366.5L130.3 366.4L131.9 366.2L133.6 366.1L135.2 365.9L136.8 365.8L138.4 365.7L140 365.5L141.6 365.3L143.2 365.1L144.7 364.9L146.3 364.6L147.9 364.4L148.9 365.1L147.3 365.3L145.8 365.6L144.2 365.8L142.6 366.1L141 366.3L139.4 366.4L137.8 366.6L136.1 366.7L134.5 366.9L132.9 367L131.2 367.2L129.6 367.4L127.9 367.6L126.2 367.9L124.6 368.2L122.9 368.6L121.2 369.1Z"/>
<path class="k4" d="M115.1 371.2L116.8 370L118.6 369L120.3 368.3L121.2 369.1L119.5 369.9L117.7 370.8L116 372.1Z"/>
<path class="k6" d="M113.3 372.8L115.1 371.2L116 372.1L114.2 373.6Z"/>
<path class="k9" d="M111.6 374.8L113.3 372.8L114.2 373.6L112.5 375.6Z"/>
<path class="k11" d="M109.8 377.1L111.6 374.8L112.5 375.6L110.7 377.9Z"/>
<path class="k13" d="M108 379.7L109.8 377.1L110.7 377.9L108.9 380.6Z"/>
<path class="k28" d="M106.2 382.7L108 379.7L108.9 380.6L107.1 383.6Z"/>
<path class="k22" d="M104.4 385.8L106.2 382.7L107.1 383.6L105.3 386.8Z"/>
<path class="k33" d="M102.6 388.9L104.4 385.8L105.3 386.8L103.4 390Z"/>
<path class="k39" d="M100.8 392L102.6 388.9L103.4 390L101.6 393.2Z"/>
<path class="k45" d="M99 394.9L100.8 392L101.6 393.2L99.8 396.2Z"/>
<path class="k48" d="M97.2 397.6L99 394.9L99.8 396.2L98 398.9Z"/>
<path class="k51" d="M95.4 399.9L97.2 397.6L98 398.9L96.2 401.3Z"/>
<path class="k52" d="M93.6 402L95.4 399.9L96.2 401.3L94.4 403.3Z"/>
<path class="k53" d="M90 405.2L91.8 403.8L93.6 402L94.4 403.3L92.6 405.1L90.8 406.5Z"/>
<path class="k54" d="M66.2 407.3L68.1 407.9L69.9 407.9L71.8 407.7L73.7 407.5L75.5 407.4L77.3 407.2L79.2 407L81 406.8L82.8 406.7L84.6 406.5L86.4 406.3L88.2 406.1L90 405.2L90.8 406.5L89 406.8L87.2 407L85.4 407.2L83.6 407.4L81.7 407.5L79.9 407.7L78.1 407.9L76.2 408.1L74.4 408.3L72.5 408.4L70.6 408.6L68.7 408.8L66.8 408.3Z"/>
<path class="k53" d="M60.4 405.1L62.3 405.8L64.2 406.6L66.2 407.3L66.8 408.3L64.9 407.6L63 406.9L61 406.2Z"/>
<path class="k11" d="M168.4 370L169.8 371.5L170.9 373.3L169.4 371.6Z"/>
<path class="k9" d="M167 368.6L168.4 370L169.4 371.6L168 370Z"/>
<path class="k6" d="M165.5 367.3L167 368.6L168 370L166.6 368.6Z"/>
<path class="k4" d="M162.6 365.6L164.1 366.3L165.5 367.3L166.6 368.6L165.1 367.5L163.7 366.6Z"/>
<path class="k3" d="M122.9 368.6L124.6 368.2L126.2 367.9L127.9 367.6L129.6 367.4L131.2 367.2L132.9 367L134.5 366.9L136.1 366.7L137.8 366.6L139.4 366.4L141 366.3L142.6 366.1L144.2 365.8L145.8 365.6L147.3 365.3L148.9 365.1L150.5 364.9L152 364.8L153.6 364.6L155.1 364.5L156.6 364.5L158.1 364.6L159.6 364.7L161.1 365.1L162.6 365.6L163.7 366.6L162.2 366L160.7 365.6L159.2 365.4L157.7 365.3L156.1 365.3L154.6 365.4L153 365.5L151.5 365.7L149.9 366L148.3 366.2L146.8 366.5L145.2 366.7L143.6 366.9L142 367.2L140.4 367.3L138.7 367.5L137.1 367.7L135.5 367.8L133.8 368L132.2 368.2L130.5 368.4L128.9 368.6L127.2 368.9L125.5 369.2L123.8 369.6Z"/>
<path class="k4" d="M117.7 370.8L119.5 369.9L121.2 369.1L122.9 368.6L123.8 369.6L122.1 370.1L120.4 370.8L118.6 371.7Z"/>
<path class="k5" d="M116 372.1L117.7 370.8L118.6 371.7L116.9 372.8Z"/>
<path class="k7" d="M114.2 373.6L116 372.1L116.9 372.8L115.1 374.3Z"/>
<path class="k9" d="M112.5 375.6L114.2 373.6L115.1 374.3L113.3 376.2Z"/>
<path class="k11" d="M110.7 377.9L112.5 375.6L113.3 376.2L111.6 378.6Z"/>
<path class="k27" d="M108.9 380.6L110.7 377.9L111.6 378.6L109.7 381.3Z"/>
<path class="k17" d="M107.1 383.6L108.9 380.6L109.7 381.3L107.9 384.4Z"/>
<path class="k23" d="M105.3 386.8L107.1 383.6L107.9 384.4L106.1 387.6Z"/>
<path class="k34" d="M103.4 390L105.3 386.8L106.1 387.6L104.3 391Z"/>
<path class="k40" d="M101.6 393.2L103.4 390L104.3 391L102.5 394.2Z"/>
<path class="k46" d="M99.8 396.2L101.6 393.2L102.5 394.2L100.6 397.3Z"/>
<path class="k49" d="M98 398.9L99.8 396.2L100.6 397.3L98.8 400.1Z"/>
<path class="k52" d="M96.2 401.3L98 398.9L98.8 400.1L97 402.5Z"/>
<path class="k53" d="M92.6 405.1L94.4 403.3L96.2 401.3L97 402.5L95.2 404.5L93.4 406.2Z"/>
<path class="k54" d="M66.8 408.3L68.7 408.8L70.6 408.6L72.5 408.4L74.4 408.3L76.2 408.1L78.1 407.9L79.9 407.7L81.7 407.5L83.6 407.4L85.4 407.2L87.2 407L89 406.8L90.8 406.5L92.6 405.1L93.4 406.2L91.6 407.6L89.8 407.5L88 407.7L86.2 407.9L84.3 408.1L82.5 408.3L80.7 408.4L78.8 408.6L76.9 408.8L75.1 409L73.2 409.2L71.3 409.3L69.4 409.5L67.5 409.2Z"/>
<path class="k53" d="M61 406.2L63 406.9L64.9 407.6L66.8 408.3L67.5 409.2L65.6 408.5L63.7 407.9L61.7 407.2Z"/>
<path class="k13" d="M169.4 371.6L170.9 373.3L171.9 375.1L170.5 373.2Z"/>
<path class="k10" d="M168 370L169.4 371.6L170.5 373.2L169.1 371.5Z"/>
<path class="k8" d="M166.6 368.6L168 370L169.1 371.5L167.6 369.9Z"/>
<path class="k5" d="M165.1 367.5L166.6 368.6L167.6 369.9L166.2 368.8Z"/>
<path class="k4" d="M162.2 366L163.7 366.6L165.1 367.5L166.2 368.8L164.7 367.8L163.2 367.1Z"/>
<path class="k3" d="M127.2 368.9L128.9 368.6L130.5 368.4L132.2 368.2L133.8 368L135.5 367.8L137.1 367.7L138.7 367.5L140.4 367.3L142 367.2L143.6 366.9L145.2 366.7L146.8 366.5L148.3 366.2L149.9 366L151.5 365.7L153 365.5L154.6 365.4L156.1 365.3L157.7 365.3L159.2 365.4L160.7 365.6L162.2 366L163.2 367.1L161.7 366.7L160.2 366.4L158.7 366.3L157.2 366.3L155.6 366.4L154.1 366.5L152.5 366.7L150.9 367L149.4 367.2L147.8 367.5L146.2 367.8L144.6 368L143 368.2L141.3 368.4L139.7 368.6L138.1 368.7L136.5 368.9L134.8 369L133.1 369.2L131.5 369.5L129.8 369.8L128.1 370.1Z"/>
<path class="k4" d="M118.6 371.7L120.4 370.8L122.1 370.1L123.8 369.6L125.5 369.2L127.2 368.9L128.1 370.1L126.4 370.4L124.7 370.8L123 371.3L121.3 371.9L119.6 372.7Z"/>
<path class="k5" d="M116.9 372.8L118.6 371.7L119.6 372.7L117.8 373.7Z"/>
<path class="k7" d="M115.1 374.3L116.9 372.8L117.8 373.7L116 375.1Z"/>
<path class="k9" d="M113.3 376.2L115.1 374.3L116 375.1L114.3 376.8Z"/>
<path class="k11" d="M111.6 378.6L113.3 376.2L114.3 376.8L112.4 379.1Z"/>
<path class="k27" d="M109.7 381.3L111.6 378.6L112.4 379.1L110.6 382Z"/>
<path class="k17" d="M107.9 384.4L109.7 381.3L110.6 382L108.8 385.1Z"/>
<path class="k23" d="M106.1 387.6L107.9 384.4L108.8 385.1L107 388.5Z"/>
<path class="k34" d="M104.3 391L106.1 387.6L107 388.5L105.1 391.8Z"/>
<path class="k40" d="M102.5 394.2L104.3 391L105.1 391.8L103.3 395.1Z"/>
<path class="k46" d="M100.6 397.3L102.5 394.2L103.3 395.1L101.5 398.2Z"/>
<path class="k49" d="M98.8 400.1L100.6 397.3L101.5 398.2L99.6 401Z"/>
<path class="k52" d="M97 402.5L98.8 400.1L99.6 401L97.8 403.4Z"/>
<path class="k53" d="M93.4 406.2L95.2 404.5L97 402.5L97.8 403.4L96 405.5L94.2 407.2Z"/>
<path class="k54" d="M67.5 409.2L69.4 409.5L71.3 409.3L73.2 409.2L75.1 409L76.9 408.8L78.8 408.6L80.7 408.4L82.5 408.3L84.3 408.1L86.2 407.9L88 407.7L89.8 407.5L91.6 407.6L93.4 406.2L94.2 407.2L92.4 408.6L90.6 408.2L88.7 408.4L86.9 408.6L85.1 408.8L83.2 409L81.4 409.2L79.5 409.3L77.7 409.5L75.8 409.7L73.9 409.9L72 410.1L70.1 410.3L68.2 410Z"/>
<path class="k53" d="M61.7 407.2L63.7 407.9L65.6 408.5L67.5 409.2L68.2 410L66.3 409.4L64.3 408.8L62.4 408.1Z"/>
<path class="k15" d="M170.5 373.2L171.9 375.1L173 377L171.6 375.1Z"/>
<path class="k12" d="M169.1 371.5L170.5 373.2L171.6 375.1L170.1 373.2Z"/>
<path class="k24" d="M167.6 369.9L169.1 371.5L170.1 373.2L168.7 371.6Z"/>
<path class="k7" d="M166.2 368.8L167.6 369.9L168.7 371.6L167.3 370.3Z"/>
<path class="k5" d="M164.7 367.8L166.2 368.8L167.3 370.3L165.8 369.3Z"/>
<path class="k4" d="M161.7 366.7L163.2 367.1L164.7 367.8L165.8 369.3L164.3 368.5L162.8 368Z"/>
<path class="k3" d="M144.6 368L146.2 367.8L147.8 367.5L149.4 367.2L150.9 367L152.5 366.7L154.1 366.5L155.6 366.4L157.2 366.3L158.7 366.3L160.2 366.4L161.7 366.7L162.8 368L161.3 367.7L159.8 367.5L158.2 367.5L156.7 367.6L155.1 367.8L153.5 368L152 368.2L150.4 368.5L148.8 368.8L147.2 369.1L145.6 369.4Z"/>
<path class="k4" d="M121.3 371.9L123 371.3L124.7 370.8L126.4 370.4L128.1 370.1L129.8 369.8L131.5 369.5L133.1 369.2L134.8 369L136.5 368.9L138.1 368.7L139.7 368.6L141.3 368.4L143 368.2L144.6 368L145.6 369.4L144 369.6L142.3 369.7L140.7 369.9L139.1 370L137.4 370.1L135.8 370.3L134.1 370.5L132.4 370.7L130.8 371.1L129.1 371.4L127.4 371.7L125.7 372.1L123.9 372.6L122.2 373.1Z"/>
<path class="k5" d="M119.6 372.7L121.3 371.9L122.2 373.1L120.5 373.9Z"/>
<path class="k6" d="M117.8 373.7L119.6 372.7L120.5 373.9L118.7 374.8Z"/>
<path class="k8" d="M116 375.1L117.8 373.7L118.7 374.8L116.9 376.1Z"/>
<path class="k24" d="M114.3 376.8L116 375.1L116.9 376.1L115.2 377.7Z"/>
<path class="k12" d="M112.4 379.1L114.3 376.8L115.2 377.7L113.3 379.9Z"/>
<path class="k14" d="M110.6 382L112.4 379.1L113.3 379.9L111.5 382.8Z"/>
<path class="k18" d="M108.8 385.1L110.6 382L111.5 382.8L109.7 385.9Z"/>
<path class="k23" d="M107 388.5L108.8 385.1L109.7 385.9L107.8 389.3Z"/>
<path class="k34" d="M105.1 391.8L107 388.5L107.8 389.3L106 392.7Z"/>
<path class="k40" d="M103.3 395.1L105.1 391.8L106 392.7L104.1 396Z"/>
<path class="k46" d="M101.5 398.2L103.3 395.1L104.1 396L102.3 399.1Z"/>
<path class="k50" d="M99.6 401L101.5 398.2L102.3 399.1L100.5 401.9Z"/>
<path class="k52" d="M97.8 403.4L99.6 401L100.5 401.9L98.6 404.3Z"/>
<path class="k53" d="M94.2 407.2L96 405.5L97.8 403.4L98.6 404.3L96.8 406.3L95 408Z"/>
<path class="k54" d="M92.4 408.6L94.2 407.2L95 408L93.2 409.4Z"/>
<path class="k55" d="M90.6 408.2L92.4 408.6L93.2 409.4L91.4 409Z"/>
<path class="k54" d="M68.2 410L70.1 410.3L72 410.1L73.9 409.9L75.8 409.7L77.7 409.5L79.5 409.3L81.4 409.2L83.2 409L85.1 408.8L86.9 408.6L88.7 408.4L90.6 408.2L91.4 409L89.5 409.1L87.7 409.3L85.9 409.5L84 409.7L82.2 409.9L80.3 410.1L78.4 410.3L76.5 410.4L74.6 410.6L72.7 410.8L70.8 411L68.9 410.8Z"/>
<path class="k53" d="M62.4 408.1L64.3 408.8L66.3 409.4L68.2 410L68.9 410.8L67 410.2L65 409.6L63.1 409Z"/>
<path class="k28" d="M171.6 375.1L173 377L174.1 379L172.6 377.1Z"/>
<path class="k27" d="M170.1 373.2L171.6 375.1L172.6 377.1L171.2 375.2Z"/>
<path class="k11" d="M168.7 371.6L170.1 373.2L171.2 375.2L169.8 373.5Z"/>
<path class="k9" d="M167.3 370.3L168.7 371.6L169.8 373.5L168.3 372.1Z"/>
<path class="k7" d="M165.8 369.3L167.3 370.3L168.3 372.1L166.9 371Z"/>
<path class="k5" d="M164.3 368.5L165.8 369.3L166.9 371L165.4 370.1Z"/>
<path class="k4" d="M125.7 372.1L127.4 371.7L129.1 371.4L130.8 371.1L132.4 370.7L134.1 370.5L135.8 370.3L137.4 370.1L139.1 370L140.7 369.9L142.3 369.7L144 369.6L145.6 369.4L147.2 369.1L148.8 368.8L150.4 368.5L152 368.2L153.5 368L155.1 367.8L156.7 367.6L158.2 367.5L159.8 367.5L161.3 367.7L162.8 368L164.3 368.5L165.4 370.1L163.9 369.6L162.3 369.2L160.8 369.1L159.3 369.1L157.7 369.1L156.1 369.3L154.6 369.5L153 369.8L151.4 370.1L149.8 370.4L148.2 370.7L146.6 371L144.9 371.2L143.3 371.3L141.7 371.4L140 371.5L138.4 371.6L136.7 371.7L135.1 371.9L133.4 372.1L131.7 372.5L130 372.9L128.3 373.2L126.6 373.6Z"/>
<path class="k5" d="M122.2 373.1L123.9 372.6L125.7 372.1L126.6 373.6L124.9 374L123.1 374.6Z"/>
<path class="k6" d="M120.5 373.9L122.2 373.1L123.1 374.6L121.4 375.3Z"/>
<path class="k7" d="M118.7 374.8L120.5 373.9L121.4 375.3L119.6 376.2Z"/>
<path class="k9" d="M116.9 376.1L118.7 374.8L119.6 376.2L117.8 377.4Z"/>
<path class="k10" d="M115.2 377.7L116.9 376.1L117.8 377.4L116.1 379Z"/>
<path class="k29" d="M113.3 379.9L115.2 377.7L116.1 379L114.2 381.2Z"/>
<path class="k15" d="M111.5 382.8L113.3 379.9L114.2 381.2L112.4 383.8Z"/>
<path class="k19" d="M109.7 385.9L111.5 382.8L112.4 383.8L110.6 386.9Z"/>
<path class="k26" d="M107.8 389.3L109.7 385.9L110.6 386.9L108.7 390.2Z"/>
<path class="k35" d="M106 392.7L107.8 389.3L108.7 390.2L106.9 393.6Z"/>
<path class="k40" d="M104.1 396L106 392.7L106.9 393.6L105 396.9Z"/>
<path class="k46" d="M102.3 399.1L104.1 396L105 396.9L103.2 400Z"/>
<path class="k50" d="M100.5 401.9L102.3 399.1L103.2 400L101.3 402.6Z"/>
<path class="k52" d="M98.6 404.3L100.5 401.9L101.3 402.6L99.5 404.9Z"/>
<path class="k53" d="M95 408L96.8 406.3L98.6 404.3L99.5 404.9L97.7 406.9L95.8 408.6Z"/>
<path class="k54" d="M93.2 409.4L95 408L95.8 408.6L94 410Z"/>
<path class="k55" d="M91.4 409L93.2 409.4L94 410L92.2 409.7Z"/>
<path class="k54" d="M67 410.2L68.9 410.8L70.8 411L72.7 410.8L74.6 410.6L76.5 410.4L78.4 410.3L80.3 410.1L82.2 409.9L84 409.7L85.9 409.5L87.7 409.3L89.5 409.1L91.4 409L92.2 409.7L90.3 409.9L88.5 410.1L86.6 410.2L84.8 410.4L82.9 410.6L81 410.8L79.2 411L77.3 411.2L75.4 411.4L73.5 411.6L71.5 411.8L69.6 411.6L67.7 411Z"/>
<path class="k53" d="M63.1 409L65 409.6L67 410.2L67.7 411L65.7 410.4L63.7 409.8Z"/>
<path class="k19" d="M172.6 377.1L174.1 379L175.2 380.8L173.7 379Z"/>
<path class="k16" d="M171.2 375.2L172.6 377.1L173.7 379L172.3 377.2Z"/>
<path class="k13" d="M169.8 373.5L171.2 375.2L172.3 377.2L170.8 375.5Z"/>
<path class="k11" d="M168.3 372.1L169.8 373.5L170.8 375.5L169.4 374.2Z"/>
<path class="k9" d="M166.9 371L168.3 372.1L169.4 374.2L167.9 373Z"/>
<path class="k7" d="M165.4 370.1L166.9 371L167.9 373L166.4 372.1Z"/>
<path class="k6" d="M163.9 369.6L165.4 370.1L166.4 372.1L164.9 371.4Z"/>
<path class="k5" d="M162.3 369.2L163.9 369.6L164.9 371.4L163.4 371.1Z"/>
<path class="k4" d="M149.8 370.4L151.4 370.1L153 369.8L154.6 369.5L156.1 369.3L157.7 369.1L159.3 369.1L160.8 369.1L162.3 369.2L163.4 371.1L161.9 371L160.3 371L158.7 371L157.2 371.2L155.6 371.4L154 371.7L152.4 372L150.8 372.3Z"/>
<path class="k5" d="M128.3 373.2L130 372.9L131.7 372.5L133.4 372.1L135.1 371.9L136.7 371.7L138.4 371.6L140 371.5L141.7 371.4L143.3 371.3L144.9 371.2L146.6 371L148.2 370.7L149.8 370.4L150.8 372.3L149.2 372.6L147.6 372.9L145.9 373.1L144.3 373.2L142.7 373.3L141 373.3L139.4 373.3L137.7 373.4L136 373.5L134.4 373.7L132.7 373.9L131 374.3L129.3 374.7Z"/>
<path class="k6" d="M124.9 374L126.6 373.6L128.3 373.2L129.3 374.7L127.5 375L125.8 375.5Z"/>
<path class="k7" d="M123.1 374.6L124.9 374L125.8 375.5L124.1 376.1Z"/>
<path class="k8" d="M121.4 375.3L123.1 374.6L124.1 376.1L122.3 376.8Z"/>
<path class="k9" d="M119.6 376.2L121.4 375.3L122.3 376.8L120.5 377.7Z"/>
<path class="k10" d="M117.8 377.4L119.6 376.2L120.5 377.7L118.8 378.8Z"/>
<path class="k12" d="M116.1 379L117.8 377.4L118.8 378.8L117 380.4Z"/>
<path class="k13" d="M114.2 381.2L116.1 379L117 380.4L115.1 382.4Z"/>
<path class="k25" d="M112.4 383.8L114.2 381.2L115.1 382.4L113.3 385Z"/>
<path class="k20" d="M110.6 386.9L112.4 383.8L113.3 385L111.5 387.9Z"/>
<path class="k26" d="M108.7 390.2L110.6 386.9L111.5 387.9L109.6 391Z"/>
<path class="k35" d="M106.9 393.6L108.7 390.2L109.6 391L107.7 394.3Z"/>
<path class="k40" d="M105 396.9L106.9 393.6L107.7 394.3L105.9 397.5Z"/>
<path class="k46" d="M103.2 400L105 396.9L105.9 397.5L104 400.4Z"/>
<path class="k50" d="M101.3 402.6L103.2 400L104 400.4L102.2 403.1Z"/>
<path class="k52" d="M99.5 404.9L101.3 402.6L102.2 403.1L100.3 405.4Z"/>
<path class="k53" d="M95.8 408.6L97.7 406.9L99.5 404.9L100.3 405.4L98.5 407.4L96.6 409.1Z"/>
<path class="k54" d="M67.7 411L69.6 411.6L71.5 411.8L73.5 411.6L75.4 411.4L77.3 411.2L79.2 411L81 410.8L82.9 410.6L84.8 410.4L86.6 410.2L88.5 410.1L90.3 409.9L92.2 409.7L94 410L95.8 408.6L96.6 409.1L94.8 410.5L93 410.4L91.1 410.6L89.3 410.8L87.4 411L85.6 411.2L83.7 411.4L81.8 411.5L79.9 411.7L78 411.9L76.1 412.1L74.2 412.3L72.3 412.5L70.3 412.3L68.4 411.7Z"/>
<path class="k53" d="M63.7 409.8L65.7 410.4L67.7 411L68.4 411.7L66.4 411.1L64.4 410.6Z"/>
<path class="k21" d="M173.7 379L175.2 380.8L176.2 382.7L174.8 381Z"/>
<path class="k18" d="M172.3 377.2L173.7 379L174.8 381L173.4 379.3Z"/>
<path class="k25" d="M170.8 375.5L172.3 377.2L173.4 379.3L171.9 377.8Z"/>
<path class="k13" d="M169.4 374.2L170.8 375.5L171.9 377.8L170.5 376.4Z"/>
<path class="k11" d="M167.9 373L169.4 374.2L170.5 376.4L169 375.3Z"/>
<path class="k24" d="M166.4 372.1L167.9 373L169 375.3L167.5 374.4Z"/>
<path class="k9" d="M164.9 371.4L166.4 372.1L167.5 374.4L166 373.8Z"/>
<path class="k7" d="M161.9 371L163.4 371.1L164.9 371.4L166 373.8L164.4 373.4L162.9 373.2Z"/>
<path class="k6" d="M152.4 372L154 371.7L155.6 371.4L157.2 371.2L158.7 371L160.3 371L161.9 371L162.9 373.2L161.3 373.2L159.8 373.2L158.2 373.4L156.6 373.6L155 373.8L153.4 374.1Z"/>
<path class="k7" d="M147.6 372.9L149.2 372.6L150.8 372.3L152.4 372L153.4 374.1L151.8 374.4L150.2 374.7L148.6 375Z"/>
<path class="k8" d="M142.7 373.3L144.3 373.2L145.9 373.1L147.6 372.9L148.6 375L146.9 375.2L145.3 375.4L143.7 375.4Z"/>
<path class="k7" d="M127.5 375L129.3 374.7L131 374.3L132.7 373.9L134.4 373.7L136 373.5L137.7 373.4L139.4 373.3L141 373.3L142.7 373.3L143.7 375.4L142 375.4L140.4 375.4L138.7 375.4L137 375.4L135.3 375.5L133.6 375.6L131.9 375.9L130.2 376.1L128.5 376.5Z"/>
<path class="k8" d="M125.8 375.5L127.5 375L128.5 376.5L126.8 376.9Z"/>
<path class="k9" d="M124.1 376.1L125.8 375.5L126.8 376.9L125 377.6Z"/>
<path class="k24" d="M122.3 376.8L124.1 376.1L125 377.6L123.2 378.3Z"/>
<path class="k10" d="M120.5 377.7L122.3 376.8L123.2 378.3L121.5 379.1Z"/>
<path class="k11" d="M118.8 378.8L120.5 377.7L121.5 379.1L119.7 380.1Z"/>
<path class="k29" d="M117 380.4L118.8 378.8L119.7 380.1L117.9 381.5Z"/>
<path class="k14" d="M115.1 382.4L117 380.4L117.9 381.5L116.1 383.5Z"/>
<path class="k28" d="M113.3 385L115.1 382.4L116.1 383.5L114.2 386Z"/>
<path class="k21" d="M111.5 387.9L113.3 385L114.2 386L112.4 388.8Z"/>
<path class="k30" d="M109.6 391L111.5 387.9L112.4 388.8L110.5 391.8Z"/>
<path class="k35" d="M107.7 394.3L109.6 391L110.5 391.8L108.6 394.9Z"/>
<path class="k40" d="M105.9 397.5L107.7 394.3L108.6 394.9L106.8 398Z"/>
<path class="k45" d="M104 400.4L105.9 397.5L106.8 398L104.9 400.9Z"/>
<path class="k49" d="M102.2 403.1L104 400.4L104.9 400.9L103 403.5Z"/>
<path class="k52" d="M100.3 405.4L102.2 403.1L103 403.5L101.2 405.8Z"/>
<path class="k53" d="M96.6 409.1L98.5 407.4L100.3 405.4L101.2 405.8L99.3 407.8L97.5 409.5Z"/>
<path class="k54" d="M70.3 412.3L72.3 412.5L74.2 412.3L76.1 412.1L78 411.9L79.9 411.7L81.8 411.5L83.7 411.4L85.6 411.2L87.4 411L89.3 410.8L91.1 410.6L93 410.4L94.8 410.5L96.6 409.1L97.5 409.5L95.6 410.9L93.8 411.2L91.9 411.3L90.1 411.5L88.2 411.7L86.3 411.9L84.5 412.1L82.6 412.3L80.7 412.5L78.8 412.7L76.8 412.9L74.9 413.1L73 413.3L71 413Z"/>
<path class="k53" d="M64.4 410.6L66.4 411.1L68.4 411.7L70.3 412.3L71 413L69.1 412.4L67.1 411.9L65.1 411.4Z"/>
<path class="k23" d="M174.8 381L176.2 382.7L177.3 384.9L175.9 383.3Z"/>
<path class="k21" d="M173.4 379.3L174.8 381L175.9 383.3L174.5 381.7Z"/>
<path class="k18" d="M171.9 377.8L173.4 379.3L174.5 381.7L173 380.2Z"/>
<path class="k25" d="M170.5 376.4L171.9 377.8L173 380.2L171.5 378.8Z"/>
<path class="k27" d="M169 375.3L170.5 376.4L171.5 378.8L170 377.7Z"/>
<path class="k29" d="M167.5 374.4L169 375.3L170 377.7L168.5 376.8Z"/>
<path class="k11" d="M166 373.8L167.5 374.4L168.5 376.8L167 376.2Z"/>
<path class="k10" d="M164.4 373.4L166 373.8L167 376.2L165.5 375.8Z"/>
<path class="k24" d="M161.3 373.2L162.9 373.2L164.4 373.4L165.5 375.8L163.9 375.6L162.4 375.6Z"/>
<path class="k9" d="M155 373.8L156.6 373.6L158.2 373.4L159.8 373.2L161.3 373.2L162.4 375.6L160.8 375.6L159.2 375.7L157.6 375.9L156 376.1Z"/>
<path class="k24" d="M148.6 375L150.2 374.7L151.8 374.4L153.4 374.1L155 373.8L156 376.1L154.4 376.4L152.8 376.7L151.2 377L149.6 377.3Z"/>
<path class="k10" d="M143.7 375.4L145.3 375.4L146.9 375.2L148.6 375L149.6 377.3L147.9 377.5L146.3 377.6L144.6 377.6Z"/>
<path class="k24" d="M138.7 375.4L140.4 375.4L142 375.4L143.7 375.4L144.6 377.6L143 377.6L141.3 377.6L139.7 377.6Z"/>
<path class="k9" d="M126.8 376.9L128.5 376.5L130.2 376.1L131.9 375.9L133.6 375.6L135.3 375.5L137 375.4L138.7 375.4L139.7 377.6L138 377.5L136.3 377.5L134.6 377.5L132.9 377.5L131.2 377.6L129.5 377.9L127.7 378.3Z"/>
<path class="k24" d="M125 377.6L126.8 376.9L127.7 378.3L126 378.9Z"/>
<path class="k10" d="M123.2 378.3L125 377.6L126 378.9L124.2 379.6Z"/>
<path class="k11" d="M121.5 379.1L123.2 378.3L124.2 379.6L122.4 380.4Z"/>
<path class="k12" d="M119.7 380.1L121.5 379.1L122.4 380.4L120.6 381.3Z"/>
<path class="k27" d="M117.9 381.5L119.7 380.1L120.6 381.3L118.8 382.7Z"/>
<path class="k15" d="M116.1 383.5L117.9 381.5L118.8 382.7L117 384.8Z"/>
<path class="k18" d="M114.2 386L116.1 383.5L117 384.8L115.1 387.2Z"/>
<path class="k21" d="M112.4 388.8L114.2 386L115.1 387.2L113.3 389.9Z"/>
<path class="k30" d="M110.5 391.8L112.4 388.8L113.3 389.9L111.4 392.8Z"/>
<path class="k35" d="M108.6 394.9L110.5 391.8L111.4 392.8L109.5 395.8Z"/>
<path class="k40" d="M106.8 398L108.6 394.9L109.5 395.8L107.7 398.7Z"/>
<path class="k45" d="M104.9 400.9L106.8 398L107.7 398.7L105.8 401.4Z"/>
<path class="k49" d="M103 403.5L104.9 400.9L105.8 401.4L103.9 404Z"/>
<path class="k51" d="M101.2 405.8L103 403.5L103.9 404L102.1 406.2Z"/>
<path class="k53" d="M95.6 410.9L97.5 409.5L99.3 407.8L101.2 405.8L102.1 406.2L100.2 408.2L98.3 409.9L96.5 411.4Z"/>
<path class="k54" d="M71 413L73 413.3L74.9 413.1L76.8 412.9L78.8 412.7L80.7 412.5L82.6 412.3L84.5 412.1L86.3 411.9L88.2 411.7L90.1 411.5L91.9 411.3L93.8 411.2L95.6 410.9L96.5 411.4L94.6 411.9L92.8 412.1L90.9 412.3L89 412.5L87.1 412.7L85.3 412.9L83.4 413.1L81.4 413.3L79.5 413.5L77.6 413.7L75.7 413.9L73.7 414.1L71.8 413.7Z"/>
<path class="k53" d="M65.1 411.4L67.1 411.9L69.1 412.4L71 413L71.8 413.7L69.8 413.2L67.8 412.7L65.8 412.2Z"/>
<path class="k26" d="M175.9 383.3L177.3 384.9L178.4 387.3L177 385.6Z"/>
<path class="k23" d="M174.5 381.7L175.9 383.3L177 385.6L175.5 384Z"/>
<path class="k21" d="M173 380.2L174.5 381.7L175.5 384L174.1 382.5Z"/>
<path class="k19" d="M171.5 378.8L173 380.2L174.1 382.5L172.6 381.2Z"/>
<path class="k16" d="M170 377.7L171.5 378.8L172.6 381.2L171.1 380.2Z"/>
<path class="k15" d="M168.5 376.8L170 377.7L171.1 380.2L169.6 379.3Z"/>
<path class="k27" d="M167 376.2L168.5 376.8L169.6 379.3L168.1 378.7Z"/>
<path class="k29" d="M165.5 375.8L167 376.2L168.1 378.7L166.5 378.3Z"/>
<path class="k12" d="M160.8 375.6L162.4 375.6L163.9 375.6L165.5 375.8L166.5 378.3L165 378L163.4 377.9L161.9 378Z"/>
<path class="k11" d="M157.6 375.9L159.2 375.7L160.8 375.6L161.9 378L160.3 378.1L158.7 378.2Z"/>
<path class="k12" d="M151.2 377L152.8 376.7L154.4 376.4L156 376.1L157.6 375.9L158.7 378.2L157.1 378.5L155.5 378.8L153.8 379L152.2 379.3Z"/>
<path class="k29" d="M144.6 377.6L146.3 377.6L147.9 377.5L149.6 377.3L151.2 377L152.2 379.3L150.6 379.6L148.9 379.7L147.3 379.9L145.6 379.9Z"/>
<path class="k12" d="M139.7 377.6L141.3 377.6L143 377.6L144.6 377.6L145.6 379.9L144 379.9L142.3 379.9L140.6 379.8Z"/>
<path class="k11" d="M136.3 377.5L138 377.5L139.7 377.6L140.6 379.8L139 379.7L137.3 379.6Z"/>
<path class="k10" d="M126 378.9L127.7 378.3L129.5 377.9L131.2 377.6L132.9 377.5L134.6 377.5L136.3 377.5L137.3 379.6L135.6 379.4L133.9 379.2L132.2 379.1L130.4 379.2L128.7 379.6L126.9 380.1Z"/>
<path class="k11" d="M124.2 379.6L126 378.9L126.9 380.1L125.2 380.9Z"/>
<path class="k12" d="M122.4 380.4L124.2 379.6L125.2 380.9L123.4 381.8Z"/>
<path class="k13" d="M120.6 381.3L122.4 380.4L123.4 381.8L121.6 383Z"/>
<path class="k14" d="M118.8 382.7L120.6 381.3L121.6 383L119.7 384.5Z"/>
<path class="k28" d="M117 384.8L118.8 382.7L119.7 384.5L117.9 386.5Z"/>
<path class="k19" d="M115.1 387.2L117 384.8L117.9 386.5L116.1 388.7Z"/>
<path class="k22" d="M113.3 389.9L115.1 387.2L116.1 388.7L114.2 391.3Z"/>
<path class="k31" d="M111.4 392.8L113.3 389.9L114.2 391.3L112.3 394.1Z"/>
<path class="k35" d="M109.5 395.8L111.4 392.8L112.3 394.1L110.4 396.9Z"/>
<path class="k40" d="M107.7 398.7L109.5 395.8L110.4 396.9L108.6 399.6Z"/>
<path class="k45" d="M105.8 401.4L107.7 398.7L108.6 399.6L106.7 402.3Z"/>
<path class="k49" d="M103.9 404L105.8 401.4L106.7 402.3L104.8 404.7Z"/>
<path class="k51" d="M102.1 406.2L103.9 404L104.8 404.7L102.9 406.9Z"/>
<path class="k52" d="M100.2 408.2L102.1 406.2L102.9 406.9L101.1 408.8Z"/>
<path class="k53" d="M96.5 411.4L98.3 409.9L100.2 408.2L101.1 408.8L99.2 410.5L97.3 411.9Z"/>
<path class="k54" d="M71.8 413.7L73.7 414.1L75.7 413.9L77.6 413.7L79.5 413.5L81.4 413.3L83.4 413.1L85.3 412.9L87.1 412.7L89 412.5L90.9 412.3L92.8 412.1L94.6 411.9L96.5 411.4L97.3 411.9L95.5 412.7L93.6 412.8L91.7 413L89.8 413.2L87.9 413.4L86 413.6L84.1 413.8L82.2 414L80.3 414.2L78.4 414.4L76.4 414.6L74.5 414.8L72.5 414.4Z"/>
<path class="k53" d="M65.8 412.2L67.8 412.7L69.8 413.2L71.8 413.7L72.5 414.4L70.5 414L68.5 413.5L66.5 413Z"/>
<path class="k31" d="M177 385.6L178.4 387.3L179.6 389.3L178.1 387.7Z"/>
<path class="k26" d="M175.5 384L177 385.6L178.1 387.7L176.6 386.2Z"/>
<path class="k23" d="M174.1 382.5L175.5 384L176.6 386.2L175.2 384.8Z"/>
<path class="k21" d="M172.6 381.2L174.1 382.5L175.2 384.8L173.7 383.5Z"/>
<path class="k20" d="M171.1 380.2L172.6 381.2L173.7 383.5L172.2 382.5Z"/>
<path class="k17" d="M169.6 379.3L171.1 380.2L172.2 382.5L170.7 381.7Z"/>
<path class="k16" d="M168.1 378.7L169.6 379.3L170.7 381.7L169.2 381.1Z"/>
<path class="k25" d="M166.5 378.3L168.1 378.7L169.2 381.1L167.6 380.7Z"/>
<path class="k15" d="M165 378L166.5 378.3L167.6 380.7L166.1 380.4Z"/>
<path class="k14" d="M163.4 377.9L165 378L166.1 380.4L164.5 380.3Z"/>
<path class="k27" d="M157.1 378.5L158.7 378.2L160.3 378.1L161.9 378L163.4 377.9L164.5 380.3L162.9 380.3L161.3 380.4L159.7 380.6L158.1 380.8Z"/>
<path class="k14" d="M142.3 379.9L144 379.9L145.6 379.9L147.3 379.9L148.9 379.7L150.6 379.6L152.2 379.3L153.8 379L155.5 378.8L157.1 378.5L158.1 380.8L156.5 381.1L154.9 381.4L153.2 381.7L151.6 381.9L149.9 382L148.3 382.1L146.6 382.2L145 382.2L143.3 382.1Z"/>
<path class="k27" d="M139 379.7L140.6 379.8L142.3 379.9L143.3 382.1L141.6 382L139.9 381.9Z"/>
<path class="k13" d="M137.3 379.6L139 379.7L139.9 381.9L138.3 381.7Z"/>
<path class="k29" d="M135.6 379.4L137.3 379.6L138.3 381.7L136.6 381.3Z"/>
<path class="k12" d="M133.9 379.2L135.6 379.4L136.6 381.3L134.9 380.9Z"/>
<path class="k11" d="M128.7 379.6L130.4 379.2L132.2 379.1L133.9 379.2L134.9 380.9L133.2 380.6L131.4 380.6L129.7 380.9Z"/>
<path class="k12" d="M126.9 380.1L128.7 379.6L129.7 380.9L127.9 381.5Z"/>
<path class="k29" d="M125.2 380.9L126.9 380.1L127.9 381.5L126.1 382.4Z"/>
<path class="k13" d="M123.4 381.8L125.2 380.9L126.1 382.4L124.3 383.5Z"/>
<path class="k14" d="M121.6 383L123.4 381.8L124.3 383.5L122.5 384.9Z"/>
<path class="k16" d="M119.7 384.5L121.6 383L122.5 384.9L120.7 386.6Z"/>
<path class="k19" d="M117.9 386.5L119.7 384.5L120.7 386.6L118.8 388.5Z"/>
<path class="k21" d="M116.1 388.7L117.9 386.5L118.8 388.5L117 390.7Z"/>
<path class="k23" d="M114.2 391.3L116.1 388.7L117 390.7L115.1 393.1Z"/>
<path class="k32" d="M112.3 394.1L114.2 391.3L115.1 393.1L113.2 395.7Z"/>
<path class="k36" d="M110.4 396.9L112.3 394.1L113.2 395.7L111.3 398.3Z"/>
<path class="k40" d="M108.6 399.6L110.4 396.9L111.3 398.3L109.5 400.9Z"/>
<path class="k45" d="M106.7 402.3L108.6 399.6L109.5 400.9L107.6 403.4Z"/>
<path class="k49" d="M104.8 404.7L106.7 402.3L107.6 403.4L105.7 405.7Z"/>
<path class="k51" d="M102.9 406.9L104.8 404.7L105.7 405.7L103.8 407.8Z"/>
<path class="k52" d="M101.1 408.8L102.9 406.9L103.8 407.8L101.9 409.6Z"/>
<path class="k53" d="M97.3 411.9L99.2 410.5L101.1 408.8L101.9 409.6L100.1 411.2L98.2 412.5Z"/>
<path class="k54" d="M72.5 414.4L74.5 414.8L76.4 414.6L78.4 414.4L80.3 414.2L82.2 414L84.1 413.8L86 413.6L87.9 413.4L89.8 413.2L91.7 413L93.6 412.8L95.5 412.7L97.3 411.9L98.2 412.5L96.3 413.4L94.4 413.6L92.6 413.8L90.7 414L88.8 414.2L86.9 414.4L84.9 414.6L83 414.8L81.1 415L79.1 415.2L77.2 415.4L75.2 415.5L73.2 415.1Z"/>
<path class="k53" d="M66.5 413L68.5 413.5L70.5 414L72.5 414.4L73.2 415.1L71.3 414.7L69.2 414.2L67.2 413.8Z"/>
<path class="k33" d="M178.1 387.7L179.6 389.3L180.7 391.1L179.2 389.7Z"/>
<path class="k31" d="M176.6 386.2L178.1 387.7L179.2 389.7L177.8 388.3Z"/>
<path class="k26" d="M175.2 384.8L176.6 386.2L177.8 388.3L176.3 387Z"/>
<path class="k23" d="M173.7 383.5L175.2 384.8L176.3 387L174.8 385.8Z"/>
<path class="k22" d="M172.2 382.5L173.7 383.5L174.8 385.8L173.3 384.9Z"/>
<path class="k20" d="M170.7 381.7L172.2 382.5L173.3 384.9L171.8 384.1Z"/>
<path class="k19" d="M169.2 381.1L170.7 381.7L171.8 384.1L170.2 383.5Z"/>
<path class="k18" d="M167.6 380.7L169.2 381.1L170.2 383.5L168.7 383.1Z"/>
<path class="k17" d="M166.1 380.4L167.6 380.7L168.7 383.1L167.1 382.8Z"/>
<path class="k28" d="M164.5 380.3L166.1 380.4L167.1 382.8L165.6 382.6Z"/>
<path class="k16" d="M158.1 380.8L159.7 380.6L161.3 380.4L162.9 380.3L164.5 380.3L165.6 382.6L164 382.6L162.4 382.7L160.8 382.9L159.2 383.1Z"/>
<path class="k28" d="M145 382.2L146.6 382.2L148.3 382.1L149.9 382L151.6 381.9L153.2 381.7L154.9 381.4L156.5 381.1L158.1 380.8L159.2 383.1L157.5 383.4L155.9 383.7L154.3 384L152.6 384.2L151 384.3L149.3 384.4L147.7 384.4L146 384.3Z"/>
<path class="k16" d="M141.6 382L143.3 382.1L145 382.2L146 384.3L144.3 384.2L142.6 384.1Z"/>
<path class="k25" d="M139.9 381.9L141.6 382L142.6 384.1L140.9 383.9Z"/>
<path class="k15" d="M138.3 381.7L139.9 381.9L140.9 383.9L139.3 383.5Z"/>
<path class="k14" d="M136.6 381.3L138.3 381.7L139.3 383.5L137.6 383Z"/>
<path class="k27" d="M134.9 380.9L136.6 381.3L137.6 383L135.9 382.5Z"/>
<path class="k29" d="M131.4 380.6L133.2 380.6L134.9 380.9L135.9 382.5L134.2 382.1L132.4 382Z"/>
<path class="k12" d="M129.7 380.9L131.4 380.6L132.4 382L130.7 382.3Z"/>
<path class="k29" d="M127.9 381.5L129.7 380.9L130.7 382.3L128.9 383Z"/>
<path class="k27" d="M126.1 382.4L127.9 381.5L128.9 383L127.1 384.1Z"/>
<path class="k15" d="M124.3 383.5L126.1 382.4L127.1 384.1L125.3 385.5Z"/>
<path class="k16" d="M122.5 384.9L124.3 383.5L125.3 385.5L123.4 387.1Z"/>
<path class="k19" d="M120.7 386.6L122.5 384.9L123.4 387.1L121.6 388.9Z"/>
<path class="k21" d="M118.8 388.5L120.7 386.6L121.6 388.9L119.7 390.9Z"/>
<path class="k23" d="M117 390.7L118.8 388.5L119.7 390.9L117.9 392.9Z"/>
<path class="k30" d="M115.1 393.1L117 390.7L117.9 392.9L116 395.2Z"/>
<path class="k33" d="M113.2 395.7L115.1 393.1L116 395.2L114.1 397.5Z"/>
<path class="k37" d="M111.3 398.3L113.2 395.7L114.1 397.5L112.2 399.9Z"/>
<path class="k41" d="M109.5 400.9L111.3 398.3L112.2 399.9L110.4 402.3Z"/>
<path class="k46" d="M107.6 403.4L109.5 400.9L110.4 402.3L108.5 404.7Z"/>
<path class="k49" d="M105.7 405.7L107.6 403.4L108.5 404.7L106.6 406.9Z"/>
<path class="k51" d="M103.8 407.8L105.7 405.7L106.6 406.9L104.7 408.8Z"/>
<path class="k52" d="M101.9 409.6L103.8 407.8L104.7 408.8L102.8 410.5Z"/>
<path class="k53" d="M98.2 412.5L100.1 411.2L101.9 409.6L102.8 410.5L100.9 412L99 413.3Z"/>
<path class="k54" d="M73.2 415.1L75.2 415.5L77.2 415.4L79.1 415.2L81.1 415L83 414.8L84.9 414.6L86.9 414.4L88.8 414.2L90.7 414L92.6 413.8L94.4 413.6L96.3 413.4L98.2 412.5L99 413.3L97.2 414.2L95.3 414.4L93.4 414.6L91.5 414.8L89.6 415L87.7 415.2L85.7 415.4L83.8 415.6L81.9 415.8L79.9 416L78 416.2L76 416.2L74 415.8Z"/>
<path class="k53" d="M67.2 413.8L69.2 414.2L71.3 414.7L73.2 415.1L74 415.8L72 415.4L70 415L68 414.6Z"/>
<path class="k34" d="M179.2 389.7L180.7 391.1L181.8 393.1L180.4 391.7Z"/>
<path class="k32" d="M177.8 388.3L179.2 389.7L180.4 391.7L178.9 390.4Z"/>
<path class="k31" d="M176.3 387L177.8 388.3L178.9 390.4L177.4 389.1Z"/>
<path class="k26" d="M174.8 385.8L176.3 387L177.4 389.1L175.9 388.1Z"/>
<path class="k23" d="M173.3 384.9L174.8 385.8L175.9 388.1L174.4 387.1Z"/>
<path class="k22" d="M171.8 384.1L173.3 384.9L174.4 387.1L172.9 386.4Z"/>
<path class="k21" d="M168.7 383.1L170.2 383.5L171.8 384.1L172.9 386.4L171.3 385.8L169.8 385.3Z"/>
<path class="k20" d="M165.6 382.6L167.1 382.8L168.7 383.1L169.8 385.3L168.2 385.1L166.6 384.9Z"/>
<path class="k19" d="M155.9 383.7L157.5 383.4L159.2 383.1L160.8 382.9L162.4 382.7L164 382.6L165.6 382.6L166.6 384.9L165.1 384.9L163.5 385L161.8 385.1L160.2 385.4L158.6 385.6L157 385.9Z"/>
<path class="k20" d="M149.3 384.4L151 384.3L152.6 384.2L154.3 384L155.9 383.7L157 385.9L155.3 386.1L153.7 386.3L152 386.5L150.3 386.5Z"/>
<path class="k19" d="M146 384.3L147.7 384.4L149.3 384.4L150.3 386.5L148.7 386.5L147 386.5Z"/>
<path class="k18" d="M142.6 384.1L144.3 384.2L146 384.3L147 386.5L145.3 386.3L143.6 386.1Z"/>
<path class="k17" d="M140.9 383.9L142.6 384.1L143.6 386.1L142 385.8Z"/>
<path class="k28" d="M139.3 383.5L140.9 383.9L142 385.8L140.3 385.4Z"/>
<path class="k16" d="M137.6 383L139.3 383.5L140.3 385.4L138.6 384.9Z"/>
<path class="k15" d="M135.9 382.5L137.6 383L138.6 384.9L136.9 384.3Z"/>
<path class="k14" d="M134.2 382.1L135.9 382.5L136.9 384.3L135.2 383.9Z"/>
<path class="k27" d="M132.4 382L134.2 382.1L135.2 383.9L133.4 383.6Z"/>
<path class="k13" d="M130.7 382.3L132.4 382L133.4 383.6L131.7 384Z"/>
<path class="k27" d="M128.9 383L130.7 382.3L131.7 384L129.9 384.9Z"/>
<path class="k15" d="M127.1 384.1L128.9 383L129.9 384.9L128 386.1Z"/>
<path class="k28" d="M125.3 385.5L127.1 384.1L128 386.1L126.2 387.6Z"/>
<path class="k19" d="M123.4 387.1L125.3 385.5L126.2 387.6L124.4 389.4Z"/>
<path class="k21" d="M121.6 388.9L123.4 387.1L124.4 389.4L122.5 391.3Z"/>
<path class="k23" d="M119.7 390.9L121.6 388.9L122.5 391.3L120.7 393.2Z"/>
<path class="k26" d="M117.9 392.9L119.7 390.9L120.7 393.2L118.8 395.2Z"/>
<path class="k32" d="M116 395.2L117.9 392.9L118.8 395.2L116.9 397.2Z"/>
<path class="k35" d="M114.1 397.5L116 395.2L116.9 397.2L115 399.4Z"/>
<path class="k38" d="M112.2 399.9L114.1 397.5L115 399.4L113.2 401.6Z"/>
<path class="k42" d="M110.4 402.3L112.2 399.9L113.2 401.6L111.3 403.9Z"/>
<path class="k46" d="M108.5 404.7L110.4 402.3L111.3 403.9L109.4 406.1Z"/>
<path class="k50" d="M106.6 406.9L108.5 404.7L109.4 406.1L107.5 408.1Z"/>
<path class="k52" d="M102.8 410.5L104.7 408.8L106.6 406.9L107.5 408.1L105.6 409.9L103.7 411.5Z"/>
<path class="k53" d="M99 413.3L100.9 412L102.8 410.5L103.7 411.5L101.8 412.9L99.9 414.1Z"/>
<path class="k54" d="M74 415.8L76 416.2L78 416.2L79.9 416L81.9 415.8L83.8 415.6L85.7 415.4L87.7 415.2L89.6 415L91.5 414.8L93.4 414.6L95.3 414.4L97.2 414.2L99 413.3L99.9 414.1L98 415L96.1 415.2L94.2 415.4L92.3 415.6L90.4 415.8L88.5 416L86.6 416.2L84.6 416.4L82.7 416.6L80.7 416.8L78.7 417L76.7 416.9L74.8 416.5Z"/>
<path class="k53" d="M68 414.6L70 415L72 415.4L74 415.8L74.8 416.5L72.7 416.1L70.7 415.7L68.7 415.4Z"/>
<path class="k36" d="M180.4 391.7L181.8 393.1L183 395.1L181.5 393.7Z"/>
<path class="k34" d="M178.9 390.4L180.4 391.7L181.5 393.7L180 392.5Z"/>
<path class="k33" d="M177.4 389.1L178.9 390.4L180 392.5L178.5 391.3Z"/>
<path class="k31" d="M175.9 388.1L177.4 389.1L178.5 391.3L177 390.2Z"/>
<path class="k30" d="M174.4 387.1L175.9 388.1L177 390.2L175.5 389.3Z"/>
<path class="k26" d="M172.9 386.4L174.4 387.1L175.5 389.3L174 388.6Z"/>
<path class="k23" d="M171.3 385.8L172.9 386.4L174 388.6L172.5 388Z"/>
<path class="k22" d="M168.2 385.1L169.8 385.3L171.3 385.8L172.5 388L170.9 387.5L169.3 387.2Z"/>
<path class="k21" d="M145.3 386.3L147 386.5L148.7 386.5L150.3 386.5L152 386.5L153.7 386.3L155.3 386.1L157 385.9L158.6 385.6L160.2 385.4L161.8 385.1L163.5 385L165.1 384.9L166.6 384.9L168.2 385.1L169.3 387.2L167.7 387.1L166.2 387L164.5 387.1L162.9 387.2L161.3 387.5L159.7 387.7L158 388L156.4 388.2L154.7 388.4L153.1 388.6L151.4 388.6L149.7 388.6L148 388.6L146.4 388.4Z"/>
<path class="k20" d="M142 385.8L143.6 386.1L145.3 386.3L146.4 388.4L144.7 388.2L143 387.9Z"/>
<path class="k19" d="M140.3 385.4L142 385.8L143 387.9L141.3 387.5Z"/>
<path class="k18" d="M138.6 384.9L140.3 385.4L141.3 387.5L139.6 387.1Z"/>
<path class="k28" d="M136.9 384.3L138.6 384.9L139.6 387.1L137.9 386.6Z"/>
<path class="k16" d="M135.2 383.9L136.9 384.3L137.9 386.6L136.1 386.3Z"/>
<path class="k25" d="M131.7 384L133.4 383.6L135.2 383.9L136.1 386.3L134.4 386.2L132.6 386.6Z"/>
<path class="k16" d="M129.9 384.9L131.7 384L132.6 386.6L130.8 387.4Z"/>
<path class="k17" d="M128 386.1L129.9 384.9L130.8 387.4L129 388.5Z"/>
<path class="k19" d="M126.2 387.6L128 386.1L129 388.5L127.2 389.9Z"/>
<path class="k21" d="M124.4 389.4L126.2 387.6L127.2 389.9L125.3 391.6Z"/>
<path class="k22" d="M122.5 391.3L124.4 389.4L125.3 391.6L123.5 393.4Z"/>
<path class="k26" d="M120.7 393.2L122.5 391.3L123.5 393.4L121.6 395.3Z"/>
<path class="k31" d="M118.8 395.2L120.7 393.2L121.6 395.3L119.7 397.2Z"/>
<path class="k33" d="M116.9 397.2L118.8 395.2L119.7 397.2L117.9 399.2Z"/>
<path class="k36" d="M115 399.4L116.9 397.2L117.9 399.2L116 401.2Z"/>
<path class="k39" d="M113.2 401.6L115 399.4L116 401.2L114.1 403.3Z"/>
<path class="k44" d="M111.3 403.9L113.2 401.6L114.1 403.3L112.2 405.4Z"/>
<path class="k47" d="M109.4 406.1L111.3 403.9L112.2 405.4L110.3 407.4Z"/>
<path class="k50" d="M107.5 408.1L109.4 406.1L110.3 407.4L108.4 409.3Z"/>
<path class="k52" d="M105.6 409.9L107.5 408.1L108.4 409.3L106.5 411Z"/>
<path class="k53" d="M99.9 414.1L101.8 412.9L103.7 411.5L105.6 409.9L106.5 411L104.6 412.5L102.7 413.8L100.8 414.9Z"/>
<path class="k54" d="M74.8 416.5L76.7 416.9L78.7 417L80.7 416.8L82.7 416.6L84.6 416.4L86.6 416.2L88.5 416L90.4 415.8L92.3 415.6L94.2 415.4L96.1 415.2L98 415L99.9 414.1L100.8 414.9L98.9 415.7L97 416L95.1 416.2L93.2 416.4L91.3 416.6L89.3 416.8L87.4 417L85.4 417.2L83.5 417.4L81.5 417.6L79.5 417.8L77.5 417.6L75.5 417.3Z"/>
<path class="k53" d="M68.7 415.4L70.7 415.7L72.7 416.1L74.8 416.5L75.5 417.3L73.5 416.9L71.5 416.5L69.4 416.1Z"/>
<path class="k38" d="M181.5 393.7L183 395.1L184.2 397.1L182.7 395.8Z"/>
<path class="k36" d="M180 392.5L181.5 393.7L182.7 395.8L181.2 394.5Z"/>
<path class="k34" d="M178.5 391.3L180 392.5L181.2 394.5L179.7 393.4Z"/>
<path class="k33" d="M177 390.2L178.5 391.3L179.7 393.4L178.2 392.3Z"/>
<path class="k31" d="M175.5 389.3L177 390.2L178.2 392.3L176.7 391.4Z"/>
<path class="k30" d="M174 388.6L175.5 389.3L176.7 391.4L175.1 390.7Z"/>
<path class="k26" d="M170.9 387.5L172.5 388L174 388.6L175.1 390.7L173.6 390.1L172 389.6Z"/>
<path class="k23" d="M164.5 387.1L166.2 387L167.7 387.1L169.3 387.2L170.9 387.5L172 389.6L170.4 389.3L168.9 389.1L167.3 389.1L165.6 389.1Z"/>
<path class="k22" d="M159.7 387.7L161.3 387.5L162.9 387.2L164.5 387.1L165.6 389.1L164 389.3L162.4 389.4L160.8 389.7Z"/>
<path class="k23" d="M149.7 388.6L151.4 388.6L153.1 388.6L154.7 388.4L156.4 388.2L158 388L159.7 387.7L160.8 389.7L159.1 389.9L157.4 390.2L155.8 390.4L154.1 390.6L152.4 390.7L150.8 390.7Z"/>
<path class="k22" d="M144.7 388.2L146.4 388.4L148 388.6L149.7 388.6L150.8 390.7L149.1 390.7L147.4 390.6L145.7 390.4Z"/>
<path class="k21" d="M139.6 387.1L141.3 387.5L143 387.9L144.7 388.2L145.7 390.4L144 390.2L142.3 389.9L140.6 389.6Z"/>
<path class="k20" d="M137.9 386.6L139.6 387.1L140.6 389.6L138.8 389.4Z"/>
<path class="k19" d="M136.1 386.3L137.9 386.6L138.8 389.4L137.1 389.2Z"/>
<path class="k18" d="M132.6 386.6L134.4 386.2L136.1 386.3L137.1 389.2L135.4 389.2L133.6 389.5Z"/>
<path class="k19" d="M130.8 387.4L132.6 386.6L133.6 389.5L131.8 390.1Z"/>
<path class="k20" d="M129 388.5L130.8 387.4L131.8 390.1L130 391.1Z"/>
<path class="k21" d="M127.2 389.9L129 388.5L130 391.1L128.1 392.4Z"/>
<path class="k22" d="M125.3 391.6L127.2 389.9L128.1 392.4L126.3 393.8Z"/>
<path class="k26" d="M123.5 393.4L125.3 391.6L126.3 393.8L124.4 395.5Z"/>
<path class="k30" d="M121.6 395.3L123.5 393.4L124.4 395.5L122.6 397.3Z"/>
<path class="k32" d="M119.7 397.2L121.6 395.3L122.6 397.3L120.7 399.2Z"/>
<path class="k34" d="M117.9 399.2L119.7 397.2L120.7 399.2L118.8 401.1Z"/>
<path class="k37" d="M116 401.2L117.9 399.2L118.8 401.1L116.9 403.1Z"/>
<path class="k41" d="M114.1 403.3L116 401.2L116.9 403.1L115 405Z"/>
<path class="k45" d="M112.2 405.4L114.1 403.3L115 405L113.1 407Z"/>
<path class="k48" d="M110.3 407.4L112.2 405.4L113.1 407L111.2 408.9Z"/>
<path class="k51" d="M108.4 409.3L110.3 407.4L111.2 408.9L109.3 410.6Z"/>
<path class="k52" d="M106.5 411L108.4 409.3L109.3 410.6L107.4 412.2Z"/>
<path class="k53" d="M100.8 414.9L102.7 413.8L104.6 412.5L106.5 411L107.4 412.2L105.5 413.6L103.6 414.8L101.7 415.8Z"/>
<path class="k54" d="M75.5 417.3L77.5 417.6L79.5 417.8L81.5 417.6L83.5 417.4L85.4 417.2L87.4 417L89.3 416.8L91.3 416.6L93.2 416.4L95.1 416.2L97 416L98.9 415.7L100.8 414.9L101.7 415.8L99.8 416.5L97.9 416.7L96 417L94 417.2L92.1 417.4L90.2 417.6L88.2 417.8L86.2 418L84.3 418.2L82.3 418.4L80.3 418.7L78.3 418.4L76.3 418.1Z"/>
<path class="k53" d="M69.4 416.1L71.5 416.5L73.5 416.9L75.5 417.3L76.3 418.1L74.3 417.7L72.2 417.3L70.2 417Z"/>
<path class="k41" d="M182.7 395.8L184.2 397.1L185.3 399.2L183.9 397.8Z"/>
<path class="k38" d="M181.2 394.5L182.7 395.8L183.9 397.8L182.4 396.5Z"/>
<path class="k36" d="M179.7 393.4L181.2 394.5L182.4 396.5L180.9 395.3Z"/>
<path class="k35" d="M178.2 392.3L179.7 393.4L180.9 395.3L179.3 394.3Z"/>
<path class="k33" d="M176.7 391.4L178.2 392.3L179.3 394.3L177.8 393.4Z"/>
<path class="k32" d="M175.1 390.7L176.7 391.4L177.8 393.4L176.3 392.6Z"/>
<path class="k31" d="M173.6 390.1L175.1 390.7L176.3 392.6L174.7 392Z"/>
<path class="k30" d="M170.4 389.3L172 389.6L173.6 390.1L174.7 392L173.2 391.6L171.6 391.3Z"/>
<path class="k26" d="M147.4 390.6L149.1 390.7L150.8 390.7L152.4 390.7L154.1 390.6L155.8 390.4L157.4 390.2L159.1 389.9L160.8 389.7L162.4 389.4L164 389.3L165.6 389.1L167.3 389.1L168.9 389.1L170.4 389.3L171.6 391.3L170 391.1L168.4 391L166.8 391.1L165.1 391.2L163.5 391.3L161.9 391.6L160.2 391.8L158.5 392.1L156.9 392.3L155.2 392.6L153.5 392.7L151.8 392.8L150.1 392.8L148.4 392.8Z"/>
<path class="k23" d="M142.3 389.9L144 390.2L145.7 390.4L147.4 390.6L148.4 392.8L146.7 392.7L145 392.6L143.3 392.5Z"/>
<path class="k22" d="M130 391.1L131.8 390.1L133.6 389.5L135.4 389.2L137.1 389.2L138.8 389.4L140.6 389.6L142.3 389.9L143.3 392.5L141.6 392.4L139.8 392.3L138.1 392.3L136.3 392.4L134.5 392.6L132.7 393L130.9 393.8Z"/>
<path class="k23" d="M128.1 392.4L130 391.1L130.9 393.8L129.1 395Z"/>
<path class="k26" d="M126.3 393.8L128.1 392.4L129.1 395L127.3 396.4Z"/>
<path class="k30" d="M124.4 395.5L126.3 393.8L127.3 396.4L125.4 397.9Z"/>
<path class="k32" d="M122.6 397.3L124.4 395.5L125.4 397.9L123.5 399.6Z"/>
<path class="k34" d="M120.7 399.2L122.6 397.3L123.5 399.6L121.6 401.4Z"/>
<path class="k36" d="M118.8 401.1L120.7 399.2L121.6 401.4L119.7 403.1Z"/>
<path class="k38" d="M116.9 403.1L118.8 401.1L119.7 403.1L117.9 405Z"/>
<path class="k43" d="M115 405L116.9 403.1L117.9 405L116 406.8Z"/>
<path class="k46" d="M113.1 407L115 405L116 406.8L114 408.6Z"/>
<path class="k49" d="M111.2 408.9L113.1 407L114 408.6L112.1 410.4Z"/>
<path class="k51" d="M109.3 410.6L111.2 408.9L112.1 410.4L110.2 412Z"/>
<path class="k52" d="M107.4 412.2L109.3 410.6L110.2 412L108.3 413.4Z"/>
<path class="k53" d="M103.6 414.8L105.5 413.6L107.4 412.2L108.3 413.4L106.4 414.7L104.5 415.8Z"/>
<path class="k54" d="M76.3 418.1L78.3 418.4L80.3 418.7L82.3 418.4L84.3 418.2L86.2 418L88.2 417.8L90.2 417.6L92.1 417.4L94 417.2L96 417L97.9 416.7L99.8 416.5L101.7 415.8L103.6 414.8L104.5 415.8L102.6 416.8L100.7 417.3L98.8 417.6L96.8 417.8L94.9 418L93 418.2L91 418.4L89.1 418.6L87.1 418.8L85.1 419L83.1 419.3L81.1 419.5L79.1 419.2L77.1 418.9Z"/>
<path class="k53" d="M70.2 417L72.2 417.3L74.3 417.7L76.3 418.1L77.1 418.9L75 418.5L73 418.2L70.9 417.8Z"/>
<path class="k44" d="M183.9 397.8L185.3 399.2L186.5 401.1L185 399.7Z"/>
<path class="k40" d="M182.4 396.5L183.9 397.8L185 399.7L183.5 398.4Z"/>
<path class="k38" d="M180.9 395.3L182.4 396.5L183.5 398.4L182 397.2Z"/>
<path class="k36" d="M179.3 394.3L180.9 395.3L182 397.2L180.5 396.1Z"/>
<path class="k35" d="M177.8 393.4L179.3 394.3L180.5 396.1L179 395.2Z"/>
<path class="k33" d="M176.3 392.6L177.8 393.4L179 395.2L177.4 394.4Z"/>
<path class="k32" d="M173.2 391.6L174.7 392L176.3 392.6L177.4 394.4L175.9 393.8L174.3 393.4Z"/>
<path class="k31" d="M171.6 391.3L173.2 391.6L174.3 393.4L172.7 393.1Z"/>
<path class="k30" d="M145 392.6L146.7 392.7L148.4 392.8L150.1 392.8L151.8 392.8L153.5 392.7L155.2 392.6L156.9 392.3L158.5 392.1L160.2 391.8L161.9 391.6L163.5 391.3L165.1 391.2L166.8 391.1L168.4 391L170 391.1L171.6 391.3L172.7 393.1L171.1 392.9L169.5 392.9L167.9 392.9L166.3 393L164.6 393.1L163 393.4L161.3 393.6L159.6 393.9L158 394.2L156.3 394.4L154.6 394.7L152.9 394.8L151.2 394.9L149.5 395L147.8 395L146 395Z"/>
<path class="k26" d="M130.9 393.8L132.7 393L134.5 392.6L136.3 392.4L138.1 392.3L139.8 392.3L141.6 392.4L143.3 392.5L145 392.6L146 395L144.3 395.1L142.6 395.1L140.8 395.3L139.1 395.4L137.3 395.6L135.5 395.6L133.7 395.9L131.9 396.6Z"/>
<path class="k30" d="M129.1 395L130.9 393.8L131.9 396.6L130.1 397.7Z"/>
<path class="k31" d="M127.3 396.4L129.1 395L130.1 397.7L128.2 399Z"/>
<path class="k33" d="M125.4 397.9L127.3 396.4L128.2 399L126.3 400.5Z"/>
<path class="k34" d="M123.5 399.6L125.4 397.9L126.3 400.5L124.5 402.1Z"/>
<path class="k36" d="M121.6 401.4L123.5 399.6L124.5 402.1L122.6 403.7Z"/>
<path class="k38" d="M119.7 403.1L121.6 401.4L122.6 403.7L120.7 405.4Z"/>
<path class="k41" d="M117.9 405L119.7 403.1L120.7 405.4L118.8 407Z"/>
<path class="k45" d="M116 406.8L117.9 405L118.8 407L116.9 408.7Z"/>
<path class="k48" d="M114 408.6L116 406.8L116.9 408.7L115 410.5Z"/>
<path class="k50" d="M112.1 410.4L114 408.6L115 410.5L113.1 412.1Z"/>
<path class="k51" d="M110.2 412L112.1 410.4L113.1 412.1L111.2 413.5Z"/>
<path class="k52" d="M108.3 413.4L110.2 412L111.2 413.5L109.3 414.8Z"/>
<path class="k53" d="M104.5 415.8L106.4 414.7L108.3 413.4L109.3 414.8L107.3 416L105.4 417Z"/>
<path class="k54" d="M77.1 418.9L79.1 419.2L81.1 419.5L83.1 419.3L85.1 419L87.1 418.8L89.1 418.6L91 418.4L93 418.2L94.9 418L96.8 417.8L98.8 417.6L100.7 417.3L102.6 416.8L104.5 415.8L105.4 417L103.5 417.9L101.6 418.2L99.7 418.4L97.7 418.6L95.8 418.8L93.8 419L91.9 419.2L89.9 419.4L87.9 419.7L85.9 419.9L83.9 420.1L81.9 420.3L79.9 420.1L77.9 419.8Z"/>
<path class="k53" d="M70.9 417.8L73 418.2L75 418.5L77.1 418.9L77.9 419.8L75.8 419.5L73.8 419.1L71.7 418.8Z"/>
<path class="k46" d="M185 399.7L186.5 401.1L187.7 402.9L186.2 401.5Z"/>
<path class="k43" d="M183.5 398.4L185 399.7L186.2 401.5L184.7 400.1Z"/>
<path class="k40" d="M182 397.2L183.5 398.4L184.7 400.1L183.2 398.9Z"/>
<path class="k37" d="M180.5 396.1L182 397.2L183.2 398.9L181.7 397.8Z"/>
<path class="k36" d="M179 395.2L180.5 396.1L181.7 397.8L180.2 396.8Z"/>
<path class="k35" d="M177.4 394.4L179 395.2L180.2 396.8L178.6 396.1Z"/>
<path class="k34" d="M175.9 393.8L177.4 394.4L178.6 396.1L177.1 395.5Z"/>
<path class="k33" d="M174.3 393.4L175.9 393.8L177.1 395.5L175.5 395.1Z"/>
<path class="k32" d="M171.1 392.9L172.7 393.1L174.3 393.4L175.5 395.1L173.9 394.8L172.3 394.7Z"/>
<path class="k31" d="M156.3 394.4L158 394.2L159.6 393.9L161.3 393.6L163 393.4L164.6 393.1L166.3 393L167.9 392.9L169.5 392.9L171.1 392.9L172.3 394.7L170.7 394.6L169 394.6L167.4 394.7L165.8 394.9L164.1 395.1L162.4 395.3L160.8 395.6L159.1 395.9L157.4 396.2Z"/>
<path class="k32" d="M149.5 395L151.2 394.9L152.9 394.8L154.6 394.7L156.3 394.4L157.4 396.2L155.7 396.5L154 396.7L152.3 396.9L150.5 397.1Z"/>
<path class="k31" d="M133.7 395.9L135.5 395.6L137.3 395.6L139.1 395.4L140.8 395.3L142.6 395.1L144.3 395.1L146 395L147.8 395L149.5 395L150.5 397.1L148.8 397.2L147.1 397.3L145.3 397.5L143.6 397.7L141.8 397.9L140.1 398.2L138.3 398.4L136.5 398.5L134.7 398.9Z"/>
<path class="k32" d="M130.1 397.7L131.9 396.6L133.7 395.9L134.7 398.9L132.9 399.5L131 400.5Z"/>
<path class="k33" d="M128.2 399L130.1 397.7L131 400.5L129.2 401.7Z"/>
<path class="k35" d="M126.3 400.5L128.2 399L129.2 401.7L127.3 403.1Z"/>
<path class="k36" d="M124.5 402.1L126.3 400.5L127.3 403.1L125.4 404.6Z"/>
<path class="k38" d="M122.6 403.7L124.5 402.1L125.4 404.6L123.5 406.2Z"/>
<path class="k41" d="M120.7 405.4L122.6 403.7L123.5 406.2L121.6 407.8Z"/>
<path class="k44" d="M118.8 407L120.7 405.4L121.6 407.8L119.7 409.3Z"/>
<path class="k47" d="M116.9 408.7L118.8 407L119.7 409.3L117.8 410.9Z"/>
<path class="k49" d="M115 410.5L116.9 408.7L117.8 410.9L115.9 412.4Z"/>
<path class="k51" d="M113.1 412.1L115 410.5L115.9 412.4L114 413.9Z"/>
<path class="k52" d="M111.2 413.5L113.1 412.1L114 413.9L112.1 415.2Z"/>
<path class="k53" d="M107.3 416L109.3 414.8L111.2 413.5L112.1 415.2L110.2 416.3L108.3 417.3Z"/>
<path class="k54" d="M77.9 419.8L79.9 420.1L81.9 420.3L83.9 420.1L85.9 419.9L87.9 419.7L89.9 419.4L91.9 419.2L93.8 419L95.8 418.8L97.7 418.6L99.7 418.4L101.6 418.2L103.5 417.9L105.4 417L107.3 416L108.3 417.3L106.3 418.2L104.4 419L102.5 419L100.6 419.2L98.6 419.4L96.7 419.6L94.7 419.8L92.7 420.1L90.8 420.3L88.8 420.5L86.8 420.7L84.8 420.9L82.8 421.2L80.7 421L78.7 420.7Z"/>
<path class="k53" d="M71.7 418.8L73.8 419.1L75.8 419.5L77.9 419.8L78.7 420.7L76.6 420.4L74.6 420.1L72.5 419.8Z"/>
<path class="k48" d="M186.2 401.5L187.7 402.9L188.9 404.7L187.4 403.2Z"/>
<path class="k45" d="M184.7 400.1L186.2 401.5L187.4 403.2L185.9 401.8Z"/>
<path class="k42" d="M183.2 398.9L184.7 400.1L185.9 401.8L184.4 400.5Z"/>
<path class="k39" d="M181.7 397.8L183.2 398.9L184.4 400.5L182.9 399.3Z"/>
<path class="k37" d="M180.2 396.8L181.7 397.8L182.9 399.3L181.4 398.4Z"/>
<path class="k36" d="M178.6 396.1L180.2 396.8L181.4 398.4L179.8 397.6Z"/>
<path class="k35" d="M177.1 395.5L178.6 396.1L179.8 397.6L178.2 397.1Z"/>
<path class="k34" d="M173.9 394.8L175.5 395.1L177.1 395.5L178.2 397.1L176.7 396.7L175.1 396.4Z"/>
<path class="k33" d="M169 394.6L170.7 394.6L172.3 394.7L173.9 394.8L175.1 396.4L173.5 396.3L171.8 396.3L170.2 396.3Z"/>
<path class="k32" d="M160.8 395.6L162.4 395.3L164.1 395.1L165.8 394.9L167.4 394.7L169 394.6L170.2 396.3L168.6 396.4L166.9 396.5L165.2 396.7L163.6 397L161.9 397.2Z"/>
<path class="k33" d="M138.3 398.4L140.1 398.2L141.8 397.9L143.6 397.7L145.3 397.5L147.1 397.3L148.8 397.2L150.5 397.1L152.3 396.9L154 396.7L155.7 396.5L157.4 396.2L159.1 395.9L160.8 395.6L161.9 397.2L160.2 397.6L158.5 397.9L156.8 398.2L155.1 398.5L153.4 398.8L151.6 399.1L149.9 399.3L148.1 399.6L146.4 399.8L144.6 400.1L142.9 400.3L141.1 400.6L139.3 400.9Z"/>
<path class="k34" d="M132.9 399.5L134.7 398.9L136.5 398.5L138.3 398.4L139.3 400.9L137.5 401.2L135.7 401.6L133.9 402.2Z"/>
<path class="k35" d="M131 400.5L132.9 399.5L133.9 402.2L132 403.1Z"/>
<path class="k36" d="M129.2 401.7L131 400.5L132 403.1L130.2 404.2Z"/>
<path class="k37" d="M127.3 403.1L129.2 401.7L130.2 404.2L128.3 405.5Z"/>
<path class="k39" d="M125.4 404.6L127.3 403.1L128.3 405.5L126.4 406.9Z"/>
<path class="k41" d="M123.5 406.2L125.4 404.6L126.4 406.9L124.5 408.5Z"/>
<path class="k44" d="M121.6 407.8L123.5 406.2L124.5 408.5L122.6 410.1Z"/>
<path class="k47" d="M119.7 409.3L121.6 407.8L122.6 410.1L120.7 411.7Z"/>
<path class="k49" d="M117.8 410.9L119.7 409.3L120.7 411.7L118.8 413.1Z"/>
<path class="k51" d="M115.9 412.4L117.8 410.9L118.8 413.1L116.9 414.5Z"/>
<path class="k52" d="M114 413.9L115.9 412.4L116.9 414.5L115 415.8Z"/>
<path class="k53" d="M110.2 416.3L112.1 415.2L114 413.9L115 415.8L113 416.9L111.1 417.9Z"/>
<path class="k54" d="M78.7 420.7L80.7 421L82.8 421.2L84.8 420.9L86.8 420.7L88.8 420.5L90.8 420.3L92.7 420.1L94.7 419.8L96.7 419.6L98.6 419.4L100.6 419.2L102.5 419L104.4 419L106.3 418.2L108.3 417.3L110.2 416.3L111.1 417.9L109.2 418.7L107.3 419.5L105.3 420.1L103.4 419.8L101.5 420L99.5 420.2L97.6 420.5L95.6 420.7L93.6 420.9L91.6 421.1L89.6 421.4L87.6 421.6L85.6 421.8L83.6 422L81.5 421.9L79.5 421.6Z"/>
<path class="k53" d="M72.5 419.8L74.6 420.1L76.6 420.4L78.7 420.7L79.5 421.6L77.4 421.3L75.4 421L73.3 420.8Z"/>
<path class="k50" d="M187.4 403.2L188.9 404.7L190.2 406.5L188.7 404.9Z"/>
<path class="k47" d="M185.9 401.8L187.4 403.2L188.7 404.9L187.2 403.4Z"/>
<path class="k44" d="M184.4 400.5L185.9 401.8L187.2 403.4L185.7 402Z"/>
<path class="k41" d="M182.9 399.3L184.4 400.5L185.7 402L184.1 400.8Z"/>
<path class="k38" d="M181.4 398.4L182.9 399.3L184.1 400.8L182.6 399.8Z"/>
<path class="k37" d="M179.8 397.6L181.4 398.4L182.6 399.8L181 399.1Z"/>
<path class="k36" d="M178.2 397.1L179.8 397.6L181 399.1L179.5 398.5Z"/>
<path class="k35" d="M175.1 396.4L176.7 396.7L178.2 397.1L179.5 398.5L177.9 398.2L176.3 398Z"/>
<path class="k34" d="M168.6 396.4L170.2 396.3L171.8 396.3L173.5 396.3L175.1 396.4L176.3 398L174.6 397.9L173 397.9L171.4 397.9L169.7 398Z"/>
<path class="k33" d="M165.2 396.7L166.9 396.5L168.6 396.4L169.7 398L168.1 398.2L166.4 398.4Z"/>
<path class="k34" d="M155.1 398.5L156.8 398.2L158.5 397.9L160.2 397.6L161.9 397.2L163.6 397L165.2 396.7L166.4 398.4L164.7 398.6L163 398.9L161.3 399.3L159.6 399.6L157.9 400L156.2 400.4Z"/>
<path class="k35" d="M141.1 400.6L142.9 400.3L144.6 400.1L146.4 399.8L148.1 399.6L149.9 399.3L151.6 399.1L153.4 398.8L155.1 398.5L156.2 400.4L154.5 400.7L152.7 401.1L151 401.4L149.2 401.7L147.5 402L145.7 402.3L143.9 402.7L142.1 403Z"/>
<path class="k36" d="M133.9 402.2L135.7 401.6L137.5 401.2L139.3 400.9L141.1 400.6L142.1 403L140.3 403.3L138.5 403.7L136.7 404.2L134.9 404.7Z"/>
<path class="k37" d="M132 403.1L133.9 402.2L134.9 404.7L133 405.5Z"/>
<path class="k38" d="M130.2 404.2L132 403.1L133 405.5L131.2 406.5Z"/>
<path class="k40" d="M128.3 405.5L130.2 404.2L131.2 406.5L129.3 407.7Z"/>
<path class="k42" d="M126.4 406.9L128.3 405.5L129.3 407.7L127.4 409.1Z"/>
<path class="k45" d="M124.5 408.5L126.4 406.9L127.4 409.1L125.5 410.7Z"/>
<path class="k48" d="M122.6 410.1L124.5 408.5L125.5 410.7L123.6 412.4Z"/>
<path class="k49" d="M120.7 411.7L122.6 410.1L123.6 412.4L121.7 413.9Z"/>
<path class="k50" d="M118.8 413.1L120.7 411.7L121.7 413.9L119.8 415.3Z"/>
<path class="k52" d="M116.9 414.5L118.8 413.1L119.8 415.3L117.8 416.6Z"/>
<path class="k53" d="M113 416.9L115 415.8L116.9 414.5L117.8 416.6L115.9 417.7L114 418.6Z"/>
<path class="k54" d="M107.3 419.5L109.2 418.7L111.1 417.9L113 416.9L114 418.6L112.1 419.4L110.2 420.2L108.2 420.7Z"/>
<path class="k55" d="M103.4 419.8L105.3 420.1L107.3 419.5L108.2 420.7L106.3 421.2L104.4 420.6Z"/>
<path class="k54" d="M79.5 421.6L81.5 421.9L83.6 422L85.6 421.8L87.6 421.6L89.6 421.4L91.6 421.1L93.6 420.9L95.6 420.7L97.6 420.5L99.5 420.2L101.5 420L103.4 419.8L104.4 420.6L102.4 420.9L100.4 421.1L98.5 421.3L96.5 421.5L94.5 421.8L92.5 422L90.5 422.2L88.5 422.4L86.5 422.7L84.4 422.9L82.4 422.7L80.3 422.5Z"/>
<path class="k53" d="M73.3 420.8L75.4 421L77.4 421.3L79.5 421.6L80.3 422.5L78.2 422.2L76.2 422L74.1 421.7Z"/>
<path class="k51" d="M188.7 404.9L190.2 406.5L191.4 408.3L189.9 406.7Z"/>
<path class="k49" d="M187.2 403.4L188.7 404.9L189.9 406.7L188.4 405.1Z"/>
<path class="k46" d="M185.7 402L187.2 403.4L188.4 405.1L186.9 403.6Z"/>
<path class="k43" d="M184.1 400.8L185.7 402L186.9 403.6L185.4 402.3Z"/>
<path class="k40" d="M182.6 399.8L184.1 400.8L185.4 402.3L183.8 401.3Z"/>
<path class="k38" d="M181 399.1L182.6 399.8L183.8 401.3L182.3 400.5Z"/>
<path class="k37" d="M179.5 398.5L181 399.1L182.3 400.5L180.7 399.9Z"/>
<path class="k36" d="M176.3 398L177.9 398.2L179.5 398.5L180.7 399.9L179.1 399.6L177.5 399.4Z"/>
<path class="k35" d="M157.9 400L159.6 399.6L161.3 399.3L163 398.9L164.7 398.6L166.4 398.4L168.1 398.2L169.7 398L171.4 397.9L173 397.9L174.6 397.9L176.3 398L177.5 399.4L175.8 399.4L174.2 399.4L172.6 399.5L170.9 399.6L169.2 399.7L167.6 400L165.9 400.3L164.2 400.6L162.5 401L160.8 401.4L159 401.8Z"/>
<path class="k36" d="M151 401.4L152.7 401.1L154.5 400.7L156.2 400.4L157.9 400L159 401.8L157.3 402.3L155.6 402.7L153.8 403.1L152.1 403.5Z"/>
<path class="k37" d="M142.1 403L143.9 402.7L145.7 402.3L147.5 402L149.2 401.7L151 401.4L152.1 403.5L150.3 403.9L148.5 404.3L146.8 404.6L145 405L143.2 405.4Z"/>
<path class="k38" d="M136.7 404.2L138.5 403.7L140.3 403.3L142.1 403L143.2 405.4L141.4 405.8L139.6 406.2L137.7 406.7Z"/>
<path class="k39" d="M134.9 404.7L136.7 404.2L137.7 406.7L135.9 407.2Z"/>
<path class="k40" d="M133 405.5L134.9 404.7L135.9 407.2L134 407.9Z"/>
<path class="k41" d="M131.2 406.5L133 405.5L134 407.9L132.2 408.8Z"/>
<path class="k43" d="M129.3 407.7L131.2 406.5L132.2 408.8L130.3 409.9Z"/>
<path class="k45" d="M127.4 409.1L129.3 407.7L130.3 409.9L128.4 411.3Z"/>
<path class="k48" d="M125.5 410.7L127.4 409.1L128.4 411.3L126.5 412.8Z"/>
<path class="k49" d="M123.6 412.4L125.5 410.7L126.5 412.8L124.6 414.4Z"/>
<path class="k51" d="M121.7 413.9L123.6 412.4L124.6 414.4L122.7 416Z"/>
<path class="k52" d="M119.8 415.3L121.7 413.9L122.7 416L120.7 417.3Z"/>
<path class="k53" d="M115.9 417.7L117.8 416.6L119.8 415.3L120.7 417.3L118.8 418.5L116.9 419.5Z"/>
<path class="k54" d="M112.1 419.4L114 418.6L115.9 417.7L116.9 419.5L115 420.4L113 421Z"/>
<path class="k55" d="M104.4 420.6L106.3 421.2L108.2 420.7L110.2 420.2L112.1 419.4L113 421L111.1 421.6L109.2 422L107.2 422.3L105.3 421.5Z"/>
<path class="k54" d="M80.3 422.5L82.4 422.7L84.4 422.9L86.5 422.7L88.5 422.4L90.5 422.2L92.5 422L94.5 421.8L96.5 421.5L98.5 421.3L100.4 421.1L102.4 420.9L104.4 420.6L105.3 421.5L103.3 421.7L101.4 421.9L99.4 422.2L97.4 422.4L95.4 422.6L93.4 422.8L91.4 423.1L89.4 423.3L87.3 423.5L85.3 423.6L83.2 423.4L81.2 423.2Z"/>
<path class="k53" d="M74.1 421.7L76.2 422L78.2 422.2L80.3 422.5L81.2 423.2L79.1 423L77 422.8L74.9 422.6Z"/>
<path class="k52" d="M189.9 406.7L191.4 408.3L192.7 410.2L191.2 408.5Z"/>
<path class="k50" d="M188.4 405.1L189.9 406.7L191.2 408.5L189.7 406.8Z"/>
<path class="k48" d="M186.9 403.6L188.4 405.1L189.7 406.8L188.1 405.2Z"/>
<path class="k45" d="M185.4 402.3L186.9 403.6L188.1 405.2L186.6 403.8Z"/>
<path class="k42" d="M183.8 401.3L185.4 402.3L186.6 403.8L185.1 402.7Z"/>
<path class="k39" d="M182.3 400.5L183.8 401.3L185.1 402.7L183.5 401.9Z"/>
<path class="k38" d="M180.7 399.9L182.3 400.5L183.5 401.9L181.9 401.3Z"/>
<path class="k37" d="M179.1 399.6L180.7 399.9L181.9 401.3L180.3 400.9Z"/>
<path class="k36" d="M160.8 401.4L162.5 401L164.2 400.6L165.9 400.3L167.6 400L169.2 399.7L170.9 399.6L172.6 399.5L174.2 399.4L175.8 399.4L177.5 399.4L179.1 399.6L180.3 400.9L178.7 400.7L177.1 400.7L175.4 400.8L173.8 400.9L172.1 401.1L170.4 401.3L168.8 401.6L167.1 401.9L165.4 402.3L163.6 402.8L161.9 403.2Z"/>
<path class="k37" d="M155.6 402.7L157.3 402.3L159 401.8L160.8 401.4L161.9 403.2L160.2 403.7L158.4 404.2L156.7 404.7Z"/>
<path class="k38" d="M150.3 403.9L152.1 403.5L153.8 403.1L155.6 402.7L156.7 404.7L154.9 405.2L153.2 405.7L151.4 406.1Z"/>
<path class="k39" d="M146.8 404.6L148.5 404.3L150.3 403.9L151.4 406.1L149.6 406.6L147.8 407.1Z"/>
<path class="k40" d="M143.2 405.4L145 405L146.8 404.6L147.8 407.1L146 407.5L144.2 408Z"/>
<path class="k41" d="M139.6 406.2L141.4 405.8L143.2 405.4L144.2 408L142.4 408.5L140.6 408.9Z"/>
<path class="k42" d="M135.9 407.2L137.7 406.7L139.6 406.2L140.6 408.9L138.8 409.4L136.9 409.9Z"/>
<path class="k43" d="M134 407.9L135.9 407.2L136.9 409.9L135.1 410.5Z"/>
<path class="k44" d="M132.2 408.8L134 407.9L135.1 410.5L133.2 411.3Z"/>
<path class="k46" d="M130.3 409.9L132.2 408.8L133.2 411.3L131.3 412.3Z"/>
<path class="k48" d="M128.4 411.3L130.3 409.9L131.3 412.3L129.4 413.6Z"/>
<path class="k49" d="M126.5 412.8L128.4 411.3L129.4 413.6L127.5 415Z"/>
<path class="k50" d="M124.6 414.4L126.5 412.8L127.5 415L125.6 416.5Z"/>
<path class="k52" d="M122.7 416L124.6 414.4L125.6 416.5L123.6 418Z"/>
<path class="k53" d="M120.7 417.3L122.7 416L123.6 418L121.7 419.4Z"/>
<path class="k54" d="M116.9 419.5L118.8 418.5L120.7 417.3L121.7 419.4L119.8 420.6L117.9 421.5Z"/>
<path class="k55" d="M105.3 421.5L107.2 422.3L109.2 422L111.1 421.6L113 421L115 420.4L116.9 419.5L117.9 421.5L115.9 422.2L114 422.7L112.1 423L110.1 423.2L108.2 423.4L106.3 422.3Z"/>
<path class="k54" d="M83.2 423.4L85.3 423.6L87.3 423.5L89.4 423.3L91.4 423.1L93.4 422.8L95.4 422.6L97.4 422.4L99.4 422.2L101.4 421.9L103.3 421.7L105.3 421.5L106.3 422.3L104.3 422.6L102.3 422.8L100.3 423L98.3 423.3L96.3 423.5L94.3 423.7L92.3 424L90.2 424.2L88.2 424.2L86.1 424.1L84.1 424Z"/>
<path class="k53" d="M74.9 422.6L77 422.8L79.1 423L81.2 423.2L83.2 423.4L84.1 424L82 423.9L79.9 423.8L77.8 423.6L75.7 423.4Z"/>
<path class="k53" d="M191.2 408.5L192.7 410.2L193.9 412.1L192.4 410.3Z"/>
<path class="k51" d="M189.7 406.8L191.2 408.5L192.4 410.3L190.9 408.4Z"/>
<path class="k49" d="M188.1 405.2L189.7 406.8L190.9 408.4L189.4 406.7Z"/>
<path class="k46" d="M186.6 403.8L188.1 405.2L189.4 406.7L187.9 405.3Z"/>
<path class="k43" d="M185.1 402.7L186.6 403.8L187.9 405.3L186.3 404.1Z"/>
<path class="k41" d="M183.5 401.9L185.1 402.7L186.3 404.1L184.8 403.2Z"/>
<path class="k39" d="M181.9 401.3L183.5 401.9L184.8 403.2L183.2 402.5Z"/>
<path class="k38" d="M180.3 400.9L181.9 401.3L183.2 402.5L181.6 402.2Z"/>
<path class="k37" d="M175.4 400.8L177.1 400.7L178.7 400.7L180.3 400.9L181.6 402.2L179.9 402L178.3 402L176.7 402.1Z"/>
<path class="k36" d="M172.1 401.1L173.8 400.9L175.4 400.8L176.7 402.1L175 402.3L173.3 402.5Z"/>
<path class="k37" d="M163.6 402.8L165.4 402.3L167.1 401.9L168.8 401.6L170.4 401.3L172.1 401.1L173.3 402.5L171.6 402.8L169.9 403.2L168.2 403.6L166.5 404L164.8 404.6Z"/>
<path class="k38" d="M160.2 403.7L161.9 403.2L163.6 402.8L164.8 404.6L163.1 405.1L161.3 405.6Z"/>
<path class="k39" d="M156.7 404.7L158.4 404.2L160.2 403.7L161.3 405.6L159.6 406.2L157.8 406.8Z"/>
<path class="k40" d="M154.9 405.2L156.7 404.7L157.8 406.8L156 407.3Z"/>
<path class="k41" d="M153.2 405.7L154.9 405.2L156 407.3L154.3 407.9Z"/>
<path class="k42" d="M149.6 406.6L151.4 406.1L153.2 405.7L154.3 407.9L152.5 408.5L150.7 409Z"/>
<path class="k43" d="M147.8 407.1L149.6 406.6L150.7 409L148.9 409.6Z"/>
<path class="k44" d="M144.2 408L146 407.5L147.8 407.1L148.9 409.6L147.1 410.2L145.3 410.8Z"/>
<path class="k45" d="M142.4 408.5L144.2 408L145.3 410.8L143.4 411.3Z"/>
<path class="k46" d="M138.8 409.4L140.6 408.9L142.4 408.5L143.4 411.3L141.6 411.8L139.8 412.4Z"/>
<path class="k47" d="M136.9 409.9L138.8 409.4L139.8 412.4L137.9 412.9Z"/>
<path class="k48" d="M133.2 411.3L135.1 410.5L136.9 409.9L137.9 412.9L136.1 413.6L134.2 414.4Z"/>
<path class="k49" d="M131.3 412.3L133.2 411.3L134.2 414.4L132.3 415.3Z"/>
<path class="k50" d="M129.4 413.6L131.3 412.3L132.3 415.3L130.4 416.5Z"/>
<path class="k51" d="M127.5 415L129.4 413.6L130.4 416.5L128.5 417.8Z"/>
<path class="k52" d="M125.6 416.5L127.5 415L128.5 417.8L126.6 419.2Z"/>
<path class="k53" d="M123.6 418L125.6 416.5L126.6 419.2L124.6 420.5Z"/>
<path class="k54" d="M121.7 419.4L123.6 418L124.6 420.5L122.7 421.8Z"/>
<path class="k55" d="M117.9 421.5L119.8 420.6L121.7 419.4L122.7 421.8L120.8 422.9L118.8 423.7Z"/>
<path class="k56" d="M108.2 423.4L110.1 423.2L112.1 423L114 422.7L115.9 422.2L117.9 421.5L118.8 423.7L116.9 424.1L115 424.3L113.1 424.4L111.1 424.4L109.2 424.3Z"/>
<path class="k55" d="M106.3 422.3L108.2 423.4L109.2 424.3L107.2 423.2Z"/>
<path class="k54" d="M86.1 424.1L88.2 424.2L90.2 424.2L92.3 424L94.3 423.7L96.3 423.5L98.3 423.3L100.3 423L102.3 422.8L104.3 422.6L106.3 422.3L107.2 423.2L105.2 423.4L103.3 423.7L101.3 423.9L99.3 424.1L97.2 424.4L95.2 424.5L93.2 424.6L91.1 424.7L89.1 424.7L87 424.7Z"/>
<path class="k53" d="M75.7 423.4L77.8 423.6L79.9 423.8L82 423.9L84.1 424L86.1 424.1L87 424.7L84.9 424.6L82.8 424.6L80.7 424.5L78.6 424.4L76.5 424.3Z"/>
<path class="k53" d="M192.4 410.3L193.9 412.1L195.2 414L193.7 412.1Z"/>
<path class="k52" d="M190.9 408.4L192.4 410.3L193.7 412.1L192.2 410.2Z"/>
<path class="k50" d="M189.4 406.7L190.9 408.4L192.2 410.2L190.7 408.3Z"/>
<path class="k48" d="M187.9 405.3L189.4 406.7L190.7 408.3L189.2 406.7Z"/>
<path class="k45" d="M186.3 404.1L187.9 405.3L189.2 406.7L187.6 405.4Z"/>
<path class="k42" d="M184.8 403.2L186.3 404.1L187.6 405.4L186 404.4Z"/>
<path class="k40" d="M183.2 402.5L184.8 403.2L186 404.4L184.5 403.8Z"/>
<path class="k38" d="M179.9 402L181.6 402.2L183.2 402.5L184.5 403.8L182.8 403.4L181.2 403.3Z"/>
<path class="k37" d="M171.6 402.8L173.3 402.5L175 402.3L176.7 402.1L178.3 402L179.9 402L181.2 403.3L179.6 403.3L177.9 403.5L176.2 403.7L174.5 404L172.9 404.4Z"/>
<path class="k38" d="M166.5 404L168.2 403.6L169.9 403.2L171.6 402.8L172.9 404.4L171.2 404.8L169.4 405.3L167.7 405.8Z"/>
<path class="k39" d="M164.8 404.6L166.5 404L167.7 405.8L166 406.4Z"/>
<path class="k40" d="M163.1 405.1L164.8 404.6L166 406.4L164.2 407Z"/>
<path class="k41" d="M159.6 406.2L161.3 405.6L163.1 405.1L164.2 407L162.5 407.6L160.7 408.2Z"/>
<path class="k42" d="M157.8 406.8L159.6 406.2L160.7 408.2L158.9 408.9Z"/>
<path class="k43" d="M156 407.3L157.8 406.8L158.9 408.9L157.2 409.5Z"/>
<path class="k44" d="M154.3 407.9L156 407.3L157.2 409.5L155.4 410.2Z"/>
<path class="k45" d="M152.5 408.5L154.3 407.9L155.4 410.2L153.6 410.8Z"/>
<path class="k46" d="M150.7 409L152.5 408.5L153.6 410.8L151.8 411.5Z"/>
<path class="k47" d="M148.9 409.6L150.7 409L151.8 411.5L150 412.2Z"/>
<path class="k48" d="M145.3 410.8L147.1 410.2L148.9 409.6L150 412.2L148.1 412.9L146.3 413.6Z"/>
<path class="k49" d="M139.8 412.4L141.6 411.8L143.4 411.3L145.3 410.8L146.3 413.6L144.5 414.2L142.6 414.9L140.8 415.5Z"/>
<path class="k50" d="M136.1 413.6L137.9 412.9L139.8 412.4L140.8 415.5L138.9 416.1L137.1 416.8Z"/>
<path class="k51" d="M132.3 415.3L134.2 414.4L136.1 413.6L137.1 416.8L135.2 417.6L133.3 418.5Z"/>
<path class="k52" d="M130.4 416.5L132.3 415.3L133.3 418.5L131.4 419.6Z"/>
<path class="k53" d="M128.5 417.8L130.4 416.5L131.4 419.6L129.5 420.8Z"/>
<path class="k54" d="M124.6 420.5L126.6 419.2L128.5 417.8L129.5 420.8L127.5 422.1L125.6 423.4Z"/>
<path class="k55" d="M122.7 421.8L124.6 420.5L125.6 423.4L123.7 424.6Z"/>
<path class="k56" d="M120.8 422.9L122.7 421.8L123.7 424.6L121.7 425.5Z"/>
<path class="k57" d="M115 424.3L116.9 424.1L118.8 423.7L120.8 422.9L121.7 425.5L119.8 425.9L117.9 426L116 425.9Z"/>
<path class="k56" d="M109.2 424.3L111.1 424.4L113.1 424.4L115 424.3L116 425.9L114 425.7L112.1 425.4L110.1 425.2Z"/>
<path class="k55" d="M107.2 423.2L109.2 424.3L110.1 425.2L108.2 424.1Z"/>
<path class="k54" d="M89.1 424.7L91.1 424.7L93.2 424.6L95.2 424.5L97.2 424.4L99.3 424.1L101.3 423.9L103.3 423.7L105.2 423.4L107.2 423.2L108.2 424.1L106.2 424.3L104.2 424.6L102.2 424.7L100.2 424.7L98.2 424.8L96.1 424.9L94.1 425L92 425.1L90 425.1Z"/>
<path class="k53" d="M76.5 424.3L78.6 424.4L80.7 424.5L82.8 424.6L84.9 424.6L87 424.7L89.1 424.7L90 425.1L87.9 425.1L85.8 425.1L83.7 425.1L81.6 425.1L79.5 425.1L77.3 425.1Z"/>
<path class="k54" d="M193.7 412.1L195.2 414L196.5 415.9L195 414Z"/>
<path class="k53" d="M192.2 410.2L193.7 412.1L195 414L193.5 411.9Z"/>
<path class="k51" d="M190.7 408.3L192.2 410.2L193.5 411.9L192 409.9Z"/>
<path class="k49" d="M189.2 406.7L190.7 408.3L192 409.9L190.4 408.2Z"/>
<path class="k46" d="M187.6 405.4L189.2 406.7L190.4 408.2L188.9 406.8Z"/>
<path class="k43" d="M186 404.4L187.6 405.4L188.9 406.8L187.3 405.7Z"/>
<path class="k41" d="M184.5 403.8L186 404.4L187.3 405.7L185.7 405.1Z"/>
<path class="k40" d="M182.8 403.4L184.5 403.8L185.7 405.1L184.1 404.8Z"/>
<path class="k39" d="M181.2 403.3L182.8 403.4L184.1 404.8L182.5 404.7Z"/>
<path class="k38" d="M174.5 404L176.2 403.7L177.9 403.5L179.6 403.3L181.2 403.3L182.5 404.7L180.8 404.8L179.1 405L177.5 405.3L175.8 405.6Z"/>
<path class="k39" d="M171.2 404.8L172.9 404.4L174.5 404L175.8 405.6L174.1 406L172.4 406.5Z"/>
<path class="k40" d="M169.4 405.3L171.2 404.8L172.4 406.5L170.6 407.1Z"/>
<path class="k41" d="M166 406.4L167.7 405.8L169.4 405.3L170.6 407.1L168.9 407.7L167.2 408.3Z"/>
<path class="k42" d="M164.2 407L166 406.4L167.2 408.3L165.4 409Z"/>
<path class="k43" d="M162.5 407.6L164.2 407L165.4 409L163.6 409.6Z"/>
<path class="k44" d="M160.7 408.2L162.5 407.6L163.6 409.6L161.9 410.3Z"/>
<path class="k45" d="M158.9 408.9L160.7 408.2L161.9 410.3L160.1 411Z"/>
<path class="k46" d="M157.2 409.5L158.9 408.9L160.1 411L158.3 411.7Z"/>
<path class="k47" d="M155.4 410.2L157.2 409.5L158.3 411.7L156.5 412.5Z"/>
<path class="k48" d="M153.6 410.8L155.4 410.2L156.5 412.5L154.7 413.2Z"/>
<path class="k49" d="M150 412.2L151.8 411.5L153.6 410.8L154.7 413.2L152.9 414L151.1 414.9Z"/>
<path class="k50" d="M146.3 413.6L148.1 412.9L150 412.2L151.1 414.9L149.2 415.7L147.4 416.5Z"/>
<path class="k51" d="M140.8 415.5L142.6 414.9L144.5 414.2L146.3 413.6L147.4 416.5L145.5 417.2L143.7 417.9L141.8 418.6Z"/>
<path class="k52" d="M137.1 416.8L138.9 416.1L140.8 415.5L141.8 418.6L140 419.3L138.1 420.1Z"/>
<path class="k53" d="M133.3 418.5L135.2 417.6L137.1 416.8L138.1 420.1L136.2 420.8L134.3 421.7Z"/>
<path class="k54" d="M129.5 420.8L131.4 419.6L133.3 418.5L134.3 421.7L132.4 422.6L130.5 423.8Z"/>
<path class="k55" d="M127.5 422.1L129.5 420.8L130.5 423.8L128.5 425Z"/>
<path class="k56" d="M125.6 423.4L127.5 422.1L128.5 425L126.6 426.2Z"/>
<path class="k57" d="M123.7 424.6L125.6 423.4L126.6 426.2L124.7 427.3Z"/>
<path class="k58" d="M117.9 426L119.8 425.9L121.7 425.5L123.7 424.6L124.7 427.3L122.7 427.9L120.8 428L118.9 427.8Z"/>
<path class="k57" d="M114 425.7L116 425.9L117.9 426L118.9 427.8L117 427.4L115 426.9Z"/>
<path class="k56" d="M110.1 425.2L112.1 425.4L114 425.7L115 426.9L113.1 426.4L111.1 426Z"/>
<path class="k55" d="M108.2 424.1L110.1 425.2L111.1 426L109.2 425Z"/>
<path class="k54" d="M98.2 424.8L100.2 424.7L102.2 424.7L104.2 424.6L106.2 424.3L108.2 424.1L109.2 425L107.2 425.2L105.2 425.1L103.2 424.9L101.2 424.9L99.1 425Z"/>
<path class="k53" d="M77.3 425.1L79.5 425.1L81.6 425.1L83.7 425.1L85.8 425.1L87.9 425.1L90 425.1L92 425.1L94.1 425L96.1 424.9L98.2 424.8L99.1 425L97.1 425.1L95 425.2L93 425.4L90.9 425.5L88.8 425.6L86.7 425.6L84.6 425.7L82.5 425.8L80.3 425.9L78.2 425.9Z"/>
<path class="k55" d="M195 414L196.5 415.9L197.8 417.6L196.3 415.7Z"/>
<path class="k53" d="M193.5 411.9L195 414L196.3 415.7L194.8 413.5Z"/>
<path class="k52" d="M192 409.9L193.5 411.9L194.8 413.5L193.3 411.5Z"/>
<path class="k50" d="M190.4 408.2L192 409.9L193.3 411.5L191.7 409.8Z"/>
<path class="k48" d="M188.9 406.8L190.4 408.2L191.7 409.8L190.2 408.4Z"/>
<path class="k45" d="M187.3 405.7L188.9 406.8L190.2 408.4L188.6 407.3Z"/>
<path class="k42" d="M185.7 405.1L187.3 405.7L188.6 407.3L187 406.7Z"/>
<path class="k41" d="M184.1 404.8L185.7 405.1L187 406.7L185.4 406.4Z"/>
<path class="k40" d="M175.8 405.6L177.5 405.3L179.1 405L180.8 404.8L182.5 404.7L184.1 404.8L185.4 406.4L183.7 406.4L182.1 406.6L180.4 406.8L178.7 407L177 407.4Z"/>
<path class="k41" d="M172.4 406.5L174.1 406L175.8 405.6L177 407.4L175.3 407.8L173.6 408.3Z"/>
<path class="k42" d="M170.6 407.1L172.4 406.5L173.6 408.3L171.8 408.9Z"/>
<path class="k43" d="M168.9 407.7L170.6 407.1L171.8 408.9L170.1 409.6Z"/>
<path class="k44" d="M167.2 408.3L168.9 407.7L170.1 409.6L168.3 410.3Z"/>
<path class="k45" d="M165.4 409L167.2 408.3L168.3 410.3L166.6 411Z"/>
<path class="k46" d="M163.6 409.6L165.4 409L166.6 411L164.8 411.7Z"/>
<path class="k47" d="M161.9 410.3L163.6 409.6L164.8 411.7L163 412.4Z"/>
<path class="k48" d="M160.1 411L161.9 410.3L163 412.4L161.2 413.2Z"/>
<path class="k49" d="M156.5 412.5L158.3 411.7L160.1 411L161.2 413.2L159.4 413.9L157.6 414.7Z"/>
<path class="k50" d="M152.9 414L154.7 413.2L156.5 412.5L157.6 414.7L155.8 415.6L154 416.5Z"/>
<path class="k51" d="M149.2 415.7L151.1 414.9L152.9 414L154 416.5L152.2 417.4L150.3 418.3Z"/>
<path class="k52" d="M145.5 417.2L147.4 416.5L149.2 415.7L150.3 418.3L148.5 419.2L146.6 420Z"/>
<path class="k53" d="M141.8 418.6L143.7 417.9L145.5 417.2L146.6 420L144.7 420.8L142.9 421.5Z"/>
<path class="k54" d="M136.2 420.8L138.1 420.1L140 419.3L141.8 418.6L142.9 421.5L141 422.3L139.1 423.1L137.2 423.8Z"/>
<path class="k55" d="M132.4 422.6L134.3 421.7L136.2 420.8L137.2 423.8L135.3 424.6L133.4 425.4Z"/>
<path class="k56" d="M130.5 423.8L132.4 422.6L133.4 425.4L131.5 426.3Z"/>
<path class="k57" d="M128.5 425L130.5 423.8L131.5 426.3L129.6 427.6Z"/>
<path class="k58" d="M126.6 426.2L128.5 425L129.6 427.6L127.6 428.7Z"/>
<path class="k59" d="M118.9 427.8L120.8 428L122.7 427.9L124.7 427.3L126.6 426.2L127.6 428.7L125.7 429.5L123.8 429.9L121.8 429.8L119.9 429.3Z"/>
<path class="k58" d="M117 427.4L118.9 427.8L119.9 429.3L118 428.7Z"/>
<path class="k57" d="M113.1 426.4L115 426.9L117 427.4L118 428.7L116.1 428L114.1 427.4Z"/>
<path class="k56" d="M111.1 426L113.1 426.4L114.1 427.4L112.2 426.9Z"/>
<path class="k55" d="M109.2 425L111.1 426L112.2 426.9L110.2 425.9Z"/>
<path class="k54" d="M103.2 424.9L105.2 425.1L107.2 425.2L109.2 425L110.2 425.9L108.2 426L106.2 425.6L104.2 425.4Z"/>
<path class="k53" d="M78.2 425.9L80.3 425.9L82.5 425.8L84.6 425.7L86.7 425.6L88.8 425.6L90.9 425.5L93 425.4L95 425.2L97.1 425.1L99.1 425L101.2 424.9L103.2 424.9L104.2 425.4L102.1 425.3L100.1 425.3L98 425.4L96 425.6L93.9 425.7L91.8 425.8L89.7 426L87.6 426.2L85.5 426.4L83.3 426.5L81.2 426.6L79 426.7Z"/>
</g>
<path d="M47.6 339.2L50.8 443.7L79.5 486.2L195.3 469.2" fill="none" stroke="#666" stroke-width="0.6"/>
<path d="M50.5 434.3h-2" stroke="#666" stroke-width="0.5"/>
<text x="47.5" y="436.2" font-size="5.9" font-weight="bold" text-anchor="end">1000</text>
<path d="M50.2 423.8h-2" stroke="#666" stroke-width="0.5"/>
<text x="47.2" y="425.7" font-size="5.9" font-weight="bold" text-anchor="end">2000</text>
<path d="M49.8 413.2h-2" stroke="#666" stroke-width="0.5"/>
<text x="46.8" y="415.1" font-size="5.9" font-weight="bold" text-anchor="end">3000</text>
<path d="M49.5 402.6h-2" stroke="#666" stroke-width="0.5"/>
<text x="46.5" y="404.5" font-size="5.9" font-weight="bold" text-anchor="end">4000</text>
<path d="M49.2 392.1h-2" stroke="#666" stroke-width="0.5"/>
<text x="46.2" y="393.9" font-size="5.9" font-weight="bold" text-anchor="end">5000</text>
<path d="M48.9 381.5h-2" stroke="#666" stroke-width="0.5"/>
<text x="45.9" y="383.4" font-size="5.9" font-weight="bold" text-anchor="end">6000</text>
<path d="M48.6 370.9h-2" stroke="#666" stroke-width="0.5"/>
<text x="45.6" y="372.8" font-size="5.9" font-weight="bold" text-anchor="end">7000</text>
<path d="M48.2 360.3h-2" stroke="#666" stroke-width="0.5"/>
<text x="45.2" y="362.2" font-size="5.9" font-weight="bold" text-anchor="end">8000</text>
<path d="M47.9 349.8h-2" stroke="#666" stroke-width="0.5"/>
<text x="44.9" y="351.7" font-size="5.9" font-weight="bold" text-anchor="end">9000</text>
<path d="M47.6 339.2h-2" stroke="#666" stroke-width="0.5"/>
<text x="44.6" y="341.1" font-size="5.9" font-weight="bold" text-anchor="end">10,000</text>
<text transform="translate(21.5,395) rotate(90)" font-size="6.6" font-weight="bold" text-anchor="middle">Grain Size (μm)</text>
<text transform="translate(94.8,489.4) rotate(-9)" font-size="5" font-weight="bold" text-anchor="middle">20</text>
<text transform="translate(117,486.1) rotate(-9)" font-size="5" font-weight="bold" text-anchor="middle">40</text>
<text transform="translate(138.5,482.9) rotate(-9)" font-size="5" font-weight="bold" text-anchor="middle">60</text>
<text transform="translate(160.3,480.0) rotate(-9)" font-size="5" font-weight="bold" text-anchor="middle">80</text>
<text transform="translate(180.8,476.3) rotate(-9)" font-size="5" font-weight="bold" text-anchor="middle">100</text>
<text transform="translate(147.2,490.2) rotate(-8.5)" font-size="7.4" font-weight="bold" text-anchor="middle">Depth (cm)</text>
<text x="45.8" y="444.5" font-size="3.6" font-weight="bold" text-anchor="middle" fill="#333">1</text>
<text x="50.8" y="451.0" font-size="3.6" font-weight="bold" text-anchor="middle" fill="#333">2</text>
<text x="55.1" y="458.5" font-size="3.6" font-weight="bold" text-anchor="middle" fill="#333">3</text>
<text x="59.5" y="465.7" font-size="3.6" font-weight="bold" text-anchor="middle" fill="#333">4</text>
<text x="64.5" y="472.3" font-size="3.6" font-weight="bold" text-anchor="middle" fill="#333">5</text>
<text x="69.3" y="479.8" font-size="3.6" font-weight="bold" text-anchor="middle" fill="#333">6</text>
<text x="74.8" y="488.1" font-size="3.6" font-weight="bold" text-anchor="middle" fill="#333">7</text>
<text x="52.5" y="465" font-size="4.4" font-weight="bold" text-anchor="middle" fill="#222">IC</text>
<defs><linearGradient id="cb" x1="0" y1="0" x2="0" y2="1"><stop offset="0.0" stop-color="#6a1010"/><stop offset="0.1" stop-color="#b41010"/><stop offset="0.2" stop-color="#e81010"/><stop offset="0.3" stop-color="#ff1800"/><stop offset="0.37" stop-color="#ff5000"/><stop offset="0.41" stop-color="#ff9800"/><stop offset="0.49" stop-color="#ffee00"/><stop offset="0.59" stop-color="#90ee00"/><stop offset="0.67" stop-color="#00e040"/><stop offset="0.74" stop-color="#00e0a8"/><stop offset="0.79" stop-color="#00c8ff"/><stop offset="0.84" stop-color="#0060ff"/><stop offset="0.89" stop-color="#4020f0"/><stop offset="0.94" stop-color="#8000c0"/><stop offset="1.0" stop-color="#500050"/></linearGradient></defs>
<rect x="206.3" y="340.7" width="7.8" height="106.2" fill="url(#cb)" stroke="#888" stroke-width="0.3"/>
<path d="M214.1 340.6h1.4" stroke="#333" stroke-width="0.4"/>
<text x="216.3" y="342.2" font-size="4.6" font-weight="bold">9400</text>
<path d="M214.1 351.1h1.4" stroke="#333" stroke-width="0.4"/>
<text x="216.3" y="352.7" font-size="4.6" font-weight="bold">8828</text>
<path d="M214.1 361.7h1.4" stroke="#333" stroke-width="0.4"/>
<text x="216.3" y="363.3" font-size="4.6" font-weight="bold">8256</text>
<path d="M214.1 372.2h1.4" stroke="#333" stroke-width="0.4"/>
<text x="216.3" y="373.8" font-size="4.6" font-weight="bold">7684</text>
<path d="M214.1 382.7h1.4" stroke="#333" stroke-width="0.4"/>
<text x="216.3" y="384.3" font-size="4.6" font-weight="bold">7112</text>
<path d="M214.1 393.2h1.4" stroke="#333" stroke-width="0.4"/>
<text x="216.3" y="394.9" font-size="4.6" font-weight="bold">6540</text>
<path d="M214.1 403.8h1.4" stroke="#333" stroke-width="0.4"/>
<text x="216.3" y="405.4" font-size="4.6" font-weight="bold">5968</text>
<path d="M214.1 414.3h1.4" stroke="#333" stroke-width="0.4"/>
<text x="216.3" y="415.9" font-size="4.6" font-weight="bold">5396</text>
<path d="M214.1 424.8h1.4" stroke="#333" stroke-width="0.4"/>
<text x="216.3" y="426.4" font-size="4.6" font-weight="bold">4824</text>
<path d="M214.1 435.4h1.4" stroke="#333" stroke-width="0.4"/>
<text x="216.3" y="437.0" font-size="4.6" font-weight="bold">4252</text>
<path d="M214.1 445.9h1.4" stroke="#333" stroke-width="0.4"/>
<text x="216.3" y="447.5" font-size="4.6" font-weight="bold">3680</text>
<text x="209.8" y="336" font-size="7.3" font-weight="bold" text-anchor="middle">Grain Size</text>
<text x="8" y="355.5" font-size="20.5" font-weight="bold">(c)</text></g>
<g id="pd"><path d="M269.3 20.4v4.6M288.6 20.4v2.6M307.9 20.4v4.6M327.2 20.4v2.6M346.5 20.4v4.6M365.8 20.4v2.6M385.1 20.4v4.6M404.4 20.4v2.6M423.7 20.4v4.6M443.0 20.4v2.6M462.3 20.4v4.6M481.6 20.4v2.6M500.9 20.4v4.6" stroke="#000" stroke-width="1"/>
<rect x="253.9" y="42.2" width="30.8" height="33.3" fill="#fe0000" stroke="#222" stroke-width="0.6"/>
<rect x="292.5" y="46.0" width="30.8" height="29.5" fill="#fe0000" stroke="#222" stroke-width="0.6"/>
<rect x="331.1" y="48.0" width="30.8" height="27.5" fill="#fe0000" stroke="#222" stroke-width="0.6"/>
<rect x="369.7" y="52.7" width="30.8" height="22.8" fill="#fe0000" stroke="#222" stroke-width="0.6"/>
<rect x="408.3" y="59.1" width="30.8" height="16.4" fill="#fe0000" stroke="#222" stroke-width="0.6"/>
<rect x="446.9" y="61.7" width="30.8" height="13.8" fill="#fe0000" stroke="#222" stroke-width="0.6"/>
<rect x="485.5" y="62.8" width="30.8" height="12.8" fill="#fe0000" stroke="#222" stroke-width="0.6"/>
<path d="M250.2 23.3h4.2M520.6 23.3h-4.2" stroke="#000" stroke-width="1"/>
<path d="M250.2 29.9h2.4M520.6 29.9h-2.4" stroke="#000" stroke-width="1"/>
<path d="M250.2 36.4h4.2M520.6 36.4h-4.2" stroke="#000" stroke-width="1"/>
<path d="M250.2 43.0h2.4M520.6 43.0h-2.4" stroke="#000" stroke-width="1"/>
<path d="M250.2 49.5h4.2M520.6 49.5h-4.2" stroke="#000" stroke-width="1"/>
<path d="M250.2 55.9h2.4M520.6 55.9h-2.4" stroke="#000" stroke-width="1"/>
<path d="M250.2 62.3h4.2M520.6 62.3h-4.2" stroke="#000" stroke-width="1"/>
<path d="M250.2 68.8h2.4M520.6 68.8h-2.4" stroke="#000" stroke-width="1"/>
<path d="M288.6 75.5v-2.2M327.2 75.5v-2.2M365.8 75.5v-2.2M404.4 75.5v-2.2M443.0 75.5v-2.2M481.6 75.5v-2.2" stroke="#000" stroke-width="0.9"/>
<rect x="250.2" y="21.3" width="124.6" height="17.4" fill="#fff" stroke="#555" stroke-width="0.5"/>
<rect x="251.6" y="23.8" width="27" height="12.5" fill="#fe0000" stroke="#222" stroke-width="0.7"/>
<text x="282" y="34.5" font-size="12.2" font-weight="bold">Grain Size (mm<tspan dy="-4" font-size="8">2</tspan><tspan dy="4">)</tspan></text>
<text x="245.8" y="27.6" font-size="12" font-weight="bold" text-anchor="end">80</text>
<text x="245.8" y="40.7" font-size="12" font-weight="bold" text-anchor="end">60</text>
<text x="245.8" y="53.8" font-size="12" font-weight="bold" text-anchor="end">40</text>
<text x="245.8" y="66.6" font-size="12" font-weight="bold" text-anchor="end">20</text>
<text x="245.8" y="79.7" font-size="12" font-weight="bold" text-anchor="end">0</text>
<rect x="253.9" y="97.1" width="30.8" height="33.6" fill="#32629f" stroke="#222" stroke-width="0.6"/>
<rect x="292.5" y="107.3" width="30.8" height="23.4" fill="#32629f" stroke="#222" stroke-width="0.6"/>
<rect x="331.1" y="99.2" width="30.8" height="31.5" fill="#32629f" stroke="#222" stroke-width="0.6"/>
<rect x="369.7" y="102.1" width="30.8" height="28.6" fill="#32629f" stroke="#222" stroke-width="0.6"/>
<rect x="408.3" y="98.9" width="30.8" height="31.8" fill="#32629f" stroke="#222" stroke-width="0.6"/>
<rect x="446.9" y="100.1" width="30.8" height="30.6" fill="#32629f" stroke="#222" stroke-width="0.6"/>
<rect x="485.5" y="94.8" width="30.8" height="35.9" fill="#32629f" stroke="#222" stroke-width="0.6"/>
<path d="M250.2 81.3h2.4M520.6 81.3h-2.4" stroke="#000" stroke-width="1"/>
<path d="M250.2 86.7h4.2M520.6 86.7h-4.2" stroke="#000" stroke-width="1"/>
<path d="M250.2 92.2h2.4M520.6 92.2h-2.4" stroke="#000" stroke-width="1"/>
<path d="M250.2 97.7h4.2M520.6 97.7h-4.2" stroke="#000" stroke-width="1"/>
<path d="M250.2 103.1h2.4M520.6 103.1h-2.4" stroke="#000" stroke-width="1"/>
<path d="M250.2 108.5h4.2M520.6 108.5h-4.2" stroke="#000" stroke-width="1"/>
<path d="M250.2 114.0h2.4M520.6 114.0h-2.4" stroke="#000" stroke-width="1"/>
<path d="M250.2 119.6h4.2M520.6 119.6h-4.2" stroke="#000" stroke-width="1"/>
<path d="M250.2 125.1h2.4M520.6 125.1h-2.4" stroke="#000" stroke-width="1"/>
<path d="M288.6 130.7v-2.2M327.2 130.7v-2.2M365.8 130.7v-2.2M404.4 130.7v-2.2M443.0 130.7v-2.2M481.6 130.7v-2.2" stroke="#000" stroke-width="0.9"/>
<rect x="250.2" y="76.5" width="126.1" height="17.4" fill="#fff" stroke="#555" stroke-width="0.5"/>
<rect x="251.6" y="79.0" width="27" height="12.5" fill="#32629f" stroke="#222" stroke-width="0.7"/>
<text x="282" y="89.6" font-size="12.2" font-weight="bold">Grain Circularity</text>
<text x="524.3" y="80.2" font-size="12" font-weight="bold">1.0</text>
<text x="524.3" y="91.0" font-size="12" font-weight="bold">0.8</text>
<text x="524.3" y="102.0" font-size="12" font-weight="bold">0.6</text>
<text x="524.3" y="112.8" font-size="12" font-weight="bold">0.4</text>
<text x="524.3" y="123.9" font-size="12" font-weight="bold">0.2</text>
<text x="524.3" y="134.9" font-size="12" font-weight="bold">0.0</text>
<rect x="253.9" y="175.9" width="30.8" height="9.9" fill="#f2c511" stroke="#222" stroke-width="0.6"/>
<rect x="292.5" y="152.0" width="30.8" height="33.8" fill="#f2c511" stroke="#222" stroke-width="0.6"/>
<rect x="331.1" y="172.9" width="30.8" height="12.9" fill="#f2c511" stroke="#222" stroke-width="0.6"/>
<rect x="369.7" y="172.5" width="30.8" height="13.3" fill="#f2c511" stroke="#222" stroke-width="0.6"/>
<rect x="408.3" y="177.0" width="30.8" height="8.8" fill="#f2c511" stroke="#222" stroke-width="0.6"/>
<rect x="446.9" y="174.1" width="30.8" height="11.8" fill="#f2c511" stroke="#222" stroke-width="0.6"/>
<rect x="485.5" y="175.0" width="30.8" height="10.8" fill="#f2c511" stroke="#222" stroke-width="0.6"/>
<path d="M250.2 136.3h2.4M520.6 136.3h-2.4" stroke="#000" stroke-width="1"/>
<path d="M250.2 141.8h4.2M520.6 141.8h-4.2" stroke="#000" stroke-width="1"/>
<path d="M250.2 147.4h2.4M520.6 147.4h-2.4" stroke="#000" stroke-width="1"/>
<path d="M250.2 152.9h4.2M520.6 152.9h-4.2" stroke="#000" stroke-width="1"/>
<path d="M250.2 158.4h2.4M520.6 158.4h-2.4" stroke="#000" stroke-width="1"/>
<path d="M250.2 163.9h4.2M520.6 163.9h-4.2" stroke="#000" stroke-width="1"/>
<path d="M250.2 169.4h2.4M520.6 169.4h-2.4" stroke="#000" stroke-width="1"/>
<path d="M250.2 175.0h4.2M520.6 175.0h-4.2" stroke="#000" stroke-width="1"/>
<path d="M250.2 180.4h2.4M520.6 180.4h-2.4" stroke="#000" stroke-width="1"/>
<path d="M288.6 185.8v-2.2M327.2 185.8v-2.2M365.8 185.8v-2.2M404.4 185.8v-2.2M443.0 185.8v-2.2M481.6 185.8v-2.2" stroke="#000" stroke-width="0.9"/>
<rect x="250.2" y="131.6" width="130.1" height="17.4" fill="#fff" stroke="#555" stroke-width="0.5"/>
<rect x="251.6" y="134.1" width="27" height="12.5" fill="#f2c511" stroke="#222" stroke-width="0.7"/>
<text x="282" y="144.8" font-size="12.2" font-weight="bold">Bubble Size (mm<tspan dy="-4" font-size="8">2</tspan><tspan dy="4">)</tspan></text>
<text x="245.8" y="135.1" font-size="12" font-weight="bold" text-anchor="end">10</text>
<text x="245.8" y="146.1" font-size="12" font-weight="bold" text-anchor="end">8</text>
<text x="245.8" y="157.2" font-size="12" font-weight="bold" text-anchor="end">6</text>
<text x="245.8" y="168.2" font-size="12" font-weight="bold" text-anchor="end">4</text>
<text x="245.8" y="179.3" font-size="12" font-weight="bold" text-anchor="end">2</text>
<text x="245.8" y="190.1" font-size="12" font-weight="bold" text-anchor="end">0</text>
<rect x="253.9" y="205.2" width="30.8" height="35.8" fill="#3cc775" stroke="#222" stroke-width="0.6"/>
<rect x="292.5" y="211.3" width="30.8" height="29.7" fill="#3cc775" stroke="#222" stroke-width="0.6"/>
<rect x="331.1" y="208.7" width="30.8" height="32.3" fill="#3cc775" stroke="#222" stroke-width="0.6"/>
<rect x="369.7" y="207.6" width="30.8" height="33.4" fill="#3cc775" stroke="#222" stroke-width="0.6"/>
<rect x="408.3" y="204.4" width="30.8" height="36.6" fill="#3cc775" stroke="#222" stroke-width="0.6"/>
<rect x="446.9" y="205.8" width="30.8" height="35.2" fill="#3cc775" stroke="#222" stroke-width="0.6"/>
<rect x="485.5" y="202.3" width="30.8" height="38.7" fill="#3cc775" stroke="#222" stroke-width="0.6"/>
<path d="M250.2 186.6h4.2M520.6 186.6h-4.2" stroke="#000" stroke-width="1"/>
<path d="M250.2 193.0h2.4M520.6 193.0h-2.4" stroke="#000" stroke-width="1"/>
<path d="M250.2 199.4h4.2M520.6 199.4h-4.2" stroke="#000" stroke-width="1"/>
<path d="M250.2 206.2h2.4M520.6 206.2h-2.4" stroke="#000" stroke-width="1"/>
<path d="M250.2 213.1h4.2M520.6 213.1h-4.2" stroke="#000" stroke-width="1"/>
<path d="M250.2 219.9h2.4M520.6 219.9h-2.4" stroke="#000" stroke-width="1"/>
<path d="M250.2 226.8h4.2M520.6 226.8h-4.2" stroke="#000" stroke-width="1"/>
<path d="M250.2 233.7h2.4M520.6 233.7h-2.4" stroke="#000" stroke-width="1"/>
<path d="M250.2 240.5h4.2M520.6 240.5h-4.2" stroke="#000" stroke-width="1"/>
<path d="M288.6 241.0v-2.2M327.2 241.0v-2.2M365.8 241.0v-2.2M404.4 241.0v-2.2M443.0 241.0v-2.2M481.6 241.0v-2.2" stroke="#000" stroke-width="0.9"/>
<rect x="250.2" y="186.8" width="131.6" height="17.4" fill="#fff" stroke="#555" stroke-width="0.5"/>
<rect x="251.6" y="189.2" width="27" height="12.5" fill="#3cc775" stroke="#222" stroke-width="0.7"/>
<text x="282" y="199.9" font-size="12.2" font-weight="bold">Bubble Circularity</text>
<text x="524.3" y="190.9" font-size="12" font-weight="bold">1.2</text>
<text x="524.3" y="203.7" font-size="12" font-weight="bold">0.9</text>
<text x="524.3" y="217.4" font-size="12" font-weight="bold">0.6</text>
<text x="524.3" y="231.1" font-size="12" font-weight="bold">0.3</text>
<text x="524.3" y="244.8" font-size="12" font-weight="bold">0.0</text>
<rect x="253.9" y="285.6" width="30.8" height="10.5" fill="#a3a3a3" stroke="#222" stroke-width="0.6"/>
<rect x="292.5" y="261.4" width="30.8" height="34.8" fill="#a3a3a3" stroke="#222" stroke-width="0.6"/>
<rect x="331.1" y="274.2" width="30.8" height="21.9" fill="#a3a3a3" stroke="#222" stroke-width="0.6"/>
<rect x="369.7" y="274.0" width="30.8" height="22.1" fill="#a3a3a3" stroke="#222" stroke-width="0.6"/>
<rect x="408.3" y="281.5" width="30.8" height="14.6" fill="#a3a3a3" stroke="#222" stroke-width="0.6"/>
<rect x="446.9" y="279.5" width="30.8" height="16.6" fill="#a3a3a3" stroke="#222" stroke-width="0.6"/>
<rect x="485.5" y="289.1" width="30.8" height="7.0" fill="#a3a3a3" stroke="#222" stroke-width="0.6"/>
<path d="M250.2 251.5h4.2M520.6 251.5h-4.2" stroke="#000" stroke-width="1"/>
<path d="M250.2 258.9h2.4M520.6 258.9h-2.4" stroke="#000" stroke-width="1"/>
<path d="M250.2 266.4h4.2M520.6 266.4h-4.2" stroke="#000" stroke-width="1"/>
<path d="M250.2 273.9h2.4M520.6 273.9h-2.4" stroke="#000" stroke-width="1"/>
<path d="M250.2 281.5h4.2M520.6 281.5h-4.2" stroke="#000" stroke-width="1"/>
<path d="M250.2 288.9h2.4M520.6 288.9h-2.4" stroke="#000" stroke-width="1"/>
<path d="M250.2 244.1h2.4M520.6 244.1h-2.4" stroke="#000" stroke-width="1"/>
<path d="M288.6 296.1v-2.2M327.2 296.1v-2.2M365.8 296.1v-2.2M404.4 296.1v-2.2M443.0 296.1v-2.2M481.6 296.1v-2.2" stroke="#000" stroke-width="0.9"/>
<rect x="250.2" y="241.9" width="99.6" height="17.4" fill="#fff" stroke="#555" stroke-width="0.5"/>
<rect x="251.6" y="244.4" width="27" height="12.5" fill="#a3a3a3" stroke="#222" stroke-width="0.7"/>
<text x="282" y="255.1" font-size="12.2" font-weight="bold">Porosity (%)</text>
<text x="245.8" y="255.8" font-size="12" font-weight="bold" text-anchor="end">9</text>
<text x="245.8" y="270.7" font-size="12" font-weight="bold" text-anchor="end">6</text>
<text x="245.8" y="285.8" font-size="12" font-weight="bold" text-anchor="end">3</text>
<text x="245.8" y="300.6" font-size="12" font-weight="bold" text-anchor="end">0</text>
<rect x="253.9" y="321.9" width="30.8" height="29.4" fill="#f8626a" stroke="#222" stroke-width="0.6"/>
<rect x="292.5" y="315.8" width="30.8" height="35.5" fill="#f8626a" stroke="#222" stroke-width="0.6"/>
<rect x="331.1" y="316.7" width="30.8" height="34.6" fill="#f8626a" stroke="#222" stroke-width="0.6"/>
<rect x="369.7" y="318.1" width="30.8" height="33.2" fill="#f8626a" stroke="#222" stroke-width="0.6"/>
<rect x="408.3" y="322.5" width="30.8" height="28.8" fill="#f8626a" stroke="#222" stroke-width="0.6"/>
<rect x="446.9" y="321.6" width="30.8" height="29.7" fill="#f8626a" stroke="#222" stroke-width="0.6"/>
<rect x="485.5" y="325.7" width="30.8" height="25.6" fill="#f8626a" stroke="#222" stroke-width="0.6"/>
<path d="M250.2 305.5h2.4M520.6 305.5h-2.4" stroke="#000" stroke-width="1"/>
<path d="M250.2 314.7h4.2M520.6 314.7h-4.2" stroke="#000" stroke-width="1"/>
<path d="M250.2 323.7h2.4M520.6 323.7h-2.4" stroke="#000" stroke-width="1"/>
<path d="M250.2 332.7h4.2M520.6 332.7h-4.2" stroke="#000" stroke-width="1"/>
<path d="M250.2 341.9h2.4M520.6 341.9h-2.4" stroke="#000" stroke-width="1"/>
<path d="M288.6 351.3v-2.2M327.2 351.3v-2.2M365.8 351.3v-2.2M404.4 351.3v-2.2M443.0 351.3v-2.2M481.6 351.3v-2.2" stroke="#000" stroke-width="0.9"/>
<rect x="250.2" y="297.0" width="132.6" height="17.4" fill="#fff" stroke="#555" stroke-width="0.5"/>
<rect x="251.6" y="299.5" width="27" height="12.5" fill="#f8626a" stroke="#222" stroke-width="0.7"/>
<text x="282" y="310.2" font-size="12.2" font-weight="bold">Bubble Axial Ratio</text>
<text x="524.3" y="300.6" font-size="12" font-weight="bold">3</text>
<text x="524.3" y="319.0" font-size="12" font-weight="bold">2</text>
<text x="524.3" y="337.0" font-size="12" font-weight="bold">1</text>
<text x="524.3" y="355.3" font-size="12" font-weight="bold">0</text>
<rect x="253.9" y="372.6" width="30.8" height="33.8" fill="#cd6403" stroke="#222" stroke-width="0.6"/>
<rect x="292.5" y="378.7" width="30.8" height="27.8" fill="#cd6403" stroke="#222" stroke-width="0.6"/>
<rect x="331.1" y="376.9" width="30.8" height="29.6" fill="#cd6403" stroke="#222" stroke-width="0.6"/>
<rect x="369.7" y="375.5" width="30.8" height="30.9" fill="#cd6403" stroke="#222" stroke-width="0.6"/>
<rect x="408.3" y="374.9" width="30.8" height="31.6" fill="#cd6403" stroke="#222" stroke-width="0.6"/>
<rect x="446.9" y="374.3" width="30.8" height="32.1" fill="#cd6403" stroke="#222" stroke-width="0.6"/>
<rect x="485.5" y="372.9" width="30.8" height="33.6" fill="#cd6403" stroke="#222" stroke-width="0.6"/>
<path d="M250.2 353.1h4.2M520.6 353.1h-4.2" stroke="#000" stroke-width="1"/>
<path d="M250.2 360.0h2.4M520.6 360.0h-2.4" stroke="#000" stroke-width="1"/>
<path d="M250.2 366.8h4.2M520.6 366.8h-4.2" stroke="#000" stroke-width="1"/>
<path d="M250.2 373.5h2.4M520.6 373.5h-2.4" stroke="#000" stroke-width="1"/>
<path d="M250.2 380.1h4.2M520.6 380.1h-4.2" stroke="#000" stroke-width="1"/>
<path d="M250.2 386.8h2.4M520.6 386.8h-2.4" stroke="#000" stroke-width="1"/>
<path d="M250.2 393.5h4.2M520.6 393.5h-4.2" stroke="#000" stroke-width="1"/>
<path d="M250.2 400.1h2.4M520.6 400.1h-2.4" stroke="#000" stroke-width="1"/>
<path d="M288.6 406.4v-2.2M327.2 406.4v-2.2M365.8 406.4v-2.2M404.4 406.4v-2.2M443.0 406.4v-2.2M481.6 406.4v-2.2" stroke="#000" stroke-width="0.9"/>
<rect x="250.2" y="352.2" width="81.1" height="17.4" fill="#fff" stroke="#555" stroke-width="0.5"/>
<rect x="251.6" y="354.7" width="27" height="12.5" fill="#cd6403" stroke="#222" stroke-width="0.7"/>
<text x="282" y="365.4" font-size="12.2" font-weight="bold">δ<tspan dy="-4" font-size="8">18</tspan><tspan dy="4">O (‰)</tspan></text>
<text x="245.8" y="357.4" font-size="12" font-weight="bold" text-anchor="end">−32</text>
<text x="245.8" y="371.1" font-size="12" font-weight="bold" text-anchor="end">−24</text>
<text x="245.8" y="384.4" font-size="12" font-weight="bold" text-anchor="end">−16</text>
<text x="245.8" y="397.8" font-size="12" font-weight="bold" text-anchor="end">−8</text>
<text x="245.8" y="410.9" font-size="12" font-weight="bold" text-anchor="end">0</text>
<rect x="253.9" y="425.8" width="30.8" height="35.8" fill="#6a5dc8" stroke="#222" stroke-width="0.6"/>
<rect x="292.5" y="445.3" width="30.8" height="16.3" fill="#6a5dc8" stroke="#222" stroke-width="0.6"/>
<rect x="331.1" y="443.3" width="30.8" height="18.3" fill="#6a5dc8" stroke="#222" stroke-width="0.6"/>
<rect x="369.7" y="448.0" width="30.8" height="13.6" fill="#6a5dc8" stroke="#222" stroke-width="0.6"/>
<rect x="408.3" y="444.7" width="30.8" height="16.9" fill="#6a5dc8" stroke="#222" stroke-width="0.6"/>
<rect x="446.9" y="429.6" width="30.8" height="32.0" fill="#6a5dc8" stroke="#222" stroke-width="0.6"/>
<rect x="485.5" y="431.3" width="30.8" height="30.3" fill="#6a5dc8" stroke="#222" stroke-width="0.6"/>
<path d="M250.2 416.2h4.2M520.6 416.2h-4.2" stroke="#000" stroke-width="1"/>
<path d="M250.2 423.9h2.4M520.6 423.9h-2.4" stroke="#000" stroke-width="1"/>
<path d="M250.2 431.6h4.2M520.6 431.6h-4.2" stroke="#000" stroke-width="1"/>
<path d="M250.2 439.2h2.4M520.6 439.2h-2.4" stroke="#000" stroke-width="1"/>
<path d="M250.2 446.8h4.2M520.6 446.8h-4.2" stroke="#000" stroke-width="1"/>
<path d="M250.2 454.2h2.4M520.6 454.2h-2.4" stroke="#000" stroke-width="1"/>
<path d="M250.2 408.5h2.4M520.6 408.5h-2.4" stroke="#000" stroke-width="1"/>
<path d="M288.6 461.6v-2.2M327.2 461.6v-2.2M365.8 461.6v-2.2M404.4 461.6v-2.2M443.0 461.6v-2.2M481.6 461.6v-2.2" stroke="#000" stroke-width="0.9"/>
<rect x="250.2" y="407.3" width="99.1" height="17.4" fill="#fff" stroke="#555" stroke-width="0.5"/>
<rect x="251.6" y="409.8" width="27" height="12.5" fill="#6a5dc8" stroke="#222" stroke-width="0.7"/>
<text x="282" y="420.6" font-size="12.2" font-weight="bold">d-excess (‰)</text>
<text x="524.3" y="420.5" font-size="12" font-weight="bold">9</text>
<text x="524.3" y="435.9" font-size="12" font-weight="bold">6</text>
<text x="524.3" y="451.1" font-size="12" font-weight="bold">3</text>
<text x="524.3" y="465.9" font-size="12" font-weight="bold">0</text>
<path d="M249.7 20.4H521.1M249.7 75.5H521.1M249.7 130.7H521.1M249.7 185.8H521.1M249.7 241.0H521.1M249.7 296.1H521.1M249.7 351.3H521.1M249.7 406.4H521.1M249.7 461.6H521.1M250.2 20.4V461.6M520.6 20.4V461.6" stroke="#000" stroke-width="1" fill="none"/>
<text x="269.3" y="15" font-size="9.6" text-anchor="middle" fill="#222">1</text>
<text x="269.3" y="470.6" font-size="9.6" text-anchor="middle" fill="#222">1</text>
<text x="307.9" y="15" font-size="9.6" text-anchor="middle" fill="#222">2</text>
<text x="307.9" y="470.6" font-size="9.6" text-anchor="middle" fill="#222">2</text>
<text x="346.5" y="15" font-size="9.6" text-anchor="middle" fill="#222">3</text>
<text x="346.5" y="470.6" font-size="9.6" text-anchor="middle" fill="#222">3</text>
<text x="385.1" y="15" font-size="9.6" text-anchor="middle" fill="#222">4</text>
<text x="385.1" y="470.6" font-size="9.6" text-anchor="middle" fill="#222">4</text>
<text x="423.7" y="15" font-size="9.6" text-anchor="middle" fill="#222">5</text>
<text x="423.7" y="470.6" font-size="9.6" text-anchor="middle" fill="#222">5</text>
<text x="462.3" y="15" font-size="9.6" text-anchor="middle" fill="#222">6</text>
<text x="462.3" y="470.6" font-size="9.6" text-anchor="middle" fill="#222">6</text>
<text x="500.9" y="15" font-size="9.6" text-anchor="middle" fill="#222">7</text>
<text x="500.9" y="470.6" font-size="9.6" text-anchor="middle" fill="#222">7</text>
<text x="385" y="484" font-size="13.4" font-weight="bold" text-anchor="middle">Number of IC Cores</text>
<text x="523.5" y="23" font-size="19.8" font-weight="bold">(d)</text></g>
</svg>
</body></html>
